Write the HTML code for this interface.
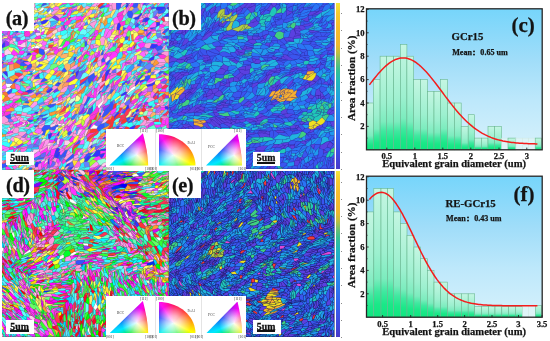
<!DOCTYPE html><html><head><meta charset="utf-8"><style>
html,body{margin:0;padding:0;background:#fff}
body{width:550px;height:341px;position:relative;overflow:hidden}
.lab{position:absolute;background:#fff;font-family:"Liberation Serif",serif;font-weight:bold;color:#111;line-height:1;-webkit-text-stroke:0.3px #111}
</style></head><body>
<svg style="position:absolute;left:2px;top:3px;filter:blur(0.35px)" width="167" height="167" viewBox="0 0 334 334" preserveAspectRatio="none">
<rect width="334" height="334" fill="#707070"/>
<g stroke-width="0.6" stroke-linejoin="round">
<path fill="#6680ff" stroke="#6680ff" d="M189 282l-1-1-6 2-2 6 6-2 3-3zM97 295l-1 0-6 11 6-3zM272 33l-5 1-2 7 5-3zM123 308l-6 7 0 2 2 1 5-8zM155 128l-4 0-5 4-1 2 1 1 8-4zM333 0l-8 5 0 2 2 3 2 0 3-3zM10 124l-2-1-5 0-3 7 7-2zM161 311l-6-1-3 6 4-1zM85 199l-3-1-11 5 4 2 8-3zM124 182l-4 2 0 4 4-4zM294 17l-1 0-1 4 3-2zM85 329l-2 0-4 4 6 0zM157 301l0 2 4 0 1-1 0-2-4 0zM196 146l-5 10 6-6zM322 67l-4-1-4 3 2 1 5 0zM64 283l-1-1-7 1-4 2-2 3 0 2 10 0 2-2zM153 132l-6 3-2 4 2 0 6-5zM67 60l-3-2-3 1-7 8 1 1 4-3 7-3zM317 60l-8 1-1 3 4 6 7-6zM96 9l-2 1-5 6 3 3 7-8zM275 223l-3-2-2 3zM325 71l-2-1-4 1 1 1zM304 3l-2 0-3 2-2 3 2 1 4-2zM271 9l-6 1-5 5 0 2 3 5 11-8zM272 150l-1-1-3 4 3 0zM308 56l1 2 8-2 0-1-8 0zM156 248l-1 1-6 0-2 3 0 2 2 2 4-2zM248 247l-3 0-5 4 3 2zM151 15l-2-2-8 2-3 7 5-5 5-2zM263 222l-3 3 1 0zM108 188l-5 3-2 8 2-1 4-5 2-4zM79 177l-6 0-6 3 0 1 5-2 4 0zM284 128l-1 0-6 7 6 0 3-3zM7 155l1 5 2 1 12 0 1-1-1-2-6-5-2-4zM274 64l1 2 3 1 7-1-4-2zM262 276l9 1 2-3-2-1-5 0zM248 281l-1-1-8 0-2 3-6 5 16-1 1-1zM207 134l-5 2-3 0-3 3 1 3 4-2 5-4zM82 210l-5 3 1 5zM170 317l-1 1-5 0 0 3 3 8 1-1 7-1-1-7zM38 187l-1 3 4 5 4 0 3-4-1-1zM73 232l-5 5-3 1 0 2 5-1 3-4zM290 91l-6-3-6 3 0 3 1 2 2 0 4-2 4 0zM75 272l-5 4-1 3-3 3 6 2 1-1zM323 80l-3 1-2 4 3 2 6-3 0-1zM71 263l-1 1-3 0-6 4 7-2zM301 139l-2 0-2 5 5-1zM218 173l-1 0-3 4-4 8 0 3 6-7 0-4zM303 125l-5-3-5 0-7 4-1 3 5 4 4 0 6-5 3-1zM219 321l-3 3 4 0zM247 294l7 2 5 3 6 0 3-2-5-5-15 1zM13 232l0 5 1 1 8-1 0-2-4-3zM74 233l6-3 0-2-5 0zM311 15l-2-1-6 4-1 11 2-1 8-10zM263 2l4-2-4 0zM63 312l-3 1-2 3 2 0zM236 275l-4 2 0 3 2 4 1 0 3-4 0-2zM325 96l-6-3-7 3 0 3 6 1 5-3 2 0zM79 139l3 0 0-1zM234 295l1 6 6 2 3-1 1-2-1-6zM297 118l-5 2 1 1 4 0z"/>
<path fill="#ffe666" stroke="#ffe666" d="M258 101l-4 7-6 7 4-2zM243 68l-2-2-7 6 9-3zM145 232l-5 3 2 3 4-5zM67 73l-3-2-3 1-2 2-1 4 7 0 2-2zM159 233l-4 0-1-1-1 3-4 4-5 3 4 3 8-3 3-4zM222 97l-6 0-8 3 2 1 2-2zM255 84l-3 3-9 4-1 3 4-2 4 0 4-4 0-3zM106 62l-3 1-5 5 0 3 2 0 3-2 3-4zM266 185l-5 5-2 6 8-5-1-1zM211 82l-1 0-3 4-1 4 5-3 1-2zM134 196l-5 3-3 7 2 0zM114 42l-3-2-2 3 0 2 5-2zM115 12l6 1 10-4-9-1-7 3zM121 254l-1 0-2 6-4 5 4-1 5-5 1-2zM302 2l3 0 2-2-4 0zM125 329l-3-3-4 5 0 2 6-1zM184 28l-2 1-5 0 0 1 3 0zM146 140l-2 1-1 3 2 0 0-3zM120 65l-3 0-1-1-5 2 4 6 2-1zM104 97l-6 2 0 1 5 0zM129 220l-3-1-2 2-10 4-5 5 2 1 4-4 8-2zM102 3l-10 3 1 1 4 0zM77 117l3 0 10 4 3-1 0-3-4-3-4 0zM24 299l-1-1-4 2-3 0-2 6 2 1 3-2zM77 220l-7 2 4 3 3-2zM190 137l-5 1 0 5 1 2 2 0 2-2zM208 71l-2 4-2 10 3 0 3-4 0-4zM136 25l-2 1-2 3 5-1zM218 182l-2 0-6 7 2 4 5-2zM228 13l-7 2-4 8 0 6 2 0zM195 36l-2 2-1 5 4-3 0-3zM189 120l-5 7 2 5 6-5zM159 4l-7 2-2 4 0 3 1 1 4-3 2-5zM75 207l0 4 1 1 5-3-2-2zM114 115l-5 5 3 5 4-7z"/>
<path fill="#66ffff" stroke="#66ffff" d="M205 51l-4 3-2 4 0 2-2 3 1 1 0 3 5-1 2-10 1-1 0-3zM300 13l-3 2-1 3 1 3 3-2zM88 103l-1 0-1 5-3 4 2 1 3 0 2-2 0-6zM259 232l-2-1-5 6zM48 247l-4 0-1 1-4 0-6 2 1 1 10 0 3-2zM311 181l-2 1 0 3 1 0zM24 134l-9 2-4 2 1 11 13-6 1-6zM268 150l-4 3 2 0zM104 235l-7 1-11 6 0 2 10 0zM6 203l-3-3-3 1 0 5 4 0zM302 61l-3 0-5 10 4-3zM56 251l5 7 4-1 1-5-7-3zM102 76l-9 1-3 2 0 3 13-4zM143 52l-4 0-9 3 1 1 2-1 6 0 3-1zM2 253l5 2 3 3 3-1-1-1 0-3-2-2-3 0zM270 82l-2 10 3 0 5-2zM98 184l-2-1-2 3 4 0zM197 128l-1-1-7 3-3 4 0 3 5-1zM44 230l-1 4 5 0 1 1 2-1-4-5zM0 27l5-1-4 0zM38 226l1 3 6 0 3-2-2-1zM0 44l7-1-7 0zM260 30l-3 7 7 5 2-9zM67 190l-6 1-2 2 0 3 4 0zM23 78l6 7 2-1 0-6-1-1-5 0zM13 1l4 5 2 0 2-2zM6 155l-6 1 0 2zM116 58l-4 0-5 4 0 4 8-2 1-1zM311 133l5 0 3-2-5-1-3 2zM257 258l-6 1-7 7 6 0 7-3zM80 268l-3-2-5 4 1 1 3 0zM94 180l-2 0-8 6 7-2zM34 302l-3-3-2 0-1 5-8 6 3 1 9-4 2-3zM103 178l-5 5 1 2 1 0 4-5zM244 222l-5-2-3 5zM313 311l1 2 6 0 0-3-5 0zM187 296l-10 9 2 1 2-1zM105 0l-1 0-1 2zM168 54l-6-2-3 2-3 4 0 2-2 3 9 0 3 1 4-5zM282 128l-4-1-6 4-3 3 2 4 3-1zM330 73l0 4 3 2 0-6zM265 173l-7 4-7 6 1 1 4-1 9-8zM246 307l-3-3-4-1-4 5-5 2-3 0 17 0zM161 118l-3 1-1 5-2 3 1 1zM173 143l-6-4-5 2-5 10 0 3 7-3 5-4 2 0zM277 323l-4 4-3 1 0 4 5-3zM220 52l-3-3-6 2 2 0 3 2zM208 287l-3-1-3 3-8 4 1 1 3-2 6-1zM49 312l-2-2-2 0-4 2 2 4 1 0zM33 291l-5 3-3 4 4 0zM237 230l-3 0-5 2-5 5 2 2 7-2 2-5zM133 97l-2-2-5 0-2 1-3 6 4-2 7 0zM292 271l0 1 6 3zM94 221l-4 3-6 3-2 0-1 3 8-1 6-3zM257 63l-1 3 0 9 3 0-1-11zM93 34l0 1 2 1 14-1-9-5zM35 237l-1-2-2 0-3 2-5 1-2 4 12-3zM25 211l0 4 2 0 3 2 9 0 1-1 0-7-1-1-9 0zM84 13l1 2 2 1 5-5-7-1zM282 46l-3 1-4 5 2 0zM78 64l9 5 2-3-1-3zM131 61l-1-1-4 4-4 1-3 3-1 3 8 1 3-2 2-4zM297 319l17 2-1-2-5 0-1-1zM281 280l1-1 7-1-2-2-4-1zM178 92l-1-1-5 4 0 1 2 0zM33 258l3-1 12 0-7-5-6 0zM266 176l-5 3-5 5-1 2 1 3 4-7zM318 34l-2 4 0 4 3 0 3-4 0-1zM0 242l0 2 3 1 13 0 0-1-9 0zM278 246l-4 2-4 5 7-2zM286 4l-5 2 0 3-1 1 0 3 1 1 3 0 4-6 0-2zM94 330l-7 3 6 0zM0 296l0 4 6-2 0-1zM212 70l-1 1 1 5 3 1 1-4-2-3zM323 75l-1 1 0 3 3 1 2-2-2-3zM152 227l-3 4 0 5-1 2 1 0 4-5zM0 153l0 2 7-1zM66 172l-4 1-1 2 1-1 3 0zM268 309l4 3 2 0 5-3-3-1zM271 148l-2 1 0 1zM217 73l-1 5 2 1 2-1 1-3zM158 103l-8 4 0 2zM143 286l-10 8 1 0 4 5 2 0 0-9zM247 125l-2 1-5 9 6-2 0-2 2-3zM143 142l-6 1 0 2-3 6 7-5zM89 266l-7 5 5 0zM14 195l-10 3 0 1 8 0zM247 184l-8 2-5 10 5-2 6-6zM148 60l-5 11 5-1 4-6 0-1zM0 36l0 6 8 0 1-3zM264 123l6 1 1-2zM157 76l-5 2-3 0 0 1 3 2 3-2zM286 246l-1 1 0 3 3-1zM24 106l-5-3-9 1-2 3 0 5-1 1 1 1 9-1 3-2zM14 124l-2 0-3 3-1 9 2 1 4-1zM239 272l10 2 0-1-3-1zM192 38l-4 3-3 7 0 3 1 0 4-5 2-5zM115 151l-7 1-2 2 0 3 7-3zM39 133l-4-3-7 1-4 2 2 3 10-1zM43 204l-5-1-7 4 9 0zM295 45l-3-3-7 5 1 1 7 0 2-1zM329 86l-3 4 2 2 4 1-3-5zM188 15l-1 0 0 2-2 3 1 2 3-4zM0 306l0 3 1-1zM154 50l-7 0-2 1-2 3 3 3 5-3zM330 250l-3 0-3 2-2 3 0 2 3 2 3-1 3-3 0-4zM297 285l-2 2 0 3 1 1 4-2zM314 45l-5 3-2 4 1 3 5-3 2-4zM60 211l-4-3-8 1-5 2-2 2 0 3-1 1 4 2 5 0 1 1 3-3 5-2zM170 272l-5 1 0 7-1 2 3-4 2-1zM278 207l-2 0-5 5 3 0zM283 189l-7 4 0 3 3 0zM268 204l-6 2-6 5 4 2zM84 171l-6-1-5 4 1 2 7 0zM149 246l-2-1-3 3-4 8 0 2 2 0 3-3 2-5 2-2zM25 32l-3 0-5 7 3 2 6-1zM34 52l-1 1 0 6 4 0 1 1 0-7-3 0zM47 296l-5 2 2 2 2 5 5-3 0-3zM333 14l-4-3-1 3-5 6 9 0zM302 19l-5 3-3 6 0 2 3 1 4-2zM308 65l-2 0-6 5-3 1 0 1 4 2 4 0 6-3zM52 2l-6 4-2 3 5-3zM254 76l-3-2-5 1-4 5 1 3 5-2zM79 234l-6 2-3 4 5-1zM72 19l-3 1-11 9 12-2 3-4zM196 257l-2 0-1 3-4 4-4 2-2 4 8 0 2-1 4-5zM21 16l-5-3-5 7 4 0zM64 40l-2 0-8 7 3-1zM175 278l-3-2-4 2-3 4 0 2-4 7 3 1 6-1 5-11zM197 272l-6 2-2 5 1 3zM67 272l-1 1-8 1 1 7 3 0zM1 48l-1 0 0 1zM309 264l5 0-1-2-3 0zM291 277l4 0 1 1 1 0-1 0-1-1zM77 65l2 6 5 0 2-1zM46 67l-2-1-7 4 0 4 6 0 3-2zM283 15l-4-1-1 1 0 5 2 0 3-3zM64 80l0 2 3 2 1-3zM11 273l-4-2-7 5 0 2 1-1 9 0 1 1zM324 148l-15 4-1 2 9 0 5-3zM48 325l-9 1-4 3-1 2 3 0zM27 21l-6-1-3 5 0 4 2 1 4-4zM48 229l2 2 2 0 6-3-10 0zM1 158l-1 1 1 0 1-1zM67 6l10-6-9 0-2 2zM257 313l9 6 4 0-6-7-6 0zM184 171l-4 6-1 5 4-4zM331 56l2 1 0-2zM169 204l-4 2 0 4 1 1-1 3 2-3zM69 223l3 3 1-1zM245 26l-1 0-3 8-3 3 6-1 4-3-3-5zM14 21l-5 2 0 1zM317 57l-8 2 0 1 8-1z"/>
<path fill="#ffb266" stroke="#ffb266" d="M41 165l5 5 1 0 2-3-1-1zM125 139l-3 0-6 6 2 0zM125 95l-5-1-8 5-3 5 4 2 4 0 6-10zM236 79l-5 3 0 5-1 2 7-8zM198 40l-6 4-6 8 2 2 3 0 1 1 2-1zM166 173l-7 7 2-1zM67 120l-7 2 0 5 8 1zM306 114l-6 1-2 2 0 4 3 1 3-3zM77 167l-10 6 0 1 4 0 6-4zM8 128l-6 3-2 0 0 5 1 1 6-1zM119 14l-4-1-11 10 15-5zM236 202l-5-2-2 3 0 3 2-2 5-1zM307 220l-5-2-5 6 0 4 3 0 7-5zM264 10l-4-3-4 3-2 5 5 0zM125 159l-4 0-6 5-4 6 3 5 2 0 3-2 2-5 0-3zM57 132l7 1 4-4-8-1zM132 101l-10 1-6 5 2 3 8 0 5-3zM226 173l-4 3-3 5-1 10-1 1 1 0 8-12zM40 202l4 2 7 0 1-3-8-1zM126 178l-1 1-8 0-7 6-1 3 3 1 4-4 8-4zM280 289l-2-3-2 1-7 0-1 1 5 2 6 0zM159 201l-12 2-3 3 2 3 6 0zM290 277l0-4-1 1-4 0 0 1 2 0zM217 22l-8 4-2 0-1 2 4 3 6-2 0-6zM217 304l-3-2-9 8 3 1zM3 121l0 1 5 0 1 1-2-2zM52 137l-1 1-8 0-2 3 1 3 3 2 5-4zM124 205l-5 3 0 7 5-7zM333 106l-4 1-4 4 0 2 4 6 4 0zM276 1l-3 1-2 6 4 6 3 0 1-3-3-4zM312 171l-4-1-5 3-2 3 3 3 3 1 6-7zM157 87l-4 1-5 3-2 3-1 5 1-1 4 0 1-3zM277 127l-8 0-4 2-6 7 1 1 6-3 2 0 4-4zM178 32l-2 1 1 4 3-3 0-1zM284 143l-5 7 7-4zM305 127l-6 3-1 8 2 0 4-4 2-5zM33 284l-4-3-6 5 8 0 2-1zM328 259l1 1 0 5 1 2 3 1 0-8-1-1zM6 156l-6 4 0 7 7-6zM230 54l-1 1 1 2 0 7 3 0 0-9zM145 101l4 1 1-3-4 0zM312 192l1 1 0 6 2 1 3-4zM260 325l9 3 4-2 3-4-2-2-7 0-5 5zM171 246l-6 6 4-2zM51 31l0 3 1 1-1 4 7-1 4-3 0-1-9-4zM87 180l-1 1-6 0 7 0 1-1 2 0zM275 137l2 2 4-3-5 0zM149 41l-1 0-5 6 1 3 2-1 0-2zM0 176l6-3-6-1zM133 121l-3 0-4 2-1 2 0 4 5 7 3-1 3-3 0-9zM306 310l-2-1-5 3 5 2 2-1zM136 143l-6 1-6 7-3 7 6 0 6-7 3-6zM158 180l-8 4 3 1 4 4 2-7z"/>
<path fill="#66e5ff" stroke="#66e5ff" d="M333 173l-5 4 0 1 5-1zM251 266l0 2 2 3 7 3 0-4 1-1 0-4-1-1-4 0zM208 254l-8-2-4 4 2 6 5-3zM162 19l-9 1-4 4 0 2 2 1 7-2zM161 222l-7 2-1 4 1 1 7-5zM169 51l3-1 10 0-8-7-4 5zM144 40l-2 1-4 6 2-1zM29 217l-2-1-7 1-3 5 2 1 9-3zM220 16l-6 1-5 3-2 0-2 2-1 4 5-1 8-4zM11 115l-3 0-1-1-2 1-2 3 6-1zM247 173l-10 11 10-7zM263 229l-3-1-3 1 0 1 4 1 2-1zM51 100l-5-1-4 4 2 4 3 0 2-2zM236 323l-1-1-3 5-4 3 5-2 3-3zM100 233l-1 2 2 0zM278 324l-3 6 2 0 3-2zM304 113l4 0 3-2 5-1-4-4-6 0zM242 167l-3 7-5 5 3 4 5-5 1-3 0-6zM117 247l-1 1-1 0-2 2 1 0 1-1 1 0 2-2zM158 89l-1 0-5 6-1 4 3 0 2-2 0-4zM30 22l-2 0-7 8 1 1 5 0 2-1 2-3zM216 332l11-1-6-1zM67 63l-2 0-9 5 1 3 3 1 5-2 4-3zM97 72l-3 1-3 4 5-1 0-3zM65 9l-2 1-6 0-3 9 7-4zM86 17l-2-3 0 1-6 5 6-1zM333 166l-4 4-1 6 5-4zM187 74l-7 1-3 8 9-2zM6 46l10 2-4-5-3 0zM325 2l2-2-3 0zM254 42l-5 2-4 0-2 2 0 2 6 2 4-5zM292 295l-4 0-4 2-3 0 0 1 8 0 3-1zM333 323l-4 0-6 2-3 5 0 2 5-1 8-5zM196 182l-2 0-5 6 0 7 3-1 5-5 0-6zM248 116l-2-2-7 1-3 3-2 5 3 0zM118 203l-5 2-1 3 6 1zM169 86l-4 3-4 8 6-3 1-2 0-5zM89 83l-2 2 0 3 5 1 1-6zM320 23l-8 7 0 2 1-1 5 0 3-3zM178 170l-6 3-5 9zM180 4l5-4-5 0zM307 226l0 6 3 0 6-3-2-5-6 0zM270 238l-3-1-3 1-2 2 1 5 1 0zM109 66l-1 1 0 3 5 1-2-4zM48 89l-5 1-6 5 6 0zM137 61l-5 4-2 5 6-5zM195 34l-1-1-4 1 0 4 3-1zM251 315l2 2 12 2-9-6zM214 166l-8 11 1 0 7-9zM122 149l-7 4-3 4 8-4 2-2zM0 246l0 7 8-3zM222 252l-2 0-5 3 2 0zM213 9l2 2 1 0-2-2zM274 0l-1 0 0 1zM322 224l-2-1-4 1 1 5 2-3zM124 276l-2 2-2 5-5 5-3 1 1 1 3 0 7-5 1-2zM51 6l3 1 5-4-6-1-2 2zM233 14l-2-1-3 1-3 7-5 7 1 3 2 0 6-4 1-4 3-5zM244 190l-3 3-4 9 6-3 1-2zM165 73l-3-1-3 1-2 4 2 6 3-3zM19 116l-2-2-5 1-1 2 3 1zM21 287l4 3 2 0 2-2 0-1zM278 233l-2 2 1 6 1 0 4-5 0-1zM73 241l-3 0-1-1-1 1-3 0-2 4 9-1zM280 316l7-1 5-2-10-3zM94 3l-4 0-10 4 0 1 4 1 6-2 3-2zM284 48l-1-1-6 6 6 1 1-1zM289 299l6 3 3 0-4-4-4 0zM264 103l-3-2-2 0-6 12-4 3 9-5 7-6zM175 67l-9 5 6-1zM142 115l-2 2-6 3-2 0 3 2 2 0 5-4zM249 3l-1-1-9 7 3 1 3-2zM34 332l-2-3-7 4 8 0zM242 166l1 1 7-3-6-1zM161 304l-4 0-1-1-4 6 4 0zM166 160l-8 5 1 3-1 6 7-9zM270 98l-4 0-4 3 1 1 3 0zM262 265l0 2 4 3 2-2zM303 212l-2 5 5 1 2-6zM274 191l-6 12 7-6 0-5zM111 39l-15 10 8-3 4-3zM1 139l-1 4 3 5 5 5 3-3 0-2zM232 271l-6 0-4 5 5-1zM330 225l0 1 3 2 0-4zM201 40l-2 0-4 13 9-3 1-4zM248 166l-5 2 1 1 0 6-1 2 4-5zM146 197l-5 5-3 7 3-1 6-6zM7 270l8 3 6-6-9-1-1 1-3 0zM172 83l-2 1-2 10 2 0 4-6 0-3zM71 28l2 1 9-5-9 0zM276 163l-8 6-3 7 9-5 2-4zM297 303l-6-1-8 7 0 1 7 1zM309 254l4 6 3-2-3-4zM244 333l6 0 1-1 9-1 0-5-12-3-2 3zM44 62l-5-1-6 3-2 2 0 2 6 1 7-4zM20 8l-3-1-2 1-3 4 4 0zM169 0l-4 0-5 3 0 2 3 4 2 0 4-3zM333 130l-3-1-4 3-9 3 0 1 6 0 1 1 1-1 3 0 5-3zM308 12l-1-1-5 1-1 1 0 5 7-4zM285 246l-1-1-5 1 0 3-1 1 6-2zM115 133l-2-2-3 4 4 0zM168 53l2 3 0 2 2 1 9-8-9 0zM31 260l-1 1-5 0-7 4-2 0 8 2 3-2 6-1zM291 284l2 1 3 0 1-1-3-3-2 0zM319 65l2 1 6 0-1-2-6 0zM106 153l-3 0-1 1-1 6 4-3 0-3zM291 251l1 4 9 0-8-5zM294 109l-2 1-10 0-3 2 2 1 12 1zM141 95l-4 2 2 0zM5 47l2 3 6 3 3 0 1-1-1-3-7-2z"/>
<path fill="#ffee99" stroke="#ffee99" d="M228 65l-2-2-4 0-3 1-3 3 2 1 7 0zM194 88l-4 3-3 7 3 0 1 1 2-4 0-6zM264 145l-3 0-3 3-4 7 2-3zM199 93l-3 6 1 1 0 4 2-6 2-2zM191 6l-4 1-3 3-1 3 4-2zM257 300l-5 1-5 6 4-3 4-1zM95 94l-2 0-7 5 0 3zM270 197l-6 5 0 2 4-2 0-2zM184 128l-2 0-3 8-4 5 7-6 2-3z"/>
<path fill="#ff99dd" stroke="#ff99dd" d="M320 42l6 2 7-7-8 0-2 1zM179 75l-4 0-3 5 0 2 3 3zM325 54l-7 1 0 5 2 0zM0 195l0 5 2 0 1-2-1-2zM245 201l-2-1-5 2-3 6 1 1 5 0 5-4zM203 104l-6 1-4 4-2 7 8-3 4-6zM329 129l-1-1-3 0-9 6 5-1zM142 259l-2 0-7 9 6-2 3-3zM44 146l-3-2-7 4-2 4 8-1 2-1zM132 166l-7 2-8 7 0 3 8 0 4-3zM106 309l-4 4-1 3 1 0 0-2 5-4zM319 221l-3-1-1 4zM203 67l-4 1-3 4 0 3 2 3 0 6 5 0 1-2 1-7 2-4zM319 50l-6 4 2 0zM271 278l-2 0-4 3 3 1zM82 257l-2-1-4 5-3 1-3 3 3 0 7-3 2-3zM107 24l0 1 4 2 4 4 7-6 0-2-11 0-1 1zM44 245l-7-1-7 4 5 1 4-2 4 0zM73 250l-3-2-3 1 0 5 3-3zM17 243l-4-5-11 4zM169 185l-3 0-2 2-4 15 3 1 3-3 5-12zM81 152l-10 3-4 3 10 0zM5 226l-2 0-3 2 0 13 3 0 9-4 0-5zM181 290l-7 4-1 3 1 1zM166 9l1 3 4 0 6-4-7-2zM58 79l-2 1-5 9 7-3 1-2zM211 327l5 0 4-2-6 0zM80 137l-2-2-3 0-2 3 0 2 4 0zM209 71l2 8 1-2-1-1 0-3-1-2zM150 265l-3-4-1 1-3 0-2 4 5 2zM276 273l8 1 1-1 4 0 2-2-4-2-4 0zM24 261l-1-1-5 0-5 2-4 0-2 4 8-1zM222 0l-2 3 1 9 1 1 4 0 2-1 0-12zM28 63l0 2 3 0 1-1zM85 242l-7 3-3 0-2 4 6 2 6-7zM232 317l-8 7-3 1 5-1zM276 43l3 0 7-4-7 0zM39 220l0 5 7 0 1 1 3-3-1-3-5 0-4-2zM45 251l8 1 3-2-3-2-4 0zM183 179l-3 3 0 1 3 2zM91 285l-2 0-8 6-5 2-1 3 2 2 8-5 6-5zM177 288l-6 4 1 3 5-4zM63 146l-3 2-2 4 0 3 2 2 5-7 0-3zM302 0l-6 0-5 4 8-2zM231 42l-6 1 0 11 4 0 0-5zM264 222l-2 3 1 1 2-3zM146 254l-3 4 0 3 3 0 2-2 0-3zM107 87l3 2 3-1-1-2zM66 4l-1-2-5 1-7 6 10 0 3-1zM102 62l-3-3-9 6-2 4 8-1 2-1zM107 103l-14 2-2 1 0 5zM205 265l-4 3 0 2 3-2zM213 77l-2 4 3-3zM267 144l0 3 4-1 0-2zM31 249l-4 0-5 7 0 3 2 1 6 0 2-1 2-7zM122 202l-3 1 3 0zM291 253l-1-2-3 2-2 0-2 2 5 0 2 1zM229 252l-1-1-6 5 5 0zM333 327l-11 6 7 0 4-4zM270 138l-7 6 5-1 2-3zM318 161l3 6 6-5zM100 170l2 3 7-2 3-4-8-2zM217 5l-3 3 3 3 3 1-1-7zM324 193l-2 0-6 7 0 4 6-5zM328 119l-13 1-3 3-6 3 18-3 4-3zM27 227l-5 0-2 1-2 3 2 2 3 0 4-4zM151 272l-3 6 4-3zM324 124l-18 3 1 1 6 0 2 1 9-4zM249 168l-1 1 0 8 3 1 1-5zM287 81l-2 4 0 3 5 2 5 0 4-9-3-1zM61 316l3 1 3-1 0-1-4-1zM151 173l-10 4-4 3 0 1 7-2 6-4zM40 11l-2 0-5 5 2 2 4-1 2-5zM194 10l-3 6 4-2 1-2zM122 287l-2 2-5 2 1 2 2-1zM111 234l-1 5-3 5 2 0 5-3 1-4zM37 227l-6 4 1 3 2 0 4-5zM198 178l-3 3 1 0zM190 5l2 0 4-4 3-1-7 0-2 3zM132 247l-6 4-1 5 4-4zM110 232l-3-1-2 5-6 6 8-3 3-3zM108 310l-5 4 0 2 4 2 3-7zM319 100l1 2 2 0 7 4 4-1 0-8-7 0zM37 185l-10 0-5 4-5 2 5 0 1 1 12-1 2-3zM297 183l-10 5 1 1 8 0 2-1-1-1zM219 131l-1 0-4 9 4 0 3-5-2-2zM34 314l-5 1-1 2-1 8 4 4 8-11zM333 221l-1 0-2 3 3-1zM83 75l-2-1-8 5 2 2 4 0zM174 32l-1 1 2 0 1-1zM207 156l-3 0-3 2-2 0-5 4 3 6 0-1 9-8zM139 235l-1 0-5 6-1 5 2 0 7-6 0-2zM107 172l-6 2-5 4-1 2 4-1zM181 164l-7 4-1 3 6-2 3-3zM217 168l-2 0-7 9zM55 135l7 0 1-1-6-1zM262 156l-7 4 0 1 5-1zM305 193l-4-4-4 0-3 1-6 7 6 2 6-4 5-1zM289 235l-1-1-3 0-3 4-7 6 2 1 8-1 3-4zM278 228l0 4 5 3 2-2-3-6zM298 278l-2 4 1 1 3 0 1-3zM264 152l-1-1-3 1-3 3-1 4 5-3zM130 185l-4 2-4 4-1 4 7-6zM224 42l-8 4-2 3 5-1 5-4zM114 73l-5 3-5 1 0 6 5-2 3-3 0-2zM39 237l5 3 5-4-1-1-6 0zM49 273l-3 0-4 2 0 4 8-4zM23 109l3 2 5-1-2-5-3 0zM72 329l-2-1-3 1-2 4 8 0zM47 174l1 2 6-3 1-2-7-1-1 1zM297 262l-5-3-1 6-3 4 5-3zM311 21l-3 4 4 2 0-2 2-3zM119 46l-9 5 2 6 4 0 1-1zM298 229l0 2 8 2-1-2-3 0zM262 121l-2-1-1 1-8 1-4 2 2 1 4-2 8-1zM219 160l-4 4 0 3 3 0zM13 66l-3-2-5 2-4 0 1 1 8 0zM333 294l-2 1-6 0-1 2 9 0zM325 53l-2-4-2 0-5 5zM289 225l2 3 5-1 0-2zM53 1l8 1 1-2-9 0zM136 181l-5 4-2 3 1 2 6-4 0-3 1-1zM284 333l-3-4-11 4zM212 180l-6 4-2 10 5-6 0-3zM265 106l-4 3-1 4-4 6 4 0 1 1 1-1 0-4zM248 0l-8 0-2 4 0 5 5-5 4-2zM217 80l-4 3-1 6 1 1 3-5zM181 83l3 3 4-2 3 0-4-2zM198 190l-6 5-3 1-1 3 0 8 3-1 9-10zM293 295l0 2 6 4 1-2-2-4zM279 291l2 2 6 0-2-3-3-1zM248 11l-4 4 0 2-3 5 2 3 2 0 4-5 0-7zM32 260l2 4 4 2 3 0 7-6 0-2-12 0zM95 309l-3 2-2 0-3 4 3-1zM275 157l-4 6 5-2zM113 284l-4-1-5 3-4 4-1 3 12-4zM283 299l0 1 9 1-4-2zM108 317l-1 6-4 4 8-1 1-4zM85 94l3-2 5-1-6-2zM316 218l-3 2-5 1 0 2 6 0zM162 37l-3 1-2 5 3 2 4-6 0-1zM25 111l-3 3-1 3 3-3zM213 17l7-2 1-2-7-2 0 5zM318 0l-4 0-3 4 0 2zM5 315l-5 0 0 5zM204 216l-2 0-4 6 0 5 2-1 4-8zM307 278l1 3 2 0 3-2-5 0zM123 249l-3 3 4 4 1-6zM320 92l10 1-2 0-4-3-2 0zM141 300l-3 0-9 5-5 6 4 3 13-12zM321 21l-6 1-3 6zM147 215l-7 5 0 7 4-3zM18 81l9 3-5-5zM281 328l2 1 2-3 4-3-8 0-2 1zM181 14l-5 0-6 7-2 4 4 1 5-3 3-5zM310 266l-2-2-3 4 3-2zM195 86l-2-1-8 1-2 3 0 2 1-1 7-1zM170 95l-4 0-4 2-2 3-1 5 1 0 6-7 4-2zM0 137l0 3 1-2zM216 328l0 1 8 0-5-2zM266 313l5 6 5 0 1-1-4-5zM82 47l-2-4-5 2 1 2zM311 134l-1-1-5 1-4 4 5-1zM187 293l-3 0-6 6 4 0 6-4zM283 19l-2 1-1 4 1 0 3-4zM98 134l-2-2-2 0-5 3-2 0 0 3 5 3 2-1zM189 35l-14 7 8 8 1 0 1-5 4-6zM145 328l-1-1-5 6 5 0zM240 279l7 0 2 1 7-3-7-2-4 0zM70 34l-3 0 0 5 4-2zM292 97l-6 1 2 6-1 1 6-5zM87 204l-5-1-6 2 0 1 11-1zM114 12l-10 3-5 5 0 3 4 0 9-8zM0 179l0 3 1 0 0-3zM333 38l-6 6 0 2 6 0zM50 268l-3 2 1 2 2-2zM48 226l1 1 10 0 1-1-3-3-6 0zM20 73l-4 3-1 7 7-5 0-2zM94 333l9-1-1-3-4 0-2 1z"/>
<path fill="#ff9933" stroke="#ff9933" d="M153 209l-5 6 0 2-3 6 3-2zM97 68l-5 2-5 0 9 2 1-1zM68 184l-2-3-10 6 5 3 2 0 5-2zM308 164l-3-1-3 2 0 8 6-4 2-3zM227 263l-2-2-4 0-4 3-2 5 6 0zM40 112l2 2 9 2-1-3zM126 216l-11 4-1 1 1 3 9-4 2-2zM183 267l-10 8 0 1 3 2 2-1zM193 218l-3 5-1 10 5-11 0-3zM175 11l-4 2 2 4 3-4zM201 29l-5 4 1 6 3-1zM73 175l-1-1-2 1-2 4 4-2zM107 278l-2-2-3 4 3 0zM172 110l-5 3-5 1-2 3 4 0 7-5zM248 105l-2-1-1-2-2 0-4 8 9-3zM141 10l-3 0-5 2 1 1 5-3zM220 225l-6 6 1 2 2 0 3-6zM309 114l-2 0-2 5-3 3 2 4 10-6zM208 260l-3-1-3 1-4 3-2 4 5 0 3-2zM102 191l-7 6-2 7 7-5zM218 216l-1 0-6 7-9 6 1 5 12-11zM310 0l-2 0-3 3-1 3 3-2zM210 3l3-1 1-2-4 0zM0 264l0 4 2 0 1-1 3 0 1-4-5 0zM203 51l-7 2-3 3 0 4 6-3 1-3zM93 170l-7 0-4 6 6 0zM24 211l-6-2-5 3-4 1-2 4 15-1 2-1zM89 103l3 2 5-2 6 0 2-1-1-1-11-1zM209 31l-3 6 0 2-2 2 0 2 2 3 4-4 1-3-1-2 0-5zM118 211l-5 5-3 1-3 5 3 0 4-2 4-4zM58 194l-3 0-4 2 4 2 3-1zM312 180l13 0 2-2-12 0zM176 85l-5 10 6-5-1-1zM16 148l10 4 6-1 1-2-1-2-6-3-2 0-2 2zM307 37l1 1 7 0-4-3-2 0zM216 242l-1 2-4 3-9 4 1 1 7 1 5-7zM158 291l-8 0-3 3-1 5 1-3 3-3 8-1zM278 113l2 3 13-1zM325 181l4 3 4 1 0-7-6 1zM249 281l0 5 11-2-1-2-8-1-1-1zM26 180l2 4 9 0 1-2-5-2-2-2-2 0zM50 125l-1 1-4 0-2 5 5-2 2-2zM332 153l-4 8 5-1 0-6zM164 177l-4 3 0 1 2-1zM109 217l-2-1-8 3-3 0-1 1 0 4 1 1 5 0 4-2zM234 74l-4 3-2 3 6-1 1-1zM158 118l-2 0-4 3 0 6 3-1zM79 183l-5-1-5 4 0 2 9 0zM175 235l-1 5-3 5 1 2 3-2zM225 270l-3-1-5 4-3 1 2 2 5 0zM8 120l0 1 3 2 0-3z"/>
<path fill="#33ffff" stroke="#33ffff" d="M185 31l-1-1-3 2 0 2 3-1zM266 45l-2-2-5 7 3 1 4-1zM5 20l-1-1-1 1-3 0 0 4 3-1zM12 327l7 5 4 0-4-5zM132 64l5-4-6-1zM311 268l-3-1-2 1-2 3 3 1 3-2zM206 86l-3 0-3 5 1 3 2 0 2-2zM156 79l-10 7 1 5 4-3 6-2 1-3zM83 24l-10 6 5-1 5-3zM302 92l-9 5 0 2 5 2zM57 39l-6 1-4 4 3 1 4-2zM188 197l-6 7 0 11-1 3 3-3 4-7-1-1 0-8zM76 165l-2-2-4 2-2 2-1 5 6-3zM299 291l6 0 3-2-7 0zM109 145l-8 0-5 6 1 3 3 0 3-2 2 0 3-3zM249 98l4 3 3 0 3-2 0-3-9 0zM274 117l-4 4 4 0zM148 79l-3 2-1 5 6-4zM42 51l-3 2 0 7 5 1 0-6 2-3zM311 270l6 0 1-2-4-1-2 1zM80 263l-9 3 5 0zM115 115l2 2 8-6-8 0zM72 267l-3-1-6 2zM133 200l-1 2 3 2 2-2zM240 122l-3 2 1 2 0 3-1 1 1 3 2-7zM128 31l-4 7 3 0 2-2zM112 190l-2-1-2 4-4 4 8-3zM142 6l-1-2-6 2-3 2 0 1zM293 190l-5 0-8 10 5-1zM76 141l-1 1 0 6 2 3 6 0 0-5-3-4zM60 248l0 1 6 2 0-2-3-3zM14 307l-2-2-5-2-3 2-3 4zM124 125l-1 3-7 5-1 2 5 0 4-6zM145 80l-2 1-6 0-1 1 1 2 6 0zM143 180l-6 3 0 3 4-2zM288 67l-2 0-3 3-1 6 1 2 3 1 1-3 4-4zM44 156l2 3 8 3 5-4-2-3-3 0-1-1zM207 93l-3 1-1 6zM25 89l10 7 1-1-6-8zM133 136l3 0 5 2 4-5-7 0zM139 220l-2 0-5 7 0 2 7 0zM304 200l-4 6 1 2 3 0 3-4zM306 37l-11-4-3 3 0 5 4 4 6-6zM228 116l-9 13 2-2 9-4zM251 238l-2 0-12 9 11-1 3-4zM289 207l0 3 2 0 1-3zM122 226l-7 2-4 5 5 3 1-6zM169 218l-7 6 3 1 4-2zM43 23l-11 3 7-1zM324 181l-6 0-4 3 0 4zM29 314l-2-1-4 1-4 7-7 5 11 0 2-1 2-4 0-4zM82 1l-4-1-5 3 7 0zM149 23l-12 1 1 4 4 0 6-3zM267 217l-1 0-2 4 1 1 3-3zM304 238l1 5 10 0 3-1 0-2-2-2zM149 169l-8 4-5 7 5-4 5-2zM51 76l0 6-1 2 2-5zM99 226l-3 0-7 6-2 4 3-2 7-2 2-2zM42 104l-2 0-5 5 4 0 1 1 3-3zM112 205l-3-1-2 1 0 8-1 3 3-3zM128 200l-4 4 1 2zM235 209l-6 5-3 5 6-2 2-3zM141 55l-2 1-6 0-2 1 0 1 2 1 5 0zM175 328l-7 1-6 4 12 0 1-1zM261 239l-4 0-5 2-3 4 0 2 6 2 5-2 2-2zM67 7l0 2 3 2 9-3-8-3zM169 124l-2 0-2 6-5 5 5-2 3-3 2-4zM22 311l-7 0-4 2-4 7 1 1 4-1 10-8zM29 221l1 2 1-1 7 0 1-4-9 0zM123 124l-4 5-5 2 3 1 5-4zM7 267l-7 2 0 6 6-4 0-3zM0 245l9 5 5-2 1-2-12 0zM266 135l-6 3-1 5 3 0zM302 1l-3 2-9 2-1 1 0 3 2 1 9-6zM233 295l-4 0-6 4-7 2 0 1 4 3 10-1 4-2zM14 201l-3-1-3 2 5 1zM303 106l-5-2-3 4 0 3zM46 146l1 1 6 0 4-2 3 0 0-1-10-1zM194 161l-5 0-3 4-1 5 5-1 2-6zM246 319l-4 0-4 2 1-1 7 0zM212 9l-6 0-1 1-2 9 3 1 3-3zM35 314l4 3 3-1-2-3zM76 213l-2-1-5 4-2 0 0 1 6 0zM54 44l-1 0 0 3zM206 275l-2-3-6 3-5 6 7-5zM57 273l4 0 5-4-6 0zM63 236l-7 3 0 2 1 1 1-1 6 0zM29 54l-7 3 1 1 3 0zM171 174l-12 9 0 6 2 3 0 2 1-1 0-4 4-5 0-2zM297 231l-2 0 0 2zM238 147l-1-1-3 3-9 5 0 1 6-1 3-2zM321 326l-7-2-4 2-6 1 0 2 1 1 6 0 1 1 7 0zM289 157l-2-1-5 3-3 4 9-1 1-1zM297 80l12-1 0-1-8-1-4 2zM42 26l-8 3-3 0-2 2 7 0zM275 36l-3 4 4 2zM324 48l0 2 2 3 5-3 2 0 0-3-7 0zM173 167l-3 0-2 2-3 9 7-6zM285 138l-4-1-3 2 1 2zM22 17l0 2 6 2 3 0 3-2-2-3-9 0zM187 110l-2-1-8 7 0 1 4 2zM116 176l-5 1-6 3-5 6 1 1 0 3 5-1 3-4 7-6zM1 110l-1 0 0 5zM321 26l2 1 7-6-8 0-1 1zM41 26l-5 0-5 2zM112 254l-2-1-4 2 0 1-5 4 7 0 4-3zM275 236l-3 0-6 9 10-2 1-1zM268 80l3 2 8-3-7-1zM138 50l-6 2-2 2 1-1 7-1zM184 190l-7 0-8 13 3 0zM57 78l-4 0-4 11 2-1zM270 272l4 2 8-5-1-1-7 0-2 1zM42 329l-8 4 5 0zM23 293l-9 1-6 4 4 2 10-2zM291 285l-1 3 4 0 1-2zM247 156l-6 0-5 2-2 2 8 0zM305 195l-9 3-4 3 0 2 3 3 5-1 3-4zM163 118l-2 1 0 2-5 8 4-3 4-5zM156 155l-5 7 0 4 4-3zM131 228l-5 2-2 2 0 6 6-6zM222 32l-3-2-5 0-3 2 0 5 1 1-1 3 6-2zM323 139l-3 1-4 5 6-4zM19 180l7-1 6-4-5-3-6 0zM128 319l-2 0-4 4 0 2 3 3 1 0 2-4zM233 179l-4 0-3 2-7 10-2 7 19-14zM130 56l-3-2-10 3 0 7 3 0 1 1 5-2 4-4zM264 146l-7 6-1 3 5-4zM310 1l0 1-6 5 4 2 2-2zM73 136l-4 0-6 3-2 2 0 2zM17 54l-1 0 1 5-2 6 5-2 3-4zM166 329l-7 2-5 0-1 2 8 0zM232 69l-7 5 0 1 2 1 5-5zM41 3l1-1 5 0 3-2 2 0-11 0zM236 204l-5 1-2 2 0 6 5-5zM83 139l-1 1-4 0 0 1 2 0 2 2 0-3zM320 172l-1-1-5 1-1 2 1 3zM62 47l-4-1-3 2-2 0 0 1 9-1zM89 1l3 1 3-2-6 0zM231 81l-3 0 0 3-1 1 1 5 1 0 1-8zM0 279l0 5 2 0 6 3 7 1 1-5-2-3-4-2-9 0zM136 5l-1-3-2-1-9 6 7 1zM176 64l-3-4-3 0-6 8 8 0 2-1zM306 291l0 1 8 7 4 0 3-2 2 0 0-1-11-7-3 0zM261 76l-6 0-3 2-3 4 6 1z"/>
<path fill="#66ff66" stroke="#66ff66" d="M218 259l6 1 3-3-6 0zM72 30l-2-2-2 1-6 0-1 1-7 0 4 1 5 3 6-1zM213 10l-1 0-1 5-3 4 5-3zM165 79l-2 0-5 6 0 3 7 0zM125 332l-2 1 2 0zM45 26l-2 0-7 6 3 0zM254 55l-3 3-2 5 0 3 5 1 3-5 0-5zM96 210l-6-4-7 3 0 3 4 2 6-1zM14 85l-12 5 1 4 2 1 5-3 4-4zM181 157l-2 0-6 9 7-6zM248 34l-1 1 0 8 6-1 2-2-4-5zM252 30l-3 2 0 1 2 1 4 5 3-8-1-1zM61 145l-6 5-2 3 1 1 3 0 0-2zM155 0l-4 0-2 5 1 1zM150 55l-3 2 0 1 6 5 3-6-3-2z"/>
<path fill="#3355ff" stroke="#3355ff" d="M225 269l1 1 6 0 1 1 10-4-11 0zM71 245l-7 1 2 2 2 0zM204 241l-6 1-7 6-1 4 3 4 2 0 5-5 5-2-1-2zM253 68l-5-1-2 2 0 5 5-1 2-3zM234 245l-5 2-1 3 1 1 4-1 2-2zM75 91l-1 1 0 8 6 4 4-1 1-1-1-8zM330 86l0 2 3 5 0-7zM107 201l-7 2-4 0-3 2-2 0 0 1 5 3 3 0 8-5zM113 246l-2-2-6 2 3 2 2 0zM88 256l-4 1-5 8 1-1 5 0zM281 254l-3-2-6 1-5 3 0 3 6 0 8-4zM223 174l-2-1-3 1-1 7 2-1zM220 197l-4 3-2 6 4 9 3-3 2-9zM332 79l-2-1-3 1-1 2 2 2 4-3zM242 55l6-4-6-2zM275 0l-1 1 1 0 1-1 1 0zM91 222l-6 2-8 0-2 1 0 2 6 0zM108 249l-3-2-3 0-4 2-3 4 11 1zM203 110l-1 0-3 4 1 5 6-2 0-3zM290 52l-1 1-4 0-1 2 1 1 4 0 1-1zM216 114l-2 0-6 6 0 3 1 1 3 0 5-9zM175 188l-3 0-1 1-2 7-5 7 0 2 2 0 3-3 2-5 5-7zM11 2l-2 1-2 3 5 4 4-3 0-1zM32 53l-1 0-4 5 5 1zM231 278l-3 0-4 4 7-2zM132 294l-6 1-2 6 0 5-1 1 1 2 3-3 2-7zM249 214l-2-1-3 1-4 6 5 1zM169 77l-3 1 0 9 1 0 3-4 0-5zM275 43l-4-2-4 4 0 4 5-1zM61 140l-9 2 1 1 7 0zM244 304l2 2 7-6-7 0zM171 210l-9 13 7-7zM233 251l-3 1-2 5-3 3 2 2 3 0 3-3zM299 12l8-2 0-1-5-1-3 2zM42 151l-3 1-4 5 6-1 0-4zM188 146l-3 0-5 5-1 5 3-1zM251 333l18 0-5 0-1-1zM137 329l-3-1-3 4 3 0zM239 0l-10 0 0 12 4 1 4-3 0-6zM177 210l-3 1-4 11 2 0zM297 145l-6 0-4 2-1 4-2 2 1 2 5 1 3-2 4-6zM145 196l-8 7 0 4 1 0 2-5zM212 254l-3 0-4 4 1 1 3 0 4-3zM299 58l-5 1-6 7 2 1 4-3zM266 256l-5 0-3 2 0 5 2 0 6-4zM319 102l-6-2-6 5 5 0zM46 199l7 1 1-2-6-1zM313 140l1 2 2 1 4-4 4-1-1-1-7 0-2 1zM84 309l-2 1-8 0-3 3 11-2 2-1zM88 1l-5 0-4 4 0 2 5-3 5-1zM326 67l1 4 6 1 0-6-5 0zM106 164l4 2 3 0 1-1-3-5zM332 251l0 4 1 0 0-4zM277 114l-2 2 0 5 3 0 3-3zM124 298l-4 4-3 7 2 0 4-3zM91 154l-6-4-3 2-4 5 0 2 10-3zM156 274l-12 11 11-4 2-4zM0 144l0 5 2 0 0-2zM272 122l-1 4 6 0 0-4zM333 51l-6 2 4 2 2-1zM138 256l-5 2-2 2 1 4 3 0 4-5zM264 311l1 1 6 0-3-2zM328 11l-2 0-7 4-6 1-1 4 1 1 9-1 3-3zM206 6l-6-1-4 3-1 2 3 1 7-3zM79 252l1 3 3 2 11-5 3-4-1-3-11 0zM40 113l-4 0 2 4zM59 123l-1-1-7 3-1 5 9-3zM256 229l-7 1 1 7 4-3 2-3zM61 331l-3-2-3 1-2 3 3 0zM284 31l-2 2 0 2-2 3 5 0zM253 16l-2 3 0 6 3 4 5 1 2-3 1-5-3-6zM171 150l-3 4-9 6-3 3 0 2 9-5 3-3zM178 151l-5 0-1 1 0 4 3 6 3-4 0-3 1-1zM321 88l-5-3-1 1-3 0-3 2-2 3 4 5 5-3 2 0 3-3zM91 229l-10 2-1 3 6 1zM78 317l-1-1-5 2 1 3 4-1zM203 95l-1 0-2 3-2 6 4-1 1-2-1-1 0-4zM36 123l1 2 3 1 4 0 7-2-9-5-4 0zM290 302l-2-1-5 0 0 2-3 6 4-1zM283 144l-3 0-7 8 3 0zM65 152l6 0 1-1 4 0 0-1-2-2-8 0zM18 230l-1-7-1-1-5 3-5 1 6 5 5 0zM51 235l4 3 2 0 4-2 1-2-10 0zM261 236l-3-2-5 3-1 3 5-2 3 0zM66 174l-14 6 1 1 5-1 4-2zM142 301l0 1-14 13 0 3 15-9 1-5zM10 323l-3-2-7 1 0 8 9-3 1-1zM221 324l3-1 6-5-8 0-2 2zM288 0l-4 0-2 4 4-1zM19 171l-9 7 3 5 5-3 2-6zM145 135l-7 7 5-1zM181 205l-3 4-1 5-4 8 2 1 5-4 0-3 1-1zM214 207l-7 5-6 13 6-3 9-8zM298 131l-5 4 0 2-2 3 6-2 0-5zM246 288l-16 1-1 1 0 3 1 1 15-1 0-4zM104 307l-2 5 3-3zM213 162l-4 4 0 4-3 6 8-11zM96 309l-4 4 0 3 2-2zM129 136l-4-6-1 0-5 7 8 1 2-1zM181 300l-4 0-2 5zM330 55l-4-1-5 6 5 0 4-3zM118 304l-3 0-3 5 0 2 3 0 1-1zM323 67l0 2 3 1-1-3zM250 157l-2-1-7 5-1 3 1 1zM283 256l-1-1-8 4-2 2-1 4 4 2 4 0 2-2zM176 300l-3 0-3 2-6 8 2 2 8-7zM138 29l-6 1 1 3zM259 277l1 2 5 1 3-2-7-2zM75 267l-7 2 3 1zM272 0l-6 1-3 2-2 4 3 2 6-1 2-5zM217 215l-4 2-6 6-5 2-2 2 3 1 8-6zM184 140l-12 8 0 3 1-1 5 0 1 1 6-6z"/>
<path fill="#ffd4cc" stroke="#ffd4cc" d="M109 52l-8 5-1 2 3 3 4-1 4-3z"/>
<path fill="#ff33ff" stroke="#ff33ff" d="M170 127l-2 6 2-3zM277 67l-2 0-3-2-4 4-3 5 1-1 5 0zM254 45l-4 5 1 2 3 2 4-4 0-2zM32 290l-6 1-2 2 0 3-1 1 1 1 3-4zM109 291l-11 3 0 5-1 1 0 3 3 2 4-1 2-5 0-3zM155 50l-3 4 3 2 2 0 1-3-2-3zM33 102l1 1 7 0 4-5-2-2-7 0zM314 77l0-2-3-3-6 3-2 0 0 1 7 2 3 0zM58 96l5-1-3-1zM288 207l-3 1 0 2 2 2 1-1zM298 303l5 5 5 0 0-4zM23 243l0 2 2 2 4 1 0-6zM298 12l-4 2 1 3 1 0 0-2zM34 192l-10 1-3 4 1 1 3 0zM143 242l-3 0-3 3-4 12 4-2 2-8zM111 311l-2 3 0 3 3 4 4-5-2-2 0-2zM164 248l-2-1-5 1-2 4 6 0zM291 37l-4 2 0 5 4-2zM250 95l9 0-1-6-4 0-3 3zM241 211l-6 9 2 0 2-2zM121 91l-3-1-5 2 0 6 3-3 3-1zM91 289l-13 9 0 4 5-3 5-1 3-3zM7 329l1 4 10-1-7-5zM298 10l-3-2-2 1-2 3 1-1 6 0zM3 55l-3 0 0 6 2-2zM211 125l-4-1-1 3-5 5-1 3 7-2 2-2zM333 229l-1 1-3 0-2 4 0 8-1 1 3 2 4-4zM262 85l-3 4 1 5 3-2 0-4 1-1zM298 284l3 4 9 0-4-1-5-3zM289 318l7 1-3-4zM233 317l-7 8 3 0 5-3zM40 19l-5 5 5-1 1-1zM86 315l-3 1-5 4 2 5-2 8 5-6zM0 8l0 4 1-2zM306 277l-2 1-2 3 5 0zM4 220l-4 1 0 4 3 0zM249 96l-8 1 1 5 5-3zM131 232l7-2-6 0zM42 75l-6 0-4 2 0 7 9-3 3-3zM285 179l-5 0-3 4-1 4zM172 97l-3 5 6 3 1-2-2-6zM214 301l-2-1-6 1-6 10 4-1zM272 204l-2-1-8 9 8-2zM21 257l-5-1-5 3-1 2 11-2zM315 45l1 2 3 1 4 0 3-2 0-1-2 0-3-2-5 0zM72 271l-5 2-2 3 0 2-2 2 1 2 4-3 1-3 4-4zM207 119l-1-1-5 1-1 1 0 3-3 4 2 0 8-6zM299 302l11 1 5-3-9-2-1 1-4 0zM321 233l-2 8 6 2 1-1 0-6zM196 325l-2-1-11 9 4-1zM281 310l-3 0-4 3 3 4 2-1zM174 236l-4 7-5 4-3 6 8-7zM314 78l4 2 3 0 0-4-6 0zM148 232l-7 9 3 0 3-2zM2 28l-2 0 0 6 2-3zM279 281l-7-2-6 6 2 2 1-1 7 0 2-1zM31 43l-5-2-4 1-4 5-1 3 1 1 7-1zM0 207l0 10 5 0 2-1 1-4-4-5zM21 17l-10 7 6 1 3-4zM134 77l-6-1-2 3 0 2-4 5-1 4 2 0 6-3 6-6zM291 202l-1 4 4 0zM172 296l-4 2 4-1zM190 170l-5 1-1 6zM34 240l-4 1 0 6 6-3zM74 141l-3 0-7 4-2 0 5 2zM114 34l6 3 4 0 3-6-2-1-5 0-5 2zM176 187l1 2 6 0 0-3-4-3zM238 303l-3-1-5 3-7 1 2 4 10-3zM286 156l-8 3-2 3 1 2 1 0 1-3 3-3zM189 327l-3 2-10 2-1 2 6 0zM226 97l-3 0-7 9 0 7 1 1 13-8 1-5zM131 244l-4 2-2 3 1 1 5-3zM56 10l-4 0-3 3-2 9 6-3zM0 150l0 2 7 1-4-4zM290 278l2 2 3 1 1-1-1-2zM31 87l6 7 7-5-5 0-1-1zM216 323l-9 2-4 3 7-1zM31 177l6 4 2 0 4-3-5-2-2-2zM304 209l0 2 5 0 1-1zM236 54l-2 1 0 9 3-8zM333 321l-1 1 1 0zM299 60l-9 8 1 3 3-1zM277 91l-7 2-3 4 3 0 1 1 6-3zM99 305l-2-1-3 1-5 6 6-3 2 0zM161 71l4 1 4-3-6 0zM121 46l-1 0-1 2 0 3 3-2zM318 300l-2 0-2 2-5 2 0 5 4 0zM318 210l0 3 1 1 6 0 2-1-2-4-6 0zM138 231l-8 2-3 3 1-1 4 0zM322 253l-3-1-5 2 3 4 3-1zM228 209l-9 6-3 8 1-1 4 0 4-3 3-4zM192 59l-6 4-2 3 5 1 3-5zM131 0l-9 0-8 7 7-4zM310 82l2 3 3 0 2-1 2-3-7-2zM35 239l1 4 3 0 3-2 0-1-3-2-3 0zM91 318l-6 5-2 5 2 0 6-5zM117 332l-3 1 3 0zM222 283l-7-2-1 1-5 0-2 1-1 2 1 1 9 0 1-1 3 1zM108 44l-4 3-8 3 0 1 9-1 2-2zM50 237l-3 2 0 3 4 0zM6 217l-1 1-5 0 0 2 2 0zM58 101l1 2 2 1 6 0 4-2-6-4-3 0zM283 0l-4 0 2 4zM25 199l-5 0-6 4 2 3 3 2 1-3zM297 52l-1 1 0 3 3 1 1-1-1-3zM98 0l-2 0-3 2 2 0zM191 55l-3 0-1-1-2 3 1 5 6-4zM179 277l2 0 4-4 4-2-7 0zM250 142l-4 9-4 4 6 0 3-4 0-8zM28 221l-4 1 2 4 3-1 0-3zM89 331l3-1-3 0zM169 74l-1 1 0 1 0-1zM197 296l0 6 5-2 8-1-1-2-3-1zM40 0l-2 0-6 3-3 3 1 3 10-6zM136 4l3 0 7-4-8 0-2 2zM304 330l-3 0-6 3 7 0 2-1zM29 8l-1-2-6 2 0 1zM275 320l3 3 3-1 13 0 1-2-3 0-1-1-14 0zM318 243l-3 1-10 0 3 5 4 0 3-1zM141 267l-7 8 3 3 4-1 4-8zM290 158l5 0 13-7-12 0zM288 247l2 2 3 0-1-4zM123 50l-4 2-1 4 4-2 3 0zM205 177l-6 4-1 2 0 6 2-5 5-5zM328 171l-7 1-5 5 11 0zM45 3l-6 1-9 6 8-1zM158 241l-2 2-6 2 0 3 9-1 1-2zM192 100l-6 8 5-4 2-3zM190 171l-6 7 0 11 1 1 3-1 0-7 1-1 0-8zM54 50l-3 0-5 3-1 2 0 5 4-4 7-3zM36 47l1 1 3 0 2-3-5 0zM190 236l-2 0-6 4-3 4-3 7zM107 261l-6 0-2 6 3-1zM286 80l-5-1-9 3 0 2 2 3 4 3 6-3zM255 55l3 1 5-3 0-1-5-1zM0 35l9 3 3-7-6-1-3 1zM317 247l1 1 3 0 6-3-8-3zM104 305l-4 1-4 4-1 6zM292 314l-14 4 10 0zM169 26l-5 0-5 3-1 3 1 5 2-1 3-6zM43 300l-2-2-3 1-2 2-2 5 4 0 6-2zM199 311l-5-5-6 2-3 2-2 3 7 2zM4 101l-4 0 0 8 3-1 3-3zM19 99l0 3 5 3 8-2 0-2-9-8zM132 27l-3 0-3 2-2 0 6 1zM164 89l-5 0-1 1-1 7 3 0zM139 15l-5 2-3 5 0 4 2 0 4-3zM302 292l-3 0-1-1-4 3 7 1zM20 64l-4 1 2 4 3-1 0-3zM215 229l-9 3 2-1 5 0zM94 279l7 0 3-3 0-2-8 0zM333 285l-2 4 2 1zM85 55l-7 5 0 3 4 0 1-1zM222 98l-10 2-2 2 1 3 4 2 1-3zM159 27l-1-1-8 2-3 5 2 2 7-2 2-2zM99 314l-4 3 1 9 2-2 2-5zM95 296l-4 0-3 3-1 8zM112 92l-2 0-3 2-3 4 0 2 4 3 4-5zM261 280l0 1 3 0zM56 133l-9 1-1 3 8-1zM14 204l-9 3 1 2 4 3 7-3zM196 96l-3 0-1 3 1 1 2-1zM262 0l-2 0 0 1-5 4 2 3 5-4zM332 205l-1 1-3 0 3 0zM206 205l-2-1-3 4 5-2zM144 10l-9 3-1 3 6-2 0-1zM214 143l-2 0-5 12 3-1 5-5 0-5zM58 223l3 3 8-4-6-1z"/>
<path fill="#ff99ee" stroke="#ff99ee" d="M92 163l-9 2-4 2-1 2 2 1 5 0 6-5zM70 197l-6 1-8 9 4 3 3-1 8-7-1-1zM284 249l-6 2 5 3zM36 273l5 2 6-3-2-2-6-1zM134 295l-2 0-4 10 9-5zM52 48l-7 1-1 2 4 0 4-2zM21 268l-5 5 4 3 4 1 0-5-1-1 1-3zM95 273l-5 0-4 3-1 5-4 9 6-4 6-6zM308 152l-13 7-5 0-1 3 3 1 11-4 4-4zM333 204l-2-2-3 2-1 2zM265 233l-4 5 1 1 5-4zM26 249l-6 3-3 3 1 1 3 0zM283 31l-3-2-3 2-2 0-1 2 2 2 5-2zM301 283l5 3 4 1-4-5-4 0zM198 114l-8 4 3 9 4-1 2-3zM290 224l6 0 5-6-2-1-6 0zM166 258l-5 6 0 4 3-1 0-4zM43 230l-5 0-2 2-1 4 3 1 3-2 2-3zM152 303l-7 3-2 6 8-3 2-2zM328 85l-2 0-3 2-1 2 3 1zM46 306l-7 4-10 2-1 1 3 1 1-1 8-1 4-2zM311 314l13 1-2-1-8 0-1-1zM264 292l4 4 7-2-1-2zM157 166l-1 0-2 5-3 3 0 3 1 1 2-1 4-5zM8 118l1 1 3 0 0-1-2-1zM191 0l-5 0-8 7 8 0 2-1zM289 21l-3 2-2 7 1 0 5-8zM149 108l-3 8 1 0 2-3zM204 166l-8 7 0 3 2 0 2-2zM312 71l3 4 6 0-3-4-3-1zM200 209l-4 1-2 3 0 5 1 2 3-2 0-4zM202 328l-4-2-6 7 7 0 3-3zM175 226l-8 7-2 9-3 4 1 1 3-1 3-3 1-3 5-7 0-5 1-1zM64 324l-2 0-9 5 7-1 3-2zM28 229l3 1 6-4-9 0zM296 240l-8 1-3 4 3 1 4-2zM200 179l-1 0-2 3 1 0zM292 56l0 4 1-1zM308 57l-1-1-3 0-1 1-3 0-1 2 1 1 8 0zM259 0l-2 0-4 5 3-1zM27 184l-2-4-2 1-5 0-6 3-1 2 3 3 4 1zM218 168l-12 11 7-1 4-6zM218 317l3 1 1-1 14-1 5-2 2-3-17 0-3 1zM58 146l-7 2 0 5 1 0zM270 154l-7 3-2 4 5 0 2-5zM307 273l-2-1-5 3-1 2 6 0zM289 240l2-1 6 0 6-3-2-1-9 0-2 1zM288 215l4 0 0-1 3-2-6-1-1 1zM64 179l-3 0-3 2-5 1 0 1 3 2 2 0 7-4zM64 49l-1-1-1 1-4 0-3 1 0 1 3 2 3-2 2 0zM112 79l-2 6 2 0 1-2 0-3zM98 193l-6 0-2-1-5 4-1 2 4 1zM4 200l2 2 4-2zM195 174l-5 4-1 9 6-10zM130 191l-3-1-6 7 2 0zM253 6l2 5 1-4zM272 307l-2-2-1 1-5 0 0 1 2 1 5 0zM212 92l-3 1-4 4-2 6 1 0 9-10zM309 113l5 6 13-1-3-6-10-1zM192 320l-4-3-12 11 0 2 10-2 7-4zM15 194l6 1 2-2-1-1-5 0zM327 74l-1 1 1 2 2 1 0-4zM290 141l-5 2 2 3 5-2zM224 45l-1 4-2 2 0 1 3 1zM144 243l-1 0-3 4-2 7 1 3 4-9 3-3zM65 324l-2 3-4 2 6 1 1-1zM50 76l-3 2 0 3 1 1-1 6 1 0 1-2zM60 190l-4-2-5 3 1 3 2 0 1-1 3 0zM233 323l-8 6 1 1 3-1zM278 0l-1 1 0 6 2 3 2-5zM145 94l-3 1-2 3 4 1zM91 180l-5 2 0 1zM228 290l-6-1-5 5-4 2-2 3 4 2 10-4 4-3-1-1zM132 45l-4 6 1 3 4-5zM123 203l-1 1-3 0 0 3 3-2zM151 122l-13 8-2 3 11-2 4-4zM293 271l3 1 3 3 5-3-3-2zM333 196l-2 3 0 2 2 2zM214 2l2 2 3 0 2-4-6 0zM296 20l-4 3-1 6 2 0 3-6zM333 303l-7 1-2 1-2 3 7 0 4-3zM85 182l-4 1-2 3 0 2 4-2 2-2zM237 325l-4 4-5 2 1 2 5 0 2-3zM86 236l-13 8 1 1 11-4zM190 13l-2 1 1 3zM333 298l-2 0-4 5 6-1z"/>
<path fill="#ff66e5" stroke="#ff66e5" d="M26 325l-3 2-3 0 4 5 2 0 4-3zM208 136l-3 1-3 3-2 5 0 4 6-8zM51 286l-18 4 1 1 11-1 1-1 3 0zM0 227l2-1-2 0zM164 106l-2 1-3 5-1 5 1 0 3-4zM229 142l-12 5-2 3 1 4 13-9zM253 54l-4-3-5 4 0 4 5 1zM292 116l-11 1 1 1 5 0zM26 162l1 9 5 3 2 0 2-2 0-5-3-3zM50 291l-1-1-3 0-1 1-7 1-1 1 0 4 3 1 6-2zM48 14l-3 3-4 1 0 3 3 2 2-1zM123 232l-7 5-1 4 4 0 4-2zM133 0l1 1 3-1zM166 40l-2 0-4 6 3 0 2-2zM52 263l-3 2-3 5 4-3zM250 254l1 2 9 0 0-1-2-1zM95 255l3 5 2 0 5-4 0-1-4 0-1-1-4 0zM15 239l3 4 3-1 2-4zM291 272l0 2 5 1zM138 285l-11 6-2 3 6-1zM222 53l-3 0-1 1 2 6 4-4 0-2zM293 314l3 4 3 0 3-2 0-2-3-1zM216 147l4-3 9-3-1-1-3 0-1 1-5-1-3 5zM292 22l-2 1-3 6 3-1zM273 33l-2 4 0 3 4-5zM120 243l-4 2 0 2 2-1zM92 306l-3 1-2 6zM252 7l-3 3 1 9 4-6 0-3zM61 259l-4 1-3 3 2 2 5-1 1-1zM143 282l-1 0-10 11 9-6 3-3zM80 231l-5 2-1 2 5-2zM91 324l-5 4 0 5 2-2zM310 34l6 3 2-5-5 0zM173 130l-3 1-5 8 6-4zM86 275l-5 3-7 8 0 6 1 1 5-3zM95 196l-7 4-2 0-2 3 8 1 0-2zM260 110l-5 4-8 4 9 0zM21 8l-4 5 4-3zM333 269l-7 2 1 2 5 0 1-1zM153 269l-1 3 1 2 2 0 2-3zM123 189l-5 1-6 5 0 2 6-2zM154 317l-2 0-3 3-1 3-3 3 1 3 4 0 6-3 1-6zM29 62l1 1 4 0 4-2-1-1-6 0zM205 284l-3 0-3 3-6 3-4 4 2 0 4-3 7-3zM286 22l-5 5 2 3z"/>
<path fill="#ffff66" stroke="#ffff66" d="M103 0l-4 0-3 2-1 2 7-2zM132 136l-6 3-4 9 1 2 9-8zM175 34l-3 0-1 1 0 4 2 4 3-4 0-4zM261 55l4 4 5 0 1-1-5-2-2-2zM234 238l-6 1-1 1 1 3 2 0zM103 333l4 0-3-1zM123 116l-2-1-5 4-3 6 7-4zM133 115l-9 2-2 3 2 4 1 0 1-2 5-2zM216 79l-1-1-3 4zM250 93l-4 0-5 2 0 1 8-1zM93 54l-1-1-5 1-3 8 4 0zM319 302l-1 0-4 8 7-2 1-2zM117 265l-3 1-3 3 1 3zM229 57l-3 5 2 2 1 0zM248 136l-2-1-6 1 0 3-2 5 1 3 1 0 2-4zM214 151l-7 6-1 3 0 4 1 1 2 0 4-4 2-5 0-4zM89 264l-12 7 6-1 4-3zM59 93l-5 1 4 1zM200 132l-6 2-3 3 0 5 8-7zM172 44l-8 2-1 1 0 4 5 1 0-2zM24 312l-3 1-5 5-6 4 1 1 0 3 7-5 1-3zM291 168l-2-2-2 0-3 2-6 7 1 1 4-1 4-4 4-2zM12 273l0 5 1 1 3-1 1-3-3-2zM59 104l-8 9 0 2 4 3 3-2 1-7 2-4zM130 261l-2 3-5 3-4 4 12-6zM8 26l4-1-4 0zM15 88l-2 2 0 2 2 3 4 3 4-6 0-2-7-1zM123 226l-5 4-1 5 8-5 0-2zM11 67l-1 1-6 0-2 1-2 3 6-2 4 0zM232 164l5-2 3 0 0-1-6 0zM285 52l4 0 3-3-6 0-1-1zM174 72l-1 0-2 4 0 6 0-2 4-6zM274 220l2 3 5 0 2-4-5-2zM222 34l-4 5-1 6 7-4zM73 117l-3 0-2 2 1 8 1 0 4-5 0-4zM94 36l-2 0-5 5-6 2 1 3 2 1 7-4 3-5zM113 221l-5 4-1 3 1 2 6-6zM75 52l1 7 2 0 1-6zM158 104l-8 6 0 2 3-1 5-5zM104 2l-5 4-2 3 4 1 5-3zM179 119l-3-2-2 6 3-1zM112 155l-7 3-4 5 2 2 2-1 6-6zM195 140l-4 3 0 4 3 1 2-4 0-3zM286 147l-8 4-2 2 0 2 7-2 2-2zM316 155l-8 0-2 3 0 4 5 3 1-2 4-3 1-2zM271 60l-6 0-2 2 0 10 1 2 3-5 5-5zM24 269l1 8 3 2 7-6 0-1-4-2zM118 210l-6-1-4 7 5-1zM75 82l-3-3-4 5 3 0zM66 19l-4-4-7 4 0 3 2 1zM63 14l4 5 5-1-1-3zM261 56l-3 1 0 6 4-1 2-2zM125 245l-7 3 1 1 3 0 3-2zM237 185l-12 8 1 5 2-3 9-7zM100 157l-7 6 7-1 1-1-1-1zM278 95l-8 4-5 4 1 2 9-3 4-5zM230 155l-5 1-1 8 2-5zM248 307l2-1 10 1 4-2-10-1zM166 267l-7 3-2 3 0 2 2 0 3-2zM229 108l-5 2-6 5 0 2 2 3 8-5zM64 45l-4 1 3 1zM251 269l-3 3 3 0 1-1zM143 85l-6 0-2 7 4-2zM83 20l-9 2 0 1 9 0zM78 152l-14 1-3 4 1 1 4 0 5-4zM164 311l-2 0-7 5 3 5 6-4 1-2 0-3zM101 154l-3 1-8 6 3 1 3-2zM124 73l-8-1-3 4 0 3 1 1-1 6 1 1 4-4 2-5zM139 108l-8 0-8 5-1 2 3 1 1-1 7-1 2-1zM136 188l-3 1-3 3-1 6 4-2 4-4zM239 163l-7 2 2 2 2 0 3-2zM192 8l-7 5 5-1 2-2z"/>
<path fill="#33ddff" stroke="#33ddff" d="M298 102l-5-1-10 8 9 0 5-4zM1 253l-1 1 0 4 2 4 6 0 2-3-3-3zM133 13l-1 0-1 4-3 5 2 0 3-4zM221 256l-1-1-6 1-4 3 3 1zM279 44l-3 0-3 3 0 2 2 1 5-4zM27 2l1 1 3 0 6-3-9 0zM55 252l-6 5 0 3 2 2 3 0 3-3 3-1zM152 5l7-2 5-3-8 0zM174 106l-1-1-5 5-5 2 0 1 10-4zM2 61l-2 1 0 3 3-2zM92 264l-1 0-3 6 1 3 1-1 3 0-1-2zM164 283l-10 1-3 3 0 3 7 0 2 1zM107 266l-3 0-5 2-3 3 0 2 8 0 3-4zM333 291l-3-2-4 5 5 0 2-1zM130 23l-3 0-7 4-2 3 12-4zM140 266l-8 3-6 5 7 0zM190 90l-6 1-4 2 0 1 6 4zM0 0l0 2 8 1 0-1-4-2zM179 1l-3 2-6 1 0 1 7 2 2-2zM118 146l-3 0-6 3-3 3 9-2zM269 154l-2-1-3 1-2 3 5-3zM268 135l-1 0-4 8 6-6zM51 291l-3 5 3 2 5 0 2-2 1-4-1-1zM312 193l-2-1-4 2-1 5 7 0zM142 184l-6 3 1 2 1 0zM119 319l-3 7-2 2 0 3 1 1 2-1 4-5 0-5zM8 27l-1-1-3 1-1 3 4-1zM257 101l-1 1-3 0-4 4-3 7 1 1 6-6zM299 278l2 1 2-1zM63 79l-4 0 1 5 3-2zM132 183l-7 1-4 4 3 0zM171 293l-8 7 6-3 2-2zM240 98l-4 0-4 4 0 2-2 3-1 7 6-3 2 0 2-2 2-4zM317 277l-6 4 4 2 2-3zM102 165l-2-2-2 0-1 1-4 0-1 2 4 3 3 0zM262 268l-1 2 0 5 5-3 0-1zM224 238l-2 6 0 4 5-1 1-2-2-5zM36 294l-5 4 4 4 2-3zM285 187l-1-2-6 1-4 4 2 2zM331 198l-8 6 3 1 3-2zM156 152l-6 5-3 4 0 2 3 0 6-9zM286 44l-3 2 1 1zM19 250l-2 0 0 4 2-2zM150 70l2 2 7 0 7-7-3-1-10 0zM295 323l7 3 7-1-11-5-2 0zM154 111l-6 4-2 9 6-4 0-5zM327 121l-2 2 1 4 7 2 0-6-2-3zM172 204l-2 0-2 6 3-1zM305 133l7-2 1-2-6 0zM135 82l-4 4-1 8 4-2 2-6 0-3zM95 256l-4 5-1 3 7-4zM9 302l0 1 4 2 2-4zM312 140l-4 3 1 7 6-5zM308 273l6 2 3 0 1-2-1-2-8 0zM131 45l-5 0 1 6zM171 113l-7 5 1 3 2 0 4-4zM18 275l-1 3-2 1 0 2 2 2 3-3 0-3zM240 259l-12 4-5 5 3 0 13-7zM99 231l-2 2-9 3-2 3 0 2 12-6zM277 113l-6 1-9 8 7-1zM148 103l-4-2-3 6 4 1zM67 218l-3-2-4 0-1-1-6 3-2 2 0 2 7 0 1-1 3 0zM52 284l-3-2-3 0-10 6 13-2zM148 35l-2-2-6 2-6 8 13-5zM108 265l0 2 3-1 0-1zM257 285l2 6 5 0 3-4-3-2zM269 181l-3 0-1-1-2 4 2 1zM260 123l-10 2-4 9 3 1zM274 73l1 2 4 0-2-3zM138 48l-2 0-4 3 2 0 4-2zM160 98l-4 0-3 2-2 6 8-4zM201 277l-11 6-2 3 5-1 4-3zM80 189l-2 0-7 8 0 4 1 1 11-5 0-5zM74 226l-10 3-1 1 0 3 7-2 4-3zM198 58l-4 2-1 2 4 0zM27 137l0 2 7 0 5 2 2-1 0-2-3-2-9 0zM146 78l-2-1-8 3 0 1 1-1 6 0 3-1zM236 146l-6-1-7 6-2 6 4-4zM333 58l-2-1-4 3 0 4 1 1 5 0zM217 193l-4 0-3 5-5 5 2 2 2 0 6-3zM223 46l-5 3 2 2zM220 96l-6-3-5 6 3-2zM79 43l-1-3-6 2 2 2zM106 205l-3 3-6 2-3 3 1 6 10-3 1-3zM155 164l-5 4 0 2-2 3 2 0 3-2 2-4zM120 263l-7 8 5 0 3-3zM251 164l-2 3 3 5 1 0 2-6zM42 252l3 1 3 3 4-3-2-1zM108 106l-12 10-3 5 2 1 6 0 3-6 1-5zM215 157l-1 6 3-2zM83 311l-1 1-7 1 4 0 1 1 2-1zM236 190l-8 6-3 5 5-1 3-3zM93 214l-5 1-9 5-1 3 7 0 1-1 7-1 1-1zM318 249l-2-1-4 2-3 0 1 2 6-3zM293 15l-3 1-1 3 1 2 1 0zM166 123l-5 7-7 4 0 3 5-2 5-5 2-4zM8 43l-1 1-7 1 0 2 3 0zM258 147l-3 1-6 7 3 1zM324 2l-1-2-4 0-8 7 13 0zM328 162l5 3 0-4zM284 256l-2 9-2 2 2 1 6 0 3-6 0-4-3-2zM209 0l-3 0-5 4 6 1 2-2zM169 13l-2 0-4 6 4-1zM235 168l-2 0-3 7-3 4 4-1 2-2zM87 26l-3 0-4 2-1 2 8-2zM38 10l-9 1-5 4 9 0zM217 40l-6 2-6 6 0 2 1 1 6-1 4-5zM38 165l-1 1 0 6-1 1 4 3 6 1 1-1-1-5-6-6zM264 300l0 4 1 1 4 0 1-1-4-5zM196 15l-2 4 3-3zM52 9l-7 0-2 1-3 7 5-1zM22 223l0 3 3 0-1-2zM36 45l-4-2-6 7 3 1zM50 148l-5-1-2 2-1 7 8-2zM163 319l-5 3 0 2-3 6 4 0 6-2zM8 28l0 1 5 2 4-2 0-3-6 0zM333 80l-5 4 1 1 4 0zM6 329l-4 2-2 0 0 2 7 0zM303 327l-6-2-5 3-4 5 6 0 4-3 5-1zM251 280l4 0 5 2-1-4-3 0zM212 179l-6 1 0 3zM15 309l-1-1-11 1-3 1 0 4 8 0 6-3zM115 107l-1 0-10 14 4-1 8-8 1-3zM284 21l-2 4 3-3zM90 205l-9 1-1 1 2 2zM297 229l-2-1-3 1 0 1 5 0zM286 119l5 1 0-1-2-1zM290 12l-5 7 0 2 3-1 2-5zM144 207l-6 3-3 4 0 2 2 2 1 0 7-8z"/>
<path fill="#3333ff" stroke="#3333ff" d="M315 39l-6 0 0 8 6-3zM284 154l-3 0-5 2 0 3 6-3 2 0zM4 77l-2 5-2 2 0 5 5-1 1-6zM274 25l-4 3-7 2 4 3 6-1 1-1zM205 301l-8 2-2 3 4 4 3-3zM75 141l-7 6 6 0 0-5zM208 269l-3-1-3 3 3 0zM269 82l-3 2-2 4 0 4 1-4zM181 240l-5 4-4 8 3-1 3-7zM250 267l-6 0-4 2-1 2 7 0 1 1 3-3zM197 220l-2 1 0 3 2 0 1-3zM295 31l-5-2-1 1-3 0-1 1 1 7 5-2zM31 152l-5 1-2 2-1 4 1 1 2-1 4-4zM47 177l5 2 7-3 1-2-7 0zM48 46l-3-1-2 1-1 2 2 1 3-1zM264 231l-2 0-3 2 3 2 2-2zM68 40l-3 0-6 5 7-2zM114 291l-4-1-5 13 3-1 7-8zM65 220l6 1 1-3-4 0zM116 298l-3 0-5 5-3 1 0 3 2 2 4 1 4-7zM218 130l-5 4-3 1-3 5 0 11-1 1 0 3 2-3 1-5 4-6 1-4zM92 35l-1-1-5 0-7 3-1 2 2 3 2 0 5-2zM251 2l-4 5 1 3 4-4 0-3zM138 319l-7 3-3 3-2 5 3-3 5-2zM198 177l-2 0-4 6zM71 318l-3 0-2 4 1 6 4-1 2-5zM265 218l-4 3-1 3zM327 207l-1 1 1 3 3 2 2 0 1-1-1-4-1-1zM306 157l-7 5-6 1-4 2 2 2 8-1 6-4 0-4zM2 138l9 9-1-9-1-1zM115 257l-6 7 4 1zM41 118l3 1 1-1 6 0 1-1-8-1zM94 315l-2 2 0 5 2-1zM333 8l-3 2 0 1 3 2zM148 108l-3 1-2 5 2 1 1-1zM305 49l-9 1 2 2 2 0zM234 219l-3 0-6 7 0 6 3-6 6-5zM270 222l-4 1-3 4 1 3zM304 107l-2 0-7 5-1 3 8-1 2-4zM308 11l2 3 5 1 1-1 3 0 7-4-1-2-15 0zM249 2l3-2-3 0zM196 295l-2-1-5 1-5 8-4 3 0 1 10 0 3-1 3-3zM153 135l-5 4 0 10 5-10zM50 105l1-1 7-1-1-3-5 0zM250 179l-4-1-7 5-1 3 9-3zM100 261l-3 0-4 2 0 7 1 2 1 0 3-4 0-3zM234 317l1 4 2 0 2-2 4-1-5-2zM253 204l-3 1-2 4 0 4 2 0 4-3zM275 153l-3 0-3 3-3 8 1 2 8-10zM280 21l-3 0-2 3 0 5 4-5zM74 229l-4 3 0 2zM296 90l8 1 6-4 1-2-1-2-10-1zM333 21l-2 0-7 6 9 0zM112 159l0 2 2 2 4-3-1-1zM179 307l-1-1-6 1-6 6-1 4 6-1zM260 308l2 3 5-2-4-2zM180 284l-3 3 1 3 1 0zM267 246l-2-1-8 4-4 4 5 0 2 1 4-3zM196 294l1 1 8 0 6-3-9 0zM143 327l-5 2-3 3 3 1zM235 40l-3 1-1 3 0 4-1 1 0 4 1 1 3 0 3-6 0-4zM101 172l-1-1-3 1-7 5 0 2 4 0 3-2zM3 119l-2-1-1 3zM273 213l-3 0-3 3 2 2 4-2z"/>
<path fill="#ffff33" stroke="#ffff33" d="M94 253l-5 2-3 9 2 0 5-6 2-4zM174 223l-4 0-6 3-3 3 0 3 4 4 1-3 9-8zM123 151l-3 3-6 3 7-1zM2 183l-2 0 0 11 3-2 3-6zM62 259l1 4 7 0 2-1-1-1-3 0-4-3zM67 85l-4-2-4 2-1 2 2 1zM241 87l-5 3-1 8 1-1 4 0 2-6zM270 211l-9 2-1 1 0 5 5-2zM121 0l-7 0-6 6 5 1zM186 288l-3 1-9 10 3 0 8-7zM55 54l-1 2 2 2 1 4 5-4 0-1-5-3zM75 118l0 4 8 1 6-2-13-4zM275 163l-5 1-2 2 0 2zM121 250l-4-1-5 3 1 4 1 1zM167 19l-4 1-3 3 5-2zM110 81l-6 3-3 4 7-2 2-2zM92 122l-8 1-5 4-6 2 0 1 6 3 4-2zM48 314l-2 2-6 2-7 11 3-1 6-6 6-3zM153 265l-4 1-4 4-3 6 1 5 4-3 6-10zM182 159l-1 0-7 8 6-3zM113 44l8 1-5-2zM68 76l3 2 2 0 9-5 0-1-14 1zM236 124l-3 0-4 7 7 0 1-2zM114 35l-2 4 4 3 3-5-2 0zM74 45l-2-1-8 4 3 2 3 0 4-3zM61 158l1 10 4-1-1-7zM152 153l-4-2-12 7-2 2-1 4 5 0 1-1 7-1zM41 276l-4-2-3 0-5 6 5 4 7-4zM145 86l-4 3 0 5 5-1zM147 39l-3 2-4 6 7-6zM112 106l-3-1-3 6-1 5-3 5 3-2 4-7 4-4zM181 123l-4 7 0 7 4-8zM228 55l-3 0-6 8 6-1 3-5zM64 197l7-1 6-7-9 0-1 3-3 3zM210 333l-1-1-4 1zM136 204l-2 3 1 6 2-2zM221 277l-10 4 6-1zM70 114l-4-1-7 3-2 3 2 3 6-2 5-4zM57 139l-4-2-2 5 6-2zM185 21l-7 2-5 3 0 1 2 1 7 0 2-1 1-2zM224 75l-3 1 0 3 1 1 4-2zM278 176l-3 1-5 4 2 1zM129 193l-7 5-3 4 3-1zM170 13l-2 4 0 2 2 1 2-2zM247 8l-4 2 0 3 1 1 3-3zM232 124l-5 1-6 3-2 2 1 3 2 1 2-2 5-2zM87 29l-7 2-3 4 3 1 3-2 2 0 2-2zM298 145l-1 5 11 0-1-6zM102 133l-3 1-4 5 0 1 5 4 3-2 3-5zM28 280l-7-3 0 3-4 4-1 4 8-3zM262 76l-6 7-1 5 4 0 5-6 1-3zM95 141l-2 0-4 3-3 5 1 2 5 2 4-3 4-5zM188 74l-1 7 7 4 2 0 1-1 0-6-2-4zM115 246l-2 1 1 1zM149 77l8-2 1-2-6 0zM172 27l-2-1-5 4-3 6 2 1zM151 210l-5 0-8 9 2 0 5-4 3-1zM245 69l-10 4 1 5 2 2 3 0 4-5zM150 164l-3 0-2 6 5-3zM124 18l-10 2-8 4 5-2 11 0 2-2zM176 131l-8 7 0 1 4 3 2 0 2-3zM133 208l-5 4-1 6 2 1 5-4zM308 61l-5 0-4 7-3 3 4-2 4-4 3-1zM333 275l-1-1-4 0-5 3 6 1 3-1z"/>
<path fill="#ff66ff" stroke="#ff66ff" d="M6 174l-3 2-2 0-1 2 6-1zM301 177l-2 1-1 3 0 6 1 1 2 0 5-7zM76 251l-6 1-5 6 7 3 4-1 3-4 0-3zM111 128l-7 3-1 2 3 3 3-1 3-3 0-3zM30 231l-3-1-5 4 1 3 3 0 5-2zM220 79l-2 1-1 5-4 7 4-1 4-4 1-6zM246 119l-5 2 0 5-3 8 1 0 4-5 3-7zM291 177l-7 3-4 5 1-1 4 0 5-4zM40 18l-7 2-2 2 1 3zM291 256l1 2 5 3 6 0 0-5zM30 203l-3 1-4 5 3 1 4-3zM8 75l7 4 0-3 1-1-3-3zM313 0l-2 1 0 2zM111 327l-9 1 1 3 2 0zM134 235l-5 4-3 5zM207 276l-5 1-3 4-5 4 8-2zM149 182l-5 1-4 4-2 4 2 0 7-4zM327 274l-2-2-1 1-5 0-1 3 3 0 1 1zM45 305l-4 1-2 3 6-3zM164 274l-3 0-3 2-3 7 8-1 1-2zM333 5l0 2-1 1 1-1zM190 99l-4 0-1 2 1 5 4-4 1-2zM227 78l-4 2 0 1 3 0zM202 272l-3-1-8 11 7-8zM273 73l-2 1-5 0-3 2 3 3 3 0 4-3zM0 285l0 7 4 0 8-3 0-1-4 0-6-3zM230 27l-7 5 0 4 2 6 6-1 4-3zM217 54l-1 0-4 5-3 7-2 2 0 2 7-1 4-5 1-5zM160 264l-6 2 0 2 3 2 3-1zM273 77l7 2 2-1-1-2-6 0-1-1zM101 11l3 3 8-2 2-1-1-3-6-1zM8 119l-1-1-4 2 4 0zM57 122l0-2-3-2-9 1 0 1 7 4 3-2zM173 71l-4 4 1 2zM320 49l-4-1-4 6zM210 51l-3 1 0 3-3 9 0 3 2 2 5-10 4-5 0-1zM101 284l-5 4-3 7 2 0 3-2 1-3 4-4zM14 0l6 3 6-1 1-2zM210 260l-2 1-3 6 2 1 2-1 2-6zM184 102l-3 2 0 2-5 10 9-8zM96 182l-1-1-5 4 3 0zM151 6l-8 5-3 4 3-2 6-1zM78 321l-2 0-3 2-1 5 2 5 3 0 1-2 0-4 1-1zM31 206l8-4-8 0zM325 260l-3-1-5 4-2 3 1 1 4 0zM282 96l1 1 5 0 2-1-1-1zM131 11l-4 5-2 1 1 3 2 0 2-3 0-2 2-3zM168 254l-1-1-4 0-4 4-5 8 7-2zM311 79l-11 2 9 1zM21 31l-3-1-4 1-3 3-2 8 2 0 5-3zM306 309l1 1 0 3 4 0 2-3zM326 206l-5-1-3 1-1 3 2-1 6 0zM15 40l-3 2 5 6 4-6zM163 292l-4 0-4 3 2 5 3-1zM0 116l3 1 0-1-2-1zM49 272l2 2 4 0 2-4-6 0zM323 142l-2 0-4 3 6-1zM291 250l-2-1-4 2-1 2zM186 164l-5 4-2 6 1 2 1-3 3-3zM102 75l1 1 3 0 8-4-7-1zM310 265l1 2 3-1 0-1zM125 295l-1-1-6 3-2 3 0 3 3 0zM280 97l-3 4-3 2 9 5 3-2 1-2-1-1 0-3-1-2zM248 99l-3 2 1 2 3 2 3-4zM4 47l-4 3 0 4 3 0 4-3zM113 266l-5 2 0 1 2 0zM295 48l-4 3 0 4 4-1 1-2zM193 163l0 2-2 3-1 9 4-3 2-3 0-4zM243 247l-1 1-6 0-2 2 6 0 3-2zM159 45l-3-2-8 6 8 0zM311 288l11 7 2 0 4-4-1-2-9-3-4 2zM188 195l-9 6-7 8 9-6zM15 289l-10 3-4 3 7 2 6-4zM228 333l-1-1-7 1zM333 142l-5 3 5 0zM125 292l-1-1-4 0-3 2-3 4 3 0zM328 230l-7 1 0 1 5 3zM180 104l-5 2-3 5 0 6 3-1 5-10zM232 166l-2 1-3 5 0 6 6-11zM36 154l-5 1-3 3 6-1zM58 54l8 4 0-4zM202 18l-4 2-3 7zM279 197l-3 0-5 5 2 2 7-5zM241 65l-1-1-6 1-1 1 0 4 1 1zM289 57l-4 0 0 3 2 4zM77 299l-4-3-5 5-9 5-1 8 2-2 15-7 2-2zM244 60l-3 4 3 4 2 0 2-2 1-5zM2 293l-2 0 0 2zM284 200l-3 1 0 4 3-2zM57 274l-8 7 4 3 3-2 2 0zM114 332l-1 1-4 0 4 0zM86 86l-5 1-5 3 9 3zM290 285l-1 0-3 4 3 0zM5 0l4 2 4-2zM90 78l-7-2-4 6 3 4 4-1 3-3 0-3zM319 301l3 4 3-1 5-6-9 0-2 1zM259 137l-2 0-6 3 1 8 6-5zM264 52l2 3 4 2 2 0 3-4-3-4-3 0zM57 87l-6 3 2 4 5-2 1-3zM118 318l-2-1-3 4-1 6 3-1 3-6zM43 49l-2-1-6 3 0 1 4 0 4-2zM308 39l-3-1-3 2-6 6 0 3 10-1 2-2zM44 24l-4 1 4 0zM149 27l-2-1-5 3-3 0-4 4 2 1 8-1 2-1 2-3zM58 170l-3-4-6 2 0 1 2 1 4 0 1 1zM168 303l-7 2-4 5 6 0zM79 314l-4 0-1-1-1 1-3 0-2 3 5 0zM7 162l-7 6 0 3 7 1 2-2zM269 105l-2 0-2 2-2 12-1 1 7-5zM23 110l-5 3 2 3 4-5zM113 257l-10 9 1-1 3 0 5-5zM44 244l1 2 2 0 3-3zM131 236l-3 0-5 4 3 2zM64 242l-6 0-5 5 2 2 2 0 5-3zM171 72l-5 1 1 2z"/>
<path fill="#b266ff" stroke="#b266ff" d="M263 265l6 3 4 0 1-1-4-2zM227 249l-7 5 2 1 5-4zM301 166l-9 2 0 9 7 0 2-3zM0 75l0 8 3-5 0-2zM231 163l-6 2 0 4-2 4 4-2 4-6zM288 279l1 5 1 0 1-4zM271 147l-6 2-1 2zM239 236l-7 6 2 1 3-1zM240 165l-4 3-1 6-3 4 2 0 4-4 3-6zM12 71l-6 0-1 1-3 0-2 1 0 1 5 2 7-4zM308 204l-3 4 3-2zM0 70l3-2-3-1zM69 59l6 0 0-3-3 0-1-1zM276 218l-3-1-3 1-4 4 5-1zM276 139l-1-1-4 1-2 4 2 0zM96 96l-1-1-2 1-5 6 6-3zM311 97l-4-5-2-1-2 1-3 8 9 0 2-1zM15 54l-8-2-3 2-2 6 2 2 2 0 5-3zM296 324l-6-1-3 2-4 5 1 2 3 1 3-4 6-4zM58 104l-9 2-1 1 1 5 2 0zM286 188l-3 2-3 6 0 2 7-8zM204 203l-4 1-4 5 4-1zM281 206l-3 2 2 4 2-3zM333 213l-1 2 1 0zM244 241l-8 2-1 3 1 1zM275 292l1 2 1-1 3 0-2-2zM185 59l-1-1-8 9 3 0 5-2zM162 203l-3 0-3 4 0 6-3 7 5-4 6-10zM201 229l-3-1-7 8 2 1 8 0 1-2zM316 207l-2 0-5 5-2 7 6-5 3-4z"/>
<path fill="#ff33dd" stroke="#ff33dd" d="M63 229l-2-2-4 3-6 2 1 1 10 0 0-3zM100 89l0 2 3 3 3 0 5-3 0-1-4-2zM190 221l-12 5-2 2 0 5 6 0 3-3zM333 242l-3 3-1 4 4 1zM224 155l-4 5-1 9 4-4zM246 36l-11 3 3 5 0 2 5-1 3-2zM188 68l-5-1-3 4 0 3 6-1zM317 160l-3 2-5 6 1 2 6 1 4-3zM119 185l-3 1-3 3 0 4 6-4zM303 309l-6-5-6 8 3 1 1-1 3 0zM235 90l-5 0-4 5 0 1 6 5 2-2zM332 278l-3 1 1 9 3-4 0-5zM329 73l-3-2-1 1-3 0-1 2 1 1zM86 103l-3 1-2 4-5 4 6 0 3-4zM305 200l3 3 3-2 2 0 0-1zM241 24l-2 0-7 4 0 2 4 8 4-4 3-7zM161 106l-2 0-4 4-2 5 0 4 4-2 0-3 3-4zM209 331l1 1 5-4-5 0zM233 65l-4 0-4 4-2 5 3-1 5-4zM191 26l-6 3 1 2 5-3zM170 211l-2 0-2 2-1 3-4 5 4-3zM288 9l-4 6-1 3 1 1 6-8zM171 96l-5 3-5 6 1 1 6-4zM2 24l-1 0-1 2 2-1zM281 34l-5 2 1 4 3-3zM5 206l7-2-5-1zM15 13l-4 0-1 2-5 4 1 1 3 0zM153 275l-6 4-3 4 2 0zM61 94l4 0 7-3-9 0-3 1zM179 175l-10 9 3 3 3 0 2-2 2-5zM277 140l-3 1-2 2 0 2 6-3zM323 279l0 2 6 2-1-4-3 0-1-1zM21 69l-7 2 0 1 3 2 4-3zM112 136l-4 0-6 8zM23 119l-3-2-5 1-3 2 0 3-1 1 1-1 9-1 2-1zM221 288l-3-2-2 1-7 0-4 4 8 0zM104 306l-5 6 1 3 1-4zM312 100l-7 1-1 5zM331 0l-3 0-3 4zM156 293l-6 1-2 2-2 5-2 2 1 2 6-3 1-4zM273 191l-6 1-6 3-3 4 2 2 4 0 7-6zM319 146l-4 0-6 5 9-3zM28 299l-3 0-6 7-4 2 1 2 3 0 8-6zM325 226l4 0 0-1-3 0zM0 7l3 1 5-4-8-1zM191 207l-3 2-3 6-9 9 0 2 14-6 3-3 1-6zM162 47l-3 0-2 2 0 2 2 2 3-2zM51 74l-5-1-2 1-1 2 3 2zM67 105l-5 0-1 1-2 9 4-1 5-3zM51 29l-6-2-6 6 2 3 9-5zM290 203l-4 1 0 2 3 0zM2 121l-2 1 0 7 2-5zM332 120l1 2 0-2zM291 56l-1 0-1 6-2 4 4-5zM15 293l4 0 6-2-4-3-3 0-2 1zM30 201l-3-1-3 1-4 7 2 1 1-2 4-4 3-1zM19 217l-13 1-2 7 4 0 7-3zM15 55l-4 5 0 4 3 1 2-6zM15 66l-3 1-1 3 2 1 4-2zM186 259l-12 2-5 5 2 4 6-6zM124 312l-4 6 2 4 5-4 0-3zM76 66l-3 0-5 2-3 3 2 1 5 0 1-1 5 0zM57 305l-3-2-3 0-4 3-1 3 4 2 6-4zM300 53l1 3 6-1-1-2zM74 162l2 2 2 0 3-2 6-1-2-1-8 0zM139 35l-3-1-5 1-5 4-3 5 9 0 4-4zM313 105l4 5 3 0 1 1 3 0 4-4 0-1-6-3zM290 118l3 1 5-3-5 0zM240 148l-7 5-6 6-2 5 5-1 3-2 3-4zM333 205l-1 2 1 0zM53 55l-4 2-4 4 0 4 2 2 6 0 3-3 0-4zM227 276l-5 1-4 3 0 1 5 1 4-4zM243 15l-5 3-4 1-2 2-2 5 2 1 8-4 3-6zM305 331l1 2 13-1zM181 120l-3 2-1 7-1 1z"/>
<path fill="#33ff55" stroke="#33ff55" d="M192 29l-2 0-4 3 1 1 4 0 1-1zM277 15l-3 0-10 7 11 0 2-2zM53 7l-3-1-3 2 6 0zM126 74l-3 1-4 8-5 5 7-2 4-5 0-2 2-2zM12 21l-2-1-1 1-3 0-2 2 4 0zM56 242l-3 0-5 4 1 1 3 0zM172 105l-2-2-3 0-3 4 0 4 4-2zM0 259l0 4 1 0zM221 248l-4 4-4 2 1 1 5-3zM278 143l-6 3 1 5 5-6zM58 306l-9 7 0 6 4 2 4-5zM138 63l-6 7-7 3 3 2 6 1 4-10z"/>
<path fill="#ff3333" stroke="#ff3333" d="M283 209l-2 2-2 5 5 2 3-3 0-2-3-4zM175 260l13-2 3-3-2-3-8 0-4 2zM285 204l-3 2 0 2 3-1zM174 28l0 3 2 0 0-2zM325 271l-4-4-2 1-1 4 6 0zM277 228l-4 1-1 6 3 0 2-2zM312 175l-4 5 3 0 3-2zM248 230l-8 6-2 5 7-1 4-3zM240 210l-4 0-1 1 0 3-3 4 3 0 4-5zM229 201l-2 0-3 2-2 9 6-4 0-5zM244 253l1 1 4 0 3-1 3-3-4-2-3 0zM223 238l-3 1-3 3-1 4-5 7 6-2 4-4zM224 227l-3 0-4 7 1 6 6-4zM238 220l-3 1-6 5-4 7 0 2 4-5 7-6zM250 273l0 2 3 0 4 2 3-1 0-1-6-3zM73 92l-9 3 0 2 5 2 2 2 2 0zM213 233l-5 6 7 3 2-1 0-4-1-3zM283 226l3 7 2 0 3-3-3-4zM192 109l-4 1-6 9 8-2 0-3zM205 0l-5 0-4 2-4 4 1 3 4-2zM189 224l-1 3-5 6 5 1z"/>
<path fill="#9966ff" stroke="#9966ff" d="M242 212l-1 0 0 4-2 3 4-4zM146 163l-7 1-1 1-5 0-1 5 2 2 2 6 3-4 5-4zM230 219l-5 1-3 2-1 4 3 0zM42 42l-2-3-6 4 2 1 5 0zM71 116l4 1 9-3 0-1-10 0-2 1zM50 262l-2-1-5 5-3 1 0 1 5 1zM10 60l-8 5 7-1 1-1zM224 165l-6 7 3 0 1 1 1-1zM48 98l2 1 5 0 2-2-6-1zM255 184l-4 2 1 3zM21 63l1-1 6 0 2-2-6-1zM84 236l-4-1-6 5 0 2 5-2z"/>
<path fill="#ffdd33" stroke="#ffdd33" d="M249 139l-2 0-4 4-6 14 3-1 5-5 2-6 3-4zM193 10l-2 2-1 5zM298 139l-7 2 2 3 3 0zM173 28l-3 2 0 3 1 1 2-2zM156 206l-2 2-1 5-5 9 1-1 3 0 0-2 3-6 0-6zM245 294l0 4 1 1 12 0zM237 112l-2 0-6 3 2 8 2 0 2-5 3-3zM176 11l1 2 5 0 3-5-7 0zM150 176l-4 2-3 5 4-2 3 0 1-2zM133 98l0 7-1 2 8 0 4-7-5-2zM227 117l-3 1-6 5-6 10 6-4zM151 316l-3 0-1-1-5 0-1 1 3 10 3-3zM98 21l-9 4-1 2 7-2 3-2zM63 197l-7 1-4 4 0 2 4 2zM103 79l-10 3 1 1 9 0zM131 30l-2 1 1 4 2-1zM249 205l-2 0-6 5 3 2zM292 134l-2 0-3-2-5 4 1 1 4 0zM83 51l4 2 3 0 1-1 3 0 1-3-2 1-2-1-6 0zM173 123l-2 2 0 4 2 0zM242 46l-4 1-2 4 1 3 4 1zM140 90l-8 4 0 1 2 2 4-1 2-2zM66 132l2 4 1-1 9-1-8-5zM246 162l5 1-3-3zM102 24l-5 0-2 2-7 2 0 1 11-3zM73 137l-12 7 3 0 8-4z"/>
<path fill="#ffccee" stroke="#ffccee" d="M155 327l-5 3-4 0-1 3 7 0zM261 29l1 1 6-3 2 0 5-4-12 0zM286 290l3 4 4 0 2-2-1-3zM30 4l-6-1-5 4 5 0zM307 274l0 3 1 1 7 0 2-2zM38 201l0-2-10 1zM46 79l-2 0-7 5-4 0-2 1 0 1 3 0 5 2 7 0 1-3zM214 308l-7 4 4 3 4-6zM124 284l5 0 1 1 7-6-4-4-8 0 0 8zM185 132l-2 3-9 8-1 3 11-7 2-6zM329 258l3 0 1 1 0-3-2 0zM72 43l-1-1-3 0-3 2-1 3zM270 297l10 0 8-3-11 0zM215 108l-4-1-4 6 0 5 1 1 7-6zM13 249l-2 1 0 1 2 2 0 3 2 0 1-1 0-5zM333 314l-3 3 1 1 2 0zM105 95l-8 2-2 2 5-1zM286 40l-2 4 2-1zM90 284l3 1 5-2 4 0 2-2-10-1zM205 185l-4 0-2 3 1 7 1 1 2-2 1-8zM181 278l-4 0-6 13 8-7zM58 297l-2 6 2 2 2 0 3-2 0-2-3-4zM213 232l-8 1-6 8 7-2zM323 278l-5-1 0 3-2 3 1 2 2 0 2-2zM88 273l-1-1-5 0-3 5 0 2zM211 88l-4 2-1 2 2 1 4-2zM66 35l-3 0-5 4 8 0zM239 316l2 0 6 3 1-1 4 0-2-3-10 0zM100 284l-8 2 0 9 3-7zM21 72l2 5 4-1 0-5-5 0zM109 238l-6 4-5 1-1 1 0 3 2 1 7-3zM78 266l3 2 4-3-5 0zM296 32l9 4 2 0 3-3-6-3-4 0zM67 166l10-7-12 0zM66 9l-2 4 6 1 0-2zM12 91l-7 5 0 6 1 2 3 0 4-2 5 0 0-4-4-3zM108 104l-4 1-15 8 5 4 13-11zM86 313l-3 0-5 3 1 2 7-4zM175 117l-4 1-4 5 4 1 2-2zM188 190l-2 0-11 10-2 3 0 3 6-6 9-6zM220 318l-9-1-9 4-3 4 2 2 2 0 4-3 10-2zM283 69l-3 2-2 0 2 4 1 0z"/>
<path fill="#dd33ff" stroke="#dd33ff" d="M303 238l-5 1-5 5 1 4 10-5zM216 5l-2-2-3 0-2 1-3 4 7 0zM291 275l0 1 3 0zM330 153l-6-3-7 5 1 3zM196 100l-2 0-2 4-5 5 6-1 3-3zM79 31l-3-1-1 1-3 0-2 2 1 1 6 0zM38 152l-3 0-4 2 3 0zM320 227l5-2-3 0-2 1zM246 124l5-3 8-1-12-1zM120 272l-3 0-4 16 6-5 2-5 3-3zM134 216l-10 9 2 4 4-1 7-9zM307 282l4 5 6-1-1-2-2-1zM17 53l5 3 9-4-8-1zM272 277l0 1 8 2 2-5-2-1-5 0zM208 101l-4 3 0 3-1 1 3 5 5-7zM285 67l-8 1-4 4 7-2zM69 52l-2 2 0 5 2-1 1-3zM136 245l-4 3-3 5 3 5zM293 134l-2 2-5 2 0 1 4 1zM190 144l-7 10-1 4 5-4 3-6z"/>
<path fill="#ffccf6" stroke="#ffccf6" d="M262 144l-6 1-4 5 3-3zM91 314l-4 2-2 6 6-5zM265 124l0 4 5-2 0-1zM155 297l-2 1-1 3 2 4 2-3zM173 253l-4 1-2 3-2 9 2 0zM93 22l-2-1-7 3 0 1 4 0zM59 73l-2-1-6 3 2 2 4 0zM116 272l-3 0-2 1-1 2 0 7 2 1 2-1 0-4zM173 211l-1 0-3 6 1 2zM74 293l-1-1-1 1-9 0-1 5 2 4 10-7zM261 327l0 4 8 1 0-3-1-1zM111 195l-11 5-2 2 10-2 3-2zM161 253l-6 0-2 2-3 9 3 0zM261 282l0 2 3 0 1 1 2-2-1-1zM300 296l0 2 5 0 0-1-2-1zM315 201l-4 1-2 3 6-1zM142 311l-13 8 0 4 2-2 7-3 3-3zM120 194l-2 2-8 3-2 2 0 2 11-5 2-2zM319 61l0 2 5 0z"/>
<path fill="#6666ff" stroke="#6666ff" d="M87 299l-8 3-2 5-2 2 10-1 2-4zM227 81l-1 1-3 0-1 5 4-1zM290 95l1 1 3 0 7-4-10-1zM256 0l-3 0-1 2 1 1zM35 69l-5 0-2 1 0 6 3 1 5-3 0-4zM228 131l-7 5-1 2 1 2 7-1zM159 136l-5 2-2 6-4 6 5 3 4-3 3-7zM224 194l-3 2 2 6 1 0 1-3 0-4zM81 124l-2-1-5 0-2 3-3 2 3 1 7-3zM308 47l-7 5 5 0 2-3zM287 4l2 1 6-5-6 0zM201 284l-5 2-9 1-1 5 3 1 4-4 3-1zM140 317l-5 7-1 3 2 1 3 0 4-2zM265 178l-8 10 5-4zM63 288l10-1 0-2-8-2zM167 132l-2 2-5 2 1 5 3-2 3-5zM185 243l5 3 2 0 4-3 4-5-10-1zM306 138l-3 0-1 1 1 3zM285 40l-5 3 0 1 3 1zM94 322l-2 1-2 6 5 0 0-5zM198 325l-12 8 5 0zM270 39l-3 1-2 3 2 1 3-3zM331 154l-14 5 1 1 9 1zM256 191l-10 9 1 4 5 0 2-1 3-4-1-2zM201 141l-3 1-2 3 2 4zM237 275l2 4 6-5-7-1zM70 271l-3-2-3 3zM261 255l6 0 2-1 0-2-5 0-2 1zM44 115l-3-1-2 2 0 2zM131 10l-11 4 0 4 6-2zM105 318l-4-1-1 5-4 5-1 3 3-2 3 0 5-5 0-4zM214 141l-1 1 3 2 1-3z"/>
<path fill="#ffffff" stroke="#ffffff" d="M325 28l1 7 1 1 6 0 0-8zM52 322l-2-2-3 0-7 5 2-1 7 0zM113 248l-4 1-2 5 4-2zM256 303l7 1 0-4-5 0zM65 90l7 0 2 1 2-3-6-3-2 0zM66 86l-3 2-2 0-2 2 0 2 5-2zM70 51l0 3 5 1-2-6zM52 95l1 1 4 0zM8 164l2 5 2-1 3 0 6-6-11 0-2-1zM205 194l-5 3-8 8 0 3 2 2 1 0 1-3 3-3zM86 53l-5-1-2 6 7-4zM65 133l-5 6 6-2 1-1zM98 13l-6 7 2 2 5-3zM191 247l-5-2-2-2-7 8 1 1 3-1 8 0zM125 243l-3-2-3 5 6-2zM267 167l-1-1-7 4-9 11 1 1 7-6 7-4 2-2zM250 187l-6 11 1 2 3-3 1-4 2-2zM106 66l-4 5 1 2 4-3 0-3zM121 87l-8 2-1 2 8-2zM121 241l-2 1-5 0-2 1 0 1 3 1zM84 10l-4-1-4 5-3 2 0 2 9-4zM232 281l-9 2-2 4 4 2 4 0 4-4zM46 240l-6 3 3 1 3-2zM18 170l-2-1-6 1-3 3 0 4 2 1 9-7zM97 91l-3 0-8 3-1 1 1 3z"/>
<path fill="#66ccff" stroke="#66ccff" d="M107 50l2 1 9-5-2-1-5 0-3 2zM250 20l-4 5 0 3 2 4 5-3-3-4zM152 100l-2 1-4 7 4-2zM134 265l-4 1-2 2-7 3 0 1 4 2 4-3zM256 286l-8 1-2 2 0 4 12-2zM303 292l-1 3 7 3 3 0-5-5zM180 169l-9 13 7-7zM91 141l-4-2-3 0-1 1 1 10zM21 223l-3 1 0 3 1 1 2-1zM331 214l-2-1-3 1-7 8 2 1 3-1 5-4zM190 156l-3-1-4 4-1 6 3-1 4-4zM179 93l-4 3 1 5 4-6zM321 313l4 1 3-5-7 0zM100 11l-1 1 0 5 1 1 3-3zM201 209l-1 1-2 10 1 0 2-3zM128 196l-5 5 1 2 4-4zM98 123l-5-1-10 10-4 2 10 0 4-2 2-2zM75 206l-3-2-2 0-9 7-1 4 4 0 1 1 4-1 5-4 0-4zM0 95l0 5 4 0 0-5zM287 80l9-1 6-3 0-1-6-3-4 0-4 4zM25 160l8 3 3 3 1-1 0-7-7 0z"/>
<path fill="#99ffcc" stroke="#99ffcc" d="M180 67l-1 1-3 0-2 3 4 0zM209 328l-6 1-2 3 1 1 5-1zM320 93l6 3 7 0 0-2zM69 175l-3 0-3 3 3 2zM292 217l-1-1-4 0-3 3-2 5 1 1 5 0 2-2zM74 48l1 3 3 1 3-1-3-3-3-1z"/>
<path fill="#33bbff" stroke="#33bbff" d="M132 171l-1 0-1 4-4 4-1 4 8-1 2-2 0-3zM266 145l-1 0-3 5 4-2zM271 234l-4 2 1 1 3 0zM236 322l1 2 10-1-1-2zM319 249l-9 4 8-1zM166 74l-1 0-1 4 3-2zM89 161l-5 1-7 3 1 2 5-3 7-1zM73 288l-11 1-3 2 1 1 12 0 1-1zM112 36l-15 1 1 3-1 7 6-3 4-4 4-2zM184 29l-1 1-1 0-1 1-1 0-1 1 1 0 1-1 1 0zM119 38l-2 3 0 2 5 1 3-5zM211 332l4 0 3-2 2 0-4 0-1-1zM144 109l-4-1-1 2-5 4-1 5 7-3 2-2zM280 201l-2 5 2 0zM292 121l-6-1-4 7 2 0 6-5 2 0zM219 121l-6 2-1 4-4 6 0 2 3-1zM238 55l-2 6 4-5zM166 122l-2 1-1 3-5 5 4-3zM76 181l4 2 2-1z"/>
<path fill="#3399ff" stroke="#3399ff" d="M131 202l-2 3 0 5 3-5zM171 152l-5 10 0 3 3 2 3-1 2-3 0-2-3-5zM30 66l-3-1-4 2-1 3 5 0 3-2zM149 6l-1-1-8 3 0 1 7-1zM55 136l0 1 3 2 3-2 0-1zM40 208l1 1 0 3 4-3 10-2-3-2-9 0zM208 166l-3-1-4 9-2 2 0 2 3 0 4-3 2-5zM285 119l-4 0-3 3 0 4 3 1zM8 105l-6 4-1 3 1 3 4-1zM325 126l-9 3 5 1 3-2zM49 191l-4 5 1 1 5-2 0-3zM170 37l-3 3 0 2-2 3 7-2zM264 124l-3-1-11 11-2 4 3 1 7-3 6-7z"/>
<path fill="#eeccff" stroke="#eeccff" d="M79 48l3 3 2-2 0-1z"/>
<path fill="#33ffbb" stroke="#33ffbb" d="M132 0l-3 2-8 2-6 3-1 2 2 1 3-2 2 0 5-4 5-2zM158 189l-2 5-3 3-6 1 1 4 7-1 5-2 1-4zM307 224l-8 5 7 2 0-5zM176 174l-9 10 4-3zM39 201l2 0 5-3-2-2-3 0-1-1zM272 228l10-2-1-2-7 0-2 2zM122 121l-10 6 1 3 6-2 4-5zM109 223l-3 0-6 3 0 4 6-2zM13 199l2 2 6-3-1-2-5-1zM15 84l0 3 1 1 4 0 1 1 3 0 6-3-12-4zM49 129l-8 4 6 0 2-2zM143 115l0 3 2-2z"/>
<path fill="#ff7733" stroke="#ff7733" d="M260 63l-1 1 0 7 1 1 0 3 3 0-1-3 0-9zM233 71l-6 6 1 1 6-5zM144 51l-2-3-3 1 0 2zM147 140l-1 1 1 6zM143 55l-4 3-1 2 1 3 2-4 3-2zM139 8l-7 2 0 1 7-2zM266 80l-3 4 1 2 4-5zM255 67l-3 5 0 2 3 1zM168 167l-3-1-3 5-11 9-2 4 2-2 8-3 7-7zM243 56l-2 0-6 8 5-1 3-3zM35 32l-2 0 1 2 0 8 6-4 0-3zM96 8l-5-1-6 2 8 1zM121 198l-12 5 1 1 7-1zM16 191l-6-5-5 3-3 6 1 2 2 0 9-3zM192 148l-2 1-2 6 3-1 2-4zM2 179l0 3 5 4 4-1 1-2-4-5zM197 225l-3 1 0 2-4 7 1 0 6-7zM25 161l-2 0-7 7 4 3 6 0zM284 59l-4 2-8 0 1 3 1-1 6 0 2-1zM159 5l-3 6-4 4 2 2 4-2 4-5zM158 34l-1-1-4 2-3 0-2 2 0 3 3 0 6-3zM245 255l-3-2-3 0-6 7 9-2 1-2zM121 138l-2 0-5 3-4 4-1 3 5-2zM24 121l0 9 1 1 10-2 1-2 0-3-9-5zM101 56l-6 0-1-1-3 3-2 5 2 1 9-6zM199 17l-1-1-5 6 5-3z"/>
<path fill="#ff6666" stroke="#ff6666" d="M177 252l-2 0-2 2-1 4-4 7 7-6zM30 225l8 0 0-2-7 0zM272 260l-6 0-5 3 0 1 9 0zM37 135l5 3 3-1 1-3-5 0-1-1zM73 245l-3 2 3 1z"/>
<path fill="#7733ff" stroke="#7733ff" d="M227 326l-2-1-1 1-4 0 0 1 5 1zM309 181l-3 1-4 7 6-5zM311 184l-1 2 1 1 0 3zM110 171l-7 6 2 2 6-3 2 0zM3 25l4 0 1-1-5 0zM100 29l5 2 5 4 3 0 1-4-8-6zM101 71l-4 2 0 3 5-2zM164 207l-5 9-5 5 0 2 6-2 4-5 0-4 1-1-1-1zM323 141l2 3 3 0 3-2-7-3zM59 128l-9 3-2 2 8-1zM300 207l-1-1-1 1-5 0 0 2 6 0z"/>
<path fill="#66ffcc" stroke="#66ffcc" d="M267 299l4 4 11-4-2-1-10 0-1-1zM56 186l-4-3-14 3 9 0 1 1 7 0zM329 246l-1-1-8 4 0 3 5-1 3-2zM52 45l-3 1 0 1 3 0zM194 223l0 2-5 10 4-7zM294 249l0 1 8 5 4 0 3-2-5-9zM120 253l-4 3 0 3-2 5 3-4zM333 190l-1 1-5 0-2 1-2 7 3 0 5-2 2-2zM53 263l-2 3 0 3 5 0 0-3z"/>
<path fill="#99ffdd" stroke="#99ffdd" d="M210 316l-5-5-12 3-2 1-1 2 3 3 1 3 4 1 4-4 8-3zM192 270l-7 4-3 3-2 6 8-3zM59 324l-6-2-4 3 0 5 10-5zM169 32l-4 5 0 2 2 0 3-3zM242 11l-4-1-3 2-2 7 10-5z"/>
<path fill="#ff9966" stroke="#ff9966" d="M60 333l4 0 1-2-3 0-2 1zM284 60l0 1-3 2 5 3 1-1zM90 156l-8 3-3 0 10-1zM134 159l-8 0-4 6-1 6 4-4 7-2zM23 122l-8 2 0 11 3 0 6-3-1-2zM301 262l-3 0-5 5-4 2 2 1 8-1zM119 136l-6 0-9 8 6 0 4-4 4-2zM247 108l-3 2-6 1 0 3 5 0 2-1 2-3zM146 117l-9 6 0 7 8-6zM242 314l9 0 6-2-4-1-4-3-2 0zM327 145l-3-1-3 1-2 3 8-2zM219 277l-4 0-5 4 5-3zM169 20l-2 0-5 6 5-1 2-3zM189 19l-3 4-1 5 6-3 1-2zM268 85l-3 7 2 0 1-2zM87 215l-5-3-4 8zM298 178l-6 0-7 8 3 1 2-2 4-1 3-2zM37 292l-3 0-4 6zM250 307l0 1 3 2 8 1-2-3zM292 216l7 0 1 1 1-1 0-3-5-1-2 1zM133 142l4 0 3-3-4-2-3 0zM77 180l9 0 3-1-1-2-8 0zM220 261l-3-2-5 2-2 6 5-4zM324 215l-5 0-2 2 0 2 3 1z"/>
<path fill="#33ff33" stroke="#33ff33" d="M144 45l-5 3 2 0zM333 134l-5 3-3 0 0 1 5 3 3 0zM287 140l-3-1-4 2 2-1zM69 232l-6 2 1 3 4-1 1-1zM265 291l10 0-5-1-3-2zM93 158l-7 1 0 1 4 0zM39 194l-2-3-1 0-4 4-6 3 0 1 12-1zM183 66l-2 1-2 4zM204 20l-2 0-5 6 2 2 2 0 2-2 0-2 2-3zM130 87l-8 4-1 2 8 1zM150 287l-5 4-2 4 0 6 1 1 1-1 0-5 5-6zM304 256l0 5 3 1 5-1 0-2-4-4zM37 126l-1 4 3 2 3 0 1-5zM279 144l9-3-6 0-3 1zM147 71l-7 2-5 3 0 2 2 1 8-3zM67 167l-3 2-5 1-4 3 9-1 2-1z"/>
<path fill="#66ff7f" stroke="#66ff7f" d="M222 306l-4 1-4 4-3 5 6 1 7-6zM112 126l-4-5-9 2-4 8 3 2 2 0zM322 258l-1-1-8 4 2 3zM62 318l-1-1-4 0-3 5 5 0zM179 241l9-6-2-1-6 0zM261 162l-1-1-7 1-1 2 4 1zM145 57l-3 2-2 4 2 0zM187 308l-8 0-8 9 3 2zM150 0l-5 1-3 2 0 2 1 1 4-1zM39 164l4 0 6 2 4 0 1-1-1-3-3 0-1-1-6 0zM203 85l-6 0-3 4 0 6 3 0zM72 5l6 1 1-2-7 0zM80 188l4 4 0 4 8-7-4-2-6 0zM38 158l0 6 3-3z"/>
<path fill="#ddff33" stroke="#ddff33" d="M128 254l-7 8 0 4 1 1 6-4 3-4 0-2zM83 72l1 3 6 2 3-4 0-1-3 0-1-1zM153 17l-1-1-7 1-7 6 12-1 3-3zM91 19l-3-3-4 4 0 3 6-2zM177 123l-3 1 0 6-2 4 4-5z"/>
<path fill="#ff99cc" stroke="#ff99cc" d="M134 326l-5 2-3 3 0 2 3 0zM299 320l5 1 6 4 4-2 0-1zM173 298l-9 2-2 4 9-3zM209 189l-9 14 5-1 4-4 2-4 0-2zM318 229l1 1 13-1-2-2-8 0zM61 40l-4 0-2 3 0 2zM292 210l5 1 0-1zM294 55l-1 2 2 1 1-1-1-2zM107 230l-2-1-3 2-2 0 0 1 2 2 3 0zM23 246l-5 3 2 0zM154 310l-4 0-8 4 9 1zM100 187l-1-1-3 1-5 4 1 1 7 0 1-1zM25 267l0 1 3 0 6 3 2 0 3-3 0-1-4-2-4 0zM22 243l-5 1-2 4 2 1 5-4zM266 162l-4 0-6 4-4 11 7-8 6-3zM76 214l-4 6 4 0 1-1zM281 25l-2 0-4 5 4-1zM105 24l-2 0-4 3-11 3-1 3 4 0 1 1zM328 199l-6 1-3 2-3 4 6-2zM247 321l3 2 4 0 5 2 3-1 4-4-13-2-1 1-4 0z"/>
<path fill="#ff3355" stroke="#ff3355" d="M276 245l-7 0-4 6 5 0 5-4zM289 233l1 2 4-1 0-3-3 0zM247 211l-3 2 2 0zM26 141l1 3 6 3 2 0 6-4-7-3-7 0zM312 182l2 1 3-2-5 0zM325 182l-5 3 2 4 0 3 3-1 0-2 3-5zM93 90l5 0 5-6-9 0zM206 142l-6 8 1 1-1 1 0 5 5-2zM226 248l-4 1-1 2 2 0zM321 61l5 2 0-2zM262 226l-2 0-2 2 4-1zM322 28l-3 3 0 3 5 3 2-1-2-4 0-4zM127 21l-2-1-2 2 0 2 3-1zM179 234l-3 0 0 9 2-2zM245 224l-2-1-10 4-3 4 4-2 13-1zM257 212l-3-1-5 4-4 7 3 5 4-4 2-5 4-4zM332 307l-4 3-3 5 2 2 2 0 3-3zM154 282l-9 3-4 5 0 9 1 1 0-5 2-4 7-5zM242 259l-6 5-7 3 3-1 11 0-1-1zM63 0l-1 1 0 1 1-1zM317 230l0 6-1 1 3 2 1-8zM217 263l-8 5 0 1 5 0zM113 329l-5 3 0 1 1-1 4 0zM332 216l-1 0-3 4-5 3 0 1 6 0 3-4zM128 207l-3 0-4 7-5 5 10-4 2-4zM333 319l-3-1-13 1-2 1 0 3 7 2 9-3zM242 81l-4 0-7 8 6 0 4-3zM261 186l-4 3 0 8 1 0zM272 225l-3 0-3 4 5-1zM205 161l-7 6-2 5 9-8zM313 232l-2 0-1 1-3 0-4 4 11 0zM248 229l-8 0-4 3-2 5 1 1zM193 257l-2-1-6 5-8 4-6 6-1 5 4-2 6-6 9-5 3-3zM172 147l-15 8-1 7 12-9zM239 135l-6 3-3 3 0 3 7 1 2-6zM308 185l-5 5 3 3 5-2-1-1 0-3zM332 166l-5-3-8 7 1 1 8-1zM272 229l-7 1 0 2 2 2 4-1zM29 9l-7 1-4 3 4 3 4-3zM234 257l6-5-1-1-5 0zM249 255l-5 1-1 2 0 7 9-7zM264 185l-2 0-1 4z"/>
<path fill="#ffbb33" stroke="#ffbb33" d="M54 330l-4 0-4 3 6 0zM271 59l1 1 8 0 3-1 1-3-8-3zM208 31l-3 2-4 6 2 2 2-2 0-2zM125 140l-6 5-3 5 0 2 6-5zM15 149l2 4 5 4 3-4 0-1zM83 14l-4 3-5 1-1 2 1 1 6-3zM146 58l-4 6 0 7-1 1 3-5 1-4 2-2z"/>
<path fill="#cc66ff" stroke="#cc66ff" d="M317 210l-9 10 5-1 5-4zM26 32l1 9 6 1 0-8-1-2-3 0-1-1zM263 202l-3 0-3-2-3 4 1 6 8-5zM21 64l1 3 4-2 1-2-5 0z"/>
<path fill="#e666ff" stroke="#e666ff" d="M291 170l-4 2-4 4-3 1 0 1 7 0 4-2zM158 37l-8 4-4 9 11-9zM129 285l-5 0-3 5 3 0 1 1 3-3zM221 223l-6 1-7 6 8-2zM113 328l-2 0-6 4 2 0zM179 83l-2 1 0 5 2 3 2 0 2-6zM50 32l-1 0-2 6-4 4-1 2 1 1 3-1 4-4 1-3zM295 276l3 1 0-1zM7 7l-4 2 3 8 2-1 3-4 0-2zM89 306l-4 3-1 3 2 0zM41 187l2 0 5 3 3 0 4-2zM40 306l-2 1-5 0-7 4-2 0 1 1 3 0 1-1 7-1 2-1zM41 110l0 1 7 1-1-4-4 0z"/>
<path fill="#ccff66" stroke="#ccff66" d="M298 210l1 2 3 0 1-1 0-2zM254 84l-7-2-5 3 0 4 2 1zM170 292l-7 1-2 6 2 0zM270 114l1-1 7-1 3-2 1-2-5-3-6-1-1 1zM95 152l-4 3 0 2 5-1 1-1zM254 188l-4 5-1 3 7-6zM282 300l-11 4 0 1 2 2 6 1 3-5zM215 276l-1-1-6 1-5 7 5-1zM326 147l-1 3 2 0 4 3 2-2 0-5-5 0zM52 1l-2 0-7 4-4 5 2 1 5-6z"/>
<path fill="#66b2ff" stroke="#66b2ff" d="M11 300l-4-2-6 2-1 1 0 4 2 1zM153 221l-2 1-4 5-2 4 2 1 6-7zM50 90l-6 5 2 3 6-4zM168 266l-5 7 7-2zM39 104l-5 0-1-1-3 2 2 5zM197 20l-5 4 0 4 1 1zM60 158l-5 4 0 3 4 4 2 0 0-8zM48 33l-7 4 0 3 1 1 4-3 0-2zM234 244l-1-1-4 1-2 4 2-2zM312 315l3 4 11-2-1-1zM66 264l-4 0-5 2 0 3 1 1 5-5zM149 70l-3 5 1 3 1 0 3-5zM109 278l-7 6 1 1 4-1 2-2zM0 90l0 4 2 0-1-4zM187 14l-5 0-3 8 4-1 2-2zM152 255l-3 2-1 3 1 2 1 0zM257 38l-3 6 5 4 3-3 1-3zM87 186l4 2 3 0 1-1-2-1zM81 272l-5 0-1 8-2 4 1 1 3-3 1-5zM47 68l0 4 3 1 6-1 0-2-2-2zM62 293l-2 0-1 3 2 1zM269 93l-6 0-3 2 0 4-1 1 3 0 3-2zM316 230l-2 1 1 6 1-1z"/>
<path fill="#ff6680" stroke="#ff6680" d="M278 174l-1-1-5 0-4 2-3 4 1 1 4 0zM87 169l8 0-4-3zM318 186l-6 5 7 4 2-2 0-4-1-2zM99 90l-3 3 1 3 5-1zM32 113l3 0 5-2-1-1-6 0zM238 270l-4 1-5 3-1 3 3 0 4-2 3-3zM79 135l4 3 3 0 0-3zM315 205l-6 1-3 2 5 1 4-3zM327 259l-5 7 3 4 5-1-2-4 0-5zM262 219l-4 3-1 3-3 3 3 0 1-1 1-4zM192 272l8-2 0-2-5 0zM141 64l-2 0-2 8-2 3 3-1 3-3zM240 194l-8 5 4 2zM108 51l-2-1-5 2-6 0-2 1 2 2 8 0zM38 157l4 4 1-1 4 0-4-3zM9 314l-3 1-6 6 6-1zM278 210l-4 3 0 4 3 0 2-3z"/>
<path fill="#9933ff" stroke="#9933ff" d="M107 270l-2 2 0 3 2 2 2 0 0-2 2-3-1-2zM77 179l-1 1-7 1-1 1 1 3zM328 185l-2 6 1-1 5 0 1-1 0-3zM292 200l-3-2-2 0-2 2 0 3 5-1zM303 29l6 3 2 0 1-3-4-3zM164 122l-10 11 8-7zM146 146l-3-1-10 7-5 6 7 0 12-7zM122 45l1 4 3 5 1-2-2-3 0-4zM42 282l-1-1-11 6-1 2 5 0 7-5zM214 203l-12 6 0 6 2 0 2-3 8-7zM221 289l-7 2-8 4 5 2zM6 76l-1 1 2 5-1 5 7-2 1-1 0-4-3-3zM312 183l0 7 1-1 0-5zM31 114l-3 5 2 0 4 3 2 0 2-4-3-4zM250 182l-2 1-3 6 0 6 2-5 4-5zM279 201l-6 4-2 6 6-5zM99 170l-5 0-5 7zM279 177l-6 5 0 5 1 2 1-1 0-3 4-6zM133 204l-2 4 3-2zM255 155l-6 4 2 3 3-1 2-5z"/>
<path fill="#ffff99" stroke="#ffff99" d="M68 20l-3 0-5 3-4 1-5 4 1 2 1-1 4 0zM308 263l-6-1-2 7 3 1zM141 42l-8 2 1 4 3-1zM69 51l-4-1-2 2-4 1 8 0zM151 185l-3 1-1 8-1 1 1 2 6-1 3-4 0-3zM120 159l0-2-7 1zM259 214l-4 4-2 5-5 5 1 1 4-1 3-3 3-5zM163 226l-3-1-3 2-3 4 1 1 4 0 1-3zM71 85l6 3 4-2-3-4-2 0zM205 27l-3 1-1 10-1 1 7-9zM48 326l-4 2-4 5 4 0 4-3zM215 69l1 3 6 2 2-5-6 0-1-1zM195 15l-5 3 2 4z"/>
<path fill="#bbff33" stroke="#bbff33" d="M54 275l-3 0-8 4-1 2 1 1 7-2zM289 163l-7 0-5 2 0 2-3 5 3 0 1 1 6-6 4-2zM185 99l-5-3-3 5-1 4 7-3zM269 182l-2 2 0 6 1 1 3 0 2-1-1-7zM142 279l-2-1-5 3-9 10 13-7 3-3zM81 105l-5-2-2-2-6 3 0 4 1 2zM160 232l-1 10 2 4 3-4 1-5z"/>
<path fill="#ff3377" stroke="#ff3377" d="M175 72l1 2 3 0 0-2zM205 273l2 2 3 0 7-3 2-2-11 0-2 1zM51 179l-7-1-6 5 0 2 6-2 6 0 2-1z"/>
<path fill="#3377ff" stroke="#3377ff" d="M271 269l-3 0-1 3 2 0zM214 243l-5-2-2-2-2 1 0 7 2 1 7-4zM150 222l-4 1-6 5-1 6 3-1 3-3 1-3zM122 308l-3 2-2 0-2 2 0 2 1 1zM246 324l-6 0-2 1-1 5-2 3 8 0zM77 304l-2 2-11 5 0 2 4 2 8-8z"/>
<path fill="#b2ff66" stroke="#b2ff66" d="M333 330l-3 3 3 0zM79 9l-7 2-1 3 3 1zM54 20l-8 3-1 2 3 2 3 0 4-3zM24 90l0 3 9 8 1-5zM219 305l-2 0-3 2 2 1 3-2zM57 298l-1 1-4 0 0 3 3 1z"/>
<path fill="#66ffb2" stroke="#66ffb2" d="M205 9l-8 3-1 2 2 1 2 3 2-1zM31 111l-3 0-3 2-3 4 2 3 4-3 3-4zM102 178l-6 3 2 1zM217 116l-2 5 4-1zM71 226l-3-3-6 3 1 2 3 0 3-2zM173 247l-6 5 3 1zM302 317l5 0 7 2-4-5-5 0-2 1zM170 3l6-1 3-2-9 0zM184 51l-2 0-9 8 4 5 8-8 1-3zM67 317l-4 1-4 5 1 1 5-1zM291 14l6-2-5 0zM181 204l-9 6 5-1zM26 248l-3-1-3 4z"/>
<path fill="#33ff99" stroke="#33ff99" d="M228 91l-2-4-5 1-5 4 0 1 5 3 4 0zM164 22l-4 2-1 2 1 1zM205 180l-4 4 4 0zM222 151l-6 4 1 5 3-1 0-3z"/>
<path fill="#99ff33" stroke="#99ff33" d="M189 316l-5-2-3 0-6 5 1 8zM197 64l-1-1-4 0-4 6-1 4 8 0 3-5-1-1zM63 96l-5 1-2 2 2 1 5-3z"/>
<path fill="#ffccff" stroke="#ffccff" d="M67 62l3 4 7-2 0-4-9 0z"/>
<path fill="#ddccff" stroke="#ddccff" d="M96 37l-1 0-2 5-5 4-3 1 0 1 6 0 1 1 4-1 0-4 1-1z"/>
<path fill="#ff6699" stroke="#ff6699" d="M2 9l-2 4 0 6 5-1zM287 279l-7 2-1 5 4 3 3-1 2-3zM64 79l5 2 2-2-3-2z"/>
<path fill="#f7ccff" stroke="#f7ccff" d="M316 135l-1-1-5 1-3 2-4 6 6-1 6-5z"/>
<path fill="#ccffdd" stroke="#ccffdd" d="M81 106l-13 6 3 2 6-3zM147 188l-7 4-2 0-5 7 5 2 8-7 0-5z"/>
<path fill="#6699ff" stroke="#6699ff" d="M299 101l0 3 4 1 1-4zM78 37l-1-1-8 3 0 2 4 0 4-2zM189 118l-7 2-1 2 1 1 0 4 3-2z"/>
<path fill="#e6ffcc" stroke="#e6ffcc" d="M197 27l-4 3 0 2 2 1 4-4z"/>
<path fill="#ffcce6" stroke="#ffcce6" d="M199 149l-9 9 0 2 5 0 4-3 0-5 1-1zM319 286l10 3 0-5-4-2-3 0zM50 236l2 3 0 3 3-1 0-2z"/>
<path fill="#e5ff66" stroke="#e5ff66" d="M138 232l-3 2-9 12 6-4 5-6zM207 122l-9 6-4 5 7-2 4-4zM37 49l-2-2-5 4 3 1z"/>
<path fill="#ccccff" stroke="#ccccff" d="M229 140l8-5 0-3-8 0z"/>
<path fill="#ddffcc" stroke="#ddffcc" d="M64 1l3-1-3 0z"/>
<path fill="#ffcc66" stroke="#ffcc66" d="M166 10l-3 0-1 2-4 4-4 2 0 1 8-1 3-3zM113 0l-6 0-2 2 2 4zM249 206l-3 4 1 0z"/>
<path fill="#ffffcc" stroke="#ffffcc" d="M72 35l0 2 4-1 0-1z"/>
<path fill="#d4ccff" stroke="#d4ccff" d="M295 234l6 0 1 1 3-1-5-2-3 0z"/>
<path fill="#ccd4ff" stroke="#ccd4ff" d="M189 34l-4-1-5 2-3 3-1 3 2-2z"/>
</g></svg>
<svg style="position:absolute;left:169px;top:3px;filter:blur(0.35px)" width="165.5" height="166" viewBox="0 0 331 332" preserveAspectRatio="none">
<rect width="331" height="332" fill="#2c2090"/>
<g stroke-width="0.45" stroke-linejoin="round">
<path fill="#40d080" stroke="#40d080" d="M98 191l-12 8 9 0 2-2zM228 329l-10 2 8 0zM32 328l-1 3 3 0 1-3zM276 232l0 3 2 2 4 0 3-2 2 0-7-5-2 0zM121 225l-4-7-8 3-9 0 1 3 3 0 4 2 12 0zM296 216l3 0 5 2-5-3zM264 231l1 2 4 0 3-2-3-1zM122 4l6 2 6-2 4-4-12 0-2 1zM211 147l-6 0-3 3-3 5 1 6 1 0 4-6 5-5zM149 187l-8 5-2 4 1 3 2 1 2-1 7-7zM167 280l16-1-5-3-4 0-5 2zM35 226l-5 0-3 3 0 2 2 3 1-3 5-4zM6 19l-6 4 0 8 1 1 5-3zM265 236l8 2 3-2-7-2-3 0zM43 121l-5 0-5 6 0 4 4 0 6-6zM274 261l-4-3-4-1-2 2-3 7-3 3 3 0 1 1 4-1 5-3 3-3zM165 277l3 1 3-2 5-1-8-1-2 1zM250 39l-4 2-3 5 0 2 6 3 4-5 0-6zM121 250l6 6 9 2 0-2-3-4-3 0-6-3zM32 156l-4 7 2-1zM98 157l-6-4 0 4-2 5 4-1 3-2zM0 96l3 0 3-3-6 0zM12 231l-11 4-1 3 5-2zM166 98l-3 0-4 2 6 1zM307 205l-3 1-3 4 4 3 2 0 3-2-1-1 0-3zM36 152l-2 0-2 7 4-2 1-2zM120 145l-4-2-4 1-2 2-1 5 9 0zM40 194l-3 0-1-1-6 6-3 1-1 6 2 1 9-3 2-2 2-5zM208 241l2 7 3 1 4-1-2-3zM164 19l-4 2-7 7 0 3 2 2 6-2 1-5 2-3zM315 198l-5-1-5 5 0 3 10-6zM28 157l-1 0-2 5 3-1zM287 206l-9 3-1 3 1 1 5-1zM134 252l3 5 9 0 3-1 0-1-3 0-5-2-6 0zM210 151l-9 11 3 4 3-5zM110 185l-1-1-3 0-4 3-3 4-1 5 6-2 4-4zM198 238l-2-1-7 3-4 3-2 0 2 1zM138 252l3 0 9 3 7-1-2 0-8-4-4 0-3 2zM167 279l-1-1-4 0-3 2-3 0-2 2 9 0zM147 104l12 1 1 1 1-1 3 0-3 0-5-2zM200 124l-9-1-4 2-2 2-1 6 11-7 3 0 2-1zM319 223l-5 0-3 2-4 1 0 3 6 6 7-11zM231 206l-5 4 1 4 6-2zM137 67l0 4 2 2 9-1 2-2-1-2-3-1zM169 18l4 7 3 2 1-1-1-1 0-6zM92 151l2 3 5 3 5-1 4-4 0-2-1 1-6 0-1-1-7 0zM159 103l5 1 1-2-4 0-1-1zM31 161l-5 7 4 0 1 1zM223 57l-4 0-4 2-4 7 8 7 5-1 5-3 0-8 1-1zM243 44l-6 4 1 1 3 0zM223 10l-7 6-2 5 11-2 0-6zM330 289l-6 4 0 5 6 1zM26 201l-3 0-2 2-2 5 6-5zM325 201l-4 0-3 3 3 7 2-1 1-2zM150 311l-9 3-3 3-3 7 6-4 1-2 4-4 4-2zM311 212l-2 1 0 4 1 1 2-5zM36 158l-4 2 0 8 3-5zM42 152l-2 0-3 4 0 3 4 5 2-3 0-4 1-1 0-2z"/>
<path fill="#5a40e0" stroke="#5a40e0" d="M39 248l0 2 9 6 4-1-6-7zM35 109l-6-3-12 7 6 0 1-1 7 2zM40 173l-4 0-4 2-5 5 7 0 2-1 4-4zM82 230l0 1 4 1 5 3 10 9-10-16-5 2zM248 154l-3 1-10 9 3 4 1 0 8-9zM229 284l-3-2-4 0-7 6 7 0zM24 311l-3-1-5 7 2 1 2-1 4-4zM122 269l0 1 4 2 12-1-1-2-5-1-3-2-3 0zM228 105l3 4 7 5 12 0-16-10-5 0zM300 171l-6 4-1 9-1 1 10-1 2-5-2-2zM307 17l-1-2-1 1-4 0-6 4-10 4 11-1 7-3zM153 127l-8 1-7 3 3 2 9 0 2 1 1-1zM29 144l-6 1-7 8 9-3 4-4zM191 295l-7 0-2 1-6 9 2 1 5-1 5-4zM154 233l0 2 7 4 6-2 6 0-9-4-4 0-1-1-4 0zM97 228l14 11 7 0-8-6zM90 219l1 4 3 3 6-2-1-3-4-2zM138 272l8 4 4 0 2-2 0-1-11 0zM238 287l4-1 0-1-3 0zM120 112l9 3 7 1-5-4zM158 76l1 2 9 4 7-3-3-5-3 0-1-1-6 1zM190 190l-17 7 0 3 2 0 13-7zM260 46l1 4 5 4 8-2-3-4-4-3-5 0zM249 143l-3-1-2 1-5 0-5 3 9 0zM231 251l0 1 7 0-5-2zM172 2l-6-1-7 8 9-3 3-2zM174 230l4 0 7-3 8-1-2 0-6-4-3 0-7 5zM206 224l11 0 2 1 1-3-1-1-8 0zM177 260l7-3 12-1-15 0zM151 290l-6 0-6 2-5 0-2 2 5 3 1 4 4 0zM152 143l-3 0-1-1-3 2-6 6 1 4 1 0 2-4 5-5zM322 278l-4 6-1 4 6 2 5-7zM283 183l0 1-4 3 0 2 1 1 7 1 3-4zM204 144l-4 0-2 2-4 9-2 2 0 2 3-1 4-4 2-4 4-4zM254 245l-5-1-7 3 2 4 4 0 1-1 3 0zM105 306l-5 1-5 4 2 0zM102 166l2-1 5 0 3-2-7-4-2 0 0 5zM221 154l-3 1-4 4-1 3 2 4 7-5 0-5zM119 232l0 2 2 1 4 0 1-1zM260 129l-2-1-6 0-6 3-2 3 4-2 12-2zM166 110l3 7-1 2 2 0 4-6zM304 180l-1 8 7-2-4-6zM31 117l-1-3-5 0-1-1-1 1-7 0-2 2 8 4 3 0zM35 296l1 2 0 5 1 1-1 2 7 0 3-5zM202 327l-9 4 8 0 0-3zM22 141l-9 8 0 6 2-1 3-5 7-6zM293 158l-7-2-5 5 0 6 5-4 5-2zM83 232l6 8 8 8 5 2 2-1-2-3-11-10zM252 54l2 7 9 1 0-2-2-3zM110 241l12 7 2 0 3-4 0-1-8-3-8 0zM42 173l-1 0-1 3 2-1zM280 162l-7 4-1 3 2 3 6-4zM77 115l9 1 0-1-3-1zM167 69l2 4 10 0 1-1-5-4-7-1zM83 237l-1 4 8 6 5 0-10-11zM129 149l1 7 8 1 2-2-2-4-7-3zM40 205l-7 8 5 0 1 1 3-1-3-6zM119 152l-2 0-2 5 0 3 5-1zM56 288l-2 0-2 2zM45 179l-1 0-9 10-1 2 1 2 9-11zM272 166l-7 0-7 5-2 3 9-2 4-2zM282 272l-7 1-4 2 0 1 4 0zM105 87l-8 0-2 1-3 4 6 3 3 3 5-6 0-4zM58 162l-5 0-2 1-3 7 6-1zM256 251l2 3 9 2-7-8zM54 287l-2-1-4 5 2 0zM154 87l-2-1-5 7 5 0 2-2zM2 106l-2 0 0 7 5-5zM327 215l-7-2-4 6 1 3 2 0zM93 230l6 10 3 3 3-2zM155 87l0 3 14 1zM28 310l-3 1 0 1zM308 191l5 1-2-4-1 0zM88 215l1 3 7 0 3-2 2 0-3 0-4-2zM8 77l-2 0-6 8 7-2zM93 5l-10 8-1 2 1 6 1 0 9-13zM238 283l-4 1-5 7 3 0 6-5zM36 110l2 3 8-3zM25 251l6 9 2-1 7 0-1-2-12-6zM83 57l-4-1-10 11 7-6zM266 307l-3 2 3 5 4-3zM205 167l-2 0-3 3 2 5 3-1 3-4zM28 243l0 2 2 3 2 1 5 0 1 1 0-3-8-4zM330 215l-2 0-4 3-4 5 5 0 5-3zM265 55l0-1-4-3-10 1 0 1 9 3zM259 46l-5-1-4 7 1-1 7 0 2-1zM43 51l-7 0-2 4 0 5-1 2zM279 23l1 1 4 0 14-7-11 0-1 1-3 0zM87 181l-10 1-2 1 0 3 6-1zM101 36l-1-1-6 3-6 9 11-7zM205 1l3 6 3 0 4-4 0-3-9 0zM229 223l1 2 5 4 3 0 5-4 5-2-3-1-12 0-1 1zM195 151l-16 10 11-2zM236 25l10-6 0-2-5 0-5-3zM30 312l-3 0 1 1 0 3 3-3zM165 0l-6 0-8 9 6 1 7-7zM152 94l12 0 3-2-3-1-9 0zM56 172l-3 0-7 7-1 3 6-3 4-4zM127 234l2 2 4 1 0-2 2-2zM43 179l-10 8 1 3zM291 282l-7 2 4 8 4-9zM213 256l5 3 11 0 2-1-3-2-4 0-1-1-8 0zM23 139l-6 0-8 5-1 3 5 1zM140 133l3 6 6 3 3 0 1 1 1-1 4 0 3-2 0-6-10 1-1-1-9 0zM99 44l-12 7 0 2 11-7zM74 182l-5 2 1 4 1-1 3 0zM98 171l-6 0-1 1-7 1 2 2 2 5 3 1 8-6zM7 245l-7-1 0 7 3-1zM90 269l5 7 7-1 5-2 6 0-2-2-3 0-4-2zM240 278l-1 1-13 2 4 3 3 0 5-2zM81 108l-4 2 1 3 4 0zM109 303l-8 3 8-1zM105 38l-4 2-1 5 5-3zM32 181l-6 0-4 4-1 2 0 6 5 0 6-6zM322 277l-7 1-4 3-6 3-2 0-1 6 5 3 5-1 4-4 1-4zM134 95l-2 2 1 3 5 4 2 0-1-6zM266 133l-4-3-7 2 0 2 11 0zM103 176l-4 0-7 5 0 3 8 3 3-1 3-3 0-3zM170 120l10 1 4-5-4-3-5 0zM280 57l5 2 3 0 10-3-17-1zM250 53l-3 0-3 2-4 13 7 2 3-3 3-5zM198 63l-3 0-7 4 3 5 2-1 2-5zM36 111l-4 3 0 3 2 0 3-3zM197 286l-13 0-1 1-3 0-4 2-3 4 6 2 11-1zM39 288l1 3 7 0 2-2 0-2-2-1-3 1-2-1zM59 26l-1 0-3 4 0 5 5-7zM106 211l-10 1-1 2 10 1 0-3zM324 153l-3 9 1 1 5-6zM111 233l9 7 3 0 1 1-1-5-2 0-3-2-6 0zM27 313l-2 0-4 4 6-1zM121 160l-6 1-4 4 3 2 7 0zM217 166l-8 4-3 3 0 2 1 1 4-1zM92 228l13 12 3 0 1 1 1-2-5-3-9-8zM102 260l10 11 1-1 7 0 1-1-4-4-7-2-7-4zM307 243l-10 4-5 4 0 2 5-2 4 0 5-4zM212 137l-7 0-4 3-2 4 1-1 4 0zM262 310l-1 1 0 8 2-1 2-3zM66 106l0 1 6 3 6-1 3-2-3-2-8 0-1-1zM134 240l-5-3-2 1-2 3 3 2zM67 242l3 4 13 7 0-3-4-4-3-7-3 0zM225 111l-7 3 4 0 2-1zM50 33l-3 2 0 4-1 1 0 6 1 2 5-9zM330 38l-5 3 0 2 2 2 3-1zM139 269l0 2 2 1 9 0-8-3zM8 164l-3 3-5 2 0 4 4-3zM16 80l-7 1-1 3 2 1 5-3zM108 197l5 1 2-1 2-3-7 0zM251 283l-2 1-10 0 7 1zM257 309l-1 1 4 5 0-4 1-1-1-1zM54 170l-6 1-5 7 3 0zM94 9l-1 0-8 11-1 4 7-7 0-2zM78 114l-2-4-6 1-3 2 2 1zM330 236l-2 1-6 0 4 9 4 0zM65 214l-2 0-7-4-6 8 1 1 5-3zM280 35l-2-3 0-5-8 5-3 0 0 1 8 4zM140 98l1 6 5 0 5-2-3-2-4 0zM154 231l10 1 9 4 3 0 1-1-3-4-4 0-1-1-13 0zM178 261l3 4 0 3 9 0 1-1 10 1 0-4-9-3-4 0-1-1zM173 30l-4 1-5 5-2 4 12-4 1-1-2-3zM109 206l-3-2-9 5-1 2 10-1 3-2zM243 254l4 2 7-1zM147 11l-2 0-3 3-7 4 1 4 4-1 4-4zM128 264l0 1 10 4 2-1-8-6-2 0zM135 11l-5 2-4 4 0 6 4-4 4-2zM220 226l1 3 3 1 8 0-7-4zM276 124l1 8 9-3 0-2-7-3zM258 245l-3 0-2 5 1 1 5-4zM94 138l1 3 3 1 11 0 5-7-6-3-6-1zM223 132l-2-1-5 1 0 2-2 2 7-1zM110 208l6 0 3-2-9 0zM88 59l-5-1-7 4-9 8-1 4 4 0 6-3 5-4zM48 247l0 2 5 5 4 0 5-3 2 0-1-3-5-2-8-1zM330 315l-4 5 4-2zM145 10l-3-3-4 2-2 2-1 6 7-4zM104 200l1 3 3 0 4-2 0-2zM156 68l3 6 8-2-1-2 1-3-1-1-6 0-2-1zM330 310l-2 2 0 4 2-2zM214 165l-2-3-7 4 3 3 4-1zM10 33l-5-2-5 3 0 13 2-1 9-10zM108 204l1 1 6 0 6-3-9 0zM310 187l-7 2 1 5zM85 175l-3-2-7 9 12-2zM287 41l-4-2-4 3-9 1-2 2 3 2 1-1 6 0 6-2zM205 109l5 4 2 0 4-4-5-2zM24 318l-5 0-7 8 2 1zM26 52l-13 8 11 1 2-4zM73 10l-6 2-4 5-1 3 2 4 3 0 1-5zM91 182l-3-1-7 5-7 2 4 4 7 0 4-4zM264 70l-2-3 0-2-11 2-3 3 1 1zM192 15l-6 3-3 4 3 1zM226 162l-3-1-3 2-8 13 1 0 5-5 3-5zM285 156l-5 0-2-1-6 6 7-3 4 0zM117 37l-5 0-4 4-2 5 3 0zM219 283l-8 0-6 7 2-1 6 0 5-4zM101 331l4 0-1-1zM131 65l-12 0-1-1-7 1-5 5-2 4 12-6 9 0zM220 198l-1-1-5 0-10 5 8 2 7-4zM192 84l8 2 2-6-7 0zM61 31l-2 0-3 5 5 0 1-1zM154 232l-2-1-6 3-6 0 3 4 6 0 4-2 0-3zM330 319l-3 1-3 3-1 4 2-2 5-2zM33 56l-2 2-5 2 4 4 2-1zM35 44l-8 7 0 6-1 2 5-2 4-5zM118 233l0-1-3-2-2 1-5 0 4 2zM94 209l2 0 7-4-7 0-2 2zM58 210l8 4 3 0 3-4-6-2-4 0zM125 228l-4-2-1 1-9 0 10 5 3 0 0-3zM63 203l-8 1-3 2 0 2 2 2 7-2zM54 211l-3-4-4 2-6 6-7 4-1 2 7-2 7 0 3-2zM71 268l-11 3 8 10 2-1 5-6-1-4zM0 279l0 6 4-1 1-3-2 0zM164 127l-3-2-7 1 0 7-1 1 8-1 3-4zM42 177l-1-1-4 3zM23 141l3 2 3 0 5-4-10 0zM15 203l-2 0-4 4-6 3 0 3 3 3 7-6 3-6zM156 326l-4 0-4 5 7 0zM113 259l3 1 8 0 1-1 1 1 3 0-1-1zM69 117l5 0 2-1 0-1-6 0zM317 101l0 1 2 1 11 0 0-1-6 0-5-2zM277 123l2 0 6 3 3 0 3-2 0-1-3 1zM147 142l-3-2-2 0-10 8 6 2zM309 294l0 6 9-2zM70 216l-1-1-6 0-11 4 13-1zM251 66l11-2 0-1-8-1zM302 185l-3 1 0 5 3-1zM31 312l11-3 1-2-8 0-3 1 0 3zM251 284l-1 1-10 2 0 1 7 4 4-3zM253 314l5 0-2-3-1 0zM47 171l-4 3-1 2 1 1zM173 4l-9 5-6 1 0 2 5 6 2 1 5-2 0-2 3-6zM75 271l1 3 7 4 2 0 6 3 7 1-11-5-5-4zM133 226l1 3 5-1 0-1zM39 281l4 5 4-1 0-2-2 0-3-2zM302 104l2 6 7-5-2-1zM135 93l0 1 4 3 11 3 2-4-1-2zM138 265l3 3 5 2 5-4-2 1-6 0zM226 107l0 4 1 1 5 0 5 2-9-7zM293 186l3 6 2-1 0-5zM163 198l-1-1-4 0-10 8 8 0 6-5zM291 252l-7 2-4 5 3 0 5-2zM232 285l-3 0-7 4 6 2zM25 250l2 0 11 6-9-8zM294 129l-7 0-10 4-1 3 12-1 3-2zM178 159l-11 3-1 6 2 2 10-8zM74 235l1 3 6 2 3-5-2-3-2 0zM31 309l-3 2 3 0zM180 38l-5-2-6 3-6 1-5 3 1 2 6 3 5 0 5-3 4-4zM127 235l-3 1 0 3 4-2zM48 286l2 1 3-3-5 0zM204 2l-4 7-5 5 3 0 4 2 3-3 3-5zM39 139l-4 0-5 4 0 3 1-1 7-1 1-1zM42 178l-9 3 0 5zM38 72l-6 0-4 7-2 7 9-5 4-4zM201 263l0-6-3 0-1-1-4 3-4 1 3 0zM161 289l-2-1-6 1-10 12 3 1 9-9zM262 238l1 4 2 1 6-4-5-2zM121 113l2 2 12 6 3-3 0-1-9-1zM158 0l-7 1-8 5 0 1 3 3 4-1zM155 263l-12 2 0 1 6 0zM186 235l-9 1-4 2 3 2 5 0zM296 145l-2 0-3 6-4 4 5 1 2 2 8-8zM128 149l-1 1-7 1 0 4 2 5 7-4zM159 265l-1-1-4 0-6 6 3 2 2 0zM198 145l-2 0-14 13 12-7zM17 112l-11-4-6 6 0 5 9-3 4 0zM231 70l1 3 3 3 3 0 1-1 10 1 0-4-3-2-3 0-1-1-9 0zM199 228l-1-1-9 0-11 4-3 0 3 4 5 0 12-4zM215 324l-6-3-2 1-4 4-1 5 7 0zM55 28l-4 3 2 7zM264 277l0 2 8 4 2-2-1-3-3-2zM16 223l1 1 9 1 5-3 1-2-9-2-6 3zM252 315l-1 2 0 8 4 0 1 1 4-5 0-5-1-1zM156 263l4 1 5-2 8-1-4-2-1 1-8 0-1-1-3 1zM18 254l1 2 11 4-6-9-4 0zM215 132l-3-2-9 3-1 2 11 1 2-2zM329 84l-4 1-4 4-4 2-3 0 2 3 2 1 6 0 5-9zM194 257l-10 1-5 2 4 0 1-1 3 0 1 1zM205 136l-5 0-4 4-1 3 3 1 2-4zM25 218l8 1 6-4-1-1-5 0-2-1-3 1zM50 163l-5 1 0 5 1 1 2-1zM304 121l-2-1-7 7 0 2 5 0zM236 213l-2-1-8 4-2 3 0 2 3 1 10-1-2-3zM5 76l-5 0 0 7zM307 162l5 0 5 2 2-1-3-5-4 0zM223 136l-6 0-1 1-3 0-2 2 9 0 2-1zM103 130l5 1 7 4 2-1 1-7-9-4zM254 132l-9 2-4 4 7-1 5-3zM133 238l2 2 7-2-3-4-4 0zM100 306l-1-1-4 0-3 2-6 1 10 1zM46 102l-3 0-3 2-8 1-1 1 5 3 2 0 7-4zM31 243l8 4 6 0-6-4-3 0-1-1zM181 296l-8-1-5 4-1 2 2 0 6 3 4-4zM107 41l-4 3-2 3 3 0 2-2zM22 18l-1-1-4 0-10 10-1 4 6 2 10-12zM17 77l-3-2-2 0-3 2 0 3 7-1zM168 203l-5-3-6 5 0 3 5 0zM176 68l5 4 1-1 0-3-2-1zM46 35l-5 3 0 1-4 3-1 2 0 6 8 0 2-2-1-2z"/>
<path fill="#2a75f5" stroke="#2a75f5" d="M250 233l5 3 2-4-5 0zM5 99l-2 4 0 3 5 1 2-8zM220 123l2 3 0 3 10-1 0-1-4-2zM79 166l-1-1-3 1-4 5 2-1 6 0zM18 210l-5 4-3 0 5 0 3-2zM265 270l-2 1-6-1-9 4 5 2 3 0 8-4zM263 188l-8 6-3 4 6 1 3-2 2 0 1-1-2-3zM168 213l-10 1-3 2 7 2 4-2zM59 15l-3 5 0 7 2-2 2-5zM315 93l-2-2-2 0-12 6 8 2 4-3 4-1zM323 56l-2-1-1 1-6 0 0 1 2 2 5 0zM62 196l-7 1-1 7 2-1zM34 297l-7 5 4 6 3-1 2-3zM81 260l0 2 8 6 13 0-4-4-6-1-7-3zM206 249l2 6 9-1 0-1-5-4zM314 35l-5 4-3 6 2 0 6-4 1-2 0-3zM121 193l8 2 2-3 0-3-6-1-2 1zM288 307l0 1 3 0-1-2zM126 178l-5-5-4 2-8 8 10-5zM270 154l-3-1-5 5-4 2 6 3 3-3zM240 308l-2 2 2 3zM328 186l-4 0-2 2-3 11 2 0 2-2zM221 98l6 1 2-1 5-6-11-3-3 3zM255 164l-3-3-2 2 0 3 2 0zM65 249l1 2 4 1 10 7-12-11zM81 18l-3 9 3 0 2-2 0-3zM320 26l-9 1-3 3-2 9 2 0 5-5 1-3zM74 82l-1 0-6-7-3 0-5 3-4 4-4 7 4 0 1 1 7-1 4-4zM251 114l6 7 9-2 5-3 0-1-3 0-9-3-5 2zM75 44l-5 4-3 4 3-2zM216 327l-1-1-5 5 7 0zM245 295l1 5 6 0 2 1 5-4 0-1-4 0-1-1zM203 195l-3 1-5 7 8-6zM37 293l11 5 1-2-2-4-7 0-1-1zM198 197l-5 4-3 4 0 2 3-1 1-4zM281 202l1-1 10 0 1-1 0-3-10 0-2 2zM49 93l6-2 0-1-4 0zM82 127l-6 0-3 1-3 3 10-1zM186 76l-6-3-1 1-6 0 3 5 6 0zM188 142l-7 0-7 3 3 0 1 1zM141 309l-4 2-7 7 9-6zM204 42l-5 6-6 3 0 3 4 0 5-5 2-4zM305 162l-6 1-8 7 4 3 4-2 4-4zM320 190l-7 3-2 3 7 2 1-1zM28 304l-2-1-1 3-3 3 7-2zM250 209l-4-4-1 1-4 0-2 2-1 4 9 0zM136 320l-10 2-6 5-1 4 10 0 5-6zM47 95l-9 1-5 8 4 0 7-3zM74 119l2 3 2-1 6 0 1-2zM320 259l-4 1-4 7 6 2 4-4zM9 276l2 0 9-5 1-2-4-2-8-1-1 1zM60 41l-9 12 5-5zM258 19l-2 1 0 1 2 0zM5 249l10 0 1-2-1-2-7 0zM298 84l0 1 2 0 8 5 5 0 0-4-2 0-6-3zM299 4l-3-2-3 0-3 3-7 12 7-1 10-6 1-3zM212 29l2 4 10-2-5 0zM165 301l-6 3-7 5-1 2 3-1 5-5zM330 141l-4 4-2 5 0 2 5 5 1-2zM300 113l-4 2-2 6 1 4 7-6 0-3zM140 222l5-1 8-5-8 0-3 1zM228 104l-10 1-1 1-6 0 4 2 7 0 5-2zM7 147l-7 4 0 5zM286 215l-2-2-7 1-1 4 2 2 1-1 4 0zM75 53l-4 1-5 4-2 4 0 3 3 2 2-1zM69 323l-3-2-7-2-2 2 0 3-4 7 6 0 5-5 5-2zM236 56l-3-1-3 4 2 0zM5 62l-5 5 0 8 2 0 2-3zM65 73l-8 0-5 5-6 3 2 1 6 0 5-5 6-3zM210 283l-2-1-9 3-8 9 7-1 6-3zM72 209l4 0 12-4-2-1-12 0-2 3zM208 186l-5 2-7 7-4 2 9-2 4-4zM241 296l-4 2-3 0-2 6 3-1zM68 23l-1 2 0 5 2 4 0 4 1 0 2-2 0-4-4-7zM54 275l9 5 4 1-5-6zM265 33l1 4 8 0-2 0zM150 221l-2-1-2 1-1 2 2 1 3-2zM45 101l2 0 3-3 6-2-8 0zM93 106l3 5 10 7 1-1 0-10-5-3-5 0zM257 3l6-3 4 0-8 0zM234 164l-4 0-3 2-4 5 0 3 11-9zM264 62l0 1 3 2 3-2zM6 218l3 0 5-3-5 0-2 1zM149 211l-2-6-1 0-9 7-4 2-3 0 4 2 8 0zM134 108l5 1 2-2 5-2-8 0zM300 252l-9 2-1 2 1 6zM49 310l0 1 5 4 2 4 2-4-1-5-1-1zM164 179l-8-1-6 8 1 4 3-1 5-4zM289 302l-3-2-8 4 0 2 4 2 5 0 2-3zM28 23l-3 6 0 4 1 0 3-4 0-5zM169 155l-1-1-10 3 5 2 3-1zM2 251l1 2 9 0-5-3zM4 44l-1 2 1 11 6-8 0-1zM260 149l-10 4-2 5 3 1 3-2 6-6zM57 320l-13 7-5 4 13 0 4-7 0-3zM87 165l-5 0-2 1 0 4 4 2zM86 193l6 1 2-2 5-2 1-2-9-3-1 3zM191 197l-3-1-10 10 0 2 1 1 3-1zM294 79l1 4 2 1 7-2 0-2-8 0zM31 135l4 0 2-1 0-2-4 0zM75 122l-2-2-2 0-5 2-2 2zM150 227l-2-2-8 2 0 1zM50 292l5 1 3-2-5-1zM235 311l-1-1-4 0-2 7-2 2 5-3zM93 35l-2 0-3 4 4-1zM134 81l8 5 9-1 1-3-2-2-5 0-1-1-5 0-3 2zM151 26l-2-5-2 0-1 1-7 1-2 4 3 0 1-1zM269 83l7 11 12 0 1-5-8-6zM223 308l-3-1-4 3-10 4 6 2 11-7zM298 31l-6 0-2 1-6 7 3 1 7-7zM116 321l-9 3-3 5 4 0 4-2 3-3zM326 223l4 4 0-6zM229 250l0-1-3-2-8 1 4 2zM317 107l9-1 4-2-11 0-2-1zM117 208l11 5-1-1 0-4-4-3zM25 6l-1-1-3 0-3 3-1 3 3-1zM326 247l4 3 0-3zM257 82l0 4 3 5 3 0 1 1 10 0-6-9-3-1zM36 145l-5 1-5 4 1 6 1 0 3-5 4-3zM308 40l-7 1-2 3 3 2 2 0zM74 203l2-1 10 0 1-1 5 0 2-1-17-1zM9 327l-3-1-2 3 0 2 3 0zM305 271l-1-1-3 0-9 10 0 2 10 0 2-4zM305 255l-4-1-2 2-3 6 0 2 2 2 4-8zM92 163l-4 2-3 7 8-2zM111 188l-1 5 5 0zM244 115l-7 0-6 4-2 6 4 1 4-2 5-5zM303 320l-2 6 0 5 6-5zM254 123l-8 2-2 3 0 2 1 1 4-3 7-1zM20 240l-3-3-2 0-7 7 8 0zM156 172l-2-2-2 0-5 5-1 3 9-3zM80 208l13 1 0-2-10 0zM283 285l-6 3-4 6 5 9 1-5 3-6zM221 311l-10 6-1 4 5 2zM67 283l14 8 7 1 1 1 5 0 0-1-6-2-12-7-7 0-1-1zM65 148l-6-2-6 8 1 2 4-4zM43 134l-7 4 4 0zM289 330l0 1 5 0-2-3zM155 157l-8 7 0 4 4 0 1-1 1-7zM185 2l1 1 7-3-7 0zM295 0l-8 0-7 6-3 1 0 1 11-1 1-2zM27 242l-6-2-5 6 1 2 6-5zM35 236l-5-1-2 2-1 4 1 1 4 0zM265 321l-1 1 0 5-2 4 3 0 3-5zM249 164l-9 8 6 0 3-4zM188 302l5 1 7-5 0-1-9-1zM15 196l-8 8-4 2-3 0 0 2 3 1 6-3 3-3zM213 306l-10 5 1 2 2 0 3-2zM76 43l-3 6 3-3zM0 312l0 10 2-4zM167 170l-2-2-3 0-5 5-1 4 9 1 1-1zM57 304l-12 2-2 3 4 0zM186 82l1 1 5 0 1-2-1-1-3 0zM84 65l8 0 11-4-9 0-2-3-3 1zM323 136l-1-2-5 1-4 4 1-1 8 0zM299 56l3 2 13 1-2-3-4 0-1-1-7 0zM243 56l-7 1-6 4 0 8 9-1zM162 304l-8 7-3 1 1 1 8-6zM257 10l-1-1-7 7 7-3zM130 261l-4 0-1-1-1 1-5 0-2 3 5 4 5-3zM230 250l11-3 0-1-7 0-4 2zM0 258l0 6 8 0 0-3-4-4zM48 93l-5-1-3 2-2 0 0 1 10-1zM27 80l-5 3-3 5 5-1zM140 312l-11 8 5 0 2-1zM65 7l-5 6 0 5 1 1 5-7 0-4zM287 171l-2 4-1 7 2 2 5 2 3-13-3-2zM60 0l-9 0-2 3-2 7zM269 313l-2 1-3 4 4 7 4-5zM330 70l-1 1-3 0-2 2-1 4 6-1 1-1zM35 23l-8 9-1 3 9-5 1-6zM172 136l-4 1-5 4 2 1 5-3zM279 24l-12 4-5 0-2 2 0 3 1-1 9-1 6-3zM203 38l-1 0-1 3-7 6 0 2 5-2 5-6zM104 197l-7 1-1 1 0 3 5-2zM238 327l-3-2-8 6 9 0 2-2zM77 209l0 2 8 3 3-4zM300 130l-5 0-6 5 3 4 3 1 6-5zM92 106l-5 8-1 3 1 1 6-2 1-6zM44 120l0 4 4 4 8 0 5-2 0-4-7-5-7 3zM52 83l-8 1-3 2 2-1 6 0zM184 128l-6 3-8 0 1 4 12-3zM0 278l3 2 2 0 4-3-1-1-6 0-1-1zM115 295l6 2 12-5-11-1-7 3zM253 93l9 10 4-3-7-8zM272 0l-9 1-6 3 0 5 7-6zM36 233l8-2-6-2zM192 135l-2 0-7 6 6 0zM202 214l-3 8-4 4 5 1 7-5 0-2zM158 13l-2 0-6 7 1 5 2 2 7-7 3-1zM308 28l-2 0-13 12 8-4zM123 38l-1-1-4 0-10 12 4 0 4-2zM239 308l-1-1-3 2 0 1 2 0zM201 214l-7 6-8 2 8 4 4-4zM231 134l6-2-5-1zM103 5l2 7 2 0 1-1 3 0 4-3 2-3 0-3-1-2-10 0zM260 214l-2 1-9 0 3 5 4-2zM263 213l-7 6-5 2 1 2 5-1 7-7zM244 295l-5 8 0 4 2 0 4-6zM243 135l-3 1-14 0-2 1-5 6 12-4 6 0 3-1zM241 87l0 1 7 4 3 0 1 1 3-2 2 0-2 0-6-3zM67 31l-1 0-5 6 0 5 3 0 4-3zM248 149l-5 2-13 12 6 0 12-11zM172 206l-3-2-2 0-6 6-1 3 7-1zM330 115l-4 2-1 9-1 1 5-1 1-3zM281 58l-3 0-4 3 5 3 3-5zM181 0l3 1 1-1zM74 40l-2-1 0 2-4 8 7-6zM322 5l-3-3-6 2-3 4-3 6 0 2 3 0 9-4 3-3zM267 152l-6-1-8 7-1 2 6-1 4-2zM259 23l-4-2-5 1-3 6 2 1zM172 196l-7 1-2 2 6 3 3-2zM315 175l-3 1-5 4 4 6 7-5 0-2zM51 129l-5 1-3 5 5-2zM20 310l-5-3-4 8 1 1 3 0zM330 266l-8 0-3 3 1 6 1 1 5-1 3-4zM44 306l4-2 6 0 2-1-1-1-8-1zM197 277l-15 3 1 2 0 3-1 1 6-1zM31 133l-9 1-2 1-2 3 6 0 3-2 2 0zM43 162l-5 10 3 0 3-5zM267 286l-3 0-10 4-3 0-5 3 0 1 8 0 6 2 4-7zM258 232l3 5 2 0 2-3-1-2zM272 284l-8-4-12 9 12-4zM130 87l4 5 5 0 1 1-2-4-7-3zM171 255l-5 0-6 4 8 0zM77 240l3 6 5 5 3 0 0-3 1-1-6-5zM199 0l3 0 1 1 2-1zM197 233l13 0 1 1 3-4-16 0-2 1zM268 72l1 2 2 1 12 2-5-6-9 0zM100 298l-1-1-9 3-5 0-1-1-3 0 1 3 5 2 7 0 3-1zM198 0l-4 0-5 3-2 0-1 1 0 3 5 0 1 1 4-4zM100 76l4 5 9 1 3-1 1-3-7-1-4-2zM160 164l-2 0-4 5 3 3 4-4 0-3zM49 267l3 6 0 2 2-1 7 0-2-3-8-4zM277 95l1 9 4 3 4-2 3 0 2-2-4-8zM242 296l-3 4-5 4 2 1 3-3zM157 317l-7 0-4 3-3 4-3 7 1-1 7-1 4-4zM36 295l5 3 7 2 0-1-3-2-2 0-6-3zM25 279l-4-3-2 0-2 2-8 4-2 0-1 2 6 0 8-4zM275 124l-2 0-6 5 8 0zM140 156l3 5 2-2-1-3zM23 287l0 2 2 1 11 0 2 1 0-1-12-5zM232 300l-2 1-10 0 1 5 3 2 4-1 3-2zM77 276l3 5 3-1zM298 162l-1-1-8 7-1 2 2 0 3-2zM276 287l-3-2-5 1-8 11 1 1 10-8 4-1zM75 250l3 6 3 3 2 0-1-6zM300 254l-3 2-5 6 3 1 3-7zM205 314l-4 1-8 8-6 8 5 0 2-1 4-5 0-2 3-5zM58 99l-9 11 5 6 3-4 0-10zM304 167l5 0 4 2 4 0 1-1 0-3-6-2-6 0zM245 149l-3-2-3 2-11 12 2 1zM212 290l-5 0-2 1-4 6 2 0 7-4zM255 305l-4 1-2 3 0 3 2 4 2-4 4-4zM253 166l-3 1-3 5 3 5 2-2zM242 120l4 4 6-1 4-2-5-6-6 0zM25 195l-5 6 7-2-2-2zM240 237l-5-7-1 1-8 0 6 7 6 0zM306 194l5 1 1-2-5-1zM118 135l7-1 10-5-1-2-2-1-10 0-3 1zM193 104l4 0 1-1 11 1 1-2-12-2zM66 57l-3 1-3 3-3 1 1 2 5-1zM330 85l-5 10 5 1zM78 157l-2-2-4-1-4 11 3-3 6-1 1-1zM244 131l-15 4 11 0 3-1zM282 17l-19 6-1 4 5 0 9-3 4-3zM316 309l-2 0-3 15 3-1 1-2 0-5 2-6zM183 91l8 1 1-1 4 0 5-3-10-4-4 0-2 1zM134 165l-1 2 3 4 1 5 5-5 0-2-2-3zM206 240l-9-1-9 5-2 0 0 1 5 0 4-2 8-1zM51 220l-3-1-1 1-13 1-5 3 7 2 3 0 1-1 10 0 0-4zM166 99l-1 6 2 1 17 1 0-2-3-2-12-4zM276 199l-5-4-12 4-2 2 0 2 1 1 11 0zM95 111l-1 5 4 0 7 2zM323 309l-3 4 1 2 2 0zM207 28l-2 1-2 8 2 3 6-3-3-5 0-3zM280 199l-3 0-6 5 3 6 3-1 3-6zM174 6l9-5-7-1-3 2zM54 178l-1 0-12 14 0 2 13-14zM153 32l-5 2-7 5 1 6 3-2 8-1 0-3 1-1 0-5zM258 0l-5 0-4 5 6-1zM295 1l4 2 3 5 6-6-1-2-11 0zM136 66l-1-1-3 0-2 2-5 2-9 0-4 2 5 0 5 2 12 0 2-1zM196 112l-1 1-4 0 0 1 5 1zM285 11l-1 1-14 2-2 1-6 7 3 0 13-5 3 0 3-3z"/>
<path fill="#3a55ee" stroke="#3a55ee" d="M287 313l-7 5 2 6 3-1 5-6zM262 23l-2 0-5 3 3 2 3 0zM262 241l-1-3-5 0-6 5 2 1 6 0 3-1zM280 238l-4-1-9 6 11 0zM318 237l-1 7 8 1-4-8zM9 285l-3 0-1-1-5 2 0 11 2-4 4-4 3-1 1-2zM77 116l0 1 2 1 7 0-1-1zM166 295l-10 0-3 1-7 8 4-1 10-7zM77 275l7 5 6 1-7-2zM111 309l-1-1-3 0-4 2 2 2 0 2 5-2zM180 268l0-3-3-4-3 0-4 2-5 0-5 2 0 1 6 2zM33 250l8 8 6-2-10-6zM155 176l-9 3-3 10 5-2 7-9zM78 118l-2-1-5 1 2 1 1-1zM105 0l-1 0 0 2zM106 259l0 1 4 2 3-1 0-1-3-2zM68 177l3 0 11-5-2-1-10 1-2 3zM242 252l-10 1-3 3 4 1 9-3zM30 308l-7 1 3 1zM303 59l0 2 3 5 4 0 3-4 4-2zM41 84l-5 1-3 5 6-3zM108 306l-2 0-6 4 2 0zM266 331l9 0 1-2-7-4zM85 321l-6 3-8 1 8 2zM87 285l2 0 1 1 3 0 1 1-1-1-3 0-1-1zM155 262l0-2-2 1-11 0 4 2zM39 0l-5 0-5 4 6 0 3-2zM19 251l-2-2-2 1-7 0 5 3 5 0zM146 303l-1-1-8 0-4 2-6 6 15-3 2-1zM163 145l-11 5 0 1 2 0 3 2 4-3zM314 308l-2 1-4 7 0 9 2-1 2-7 0-4zM282 39l-2-3-4 2-8 0 4 4 7-1zM303 291l-2 0-1 2 0 5-1 1 0 4-2 7 7-1 3-3 1-3 0-9zM289 42l-2 0-5 4-10 1 0 2 3 3 3 0 8-4 3-4zM199 104l-2 1-12 1 0 2 12 0zM76 162l-5 1-4 3-2 3 0 3 4 0 1-2 6-5zM312 250l-6-2-3 2-2 3 8 1zM251 160l-3-1-11 12 3 0 3-2zM148 116l2 3 0 3 10 0 3 1 2-4-11-4zM67 202l-2 0-2 2 0 3zM124 297l-4 1-5 7 8-2 2-2zM287 25l-7 0-1 1 0 6 3 1 1-2 3-2zM264 106l4 2 5 0 1 1 5 0 2-1 0-1-3-2zM220 225l6 0 1-2-1-1-5 0zM12 327l-2 0-2 4 2 0zM284 176l-5 6-3 1 2 3 2 0 2-2zM79 309l5 3 8 0 3-2-6 0-4-2zM244 304l-3 4 0 6 3-5 0-3 1-1zM7 228l3 3 1-1 5 0 8-4-9-2zM251 254l6 0-1-1zM279 319l-4 1 1 8 5-3zM176 165l-4 2-4 4-1 3 0 4 5 6 1 0 1-2 0-5 3-7zM20 272l1 3 5 4 6-2-4-8-6 0zM88 0l-6 0-6 8zM276 95l-5 4 1 5 5 0zM45 0l-4 0-5 4 3 0zM223 114l13 0-9-1-1-1zM130 317l-3-2-6 4 1 2 5 0zM114 260l-1 3 3 1 2-3zM163 142l-9 1-2 6 12-5zM72 143l-5-1-7 3 4 2 5 0zM113 167l-3-2-1 1-5 0-5 4 1 5 3 0 6-6zM310 7l-1 1-6 0-1 2 6-1zM195 144l-5 1-6 3-6 7 1 5 9-8zM0 252l0 5 3-1 0-2zM31 318l-5-1-3 3-2 7 2 0zM43 281l5 2 10-1-4-2zM14 139l-6-2-6 7 8-1 3-2zM29 279l0 1 8 7 3 0 1-1-3-6-5-2zM312 5l-2-2-2 0-4 4 5 0zM319 0l-3 0-2 3zM63 162l-4 0-5 9 3 1 6-3 1-3zM193 116l-3-2-5 3zM286 60l-3-1-2 2 0 2 4-1zM128 273l9 4 8-1-8-4zM303 54l17 1-5-4-8 0zM205 249l-3-1-1 1-3 0-3 3-3 1 0 1 6 2 4 0 1-1 3 0zM247 142l6-1 0-2-2-1-3 0zM129 243l0 1 8 3 6 0 1 1 8-1-14-6-5 0zM330 324l-8 4-2 3 10-1zM330 34l-1 1-6 0-2 1-2 3 1 1 5 0 5-3zM53 116l-5-6-3 2-7 2-3 4 4 2 4 0 7-2zM267 217l-3-1-5 5 3-2 5-1zM57 64l-4 7 1 0 3-5zM211 237l1 2 9 0 6 2 3-1-7-4-7-2-4 0zM202 1l-3 0-7 9 1 3 2 0 4-4 4-6zM78 308l-10-3 0 1-9 8-2 5 5-1 2-2 14-7zM261 13l-6 7 4-2zM82 14l-7 4 0 4-1 1 1 1 0 4 2-1 1-5zM77 283l16 8 2-1-2-3-3 0-4-2zM12 329l0 2 4 0 0-2-2-1zM157 11l-2-1-6 0-4 7-7 6 1-1 10-2zM48 134l-5 2-3 3 0 4 6-5zM41 14l-3 2-2 4 0 3 1 1-1 5 4-2 4-6 0-3zM26 209l-6 5-3 6 7-3 3-3zM142 189l-1 1-6 0-2 3 7 0zM198 108l7 0 5-2-5-2-5 0zM28 260l-9-3-4 2-6 1 0 3 2-1 5 0 1-1 8 0zM164 160l-1 0-1 4 2-2zM151 228l-13 1-1 1-3 0 0 1 2 2 10 0 5-2zM79 282l14 3 1 1 2 0 3-2-12-2-1-1zM274 264l0 9 1-1 7-1 0-2-6-5zM324 276l-1 1 6 5 1-1 0-6zM12 64l-3 6 4 3 3-5zM97 20l-5 0-2-1-7 7 2 4 3 0zM187 109l4 3 4 0 7-3zM183 69l0 1 2 1 4 0-2-4zM236 230l5 7 10-5 0-1-2-1-6 0-1-1zM228 202l3 1 5-1 7-5-6 0-4-2zM209 113l-6-4-3 2-2 0-1 1 0 3 6 0 3-2zM184 331l-1-1-3 1zM154 259l-3-3-5 2-9 0 4 2 12 0zM53 285l2 2 2 0 4-2 3 0-1-2-7 0zM132 189l-1 5 3-4zM324 309l0 13 3-4 0-7zM307 31l-6 6-6 3 5 0zM8 144l-1 1-5 0-2 2 0 3 6-3zM277 155l-1-1-5 0-6 10 2 1 3-2zM83 312l-6-2-15 9 5 2 3 0 8-4zM205 77l6 4 1-1 4 0 0-4-9 0zM73 177l-3 2-2 4 2 0 2-2zM190 186l-7 0-1-1-4 1-5 10 14-6 2 0 1-1zM159 158l0 5 2 1 1-5zM51 276l2 3 6 3 4 0 1 1 3-1-4-1-9-5zM35 83l-1-1-5 4-2 0-6 3 4 3 6 0 4-7zM225 25l-10 3 0 1 9 1zM100 40l-11 7-2 3 11-6zM300 22l-4 2-8 1-1 3 6-1zM307 32l-6 8 4-1zM108 59l0 2 3 3 4 0 1-1 5 1-6-2-3-4zM123 204l-2-1-3 2-2 0 5 0zM37 319l-6 0-7 8 1 1 6-2zM96 260l7 8 7 2-9-10zM222 6l-1 0-5 6 0 3 6-5zM314 117l-3 2-5 1-1 2 3 0 4 2zM322 150l-6 7 3 5 2-1 1-3 0-4 1-1zM152 29l-10 3-5 3 0 1 4 2 10-6zM228 223l-2 3 8 4zM289 322l-1-1-3 3-3 1-4 3-2 3 11 0 2-2zM60 128l-8 1-5 9-4 4 15-5 2-2zM56 17l-1 0-2 3 0 8 2-1zM273 1l-5 1-7 4-3 4 0 2 4 0 3-3 3-1zM330 1l-4 3-4 6 2 1 5-1 1-2zM258 91l9 8 3 0 5-4-1-2-10 0zM291 104l0 1 8 6 3 0 1-1-2-6-6 0-1-1zM326 83l-4-3-5 5-3 1 0 4 3 0 4-2 5-4zM229 34l-4-2-6 4-5 1-1 3 2 3 2 1 8-1 2-1 2-4zM283 253l-6-3-1 1-4 0-4 5 6 4 3 0 4-3zM13 64l4 3 5-5-9-1zM275 262l0 1 4 2 4 5 1-1 0-5-8-1zM272 321l-2 3 5 3 0-4-1-2zM0 48l0 10 3 0 0-8-1-3zM102 6l-6 2-2 2 0 2-3 6 1 1 6 0 6-7zM169 238l2 2 4 1 0-1-3-2zM61 94l-2 2 0 4 1 2 5 4 3-2-5-6-1-4zM286 192l-7-2-6 4 0 1 3 3 5 0zM103 81l-4-4-3 0-9 3-1 2 4 4 6 1 1-1 4 0zM160 194l-1-1-7-1-9 8 3 4 2 0zM235 77l1 2 5-2 8 0-7 0-1-1zM260 111l0 1 4 0 8 3 7 0-4-1-8-6-4-1zM208 27l1 5 2 4 1 0 1-3-3-6zM107 196l-1 1-1 0 1 0zM73 132l4 4 3 1 0-6-5 0zM77 47l-4 3-1 3 4-1 0-4zM118 330l-1 1 1 0zM116 8l-1 1 2 3 1 5 1 0 2-5zM27 280l-1 3 1 2 11 4 0-1zM30 270l1 4 3 4 4-1 4-5 0-1-2-1zM4 256l12-1 1-1-13 0zM22 1l-3 0-10 8 6 0 2-1 4-4zM61 20l-2 4 1 3 3-2zM128 257l3 4 8 4 6-1 0-1-8-4zM282 159l-6 1-8 5 5 0zM249 30l-1-1-3 0-12 4-3 2 0 3 6 1 3-2 8-2zM166 109l8 3 5 0 3-4-3 0-1-1-11 0zM148 63l0 1 9 0 0-1-2-1-5 0zM17 255l-1 1-11 1 3 3 4-2 6-1zM290 90l1 1 8 0 7-2-10-4-5 3zM114 274l-7 0-1 1-11 2-1 2 6 3 11-4 5 0zM330 302l-5 6 0 1 3 2 2-2zM223 254l1 1 5 0 2-2-1-2-6 0zM65 221l-3-2-10 1-1 1 0 4 9 0 5-2zM32 188l-6 6 0 3 2 2 6-5zM268 218l-12 5 1 1 7 0zM26 280l-3 0-8 4-5 1 1 1 12 0 2-2zM119 298l-1-1-3 0-4 2-6 0 7 2zM192 117l5 1 4-2-7 0zM213 233l7 1 11 5-2-4-6-5-8 0zM71 263l0 4 2 2 9 3-1-3zM181 73l4 2 4 0 3-2-2-1-5 0-1-1zM235 14l-2 3-5 4-2 4-1 6 5 3 5-8zM170 259l6 1 4-4-1-1-5 0-2-1zM161 240l5 3 6 0 1-1-5-4zM297 304l-6 2 3 6 3-4zM22 321l-5 4-2 3 2 1 3-1zM12 60l-6 2-1 9 4-2 3-6zM10 288l-4 2-6 8 0 9 12-8 1-8zM229 163l-1-1-3 1-11 14 4-2zM286 77l4 0 5-3 7 0-6-4-4 0-5 4zM145 178l-2-1-7 0-3 2-3 0-4 8 3 0 4 2 8 0 2-3zM144 222l-8 1-3 2 6 1 4-2zM315 114l-1-4-13 2 13 4zM295 68l-6-2-4 2 0 2 2 3 3-3 5-1zM16 236l-10 4-6 0 0 3 7 1zM233 2l3 1 3-3-6 0zM206 176l-3-1-4 5-1 3-7 6 0 1 5-1 3-2zM139 133l-3 1-5 6-4 2 4 5 3-1 8-7zM222 73l1 3 8 6 4-1 0-3-4-5-1-3-6 3zM255 252l-6-1-1 1-5 0 0 1 9 0zM18 1l-1-1-5 1-4 3-4 5 1-1 4 0zM10 287l4 4 3 0 5-2 0-2zM123 203l3 4 2 0 7-5zM156 156l-2 4-2 9 1 0 5-6 0-5zM228 309l-6 1-6 14 5-2 6-5 0-2 2-3zM219 123l-5 3-1 3 2 2 6-1 0-4zM217 76l0 4 6 4 8-1-8-6-2-3-2 0zM258 233l-2 2 0 2 4 0zM60 37l-4 0-1 9 5-6zM220 111l-4-1-3 4 4 0 3-2zM270 100l-3 0-4 4 0 2 1-1 5 0 2-1zM70 214l1 2 14-1-8-3-1-2-3 0zM102 86l3 0 1 1 5-1 0-2-2-2-6 0zM212 38l-6 2-1 2 2 2 7-1-2-3zM20 273l-1-1-13 8 0 2 14-7zM65 195l14-2-6-5-2 0-6 5zM40 238l0 4 7 6 3-4-1-1 0-4-2-1zM93 149l14 1 2-2 1-4-1-1-11 0-3-1zM12 150l-7 5-1 8-4 5 5-2 5-5 2-4zM173 281l-7 0-2 1-4 6 2 1 5-1zM296 68l0 1 4 3 6 2 6-1 6-4-2-2-16 0-1 1zM247 20l-2 0-3 3-6 3-5 7 15-5 2-4zM290 259l-1-2-6 3-8 1 6 2 8 0 1-1zM263 277l-8 0-3 5 0 6 7-6 4-2zM247 138l-4 1-2 3 5-1zM187 57l-2 2-6 2 0 4 4 3 3-2zM195 140l-5 1-2 2 1 2 5-2zM153 61l5 1-1-3-3 0zM277 213l-1-2-2 1-10 0 0 2 4 3 7 0zM264 139l3 2 7 1 2-5-1-1-5 0zM5 217l-4 2-1 3zM193 313l-1 0-4 5-4 11 1 2 1 0 8-10-1-1zM192 9l-1-1-6 0-2 2-2 5 2 0 2-2 6-2zM177 27l-3 2 0 3 3 4 3 1 2-3-1-1 0-3zM114 9l-2 3 0 9-1 1 1 1 6 0 1-2zM311 124l-7-1-3 5 1 6 9-6zM137 240l15 6-1-2-9-5zM210 81l-5-3-3 4-1 5 5-1zM193 14l-2-2-6 2-2 2 0 4 6-5zM118 5l7-5-8 0zM243 97l7 5 7 1 5 2-1-3-10-9-4 1zM237 213l-1 5 2 3 12 1 1-2-4-7zM68 304l9 3 4-4 0-2-9 0zM131 294l-6 2 1 3-1 3 4 5 4-4 4-2-1-4zM145 224l-5 2 5-1zM264 319l-2 0-5 7 0 5 4 0 1-1zM32 71l-4 0-7 11 4-1 3-3zM205 43l-2 6-6 6 5-2 5-5 0-3zM36 135l-1 1-5 0-5 2 10 0zM151 169l-5 0-2 1-6 6 5 0 2 1zM262 107l-1-2-8-1-1-1-15 2 12 8 8-1 2-1zM107 59l-2 1-5 6-1 7 2 2 3-2 1-3 5-5-3-4zM143 201l-2-1-4 1-9 7 1 6 8-3 7-5 1-2zM140 314l3-2 6-1 3-3-9-1zM83 147l2 1 3-3 5-2 1-3-1-1-9 0zM9 85l-3-1-6 2 0 4 9-4zM161 324l-4 2-1 5 3-2zM219 260l1 2 2 1 3 0 9 3 5 0-1-2-6-5-3 1zM26 72l-7 4-2 2 0 3 3 0 3-3zM96 48l-8 5-4 4 3 1zM71 110l-8-4-5 5-1 3 5-2 5 0zM75 94l1 7 2 3 3 2 13-1 3-2 2 0-11-3zM151 80l2 2 4 0 1 1 11 2-2-3-2 0-8-5zM95 227l8 2 3 2 2-1 5 0 0-1-3-2-6-2-6 0zM200 99l10 2 1 1 3-2-2-1zM59 101l-1 1 0 8 4-4zM291 270l-4-2-2 1-2 3 1 1zM80 221l0 2 4 1 5 3 5 0-4-4-1-4zM133 64l14-1 2-1 0-2-1-1-10-1zM207 255l-5 2 0 11 2 1 3 0 2-5 0-8zM82 264l1 2 0 7 4 3 6 2 1-2-3-5-4-4zM64 207l7 1 3-6-6 0zM248 311l-4 1-4 4 0 2 10-1zM257 175l-3 9 3 4 3 0 6-11-4-2zM27 243l-4 1-3 2-2 3 1 1 5 0 4-3zM224 32l-7 2-4 0-1 3 7-2zM299 57l-12 3-1 2 2 2 2 0 4-4 5-2zM265 257l-5-2-5 0-4 2-3 0-2 5 11-1zM173 304l-7-3-3 3-1 4 5-3zM269 9l-4 1-3 3-2 5 3 1 5-5zM58 96l-8 3-4 4 3 5 9-10zM330 282l-5 6-2 5 7-5zM303 150l2 6 0 5 1 1 5-4 1-2-3-4zM66 28l-4 3 1 3 3-4zM167 158l-3 1 1 2 2 0zM216 44l-8 1 0 2 2 3 1 0zM166 162l-4 3 0 2 3 0zM87 49l-4 2-3 4 1 1 3 0 2-2 0-4zM168 161l9-3 0-2-8 0-1 1zM318 38l-2 0-1 3-3 3-8 3 5 3 3 0 4-4 2-5zM12 117l-3 0-9 3 0 8 5-1zM248 326l-1 1-6 0-2 1-2 3 7 0zM93 144l-5 2-3 4 5 2 2-2zM102 158l-3 0-6 4 1 8 4 0 3-3zM5 1l-3 0-2 2 0 8 3-2zM84 149l-1-1-5 4-3 1 0 1 4 3 5-6zM81 52l-3-1-3 3-4 9zM39 34l-8 6-3 9 12-10 1-2zM21 83l-1-1-4 0-4 2-1 2 7 2zM56 72l-3 0-4 3-4 1-1 1 2 3 6-3zM220 4l-5 0-3 3 3 5 6-7zM177 185l-4 0-6 6-5 2-3 3 5 1 1-1 7-1 2-2zM328 157l-5 6 1 2 3-2zM318 299l-9 2-1 6 5 0zM217 194l-4 0-8 4 1 1 3 0zM330 268l0 3-2 3 2 0zM242 139l-4 0-8 5-6 7 11-7 5-2zM166 269l-7-2-7 8 1 1 5 0zM166 0l3 0 1 1 4 0 1-1zM80 174l-6 2 0 3-2 3 3-1zM232 258l3 2 6 7 4-4 2-6-4-2-3 0zM301 113l3 7 9-3zM168 66l3 1 6 0 2-1zM302 151l-4 8 1 3 5-1 0-5zM24 328l-3 0-4 2 0 1 6 0zM50 180l-4 3-2 0-6 7-1 3 3 0zM219 115l5 1 3 2 5 0 4-3zM148 206l1 4 3 0 4-2 0-2zM215 250l3 4 4 0 1-1 0-2-5-2zM89 320l-3 1-7 7 1 3 5-2 4-4zM152 256l3 3 3 0 0-2-4-2zM283 273l-8 4-2 0 1 2 2 1zM203 312l-9 1 0 7 8-6zM86 214l8-1 1-3-6 0zM48 310l-6 0-7 8 6-1 7-5zM201 134l-8 1-2 5 5-1 5-4zM44 2l-5 3-3 0-3 4 8-1zM100 46l-3 1-9 11 2 0 3-2 7-8zM117 300l-6 2-1 3 4-1zM293 122l-1 2-5 3 0 1 7 0 1-2zM121 194l1 2 0 6 1 0 5-5zM91 106l-9 1 1 6 3 1zM102 244l3 5 16 0 0-1-13-7-2 0zM245 331l11 0 0-4-1-1-6 0zM269 109l9 5 2 0 1-2-1-2zM330 45l-3 1 0 6 3-1zM282 82l0 1 7 5 7-4-2-1zM327 53l-1-1 0-5-6 4-3 0 3 3 3 1zM50 0l-4 0-2 3 3 6 0-3zM312 308l-4 0-1-1-2 2-3 8 1 1 4-2zM108 47l-7 1-7 8 13-7zM43 77l-3 0-5 5 1 2 6-1 3-2zM47 202l-5 2-2 3 3 5 4-4-1-1zM263 44l5 0 3-2-4-4-2 0zM209 300l18-8-6-3-7 0-4 5 0 5zM289 264l-4 0 0 4 1 0zM254 141l15-5-1-1-10 0-4 4zM25 151l-11 4-3 5 1 4 9-8zM49 19l-1 1-3 0 0 2 3 5 2-3zM310 130l1 0 4 5 6-2-8-5zM206 200l-3-2-6 4-3 3-1 3 5-4zM311 293l0 1 6 3 2 0 3-3 1-3-7-2zM97 304l4 1 9-3-9-3zM198 235l1 3 4 0 4 2 2-1 2-3-1-2-11 0zM126 315l-4-2-5 0-4 2-5 5-1 3 13-4zM125 229l0 3 1 1 8-1-1-2-7-2zM210 316l-5-1-5 6-1 4-3 4 6-3 6-5 2-3zM165 254l-2 0-3 2-1 2 6-3zM143 239l9 5 1-1-6-4zM10 162l-5 8-4 3-1 2 7-4 4-5 0-3zM146 127l4 0 9-3 4 1 0-1-3-1-10 0zM252 0l-12 0-4 4-1 9 4-4 6-3 2 0zM272 295l-5 9 0 3 3 3 7-5 0-2zM177 306l-6-1-6 2-3 2-4 7 3-1 9-7zM56 63l-10 12 6-3 1-4zM64 150l-6 3-4 4-1 4 6 0zM325 60l-7 0-5 3-2 3 6 0 2-2 5-2zM273 171l-2-2-6 4-5 1 2 0 3 2 3 0 4-2zM213 193l-8 2-1 2 2 0zM200 57l-1 3 1 3 5 3 5 0 3-5-1-2-2 0-3-2zM283 81l3 1 8 0-1-3-2-1-6 0zM72 219l-2-2-7 2 3 2zM103 157l0 1 2 0 7 4 2-1 0-1-9-4zM243 251l-2-3-7 2zM221 139l-1 1-11 0-3 2-1 2 1 2 6 0 5-2zM199 57l-3-2-5 0-2 1-2 4 0 6 8-4 3 0zM55 36l-7 11 0 3 2 3 4-5zM68 68l-3-1-2-3-5 1-3 6 2 1 8 0zM44 168l-2 4 1 1 2-2zM49 109l-3-4-7 4 7 0 1 1zM68 184l-3 1-9 9 0 2 8-2 5-6zM92 39l-4 1-9 10 3 1 4-2zM78 94l10 5 11 3 2-3-3-3-7-4zM118 168l-6 0-8 7 2 4zM318 96l-1-1-4 1-5 3-4 4 8 1 4-2zM198 214l-1 0-3-5-1 0-5 6-7 2-1 2 2 2 10-1 2-1zM259 244l1 3 7 8 1 0 3-5-7-7zM106 212l0 3 8 1 1 1 7 0 6-3-10-5-9 0-2 1zM152 83l1 3 15 3 0-3-10-2-1-1zM300 153l-9 9-5 2-5 4 6 1 3-2 7-7zM165 321l-3 3-2 5-2 2 3-1 4-4zM72 14l-4 8 5 11 0-3 1-1 0-5-1-1 1-1 0-4zM3 75l6 1 3-2-3-3-4 1zM123 102l7 6 3 0 4-3-5-6-8 0zM25 194l-4 0-1 4-3 5zM148 330l-7 1 6 0zM33 19l-3 0-1 1 1 8 5-6 0-2zM0 209l0 10 5-3-3-3 0-3zM318 99l6 2 6 0 0-4-3-1-8 0zM248 6l-9 4-3 3 5 3 5 0zM253 224l-4-1-9 5 11 2zM81 0l-9 0 2 3 0 6zM223 0l-1 0-1 4zM265 81l1 1 15 0 3-4-5 0-10-3zM12 149l-4-1-6 7 2 0 4-4zM202 188l-4 0-2 2-5 1-2 2 0 3 4 0zM95 287l1 2 8 0 1-2-4-2zM100 297l4 2 1-1 6 0 4-2-1-1-8 0zM292 186l-8 10 9 0 3-3zM16 220l-8 1-7 7 4 0 9-4 2-2zM163 329l-3 2 2 0zM110 198l-3-1-5 3 5-2zM263 130l6 5 6 0 1-1 0-4zM288 267l4 3 3 0 3-2-4-5-4 0zM223 85l0 3 9 3 3 0 1-1-5-6zM162 254l-2 1-5 0 4 1zM302 283l-9 0-1 1-2 7 3 5 1-2 7-6zM320 315l-2 1-3 6 2 6zM166 313l-8 4-5 8 4 0 3-2 2 0 5-6zM153 59l-3 1 0 1 2 0zM131 109l0 2 8 6 2-5-6-3zM28 20l-5 1-10 12 8-3 3 0 4-8zM65 135l0 1 2 1 9-1-4-4-3 0zM155 115l3 0 9 4 1-2-3-7-7 1zM202 17l-8-3-6 7 0 2 1 1 3-2 8-1zM106 155l0 1 2 0 6 3 2-7-7 0zM100 102l0 1 2 0 2 2 8 3 2-2 12 0-5-5-2 0-6-3-7 0zM239 283l10 0 3-2 2-4-5-2-5 0-4 4zM104 314l-1-3-10 1-1 1 5 3 3 0zM66 330l0 1 13 0-1-3-5-2-2 0zM301 170l0 3 4 6 2 0 6-4 2-3 0-2-6-2-6 0zM64 286l-6 1-2 2 3 1zM212 256l-2 0 0 8-3 6 2 1 10-8 0-2zM120 194l-6 4-1 3 8 0 0-5zM235 305l-3 0-5 3 6 1zM141 165l2 5 3-2 0-3zM304 310l-8 1 0 4 2 5 3-3zM216 3l4 0 1-3-5 0zM315 327l0-2-3-1-4 2-5 5 14 0zM236 321l-5-2-4 0-11 6 4 0 5 3 5 0 5-4zM199 229l21 0-7-3-12 1zM6 138l-3 2-2 0-1 3zM321 308l-3 1-1 2-1 8 6-10zM319 181l-4 4-4 2 3 5 7-3 1-2 0-3zM225 110l0-2-8 1 4 2zM301 10l-10 6 8 0zM40 9l-7 1-2 3 0 4-1 1 6 1 3-5zM323 79l4 4 3 1 0-8zM233 54l-4-2-7 4 7 3zM313 236l-5 6-1 5 5 2 3-2 2-6 0-4zM323 316l-3 1 0 4-3 8 1 2 1 0 3-4 1-3zM178 61l-7 1-4 4 1-1 10 0zM141 308l-19 4 9 4 6-6zM105 204l-2-3-6 2 0 1zM113 108l5 3 12 0 0-2-3-2-13 0zM42 84l5-1 0-1-3 0zM211 205l-9-2-4 2-3 3 1 4 3 2 6-3 5-4zM2 0l-2 0 0 2zM125 14l-3-1-3 5 1 4 6-6zM222 131l3 1 7-3-6 0-1 1-3 0zM157 56l-17 1 12 2 1-1 3 0zM237 104l12-1 0-1-8-5-1 4zM113 271l4 7 9 5 9-1 3-3 0-1-7-2-10-6-1 1zM260 225l-6-1-2 4 0 3 4 0zM227 21l-2-1-11 2-4 4 2 2 2 0 12-4zM295 312l-4 4-2 4 1 2 0 6 2-1 5-6zM257 13l-7 4-2 0-1 1 2 4zM208 302l-10 4-5 6 11-2 2-2zM309 9l-7 2-2 5 1-1 4 0zM321 163l-2 1 0 3 3-2zM114 305l-6 2 4 1zM35 237l-1 4 6 2-1-1 0-4-1-1zM39 204l-6 3-6 1 0 4 3 1 4-2 5-5zM280 70l-1 1 1 2 5 4 1-4-2-4zM173 243l8 0 0-2-5 0zM235 312l0 1 5 1-3-3zM41 310l-4 2-3 0-5 4 3 2 2 0zM287 309l0 3 4 3 2-2-2-4zM257 135l-3-1-5 3 5 1zM88 319l-5 0-8 4-5 0 1 1 4 0zM62 93l2 5 4 5 2 1 7 0-3-6 0-4-6-2-5 0zM120 137l-4-2-4 4-2 4 1 1 7-3 2-2zM211 98l2 1 7-1-1-5-6 0zM269 14l5-2 10-1 2-1 1-2-3 1-7 0-1-1-6 1zM35 5l-7 0-3 3-3 7 1 5 6-1 1-6zM17 236l5 4 4 0 3-5-11 0zM215 115l4 6 3 2 6 1 2-3 0-2-3 0-3-2zM151 86l-9 1 0 1 5 4zM66 25l-2 0-4 5 4-1 2-2zM78 307l1 1 2-1 7 0 8-3-2 1-7 0-5-2zM174 290l-1-1-9 0-10 6 2-1 13 0 3-1zM152 144l-4 2-4 4-3 5 4 0 6-4zM5 218l-5 5 0 6 7-8zM69 148l-3 0-6 13 4 0 1-3 7-5zM308 0l1 2 3 2 3-3 0-1zM137 57l-8-2-3-2-7 3-6 1 0 2 2 2 7 3 10 0zM240 97l-5-4-8 7 2 3 5 0 2 1 3-3zM181 280l-7 1-6 7 5 0 2 1 7-4zM79 281l-3-6-1 0-6 7 9 0zM330 208l-9 4 1 1 7 1 1-1zM231 131l-5 1-4 3 2 1 6-2zM205 76l2-1 10 0 1-2-7-6-2 0-3 5zM174 254l20 1-7-2-4 0-1-1-4 0zM203 226l10-1 6 2 0-1-2-1-13 0zM305 66l-4-8-7 3-4 4 4 2zM25 61l-1 1 0 6 2 3 4-1 0-5z"/>
<path fill="#20c8b8" stroke="#20c8b8" d="M315 145l-3-4-4 1-4 6 1-1 8 0zM320 201l-2-2-2 0-7 4-1 2 1 1 6-4zM25 204l-6 5 0 3 2 0 5-4zM161 32l-6 2-1 8 4 0 4-3 1-4zM219 154l-3 0-3-2-2 0-5 12 5-2 2-3zM286 226l6 2 9-5-4-2-5 0-4 2zM152 102l6 1 1-2-5 0zM28 234l-2-3-4 3zM187 23l-5 6 0 4 1 1 4-3 1-3 0-4zM233 293l-1-1-4 0-5 3-4 1-2 2 1 2 12 0 3-2zM234 9l-5 0-1-1-2 4 0 8 3 0 5-6zM193 43l-2-1-5 4 6 0zM179 218l-3-2-6 7-5 1 9 3 7-5zM211 8l-3 1-5 7 0 2-2 3 1 3 3 3 4-1 4-4 2-5 0-4zM216 326l2 4 6-1 0-1-4-2zM59 145l-14 8 0 3-1 1 8-3zM297 322l-4 5 2 4 4 0zM115 48l-3 2-2 0-1 5 6 1-1-2zM175 244l1 3 9-2-1-1zM252 235l1 3 2 0 0-1zM165 243l-3-2-3 0-3 2-2 0-1 1 0 3 4 1 8-4zM191 39l-8 3 2 4 2-1 4-4zM25 152l-3 6 0 2 4-2zM84 251l1 3 7 3 2 2 8 0-7-4zM308 213l-2 1-1 4 4 0-1-1zM61 225l0 1 13 1 5 2 10-1-5-3-9-1-1-1-7 0zM269 118l1 1 0 4 6 0 3-2 1-4-1-1-7 0zM323 294l-4 4-5 9 3 2 2-1 2-3 2-6zM14 131l1-1 9 0 5-2-3-1-9 0zM231 204l-1-1-3 1-8 7 6-1 5-4zM201 22l-5 0-6 2-2 5 5-3 9-1zM272 144l-8 2-3 2 0 2 6 1zM169 131l-3-1-3 1-1 2 0 7-1 1 9-6zM36 94l-3 0-1-1-4 4-4 2 0 2 4 4 3 0 6-9zM207 210l3 1 8 0 5-4-10 0-1 1-3 0zM330 190l0 2-5 8 1 1 4-2zM203 213l1 3 3 3 7-4 3 0-1-3-10-1zM304 219l-1 4 2 2 2 0 2-6zM306 226l-4-3-4 3-7 3-2 6 8 2 9-9zM330 300l-6-1-3 8 3 1 4-4zM296 211l-8 3-3 5 4 3 4-2 3-5zM138 1l5-1-4 0zM22 299l3 2 2 0 7-5 3-4-1-1-10 0zM304 201l-9 3 1 6 3 0 3-2 2-3zM165 22l-3 7 0 3 2 3 7-6zM162 273l3 0 1 1 4-1-3-2-3 0zM166 270l5 3 6 1 3-2 2-3-15 0zM117 142l0 1 4 2 7 0-3-3zM169 83l2 2 15-1-3-4-8 0zM157 100l5-2-3 0zM34 118l-3 0-6 3-3 0-4 3-1 2 7 0 4-2 5-4zM198 156l-4 3-3 6 0 2 3-1 5-4zM47 128l-3-3-6 6 0 2 9-4zM123 217l10 5 6 0 2-5-7 0-4-2zM187 278l23-5-2-2-5-2-12-1-3 1 1 4zM319 202l-8 3-1 1 0 4zM24 31l-3 0-9 3 1 3 3 2 9-5zM16 231l-3 0-8 6-5 2 6 0 6-3 4-1-1-3zM201 26l-8 1-4 2-2 3 4 0 1 1 5-5zM293 202l-7 6-2 4 2 2 9-4-1-2 0-5zM270 233l0 1 5 0-1-2zM313 250l6 2 5-4-9 0zM17 46l-4 1-4 4-5 7 0 2 6-4 7-8zM188 240l-6 1 0 2zM192 34l-1-1-5 0-5 3 0 3-1 1 4 1 6-2 2-2zM64 89l0 2 4 0 8 3 10-2-5-3-5-6-5 1zM291 48l-6 1-6 3 0 1 11-3zM4 61l-4 1 0 4zM119 151l4-2 7-1-1-2-9 0zM212 147l-1 4 2 0 3 2 5 0 1-1-1-4-5-3zM318 205l-3 1-4 5 2 2 6 0 1-1zM183 269l-1 2-5 4 6 3 3 0 2-7-1-2zM198 234l-3-2-5 1-8 7 8-1 7-3zM330 105l-3 2-2 7 2 1 3-1zM217 212l1 3 4 0 1 1 4-1-2-4zM12 88l-2-2-10 5 0 1 7 0zM58 292l-3 2 0 4 5-3zM245 41l-7 2-2 3 0 2zM205 28l-2-2-3 1-7 6 0 3 3 1 6-1zM230 241l2 2 10 3 6-2-5-6-11 1zM57 184l-4 4 1 2 1 0zM44 22l-2 8-2 3 2 4 3-3 3-6zM5 128l-5 1 0 4 2-1zM209 294l-4 3-6 2-5 4 3 2 2 0 9-4 1-2z"/>
<path fill="#2098ee" stroke="#2098ee" d="M12 167l-1 0-4 5-7 4 2 0 5-3zM61 231l11 0 3-2 2 0-3-1-8 0zM161 209l-5 0-6 2 5 4 4-2zM229 0l3 1 0-1zM254 142l-2 0-9 5 4 2 2-1zM263 211l-4-6-3-1-8 8 0 2 10 0 1-1 3 0zM330 21l-2 2-7 3-6 5-1 3 2 3 3 0 11-8zM150 0l-6 0-2 1-2 6 10-6zM305 133l-10 8 0 3 3 1 4 4 6-8zM151 227l1 3 3 0 1-1 13 0 1 1 3 0 0-3-9-3-7 0zM182 16l-2 0-3 3 0 6 1 1 4-4zM210 51l-2-3-6 6-4 1 1 1 7 0zM330 156l-1 2 1 4zM257 200l-2-1-5 0-2 1-1 5 4 3 5-5zM301 289l-6 5-5 8 0 3 3 0 5-2 1-10zM70 324l-6 3-4 4 5 0 0-1 5-4zM12 300l-12 8 0 3 3 6 6-2 3-3 2-5zM284 274l-9 7-2 3 4 3 5-2 3-5zM319 1l4 4 0 2 6-7-9 0zM140 74l0 4 12 1 3-2-5-4-8 0zM118 218l2 4 3 2 10 0 2-1-2 0-9-5zM188 317l-9 1-4 4-2 4 6 3 4 0zM44 51l-13 14 0 5 2 1 2-1 6-10zM61 179l-3 0-5 8 5-4zM59 292l2 3 6-2-2-1zM122 168l-3 0-11 10-1 5 10-9 3-1zM250 318l-11 1-2 2-1 4 3 2 11-2zM330 185l-1 0-3 9-2 3-4 3 4 0 2-2 4-9zM192 74l-1 5 3 1 2-4zM235 140l-8 1-10 4 3 2 2 0 5-4zM261 299l-2-1-5 4 0 2 2 1 5-4zM96 203l-10 3 8 0zM111 294l3 0 5-3 2 0 0-1-6 0zM88 218l-1-3-2 1-5 0-1 1-8 0 5 3 6 0zM21 133l-11 3 6 3zM330 11l-6 1-5 6-7 4-5 5 3 0 4-2 7 0 7-3 2-2zM38 227l0 1 4 1 3 2 3 0-8-5zM0 59l0 2 3-1 0-1zM326 115l-3 0-8 3-3 9 2 0 5-3zM204 76l-3-1-4 1-1 3 7 0zM202 247l-1-1-4 0-1 1-7 1 0 1 8 0zM132 166l-10 3 0 4 5 5 6 0 3-2-1-5zM188 144l-3 0-6 2 0 1 3 2 5-3zM250 234l-7 3 5 6 5-4zM286 309l-6-1-2 10 8-6zM257 28l-3-1-4 2-1 4 8-4zM157 222l-3-1-6 3 2 2 2 0 4-2zM273 62l-1 1 0 3 5 1 1-2zM111 186l5 7 2 1 2-1 1-3-4-3zM280 247l-1-1 0-3-1 1-12 0 6 6 4 0zM273 265l-7 5 1 5 3 0 3-2zM265 165l-1-1-9 1-2 5 0 5zM52 267l6 3 4 0 7-2 1-1 0-3-7-2-7 0zM208 219l0 2 3-1 12 1 1-4-2-1-8 0zM282 0l-7 0-6 8 7-3zM91 152l-5 7 2 2 2 0zM192 134l10-1 9-3 2-3-13 0zM202 243l0 3 2 2 5 0-2-7zM69 247l0 1 8 7-3-6-3-2zM183 79l2 2 4-2-3-1zM291 77l5 2 8 0 1 1 1-1 3 0-6-4-8 0zM48 292l2 4 4 1 0-3zM305 28l-11 6-6 7 2 1 2-1 0-1zM315 260l-5-1-9 10 3 0 1 1 4-3 2 0zM86 331l-1-1-3 1zM68 290l1 3 10 5 2 0-3-4-8-4zM52 22l-6 12 4-2 2-3zM259 34l0 1 3 2 0-1zM13 168l-6 6-4 2 0 1 2 1 7-6zM289 292l-2 8 3 1 2-3 0-3-1-2zM71 154l-5 4-2 4 1 3-1 3 1 0 3-4zM213 274l-5 0-1 1-7 1-11 9 9 0 3-2 6-1 5-4zM169 214l-3 3-3 1 4-1zM30 34l-5 3 0 3-1 1 0 8 1 2 2-1 2-8 2-3 0-4zM81 37l-4 4 0 5zM134 18l-4 2-3 3 0 2 3 0 5-3zM67 305l-7 0-3 3 2 5 5-4zM125 322l-4 0-6 3-2 6 3 0 3-4zM4 156l-3 0-1 1 0 10 3-4zM26 130l-5 1 1 2zM24 39l-6 7 0 2-4 5 8-7zM222 185l-1 4 4-1 0-3zM229 39l-1 2 0 9 1 1 5-2 3-6-2-3zM89 152l-4-1-6 8 6 0zM208 67l-3 0-2 2-1 6 3-1 0-2zM16 193l-6 2-9 8-1 2 3 0 4-2zM201 243l-11 3 0 1 7-2 4 0zM330 61l-4 0-9 6 2 1 7-2 4-3zM83 139l-1-1-3 0-4 3-5 6 5-1 7-4zM207 56l6 3 7-3-4-3-6 0zM52 279l-2-3-13 3 2 1zM76 199l-2-2-2 0-6 4 8 0zM129 179l-5 0-2 1-5 6 5 4 0-1 3-2zM171 146l-6-2-3 6 2 0zM302 318l-4 3 2 9zM225 202l-5-2-7 4-2 3 5-1 7-4zM70 178l-3 0-5 5-5 9 11-10zM20 213l-2 0-5 4-6 2 1 1 8-1zM197 197l-5 1-2 5zM242 200l-1 1 0 4 4 0 2-5zM47 266l-4 4 4 4 4 1-2-7zM188 194l-12 6 1 6zM133 136l-4 2-8 1-2 2 6 0 1 1 5-3zM12 36l-7 7 0 1 6 4 2-2 0-4 1-1 0-2zM241 200l-5 3-3 0-1 1 0 4 2 3 3 1 0-2 3-4 0-5zM109 194l-1 1-5 0-5 2 8-1zM0 323l0 8 3 0 1-7zM330 64l-4 3-7 2 6 1 5-3zM62 43l-3 1-4 7-1 4zM194 92l-5 1-3 7-2 2 1 3 7-1 4-4 3-1zM56 60l-5 1-12 11 0 3 1 1 4 0 12-14zM284 285l-1 7-3 6-1 5 4-3zM108 255l0 1 3 2 16 0 0-1-2-1-14 0zM21 202l-2 0-3 3-2 5-3 3 2 0 5-4 0-2zM46 49l-2 4 0 4 2 3 1 0 2-7-2-4zM181 307l-4 0-7 2-4 3 2 4 2-2 5-1zM20 157l-8 8 1 2zM260 13l-2 0-7 8 3-1zM228 51l-3-1-1 1-8 1 5 4 7-4zM69 115l-3-2-4 0-6 2-1 2 6 4 7-4zM330 256l-9 2 2 7 7 0zM216 51l-3-2-3 3 5 0zM192 208l-13 2-2 6 3 1 8-3 4-4zM256 4l-3 2-4 0-1 6 2-1zM297 98l6 4 3-2-5-2zM141 2l-4 0-4 3-4 8 10-5zM324 249l6 2-4-3zM310 254l9 0 0-1-6-2zM330 52l-5 3-3 4 5 0 3-3zM295 115l-6 2-8 0-2 5 5 0 1 1 7-1 2-2zM122 224l0 2 11 3-1-4-9 0zM32 128l-4 1-3 3 7-2zM236 81l-4 2 0 1 3 4 2 1 4-3 0-2zM108 55l-2-1-2-3-8 5 2-1zM278 187l-3-3-3 0-5 3-2 0-2 3 0 3 2 3 5-1 8-5zM72 260l0 2 2 2 3 1 5 4-1-6zM327 164l-3 2-1 4 3-2 0-3zM242 84l0 2 3 0 7 2 3 2 3 0-2-4 0-4-5 0-1 1-6 0zM48 86l-8 1-8 5 5 2 4-4zM235 92l5 4 3 0 4-3 2 0-9-5zM7 268l-6 4 1 3 6 0zM180 112l5 4 5-3-1-2-6-3zM190 200l-7 8 6 0 0-3 1-1-1-2zM277 306l-7 6 3 8 3-1 2-3 0-6 1-2zM81 230l-3-1-7 3 2 3 8-4zM238 304l-4 5 4-3zM152 27l-11 0-1 1-3 0-5 7 4 0 4-3 12-4zM151 101l5-1 2-2-6 0zM41 226l6 4 2-4zM316 103l-3 1-7 6 6 0 4-3zM152 97l13 0-1-2-11 0zM153 215l-3-3-2 0-5 4 2-1zM147 107l-1-1-3 1-4 3 4 1 4-2zM11 316l-1-1-6 2-3 5 3 1 6-5zM265 272l-8 4 9 0zM128 196l1 1 8 0 1 1 1-4-7 0zM128 306l-3-3-4 2-6 1-3 3-1 3 10 0 3-1 4-3zM314 235l2 1 12 0 2-1 0-7-4-4-5 0zM188 55l-6-3-6 5 0 2 1 1 4 0 7-4zM208 240l6 4 6 0 4-2 3 0-6-2-9 0-1-1zM309 130l-3 3 3 8 6-5-1-2zM289 65l-3-2-6 1-2 2-1 4 5-1zM195 37l-3 1 0 3 2 1 3-4zM93 59l1 1 10 0 3-2 5-1-3-1-11 0-2 1-1-1-2 1zM25 291l-1-1-3 0-4 2-3 0-1 6 7 0 1 1zM180 317l-3-3-7 1-4 5 0 6 8-4zM19 96l4 3 8-6-6 0-2-1-4 2zM227 247l2 1 5-3 2 0-4-1-2-2zM35 330l0 1 1 0 0-1zM37 160l-3 7-2 2 0 5 5-2 3-6 0-2zM148 107l0 2 7 0 2 1-2-2zM162 306l-9 7-1 3 5 0 4-6 0-3zM23 155l-8 10 6-6zM217 299l-2-1-5 2-2 3-1 5 7-3 0-1 4-3zM185 4l-9 8-4 5 1 1 4 0 3-3 2-5 3-3zM269 119l-8 2 7 2 1-1zM326 202l-2 7 4-1zM55 196l-7 5 0 3-1 1 1 3 5-4 0-4zM4 185l-4 7 0 11 6-5-1-1zM330 127l-3 0-3 2-2 4 2 3 6-2zM324 41l-4 0-1-1-2 6-4 4 3 1 1-1 3 0 6-4-2-3zM132 5l-5 2 0 5-1 1 1 2zM29 225l-2 0-10 5-1 2 1 3 1-1 3 0 5-4zM193 160l-2-1-1 1-11 2-2 2 0 4 2 2 8 0 3-3 0-2zM175 141l-10 2 7 3zM11 1l-5 0-1 5zM53 315l-4-3-8 6-3 1 17 0zM233 291l1 6 3 0 8-3 0-2-6-4-2 0zM238 50l-3-1-5 3 6 2zM312 140l3 4 6-2 0-3-7 0zM79 294l3 4 3 1 5 0 1-1 7-1 0-1-3-2-6 0-9-3zM21 120l-8-3-6 8-1 4 7-4 3 0 3-2zM274 290l-3 1-9 7 0 3 9-6zM24 69l-8 1-3 4 5 2 7-4zM330 68l-5 3 1-1 3 0zM272 124l-3-1-10 5 2 1 5 0zM170 91l13 11 5-9-3-1-14 0zM166 106l-5 0-5 2 2 2 4 0 3-1zM227 0l-3 0-2 4 1 2zM54 83l-15 10 11-4zM64 169l-8 5-2 3 1 2 3-1 6-5zM50 90l-4 1 3 1zM121 320l-3 0-2 4 2-2 2 0zM316 247l9 0 0-1-3 0-1-1-4 0zM52 140l-15 5-2 6 3 2zM158 64l2 1 7 0 3-4-8-1-3 1zM164 123l1 6 2 1 11 0 6-3 0-2-3-4-1 1-7 0-4-2-4 0zM172 185l-6-7-7 8-7 5 9 2 6-3zM141 118l5 4 3 1-1-6zM57 179l-2 1-14 15 9-6zM43 56l-3 8-5 7 4 0 6-5 1-5zM136 158l-3 0-1-1-6 1-4 3 0 6 5 0 6-2 3-5zM189 303l-3 5-7 7 1 1 7-7 3-5zM136 65l1 1 9 0 4 2 4 0 2-1 1-2-9 0-1-1zM259 19l0 3 2 0 1-2zM202 37l-4 1-4 5-1 3 2 0 5-5zM68 75l0 1 7 6 9-1 5-3 10-2 0-1-3 0-8-3-3-3-1-3-4 2-4 4-6 3zM146 249l12 5 6-1 0-2-9-3-7 0zM255 38l8 0-5-3zM23 62l-6 7 6-1zM267 144l7-1-6-1zM113 327l-5 3-3 0 1 1 6 0zM17 40l-2 0-1 6 5-2zM168 244l-2 0-8 4 5 2 5-1zM107 321l-7 3-6 1-3 6 9 0 3-2zM329 161l-3 8 3 0 0-3 1-1zM89 30l-2 1 0 3-4 10 8-10zM115 287l0 2 18 2-3-4-4-2-7 0zM289 96l3 6 3 1 8 0-7-5zM263 63l1 6 4 2 0-4zM70 294l-2-1-6 3 0 8 3 0 6-8zM184 2l-10 5-3 10 4-5 10-9zM204 66l-5-3-3 3-3 6 9-3zM72 195l-6 1-2 4 5-4zM80 299l-8-4-6 9 6-4 8 0zM320 143l-6 4-2 7 1 3 2 0 5-5 1-2 0-5zM207 86l12 0 3 1 0-3-5-3-5 0-2 1zM54 6l-7 5-2 8 3 0 1-1 3-10zM178 138l-1 1-6 0-5 3 7-1zM4 138l-4 1 0 1zM303 192l-2-1-2 4-5 4-1 2 4-1 6-6zM202 70l-9 3 2 2 4 0 2-1 0-3zM280 55l-2-2-5 0-10 3-1 2 2 3 7 1 8-5zM34 150l-2 1-2 3-1 5zM138 132l-2-2-2 0-9 5-5 1 1 2 4 0 7-2zM82 147l-12 1 3 5 8-4zM285 288l-1 12 2-1 2-6zM171 147l-7 4-5 1-2 2 0 2 10-2 2-2zM157 58l2 2 2 0 5-4-8 0zM175 216l-6-1-2 3-4 1 0 1 1-1 6 0zM80 316l3 0 8-3-8 0zM139 78l0-4-2-2-3 2-10 0 8 6 4 0zM197 165l-5 3 2 8 4-5zM256 6l-8 7-1 4 9-9zM303 319l4 6 0-8zM300 269l-4 1-10 10-1 3 6-2 9-10zM164 296l-6 2-8 6-5 2 7 1zM96 219l2 1 11 0 7-2-7-2-7 0zM126 284l4 2 4 5 5 0 14-9-17 0-1 1zM74 195l-5 2-4 3-1 2 6-5 4-1zM185 171l-6 0-1-1-1 1-3 13 3 0 2-5zM330 200l-3 1 2 7 1-1zM296 109l-6-4-7 2-3 2 1 2 6 0 5-2zM169 331l10 0 2-1-9-3zM261 33l3 5 1-1-1-4zM44 131l-6 3-1 2 6-3zM292 30l-11 4 0 3 2 1zM200 171l-1 0-5 6 0 3-3 4 0 4 6-5 4-7zM294 271l-9 2 1 6zM183 252l8 1 5-3-7 0zM210 105l7 0 1-1 10-1-1-2-3-2-6 0-3 1-4 3zM42 26l-8 6-3 1 1 5 8-6zM237 168l-2-3-9 8 3-2 8-1zM249 307l-4-1-1 5 4-1zM73 48l-6 5-1 3 5-3zM89 248l0 4 10 4-1-2zM116 313l-7 0-9 4-10 2 0 6 13-3 4-2 6-6zM330 57l-2 2 2-1zM124 202l12-1 3-1 0-1-2-1-9 0zM292 28l-7 2-1 2 4-2 3 0zM83 142l-6 4-4 1 9-1zM169 244l0 4 6-1-1-3zM185 24l-3-1-4 4 3 2zM85 316l-6 1-4 3-6 2 9-1 5-3 2 0zM23 45l-6 7-4 2-8 7 6-1 11-6 2-2zM59 305l-5 1-6 3 8-1zM229 318l8 2 3-5-6-1zM183 43l-3-2-5 5-6 3 0 1 2 2 8-1 5-4zM249 52l-7-3-3 1-3 5 1 1 3 0 5-2 2-2zM106 74l12 4 12 1-7-5-6-2-7 0zM181 149l-1-1-4 1-6 6 7 0zM169 90l2 1 11 0 2-6-5 0-1 1-7 0-1-1-1 1zM89 0l-15 10-1 2 1 5 2 0 9-7 4-8zM330 135l-5 1-3 3-1 5 2 6 2-5 5-5zM148 161l-3-1-2 4 3 0zM318 169l-2 1-1 4 4 6 4-6 0-3zM103 0l-5 0-1 2-3 2 0 4 7-2 2-2zM173 294l-3 0-7 3-10 11 9-7 7-3zM53 155l-8 2-1 1 0 5 8-1zM97 0l-1 0-1 2 1 0zM227 43l-6 2-4 0-3 3 1 1 12 0zM253 161l3 3 6-1-5-3-3 0zM204 291l-6 3-6 1 2 1 7 0zM86 31l-1 0-4 7-1 5-3 5 0 3 4-4 5-13zM22 4l5 1 6-5-10 0zM325 118l-4 5-4 3 6 1 1-1 0-6zM320 78l-6-5-6 2-5-1 7 5zM95 200l-3 2-5 0-1 1-10 0 10 0 1 1 3 0 5-2zM0 177l0 4 4-2-2-2zM300 192l-2 0-4 4 0 2 1 0zM308 50l-6-3-13 7 3 1 8 0zM135 164l5 1 2-1 1-2-6-2zM195 92l5 6 10 0-12-6zM148 239l5 3 3 0 4-2 0-1-5-3zM20 189l-2 2-5 11 3 1 4-8zM16 13l-9 4 0 9 9-9z"/>
<path fill="#20b4e0" stroke="#20b4e0" d="M330 252l-9 1-1 3 2 1 1-1 7-1zM136 36l-5 0-2 2-3 10 1 3 10-3 4-3-1-6zM317 70l-2 3 5 4 2 0 2-6-2-1zM258 141l-3 1-6 7 0 3-1 1 11-5 1-4zM168 56l8 4-2-4zM219 301l-2 1-5 7-5 4 13-7zM148 124l-9-6-3 3-2 5 3 4 2 0 3-2 2 0zM107 88l0 3 5 0 6 2-1-5-3 0-1-1zM309 255l-3 0-3 3-4 8 0 2 2 0 2-3 8-7zM140 90l1 3 5 0-5-4zM219 122l-4-5-2 0-11 6-1 3 12 0zM85 124l3 1 9 0 7 2 5-5-3-3-3-1-11-1-6 2zM21 99l-3-2-2 4zM65 284l0 2 3 3 11 4-1-3-11-6zM72 119l-2-1-5 1-3 2 0 4 4-4zM142 320l-6 4-6 7 9 0 3-6zM280 169l-8 6-5 2-2 5-4 5 3 0 9-4 2-2zM52 54l-2 0-4 11 6-5 2-4zM156 217l0 3 1 1 5-1-1-2-4 0zM0 233l0 2 2-1zM162 283l-9 0-11 7 10-1 7-2zM43 5l-3 8 5 4 1-8-1-3zM227 273l-13 1 0 2-4 6 11 0 3-1 3-4zM169 203l4 3 3 0-1-5-3 0zM60 181l-3 5-1 4 1 0 4-6zM18 95l-4 1-3 3-2 7 7-6 0-2zM86 316l0 2 3 1 4-2 3 0 0-1-4-2zM179 249l0 2 9-1 0-1zM140 117l15-3 2-3-2-1-9 0-5 3zM71 0l-10 0-5 4-1 12 2 0 3-5zM16 126l-3 0-8 4-5 4 0 4 2-1 5 0 7-7zM303 149l2 0 7 4 1-5-8 0zM55 301l-1-3-3 2-2 0zM67 49l-10 10 0 2 3-1 5-4zM197 306l-3-2-3 0-10 13 7-1zM21 160l-7 7 0 3 5-4zM67 177l-5 2-1 2 1 1zM105 289l-1 1-8 0-1 3 4 3 4-1 2-3zM72 124l-9 1-2 2 0 8-1 1 7-3 5-5zM245 302l0 2 3 2 2 0 3-2-1-3-6 0zM101 31l-1-1-3 1-4 7 6-3zM178 147l-1-1-4 0-4 8zM78 28l-2 0-2 2 0 3-2 5 3 2 2-5zM61 296l-5 2 0 4 2 2 3 0zM266 71l-3 0-3 10 4 0 4-6 0-2zM250 72l0 5 6 4 3 0 3-10zM165 94l2 4 16 5-13-11-2 0zM6 94l7 2 9-4 0-1-2-2-7-1zM126 24l-6 5 1 2 1 0zM286 0l-3 0-7 6-6 2 6-1zM21 132l-1-1-5 0-6 5 3-2zM75 197l1 1 10 0 4-3-5-2-5 0-5 2zM55 5l-5 12 1 5 3-5zM269 67l0 3 7 0 0-2-2 0-3-2zM228 0l-5 7 1 3zM48 230l4 2 5 0 7-3 1-2-15-1zM330 30l-3 3-3 1 5 0 1-1zM33 327l6-2 8 0 8-5-17 0-5 5zM17 318l-2-1-7 8 3 1zM181 51l-6 2-5 0-2 2 6 0 2 1 3-2zM104 250l3 4 3 0 1 1 14 0 1 1-6-6zM191 168l-5 3-4 5-4 7 0 2 8-7 5-8zM165 274l-4 0-4 3 0 2 7-2zM178 249l-1-1-11 2-1 3 1 1 5 0 6-2zM174 218l-4 2-11 1-2 2 11 0zM117 6l0 2 6 5 3-1 0-6-2 0-3-2zM300 112l-3-2-5 0-5 2-5 0-2 4 9 0zM132 86l10 3-1-3-5-2-2-2zM264 258l-7 4-11 1-4 4-1 3 3 4 3 0 7-4 2 0 4-4zM295 50l-15 4 8 0zM8 9l-6 1-2 2 0 10 6-4zM95 0l-5 0 0 2-4 7 5-3 3-3zM263 139l-4 2 2 3-1 4 5-3 2-3zM29 269l11 0 2 1 4-5-7-5-6 0-3 2zM151 313l-2 0-6 5 0 5 3-4 5-3zM119 30l-4 1-2 2 0 2zM13 299l2 7 5 3 4-3 2-4-6-3zM38 120l-3-1-7 6-3 1 2 1 5 0zM178 248l10 0 1-2-6 0zM99 255l1 2 4 2 4-2-3-2zM310 196l-5-2 0 7zM329 170l-2 0 0 3 1 1zM27 163l-3 0-5 5 0 3 5-3 3-3zM245 124l-4-3-4 4-4 2 1 1 7 0 3-1zM271 296l-5 4-3 1 0 3 4-1 2-5zM229 242l-9 3-4 0 2 2 5 0 3-1zM58 139l-1-1-3 1-10 9-2 3 2 2 14-9zM287 170l-6-1-2 3-1 5-4 6 5-2 6-7zM137 158l1 2 4 1-3-4zM262 302l-5 3 1 3 4-4zM114 287l-2 1-6 0 0 4-2 3 6-1 4-4zM106 50l-1 1 1 2 2 1 1-4zM125 247l0 2 10 3 10-3-2-1-6 0-9-4zM166 19l-1 2 2 3 6 5 1-2-4-5-1-3zM77 83l4 5 5 3 5 0 3-3-4-1-5-6-1 1zM156 153l-6-1-5 4 0 2 4 3 7-6zM229 1l-1 1 0 5 1 1 5 0 1-4zM230 197l-9 2 3 2 4 0zM52 256l4 5 7 0 6 2 2-1-1-3-6-3-3 0-1-1-7 0zM227 5l-2 4 0 3 2-3zM241 147l-8 0-11 6 1 7 1 1 3 0 7-8zM0 272l5-3 3-4-8 0zM68 173l-3 0-6 5 4 0 4-2zM32 131l-5 1 5 0zM192 171l-2 1-3 6-6 6 2 1 7 0 3-5zM30 261l-19 2-2 1 0 1 8 1 3 2 8 0zM243 273l-2-2-7 2-6 0 0 4-3 4 4-2 10-1 4-3zM55 263l0-2-4-5-1 1-8 1-2 2 8 6 4 0zM196 119l-5-2-1 1-6 0-2 3 3 5zM260 29l-2 0-10 6 1 3 4 1 6-6 0-3zM159 52l-7 1-6 3 11-1zM14 317l-2 0-7 6 0 3 2-1zM191 75l-5 2 4 2zM318 270l-4-2-5 0-3 2 0 4-3 9 2 0 10-6 5-1zM300 41l-7 0-2 1-4 6 1-1 4 0 6-3zM83 254l1 5 13 4-1-2-4-3zM272 225l-4 0-1-1-6 1-4 6 6 0zM25 35l-8 4 3 4 4-5zM201 89l1 1 4 0 6 2 7 0 3-4-3-1-15 0zM122 115l-1 2 3 4 1 4 7 0 1 1 2-4zM93 325l-1 1-3 0-3 4 1 1 3 0zM330 172l-1 1 1 3zM188 136l-4 0-3 2-2 0-3 2-1 3 9-3zM310 91l-3-1-2 1-5 0-1 1-8 0-1-1-2 4 6 2 4 0 4-3 6-3zM301 46l-4-1-4 2-2 3 6-1 4-2zM248 36l-3 0-9 4 1 2 10-2 1-1zM72 1l-6 5 1 5 6-2 0-6zM320 253l1-1 7-1-5-1-3 2zM58 254l6 1 7 4 9 3-1-3-11-7-3-1zM324 107l-8 1-1 3 2 1zM174 323l-9 4-2 4 5 0zM63 90l-4 0-11 5 11 0zM37 227l-3 1-3 3-1 3 3 1 3-3zM111 28l-4 2-5 5-1 4 5-3 4-5zM182 50l1 2 7 3 2-1 1-7-8 0zM184 134l-2-1-4 2-4 0-2 3 9-1 2-1zM77 162l0 2 2 1 11-2-4-3-7 0zM80 28l-1 0-1 3 0 4-2 4 0 3zM97 21l-7 8 2 5 2 0 2-3zM91 248l8 6 6 0 2 1-6-5-2 0-3-2zM330 59l-4 1 4 0zM170 52l-2-3-2 0-6 3-2 3 9 0zM110 187l-1 3-4 4 3 0 1-1zM28 106l-5-6-3 0-5 2-7 6 8 3 3 0zM232 142l-9 5-1 3 1 1 1-2zM326 170l-2 1 0 2 2 0zM200 162l-2 2 1 6 4-4zM305 19l-12 9 0 2 7 0 4-2 0-8zM17 9l-2 1-6 0-2 6 9-4zM69 141l4 1 3-2 2-3-8 0-2 1zM56 191l-2 0-2-3-7 5-3 4 3-2 11-3zM123 179l-7 1-6 4 6 2 0-1zM26 6l-3 3-6 3 0 4 4 0 2-6zM327 174l-3 0-2 2-2 4 2 3 5-7zM188 303l-6 3-6 7 3 1 6-6zM323 78l-7 2-10 0-1 2 6 3 4 0zM0 97l0 8 2 0 2-6-1-2zM210 272l1 1 23-1 1-1 4 0 2-3-1-1-6 0-14-4-9 7zM156 277l-3 0-1-1-2 1-7 0-1 1-3 0-2 3 17 0 2-2zM34 235l5 2 8 0 2 1-1-6-6 0zM112 33l-2-1-2 4 4-1zM37 331l1 0 7-5-6 0-3 1zM200 126l-9 3-4 3-2 3 6-1zM48 275l-5-4-2 4-4 3 7-1zM255 123l2 4 3 0 5-3 0-1-3-1-6 0zM274 211l-2-2-2-5-1 1-9 0 4 6zM66 223l1-1 12 1 0-2-3 0-1-1-8 1zM197 91l13 6 2-3-1-2-4 0-6-2zM82 27l-2 2 0 4-2 6 6-7 0-2zM323 11l-2 0-8 5-7 2-1 2 0 7 7-6 7-4 3-3zM107 118l4 5 7 3 6-1 0-2-3-5-6 0-1-1-6 0zM49 297l0 2 4-1zM147 105l0 1 5 0 1 1 6-1zM272 62l-4 4 2 0zM278 208l10-3 4-3-10 0zM99 283l7 4 6 0 7-3 6 0 0-1-5-2-2-2-7 0zM4 96l0 2 7 0 1-2-5 0-1-1zM9 231l-3-3-6 2 0 2 3 2zM56 193l-15 5 0 2-2 3 2 1 12-7zM173 207l-5 5 2 2 6 1 2-6-1-2zM254 39l0 5 3 1 4 0 1-1 1-5zM25 160l-2 0-2 2 0 2-2 3zM236 80l5 3 14-2-4-3-10 0zM58 232l4 2 9 0-1-2zM310 255l1 2 3 2 6-1-1-3zM327 106l-11 7-1 4 9-3zM100 75l-2-2 0-4 4-7-3 2-7 2-7 0 3 5zM323 165l-3 2-1 2 3 0zM55 50l-3 3 1 1zM216 50l1 1 2-1 5 0zM71 38l-6 4-6 14 9-9 3-6zM164 59l10 2-1-2-6-3zM214 115l-2-1-6 0-8 4-5 4 1 1 7 0 13-7zM32 326l-8 3 0 2 6 0zM68 292l-3-5-3 1-3 3zM232 130l6 2 5-2 0-2-2 1-7 0-1-1zM65 196l-2-1-2 4-4 4 6-1zM328 175l-5 8 0 3 7-2 0-7zM151 69l-2 3 6 4 2 0 1-3-3-5-1 1zM1 144l-1 0 0 2zM314 128l8 4 2-4-3-1-6 0zM64 43l-1 0-3 4-7 13 5-3 2-7zM262 188l-13 5-7 6 7 0 2-1 4-5zM228 203l-2-1-9 4 7 0zM111 83l1 3 2 1 15 0-7-4-3 0-1-1zM266 304l-1 1-3 0-3 3 2 1 3-1 2-2zM154 216l-4 3 1 2 4-1 0-3z"/>
<path fill="#f8b030" stroke="#f8b030" d="M245 181l-4-1-6 3-5 4 0 4 5 0zM234 192l-7 1-7 4 3 1 1-1 7-1zM223 181l-2-1-5 3 1 3 4-1zM213 177l-2-1-5 1-6 10 4 0 4-2zM231 176l-4 6 3 0zM277 144l-1 6 5-3zM236 171l-7 1-4 2-3 5 1 1 4-4zM234 195l10 1 5-4 5-2-12-1-6 2zM50 239l0 4 1 1 7 1 6 3 5-2-3-4zM238 177l1 2 4 0 1 1 2 0 3-2 0-2-2-3-6 0zM256 175l-2 0-6 4-11 11 1-1 7-1 5-3 4-4zM230 183l-3 0-1 1 0 3 2-1zM216 190l-2-1-10 6zM61 236l2 0 6 4 5-2-2-3-10 0zM226 193l-5-2-5 5 4 0zM221 186l-4 1-1 2 4 0zM50 237l0 1 18 3 0-1-8-4-2 1zM12 181l-7 4 1 12 1 0 2-3 2-8 2-3zM215 183l-5 1-4 7-3 3 13-7zM240 173l-1-1-5 1-2 2 0 5-1 1 6-3zM222 172l-4 4-3 1-3 3-1 3 8-2 4-5zM289 136l-12 1-2 6 7-1 8-4zM257 189l-3-3-1-3-7 5zM31 171l-8 3-9 8 3 0 5 2 9-9zM240 180l-2-1-4 1-3 2-2 4 2 0 4-4zM232 174l-8 6-1 4 3-1 1-3zM229 187l-2 0-5 3 4 2 3 0zM221 190l-4 0-2 1-1 2 4 0zM49 232l0 4 9 0 3-1 0-1z"/>
<path fill="#f0e020" stroke="#f0e020" d="M312 235l-6-6-10 9-1 2 8 4 4-2 4-4zM18 168l-5 3 0 1-9 8 0 4 7-3 3-3 1-3 3-3zM288 246l-8 2-1 2 4 2 5-4zM295 238l-7-3-8 4 0 7 2 1 6-2 5-4zM289 245l9 1 3-2-7-3zM31 170l-6-2-4 2-5 5-3 6 10-8zM276 144l-3 0-5 8 5 1 2-2zM294 141l-1-1-4 2-15 11 6 2 6 0 4-4 3-5zM292 140l-3-1-7 4-4 1 3 2 2 0 6-5zM290 251l-2-2-3 2-1 2zM3 180l-3 2 0 9 3-5zM21 185l-4-2-3 0-5 12 5-3 3 0zM289 249l2 2 5-4-2-1-5 0z"/>
<path fill="#20b0e8" stroke="#20b0e8" d="M108 108l0 8 6 0 1 1 5 0 1-1 0-2-2-2-8-4zM67 138l-3-2-5 1-1 1 1 1 0 5 9-3zM101 100l5-3 7 0 9 4 1-2-4-5-7-2-5 0-4 4zM117 81l5 1 8 4 3-4 0-1-2-1-4 0-1-1-8 0zM84 126l4 6 5 5 4-2 6-6-1-2-4 0-1-1-9 0-1-1zM83 127l-2 3 0 7 2 1 10 0zM118 88l1 5 4 5 8 0 3-4-5-6zM84 122l-11 1 0 4 10-1 1-1z"/>
<path fill="#20c0b0" stroke="#20c0b0" d="M297 211l0 3 2 0 5 3 1-3-5-4zM308 225l6-3 2 0-1-3-5 0zM294 220l3 0 5 2 1-3-4-2-3 0zM304 195l-7 6-3 1 3 1 7-3zM280 226l-1 3 9 5 2-5-5-3zM268 229l7 3 3-3 1-3-6-1zM288 222l-4-3-1 1-4 0-5 4 3 1 8 0zM311 218l5 0 2-4-6 0zM265 223l8 1 4-4-2-2-6 0z"/>
<path fill="#b0d040" stroke="#b0d040" d="M112 11l-1 1-7 1-5 5-2 7 0 5 4-2 2-5 7-8zM128 38l-4 0-9 12 0 4 1 1 3 0 7-3-1-4zM110 28l-4 0-1-1-2 2-2 6 6-6zM115 26l-4 3 0 3 6-2zM125 18l-5 5-4 2 0 2 2 2 4-2 3-4zM157 43l-4 0-3 10 8-7zM128 26l-3 1-3 5 0 2 5-5zM111 14l-7 9-3 7 1 0 5-6 3-1 1-2zM152 43l-2 1-3 7-5 5 3 0 4-2zM150 43l-5 1-6 4-12 4 0 1 12 4 7-6zM121 32l-2-1-6 5 7 0 1-1zM165 49l-6-3-6 6 8-1zM137 23l-2 0-6 3-1 3-7 7 2 1 6 0 7-9zM108 34l-2 3 0 3zM112 36l-4 1-2 4zM117 24l-5 0-1-1-4 2-1 2 6 0z"/>
</g></svg>
<svg style="position:absolute;left:2px;top:170px;filter:blur(0.35px)" width="167" height="167" viewBox="0 0 334 334" preserveAspectRatio="none">
<rect width="334" height="334" fill="#4a4a4a"/>
<g stroke-width="0.5" stroke-linejoin="round">
<path fill="#66ffff" stroke="#66ffff" d="M82 10l-4 0-9 5-5 1 11 0 3-1zM0 298l0 3 8 13 5 4-4-11zM281 244l1 5 4 4 0-2zM54 171l-7 3-8 2-1 2 2 1 10-4zM250 197l-1 0 0 1zM242 196l-4 5 1 3 5 4 0-9-1-3zM138 300l1 14 0-10 1-3zM243 226l1 6 5 6 2 1-1-1 0-3-3-5zM250 168l-8 1-1 1-6 0-3 1 0 2 11-1zM213 278l-2 3 3 6 0 2 2 2-2-13zM26 33l-14 1-6 5 1-1 8 0 9-3zM301 266l-1 2 2 2 1 4 6 8-2-7zM200 161l-1-1-9 0-1 1-12 2 1 1 9 0 1-1 10 0zM154 4l-3 0-1-1-4 3 1 1 3 0zM57 216l7-1-5-1zM56 54l-1 1-2 0-1 1-2 0 2 0 1-1 2 0zM161 254l-3 2-1 9 3-4 3-2 0-2zM118 316l3 2 0-1zM0 293l0 4 9 9 1-3-4-6-3-3zM150 174l-4 1-6 4-1 2 2 1 6-2zM26 117l4 12 0 3 2 3 2-3 0-3-2-5zM48 226l0 4 2-3zM58 224l-4 1 0 2 2 0zM30 320l6 10 3 3 0-2-4-5-1-3zM304 1l1 1 4 0 1-2-5 0zM286 128l-2 2 0 5 1 3 6 5 1-1 0-3-3-9zM163 209l-4 3 2 4 1 0 1-3zM198 266l-1 1 0 5 2 5 2-3 0-6zM79 114l1 2 7 2-2-6-2-1zM32 204l1 3 5 5-2-6zM30 226l1 2 3 2 0-1zM15 54l-6 2-5 0 11 0zM38 281l3 8 4 3 5 1-4-8-2-2zM318 230l-1 1 0 9 2-2zM125 184l-6 0-6 4 3 2zM217 308l-2 0-2 5-3 4 1 2 3-1 4-4zM80 167l-7 0-2 1-3 6 6-2zM199 198l-1 4 5 10 1-1-1-6zM153 169l5 0 0-1-3-1zM130 332l0 1 3 0zM95 0l-4 0-5 4 4-1zM139 294l0 5 1 1 1-4zM135 198l-1 1-8 1-1 2 7-2zM166 265l1 2 0 19 5-3 1-2 0-12zM141 58l0 1 8 6 1-1-2-5-6 0zM26 171l-1 6 3 1 1-1zM80 0l-3 1-5 5-4 2 8-2zM26 242l1 5 4 4 5 3zM244 191l-2 1-7 0-9 4 5 3 3 0 2-2 2 3zM19 15l-10 4-4 0-2 2 9-1zM136 252l0 1 2 0 0-1zM149 246l-4 1 0 16 1 0 3-4 0-4-1-1 1-2zM301 76l-6-1-7 3 2 1 6 0zM0 46l2 1 3-2-4-1zM12 81l0 1 4 0 1 1 6 0-3-2zM267 190l4 1 7-2zM193 307l-4 1 0 7 2 5 1 0z"/>
<path fill="#ff7733" stroke="#ff7733" d="M332 203l1 5 0-5zM287 207l-2 2 3 7 1-4zM288 183l4 0 6-4-4 0-1 1-4-1zM175 32l3 4 9 4-2-6zM283 203l0 5 2 2-2-4zM299 208l6 0 1-1-5 0zM141 234l-2 1 0 4-2 6 1 4 2-8 2-3zM176 21l1 4 6 6 3 2 3 0-9-12zM265 296l1 1-1 14 3-3 1-5zM129 104l6 5 10 1-8-4-5-4zM301 214l4 0 1 2 2 0 1-2 3 0-7-2-3 0zM278 0l-6 0-3 2-5 1 4 0 1 1zM304 15l-6 1-7 4 1 2 4 0zM274 178l1 0 1 1 1 0-1-1zM284 171l-1 1 0 4 2 3 3 0-2-7zM179 236l0 2 4 3-3-5zM63 16l-1 1-4 0-9 5 6 0zM300 199l0 1 3 1-1-3zM306 190l-3 2 0 2 3 7 5 4-2-4 0-5zM215 1l-13 6 1 2 3 0zM242 6l5 0 6-2-11 0zM153 3l-2-3-4 0-3 6 6-4zM290 161l1 1 0 3 3 4-1-6zM333 128l-8 6 7 0 1-1zM242 185l-8 1-2 3 0 2 2 1 9-5zM185 1l1 1 4 0 5-2-9 0z"/>
<path fill="#ff33ff" stroke="#ff33ff" d="M87 206l-16 5 10-1 3-2 2 0zM27 171l3 7 2 2 2-1 1-2-2-4zM46 150l0 3 4 6 6-1-1-1-3 1-3-5-1-4zM154 20l7 4 4 4-3-8-2-1-1 1zM292 286l-2 3 7 13 3 2zM13 260l1 3 8 1-4-3zM62 204l14-4-6 0-2-1zM87 49l3 10 2 3 0-8-1-3-2-2zM103 170l4 2 3 0 1-1-2-3zM321 175l2 2 5 0zM85 321l2 7 3 3 4-1-1-7-2-2zM165 180l13 0-1-1-11 0zM33 142l1 8 7 10-1-1 0-4-5-12zM29 320l-1 2 1 1 1 7 3 3 5 0-3-3zM58 52l-1-2-4 0-11 4 8 0 1-1 6 0zM222 99l10 9-3-7-4-3zM20 97l-9 2 0 3zM90 112l-3 0-1 1 2 5 2-2zM245 242l0 3 3 8 1-1 0-4zM230 250l-2 3 4 7 0 2 0-9zM41 202l1 4 3 4 3 2-2-4 1-3-3 1zM247 53l6 0 1-1zM83 238l7-3-7 0zM30 284l3 5 6 3 3-1zM32 193l-2 0-6 4 2 0 4 4 0-3-1-1zM70 103l-3 1 1 4 2-1zM257 86l1 5 6 2 1-2 4-1 0-2-6 2-3-3zM209 245l0 4 3 6 3-2-2-4zM156 274l1 7 0-7zM92 130l-6 1-2 3 3 0 1 1 2-1zM54 274l2 3 1 5 7 4 1-2-3-5-3-3zM257 299l0 8 2 1 0-7zM109 63l-3 1 1 1 1 8 2-5 0-4zM54 134l0 1 3 1zM93 12l-8 5 0 1 6 3 2-4zM101 51l0 4 1 1 1-2zM290 307l2 9 1 0 1-2-2-5zM184 323l-1 3 4 7 1-3-1-1 0-3zM233 107l0 3 4 4 3 1 1-1zM38 100l-2 4 0 9 4 11-2-7 0-6-1-1zM105 280l1 2 3 0 1-1zM99 278l-1 5 4 5 2 5 0-8-2-5zM291 317l0 8 1 3 1-2 0-6-1-3zM239 286l0 13 2 0 0-11-1-2zM193 214l1 4 1-3zM33 223l2 5 8 10 1-1-2-5zM139 9l3 4 7 3 0-2-5-4 0-3-3 2zM34 90l-1 1 0 6 2 6 1 0 2-4zM7 271l4 3 3 0 0-1-4-3zM228 83l1 4 5 5-1-1 0-5zM279 311l-2 3 0 6-1 1 4 7 1-1 0-15zM245 47l-4 0-6 3-2 0 5 3 3 0 3-3zM193 17l-6 2-7 0-1 1 1 0 3 4 2 0 3-4zM22 79l5 2 5-1-1-3-5 0-1-1zM163 214l-1 4 3 2zM263 267l1 5 3 6 7 10-1-1 0-6-1-1-1-7-4-5zM86 91l2 5 0 4 3 6-1-14-1-1zM90 41l-2 3 3 6 0-8zM181 201l1 2 3 0 1-2zM175 198l1 13 2-7 0-5zM286 273l5 6 1-3-3-3zM75 55l-6 1 3 4-1-3zM55 68l-13 7 3 0 5 2zM280 163l-1 1 4 5 3 2 1-1-1-2zM320 249l2 3 3 2-1-2zM213 210l3 4 2-1 0-2-3-2zM236 272l2 10 1-3-1-1 0-4zM46 89l-2 2 1 4 1 0 1-3zM310 197l1 7 3 2 1-2-1-5zM310 322l0 10 1 1 5 0-4-11zM284 289l0 2 4 6 4 11 1 0 0-5zM82 6l-3-1-6 4 6 0zM241 17l-2 1-10 0 3 3 2 0 3-2 2 0zM291 227l7 13 2 0 0-2-5-9zM235 235l0 2 2 3 2 0 5 3 0-2-3-4zM224 91l6 8 2 0 0-1zM83 234l5 0 2-1-5 0zM169 34l7 5 7 0-6-3zM225 10l-4 0-4 2 3 0 1 1zM19 161l0 7 1 2-1 1-2-2-1 2 2 1 2-2 3 4-2-7 0-4-1-2zM56 282l10 14-1-7-4-4zM38 319l-1 3 4 4 2 1 5 0-3-4zM279 92l-3-2-5 2 2 2 4 0zM296 290l4 9 0-4zM265 282l1 2 2 0 3 2 0-1zM301 251l5 7-2-7zM288 231l7 11 0-2-4-8zM273 95l4 9 2 0-1-4-3-1 1-1 0-3zM242 216l1 7 2-3zM333 232l-2 1 0 9 2-1zM64 65l3 8 0 3 3 3-1-9-1-2zM310 284l0 7 2 7 2 2 6 3 2 0-4-7-7-8zM274 284l1 5 6 4 1-4zM255 134l0 1 4 3-3-4zM150 146l4 2 5 0 4-2-2-1-10 0zM232 312l0 12 1-1zM5 188l1 4 5 6-3-7zM24 259l3 6 7 1-6-6zM297 320l-2 6 3 5 0-10zM226 122l7 5 1-1-1-3-4-2zM312 37l-1-1-1 1-3 0-7 4-2 0 11 0 2-1zM41 263l6 8 6 2-7-8-2 0zM83 75l-5 1 3 6 2 0 3-2zM212 199l2 7 2-5zM155 36l-1 1 0 3 5 6 4 1-5-5zM303 302l0 2 3 4 0-3zM11 280l11 10-2-5zM82 193l-5 1-2 2 1-1 4 0zM317 198l0 2 2 3 3 2 3 0 6-3 0-1-6 0-2 1zM52 216l1 1 0 4 3 2 4 0 4-2-1-1-9 0-1-1 1-2zM249 327l-4 6 4 0zM52 112l0 2 8 4-3-8zM0 277l0 3 4 1zM210 32l-1 1-3 0 0 1 5 0zM265 14l7 3 9 0 0-4zM247 96l1 7 5 3 4 1-1-4-6-7zM7 153l-1 5 4 5zM311 281l-1 1 1 4 6 8 0-4 1-1-3-5zM231 75l1 1 0 4 5 3 0-4zM166 48l7 3 2 2 4 1 3 3-1-2-6-5zM18 330l-1 3 3 0zM50 294l0 4 3 5 7-2-3-3zM64 287l2 2 4 1 0-1-4-3zM7 225l7 6 3 0 1-1-2-3zM6 184l4 10 1 1 5 0-3-5zM187 200l0 2 2 0 2-3 3 6 3-3 0-3-1-1-5 0zM319 223l-1 6 2 6 1-10-1-2zM171 95l-2-1-6 4 5 0zM163 91l1 2 2-1zM81 53l-3 3 0 6 2 4 0-3 2-1 2-3zM55 289l1 2 3 0zM96 165l8-4-6 0zM269 161l-9 1-9 5 0 1 1-1 10-1zM304 239l3 10 0-4zM56 67l-2 4 2 3 2 7 1-2 0-6-1-1 0-3zM234 118l4 6 6 2zM51 241l-1 2 5 7 1-1zM93 121l-2 1-2-1-3 4 0 2 5-3zM52 189l-6 2-1 3 6-3zM78 251l0 3 1 1 3-3 1 1 6 0-5 0zM263 224l1 7 4 2-1-5zM258 73l1 1 0-1zM260 66l-3-3-7 1-4 6 14-1zM254 219l2 8 2-1zM268 309l2 10 0-8-1-2zM101 171l-1-1-4 1-5 4-1 3 3 1 2-1zM27 309l-1 1 3 5 1 4 6 3 1-4-4-7-2-2zM291 246l0 3 3 7 3 4 5 4-2-5-4-4zM295 196l7-1 1 1 0 3 2 2-3-9-1 3zM99 42l2 8 3 4-1-9zM317 282l-1 3 4 6 1-5-2-3zM120 231l5 2 3 0 8-3-11-1-1 1-4 0zM10 306l4 5 4 0-6-6zM124 0l2 2 0-2zM284 314l6 17 1-1-1-12zM264 204l-1-1-4 1-2 4zM321 321l0 3 2 4 1 0 1-3-2-4zM205 212l3 7 0 3 2-3 0-2zM314 225l-1 5 3 1 2-4zM103 277l7 1 6-3-8 0zM0 182l0 4 1 0zM79 80l-2 0-2 2 0 3-1 1 1 4 2 2 5-4-1-5zM74 91l-2 3 0 10 2 1zM244 40l-4 2-3 0-1 2 4 0 4-2zM158 219l5 9 0-4-2-5zM225 116l5 5 1 0 1 1-4-4-1 0zM239 205l1 6 3 5 1-5zM288 202l0 5 1 2 2 0 4-5-2 0-1 2-1-3zM277 270l0 5 2 6 5 5 5 2 2-2-1-4zM45 79l-3 2-1 3 0 4 2 3 3-3zM234 180l11 0-4-2-4 0zM0 302l0 9 2 4 6 0-4-5zM198 232l0 3 2 1-1-1 0-3zM154 311l-2 0 0 3zM253 181l-12 3 3 2 3 0 4-2 3 0zM39 189l-6 3-2 4 2 1 3-2zM137 173l2 6 8-5 0-1-5 0-1-1-3 0zM262 132l4 6 0-5zM72 325l2 4 4 4 3 0 3-3-8-5zM274 137l6 6 1 0-6-6zM258 124l3 6 3 2 2 0zM184 184l9 4 1-2-2-3-7 0zM50 187l-7 3-2 2 3 0 5-3zM253 145l-2 2 5 8 2-1-1-6zM221 120l6 8 2 0-1-3-4-4zM252 73l2 4 3 0 2-2-3-3zM133 217l-1-1-4 0-2 2-6 2 1 2 10-2zM224 112l-1 2 6 4zM136 34l1 2 0 6 2 4 5 4 6 1-2-9-3-4-6-4zM200 316l-1 1 0 5 4 3 4-5zM320 170l-1 2 1 2 7 1zM25 141l-2 1 0 2 6 12 2 1-3-12zM120 225l-11 1-1 2 9 0zM245 116l9 8 3-1-4-5-7-1zM226 203l3 9 1-3-2-6zM0 71l4-3-4 0zM70 130l-2 6 2 3 0 2 1 0 3-3-2-2zM261 325l-1 8 3-1zM329 299l3 7 0-4zM142 70l4 6 4 0-2-3zM135 309l-2 11 4-2 1-2zM7 326l0 4 3 3 2 0zM269 244l1 4 1 0 0-2zM230 45l-6 1-4 2 0 2 4 5-3-5 2-2zM242 90l0 3 4 4 0-2zM94 295l3 3 2 5 0-5-2-4zM47 93l-1 7 3 5 0-9zM309 252l1 1 0 3 2 1zM13 211l1 1 0 5 4 2zM256 228l6 7 3 1 0-2-4-6-2-1zM260 120l0 2 8 7 1-2zM308 246l0 4 2 2zM44 194l-5 3-1 2 3-1zM325 327l1 6 2 0 1-3-2-3zM44 229l-1 1 0 3 3 5 3-2-2-5zM202 4l1 2 10-5-10 0zM199 323l-1 10 3 0 1-1-1-2 0-5zM219 29l-4-1-10 4 4 0zM133 200l-8 3-3 3 6 0 4-3zM310 248l2 6 0-5zM59 63l0 3 2 2 4 9 1 0-1-7zM314 210l-1-1-4 0-6 2zM99 248l2 4 2 1 9 1 1 1 3-1 0-1-5-3-7-2zM133 26l-2 0-2 2 1 2 4-2zM135 20l0 3 7 5-1-5z"/>
<path fill="#66ff7f" stroke="#66ff7f" d="M174 94l5 7 3 7-2-9zM25 178l-1 1 1 3 1 0 0-3zM139 66l11 8 0-2-2-3zM3 40l-3 1 0 3zM44 64l0-1-3-2-1 1-9 0 5 4zM156 154l8 4-3-4zM133 78l-2-1-2 1-1 2-4-1 1 5 5-2zM198 291l-3 1 0 8zM22 62l-5 0-8 3 3 1 3-2zM27 0l-1 1-1 0 1 0zM48 213l0 4 5 6-2-8zM330 256l-2 1 0 3 1 1 0 5 2 3 0 2 1-1 0-3-1-1zM30 144l-1 2 4 5-1-7zM240 248l-1 2 0 7 4 1zM241 269l3 9 2-1-1-5zM11 50l9-2-2-1-5 0zM192 213l-1 1 1 11 0-3 1-1zM22 265l1 3 8 3-5-6-3-1zM316 87l-3-1-8 4 10-2zM289 41l-1-1-8 0-9 4 15 0zM4 166l3 9 4 5 2 0-6-8-1-4zM197 87l7 7 2 0 1-2-3-4zM304 133l-1 2 5 7 5 4 1 2-1-2 0-5zM175 106l-9 3-4 0 0 1 4 2 8 0 1-1zM234 86l1 8 2 3 7 6-5-10zM147 77l5 9 0 2 4 2-1-6-4-7zM85 257l1 2 4 0 4 2 2-7-7 0zM71 290l5 9-1-6zM141 284l0 8 1 2 1 0 1-9zM157 138l-10 1-2 3 5 3 2-1zM157 269l1 10 1-6zM179 302l-1 8-1 1 2 3 0 2 2-4 0-6zM101 241l-3 0-3 2-2 0 9 0zM29 50l7 0 4-2-1-1-5 0zM183 314l1 8 0-6zM6 88l-1 0-1 10-1 1-3-1 0 3 3 0 9-3 0-2-5 0-1-1 1-3zM232 209l0 5 1 1 0 4 1 0 1-8-1-3zM113 221l7 2-1-2zM300 285l1 9 6 8 0-6-3-4-1-4zM283 199l-1-1-4 1-6 4 6-1 1 1-2 3 2 1 0-5zM75 306l1 4 7 9-6-12zM133 102l11 7 2 0 4-5-8 0-1-1zM188 81l6 4 0-4zM52 115l6 10 3 1 0-6-2-2zM18 84l-7-2-6 5 2 1 9 0zM154 80l3 6 3 3 3 1zM316 31l-3 1 0 2zM163 275l-3 6 0 6 3-9zM122 307l-2 2 2 2 1 4 2 0 0-2zM275 235l2 7 3 1-1-5z"/>
<path fill="#ff99dd" stroke="#ff99dd" d="M333 65l-2 3 2 0zM270 158l-6 0-5 4 1-1 9-1zM264 151l1 5 3 0zM263 209l-4 2 1 3zM142 19l8 5 6 1-1-2-3-2zM1 268l3 5 4 2 3 0-7-4zM116 125l-5-3-8 8 0 2 7-1zM90 0l-2 0-5 3-1 2 2 0zM102 133l-6 5-3 5 1 4 3 2 5-2 3-8zM170 60l5 5 3 0-5-5zM92 211l9 1-1-1 1-1zM127 3l9 8-5-6zM157 38l2 4 4 4 2-4-4-4zM61 315l1 1 7 1 0-3-4-3-1 0zM245 117l4 5 1 3 2 0 1-1zM93 193l-2 0-1 4-3 4 6-3zM87 166l-7 2-3 2-2 3 4 0zM320 103l-8 1-3 4 0 2 3 0 1 1 2-1 4-4zM259 70l-8 0-3 1-1 3 2 3 5 4-1-5-2-3 3-2 4 1zM158 167l1 2 2 1 4 0 1 1 1-1-1-2zM18 144l3 6 2 0zM38 237l1 3 7 5-2-3 0-2-4-4zM18 273l2 1 0-1zM91 212l0 2 10 0 0-1-3-1zM126 39l-4 5 3-1 1 2 2 1 0-5zM231 172l-3-2-6 2-9 0-2 1 1 1 12 0zM98 76l0 3-1 1 1 1 1 8 1 2 5-1-1-1 0-3-5-10zM87 208l-6 3 2 1 2-1zM329 62l1 1 3 0 0-2zM50 96l0 11 2 4 1-1 3 0 1-1-5-8-1-5zM34 151l2 12 3 5 2 1 2-3-1-3zM255 212l3 5 0-4zM329 191l-1 2 2 3 2 0-1-4zM78 154l7 0 0-5-4 0zM287 104l-5 3 5 6 2 0 1-3zM135 24l-1 1 1 3-2 2 1 0 2 3 3 0 4 2 0-5zM158 189l-8 2-3 3-1 4 9-2 4-3-2-3zM245 191l-2 2 1 4 4 3 0-4 5-4zM41 54l-3 1-8 0-6 2 8 1zM194 145l-2-1-1 1-5 0 3 0 1 1zM7 265l3 4 3 0zM104 233l10-1-7-1zM118 51l7 8-1-6zM214 60l1 1 0 3 7 6-5-9zM51 246l2 5 0-2zM118 208l-1-1-3 0-5 4-7 2 0 1 10-2zM30 246l7 8 3 1zM333 199l-2 1 1 2 1 0zM110 102l0 3-1 1 4-1-1-2zM64 140l-1 2 2 4 2 0 1-3-3 1-1-1 1-1zM133 42l-2 3 5 8 3 2 0-8-2-3zM155 22l2 4 7 7 3 0-2-4-4-4zM160 201l0 1-4 3 0 4 2 2 4-3zM321 95l-9 1-3 4 2 0 2-2 2 0zM258 108l3 8 6 4-4-8zM175 175l2 2 9-1 0-1zM332 78l-7 3 7-2zM296 14l-3 0-3 2-8 1-1 1 4 1zM171 194l-1 2 1 3 2 0-1-1 0-4zM260 147l-2 1 0 2 1 1 0 3 3 3 2-1-1-2 0-5zM333 89l-6 2 6 1zM233 143l-5 1-6 7 12-6zM82 249l2 3 16 1 0-2-2-3-12 0-1 1zM166 324l0 9 4 0zM63 219l-1-3-4 3zM44 131l1 4 2 1zM84 189l-7 3 0 1 5-1zM5 145l2 7 2 0-2-6zM240 258l4 6 0-4zM322 10l-5 1-5 5 1 1 5-1zM297 165l2 4 5 4-1-4zM217 202l-3 5 0 2 3-2zM200 77l4 6 9 5-1-3-6-8zM316 58l1 1 3 0 2-2zM318 75l-9 1 0 3 8 0 1-1zM333 57l-8 4 8-1zM258 57l8 0 4 2 1-1 4 0-2-1zM155 26l-1 7 3 4 3 0-3-10zM263 188l1 2 2 0 6-3-1-1-4 0zM38 219l-1 3 6 7 1-1zM181 64l4 5 4 0-4-4zM166 167l1 2 6 0 2-1-2-1zM203 213l-1 2 0 9 1 3 1-1 0-11zM253 154l-2 1-1 2 4 8 3-2 0-4-2-4zM179 191l2 3 2 0 1-3zM102 64l0 1 1 1 0-1zM245 70l-7 1 0 1 3 4-1-2 5-3zM76 160l-5 0-3 4 1 2zM232 192l-1-1-4 0-5 2 3 2 2 0zM270 139l-1 2 11 8-1-2zM102 199l-11 1-5 2-1 2-1-1 0 1 5 2zM132 30l-2 1-3 5 5-1 1 1-1 1 1 4 4 2-1-1-1-9-1-2zM261 56l12 0 1 1 1-3-8 0zM99 277l1 1 2-1zM88 276l1 4 3 5 3 1 2-2-1-3zM123 135l1 1 4 0 6-2-2-2-6 0zM214 254l-2 2 0 3 2 4 1 0 1-7-1-2zM12 231l-1 1 12 12-5-9-3-3zM0 137l2 8 2 1zM178 88l6 6 4 8 4 5-2-4 0-3-3-5-5-6zM147 199l1 3 9 0 3-2 0-1-3-2-5 0zM38 265l0 2 3 2zM137 198l1 1 8 0-1-1zM84 201l-1-1-6 0-9 3 2 1 10 0 3-1zM19 172l-2 1 0 2 2-1zM22 164l2 11 1-5zM51 134l-2 3 2 3 3 2 0-5zM189 250l-1 16 1 2 1 0 0-14-1-1zM78 102l-3 2-1 2 1 2 4-3zM144 31l0 5 6 7 6 3 2 0-5-6-2-5-3-3zM198 194l4 2 2-2 3 0 0-1zM302 95l-1-1-3 1-6 7 3-1zM172 187l-3 0 2 1-2 2 1 5 3-7zM230 211l0 4 3 7-2-11zM205 75l6 6 9 5-3-4-7-6zM101 184l-4 3-6 2-1 3 4 0 7-6zM236 151l1 1 3 0 0-2zM241 143l4 11 4 1-4-9zM59 208l5 0 7-3 3 0-9-1-3 1zM115 219l6 0 6-3-9 0zM333 8l-10 2-2 4 12-3zM48 248l2 6 2 1zM158 174l-1-1-5 0-4 7-2 1 10-5zM174 106l-6-1-7 3 5 0 1-1zM231 200l-1-1-3 0-4 2-4 0 0 1 1 0 1 2 3 0 1-2zM34 221l-1 1 9 9 0-2-4-5zM150 13l0 3 3 3 6 0 1-1-5-5zM154 270l0 3-1 1 0 3 0-2 1-1zM100 121l-6 1-2 2 1 1 4 0zM42 112l5 16 1-1 0-5-4-5zM241 152l-1 1 2 1zM244 144l2 2 4 9 2-1 1-2-2-4zM265 170l-4-1-6 4 0 1 3 1zM274 164l-12 4 4 2 8-3zM324 90l4 0 5-2-1-1-6 0-2 1zM69 291l2 2 0-2zM206 54l8 11-1-6zM84 289l3 5 0-2zM219 113l2 2 2 5 5 1-5-6zM282 159l0 1 1 1 0-1zM74 173l-5 1-7 8 3 0 4-3zM309 30l6 1 3-2zM136 209l-3 0-4 3-7 3 9 0zM257 57l-3-2-10 3-1 3 2-1 5 0zM104 55l-1 1 0 4 1 2 2 1 1-2zM287 197l1 4 2 1zM153 172l12-1-12 0zM20 23l-3-1-2 1-6 0-5 3-2 0 1 1 9-3zM286 73l-5-1-10 4 1 3zM298 110l3 2 6-2 2-3-8 0-2-1zM249 305l-1 4 3 0 1-3zM191 70l8 6 6 0-3-3-6-3zM67 98l1 5 1-2zM253 139l-2 3 4 4 4 1 1-1-1-2zM315 199l0 3 2 3-2 1 8 0-3-1-4-6zM101 278l2 2 1 4 1-2-1-2 1-1 3 0-2-1zM62 246l-1 1 1 2 5 5-3-7zM1 36l6 1 3-2 0-1-7 0-2 1zM194 188l6 0-2-2-3 0zM87 32l-2-1-7 2-3 2 0 2 11-3zM81 117l4 4 1-2zM102 215l1 2 13-1-3 0-5-2zM94 89l0 3 6 7-2-7zM67 236l-1 3 3 7 1-1 0-6-2-3zM41 9l-1-3-8 4zM72 305l0 4 2 0 0-3zM318 60l-5-1-5 2zM333 32l-4 6 4-1zM48 128l-1 1 1 7 2-2zM64 58l-5 3 2-1 3 4zM83 182l0 6 2 0 3-4zM93 54l0 7 1 1 3 0 0-6zM147 182l-5 0-8 5-3 4 15-4 1-1zM134 133l8-1 2-3-8 0-3 2zM187 35l1 5 12 11-4-7zM46 25l4 0 4-2-7 0zM65 86l1 5 1 0zM79 116l1 4 4 4 0-3zM188 305l-2 3 0 8 2-2zM241 115l-1 1 10 10-6-10zM169 207l-1 6 2 3 2-3 0-3-1-2zM44 238l3 8 4 3-1-5-3-4zM221 248l0 6 4 1-1-5zM267 133l0 6 2 1 2-4zM282 208l1 7 4 5-1-7zM326 98l-5-1-5 3 5-2zM102 43l-3-7 2-3-7 2-5 4 7-2 2 3zM218 214l-1 2 2 3 0 2zM277 207l2 7 3 3 0-4-2-4zM74 149l-5 0-5 3 2-1 5 1zM151 7l0 1 8 1-4-4zM35 129l0 4 1 2 2 0 0-3-1-2zM100 201l-10 5 3-1 8 0-1-1zM168 176l0 1 8 0-2-2zM302 22l-5 0-6 4 8 0 4-2z"/>
<path fill="#b2ff66" stroke="#b2ff66" d="M89 245l0 1 2 1 12 0 2-1 0-1-2-1-11 0zM252 96l1 3 4 4 3-1-1-2zM8 172l2 2 0 1 2 2 0 1 2 2-1-1 0-1-3-3 0-1zM253 247l3 7 0-3zM164 316l-3 2-1 3 0 4 2 5 3-1zM291 47l6 1 3-2 2 0-6-1-1 1-4 0z"/>
<path fill="#ff5500" stroke="#ff5500" d="M314 207l1 3 7-2 0-1zM198 12l-3 1-2 3zM315 178l1 4 3 3 3-1-5-6zM315 182l0 7 1 2 3 2 2 0-2-7zM184 25l9 4-6-6zM195 21l-5 2 1 1zM321 56l5 0 0-1-4 0zM46 101l-1 3 2 7 2 3 2 0-1-6zM256 156l2 3 0 3 6-5-2 1-3-3z"/>
<path fill="#00ff2a" stroke="#00ff2a" d="M185 63l5 6 4 0-2-4zM173 212l-2 5 4 11 0-10zM225 293l0 5 3 6 2 1zM196 211l0 12 1 3 1-3 0-8zM99 254l6 4 12-1-5-2-9-1-1-1zM305 309l0 4 5 8 2 0-1-6-4-5zM244 253l-1 1 1 5 4 3-2-8zM250 223l-1 1 1 4 5 7-1-8zM93 11l-4 1-7 5 4-1zM278 48l6 4 4 0 6-2 0-1-5-3-5 0zM191 78l2 2 10 5-2-3-8-4zM139 217l1 3-3 2 2 2 4 1 0-3zM220 225l-3 2 0 2 1 1 0 3 5 4 0-5zM300 217l-1 1 1 3 2 2 2 6 1 0 0-7zM226 253l0 4 2 7 4-1-4-9zM107 31l1 6 3 3 0-4-2-4zM253 316l-2 1 0 2 3 7zM184 40l3 4 0 2 5 4-5-9zM0 7l4-3-4 0zM72 310l1 5 2 0 0-2-2-3zM255 228l1 2 0 6 3 5-1-9zM157 47l4 6 4 0 1 1-6-7zM197 203l-2 2 0 2 3 6 0-9zM81 296l0 2 5 2zM177 312l1 7 0-5zM29 25l-13 3 1 1 8-1zM0 49l10 1-6-3zM149 68l1 3 9 9-6-9zM219 235l0 3 4 6 0-6zM78 291l3 4 2-1zM22 48l-12 4 6 1 4-2zM306 3l-3-1-6 3-1 2 3 0zM51 57l-2-1-5 1 1 1zM273 218l3 6 2 8 2 1 0-6zM42 48l6 0-2-1zM141 225l-5 2-5 0-2 1 10 1 2-1zM41 139l0 3 2 5-1-8zM208 223l-3 1-1 3 3 6 2-1-1-1zM53 143l-2 4 0 3 5 6-2-4zM283 251l0 3 3 5 6 5-5-10zM23 77l-12 4 1-1 8 0zM150 133l5 1 4-4-2-1-7 0zM169 101l-3-1-8 4 0 2 7-2 4-2zM132 208l-5-1-3 5zM314 304l-2 4 3 3 5 2-3-6zM332 13l-2 2-1 0-1 1 1-1 1 0 1-1 1 0 1-1zM267 285l4 7 0 2 1 0 0-7zM70 17l-7 0-6 4 4-2 4 0 3-2zM134 161l-3 0-5 2-3 6 2 6 10-4 3-4zM55 197l-12 7 1 1 4-1 3-2zM311 156l5 14 3 1 0-4zM137 284l-2 3 1 1 0 5 1-2zM80 277l-1 7 4 3 1-1-1-1 0-4zM201 290l1 10 1 1 3-5 0-2-2-4zM63 302l2 4 6 2 0-3zM213 266l-2 2 0 6 2-3zM261 117l-1 2 5 4 0-4zM333 115l-2 1-1 2 3 0zM257 256l0 3 6 7 5 2-4-8zM232 181l-10 1-5 3 8 0zM297 69l-3 3 2 0zM333 125l-5 1-1 3-4 5 10-7zM23 98l-3 0-9 5 4 0zM270 189l5-1-4 0z"/>
<path fill="#d4ff00" stroke="#d4ff00" d="M112 237l-2-1-1 1-4 0-1 1-3 0-2 1 0 1 12 0zM108 1l-3-1-5 4 7-1z"/>
<path fill="#3333ff" stroke="#3333ff" d="M261 99l-1 2 3 1 0-3zM129 36l-3 2 3 3 0 2 2 0 1-1-1-3 1-3zM267 101l0 7 3 5 2 0 2-2-1-3zM255 55l5 1 8-3-8 0zM237 8l10 0 0-1-8 0zM284 99l3 2-1-2zM277 98l12-3-1-2-8-1-3 3zM238 104l3 5 2 1zM220 24l13-2-10 0zM162 1l4-1-3 0zM217 81l5 6 6 0-4-3-2 0zM115 15l-3 1-7 6 1-1 6 1 1 3 4-1 0-1-4-3zM224 108l0 2 10 7 1-3zM163 48l7 5 2 0 3 2-2-3-8-4zM142 24l1 5 5 2 1-1-1-2zM115 45l2 5 7 2-5-3zM119 10l-6 3 0 2 2-1 1 1-1 2 6 5 3-2-1-5-4-1-2-2z"/>
<path fill="#33ff33" stroke="#33ff33" d="M333 141l-1 1-8 1-1 2 6 6 0-5-1-1zM143 153l-3-1 0 2-5 6 4-1 1-2 4 0zM268 326l0 5-1 2 3 0zM237 115l6 8 4 3 1-1zM221 288l-2 4 0 3 1 1 4 0 0-4-2-4zM42 4l7 0 9-4-9 0-3 2-2 0zM282 326l-1 2 1 5 6 0zM308 307l3 4 1 4 1 0 1-4-3-3zM156 203l-9 0 1 10 2-3 0-4 1-1 3 0 2-1zM120 111l-3 3 1 2zM271 324l-2 3 1 1 0 3 1 2 3 0-1-8zM312 255l7 9 1-1-1-3zM235 279l-2 0 0 3-2 3 0 5 2 3 2-7zM232 174l-2-1-6 2-12 0-3 3 2 1 10-1 1-1 7-1zM169 225l0 9 2 5 1-7zM318 244l1 3 2 1 1-2zM321 263l-2 3 2 2 0 2 3 5 3 2-1-1-1-7zM41 34l-1-2-3 0-1 1-9 0-2 2 11 0 2 1zM127 112l0-4-5 2zM246 235l2 10 3 7 1-7-2-5zM233 262l1 5 4 6 0-4zM195 168l0 2 3 0 4 2 6 0 1 1 3-1 0-3-1-1-6 0-1-1zM14 158l-2 7 1 2 5 1 0-7zM216 91l1 3 4 4 3-1-2-4zM154 120l18 0-2-2-7 0-1-1-5 0zM146 288l0 5 1 1 0 4 0-7-1-1zM262 176l-3-1-6 5 6-1zM333 0l-6 0-8 6 14-4zM259 214l0 4 5 6-1-1 0-3zM169 305l-1 1 3 7 0 3 1 0 1-5-1-3zM35 45l-5 0-6 2-1 2 6 0zM120 321l-1 1 0 11 2-3 0-8zM156 239l-4 4 1 4 1 0 2-4zM172 284l-3 1-3 3-1 3 0 6 3 3 0-4 4-9zM23 18l-12 3 0 1 4 0zM0 116l0 9 2 4 3 1 2-3-2-3 0-2zM333 16l-4 2-6 1-2 2 7-2zM326 165l7 10 0-3zM315 268l3 13 2 3 3 2 0-3zM186 87l11 11 5 2-2-4-8-8zM177 169l-9 1-1 1 8 0 2-1zM171 96l-1 1 1 0zM171 90l8 7-2-3 0-2zM11 70l-6 2 6 0zM234 119l-1 3 2 3 2 0 0-2zM292 329l0 3 3 1zM53 195l-6 1-4 2 0 1zM43 217l4 7 3 2-3-7-2-2zM12 150l-1 5 1 3 1 0 0-6zM6 167l5 8 0-4 1-1 1 2 1 0 2-3-5 1-1-1 0-3zM329 13l-9 2-3 2 1 2 3-1zM29 157l1 1 0 5 6 15 3-3 1-3-5-10-3-4zM139 316l-1 1 0 6-2 7 1 2 3-3 0-4 1-1-1-7zM322 315l4 11 3 1-4-10zM306 280l-2 9 3 6 5 4-3-8 0-8-2-3zM58 244l-1 2 3 6 1-1 0-3zM286 260l0 3 3 5 6 2-2-4zM319 324l0 5 2 4 1-6-1-2zM282 16l5 0 5-2-1-1-9 0zM44 135l0 3 1 1 0-3zM146 0l-2 0 0 5zM87 0l-6 1-3 4zM256 175l-3-1-1 1-3 0-2 1 0 1 2 1zM75 57l2 1 0-2zM79 51l-1-1-6 1-3 2 0 2 10-2zM94 296l0 5 6 13 1-2-1-1 0-5zM203 274l1 4 2-1 0-3zM277 243l1 7 2 1-1-7zM40 184l-4 1-5 7 3-1zM224 297l1 2 0 8 2 0 1-2zM44 35l2 2 5-2-2-2-2 0zM78 285l0 3 1 2 2 1 0-4zM29 51l-14 6 3 0zM164 151l-3-3-6 1 0 2zM92 332l0 1 9 0-6-3zM282 91l8 2 4-4-7 0zM31 29l-1-1-9 1-2 1 0 2 9 0 2-1zM94 227l-5 3 2 2 5-1zM216 74l3 4 3 1-4-5zM302 27l-4 2 2 1zM233 223l-1 6 2 4 6 3-4-10-2-3zM164 263l0 19-1 2 3-2 0-15zM269 230l7 11-2-7-3-4zM333 38l-4 1 0 4 1 1 3-2zM294 312l2 6 3 2-1-7zM57 257l0 4 3 6 4 2 0-2-4-8zM37 37l-11 2-4 2 0 1 9-1zM202 325l1 8 4 0-3-7zM205 269l-3 1 0 3 4 0zM22 205l0 1 1 1 0 1 2 2 0 1 1 1 0-1-2-2 0-1-2-2zM26 55l15-2-3-2-7 0zM333 102l-3 0-4 2 2 1 5-2zM324 284l0 3 5 6zM140 151l-3 0-11 6-2 3 1 1 9-1 3-3zM15 135l0 2 3 6 9 10-5-10zM188 228l-3 9 4-1 2-3zM85 35l-11 3 0 4 10-5zM316 7l-8-1-10 7-1 2 8-1zM315 267l2 2 5 11 0-7-2-3 0-2-2-2zM35 185l-2 0-5 6zM293 141l-1 3 7 7 3 2 4-1-7-9zM327 126l-6 4-1 2 1 3 1 0zM316 120l0 2 3 5 1-5-2-2zM278 255l0 5 3 5 7 6 0-2-5-5zM101 5l-5 1-4 4 2 0zM171 249l-1 3 1 2 2 1zM99 10l-5 1 0 4 5-3zM198 277l-3 4 2 3 2-1 1-2zM315 141l-1 1 1 7 5 5 1-2 0-6 1-1-4-4zM124 161l-2-1-8 8 0 2 2 0zM254 185l-6 1 3 1 3-1zM179 63l3 6 4 3-6-9zM165 112l-5-2-8 3 5 2zM21 10l-6 5-9 3 3 0 11-4zM100 317l-1 1 5 9 0 2 2 4 2 0-1-8-4-7zM26 25l-1-1-4 0-7 4 9-3zM67 296l8 3-3-5-2-1zM26 38l3 0 7-2-11 0zM194 298l-5 2 0 3-1 1 1 3 4-1 1-2zM0 290l0 2 2 1 1-2zM78 302l-1 4 5 10 3 4 5 0 0-4zM69 51l-5 2-5 0-2 1-1 2 1 1 11-4zM0 91l0 6 2 1zM0 85l0 3 4-1zM7 95l6 0 5-3 2 0 1-3-14 0 1 1zM282 312l0 10 6 6-4-10 0-3zM180 234l1 3 4 5-1-6-2-2zM17 206l8 9-2-3-2-8zM313 300l5 7 3 7 3 1-2-10zM173 187l5 1 4-3-7 0zM90 70l2 7 2 3 2 0 1-1 0-4zM8 2l0 3 5 1 0-4zM248 273l3 6 6 6 0-3-5-6zM317 136l1 4 4 4 1-1-1-1 2-2-2-4-4 2zM43 135l-2 1 0 2 2 0zM150 211l5 8 3 2-2-5zM30 207l-1 2 4 3-1-4zM2 27l-2 0 0 2 1 0zM138 279l-2 2 0 3 2-3zM300 7l-1 1-3 0-6 4 4 1zM65 327l2 3 0 3 10 0-4-5zM285 53l4 2 9 0 8-4-13 0-1 1zM38 179l-6 2-3-3 0 2 3 1-7 5 0 1 3 0 6-3zM58 231l6 0 3-2-7 0zM202 67l7 8 7 5-7-10zM238 228l0 2 3 6 6 7-2-9-2-3zM285 60l7 1 2-2-4 0-1-1zM141 128l9-2-5 0zM312 316l1 5 5 7 0-6-2-3zM55 54l-14 1 6 1 1-1zM294 305l-1 5 4 2zM218 207l-2 2 2 1zM319 100l-6 1-1 2 7-1zM101 288l0 10 2 1 2-1 0-2zM169 235l-1 0 0 9-1 1 4-5-2-3zM325 306l2 5 1 7 4 2 0-2zM153 90l0 3 2 5 3 0 2-2-4-5zM280 252l5 9-1-5-2-3zM264 14l-16 1-7 3 5 0 5-2 5 0 1-1 5 0zM77 231l5 8 0-5 4-3zM208 193l3 1 11 0-3-2-10 0zM284 287l8 12 3 7 3 2-1-5-7-13z"/>
<path fill="#dd33ff" stroke="#dd33ff" d="M330 294l-1 4 3 3 1-1 0-5zM301 275l2 5 0 7 3-8-3-4zM221 255l0 3 4 4 2 4 1-1-3-9zM89 70l0 9 1 0 1-3zM263 189l-2-1-6 3-6 5 8-1 6-4zM37 139l-1 3 1 4zM115 18l-1 2 5 3zM112 13l-1 0-2 3 2 0zM53 323l4 8 4 2 5 0 0-3-3-4zM100 299l0 6 4 3-3-5zM219 133l-3-1-1 3zM222 127l2 4 5 0-2-2zM54 304l5 4 5 2 0-5-3-4zM89 185l-4 4 1 2 3 0 1-1zM204 21l-9 1-2 1-1 2 1 2 2 1 7-4zM130 210l-1 1-2 0-1 1-1 0-1 1-1 0-2 2-1 0 1 0 1-1 1 0 1-1 1 0 1-1 1 0 1-1 1 0zM37 309l10 8 0-3zM39 136l-2 0 1 3zM127 0l1 3 2 1 2-1-2-3zM291 259l1 3 6 4 3-1-7-8z"/>
<path fill="#ffff66" stroke="#ffff66" d="M272 28l3 0 1 1 5-3-8 0zM186 222l-3 2 1 11 1 0 0-3 2-3zM59 67l-1 1 2 5 0 4 4 0zM40 207l6 10 1-1 0-3-5-6zM56 130l1 5 2 1-2-6zM0 246l0 3 1 1 3 0zM222 69l4 5 4 0zM157 222l-1 5 3 6 1-2 0-7zM176 54l3 7 5 3-1-5-4-4zM28 137l2 3 0 2 2 1zM81 167l8-3-6 0zM67 259l0 4 5 9 1-5-2-4zM272 94l-2-1-4 3 2 1 4-2zM281 197l-7 1-4 2 7-1zM99 180l-3-2-2 1-4 4 0 3 5-2 4-3zM301 190l-3 0-6 6 9-2zM92 168l-4-2-8 7 0 2 5-3 2 0zM44 249l2 5 5 4-5-8zM23 227l3 7 6 7 0-5-1-2zM183 132l0 1 8 5 4 0 4-2 0-2-5-2-7 0-1-1zM220 71l6 4-4-4zM196 268l-2 1-2 3 0 4 2 4 1 0 2-3zM260 70l4 1 1-1 13 0 1-1-2 0-3-2-6 0-1 1-4 0zM174 188l-2 4 2 8zM296 191l-9 1-2 1-3 4 2 1 3-2 2 2 0-1zM221 278l-3 1 0 6-1 1 0 5 1 2 3-6 0-4 1-1 0-3zM87 275l2 0 0-2 3-2 5 0 5-2-14-2-1-3zM213 86l2 4 8 2 0-3-2-2-7 0zM102 241l1 2 3 2 7-2-1-2zM306 202l3 4-4 3 8-1-1-2zM97 160l-8 5 4 2 3-3zM74 259l1 8 6 10-2-4-2-9zM190 99l1 2 9 6-1-3-7-3zM77 292l-1 2 1 1 0 5 3-2 0-3zM76 212l2 1 3-1-1-1zM74 268l0 2-2 3 6 10 1-2 0-5-4-8zM301 26l5 0 3-2-5 0z"/>
<path fill="#33ffff" stroke="#33ffff" d="M201 236l0 6 2 5-1-11zM21 66l3 0 1 1 9 0 1-1-5-4-4 0zM53 45l-2 1-5 0 3 2 3 0zM103 221l-2-1-6 1-1 5 6-1 3-2zM238 289l-5 5 1 1 0 4 3 0 1 1zM186 195l4 2 6 0 1-3-9 0zM7 128l-1 6 2 4 0 3 1-7zM261 167l-2 1-7 0-1 1 2 4 6-3zM8 285l0 2 3 3 8 5-9-10zM88 207l0 1 5 0 1 1 7 0 0-3zM70 108l-1 3 1 2 1 0zM141 328l0 2 2 2 3-1zM226 185l10 0 9-3 0-1-12 0zM61 102l0 3 3 6 4 4 1-2-3-8-3-4zM37 295l6 7 3-2 0-1-6-5zM239 210l-1 6 4 7-1-9zM15 205l1 6 3 4 7 3zM313 269l-1 2 2 3 2 8 1-1-1-7-2-5zM231 177l-1-1-4 2-10 1 1 1 7 0zM82 184l-9 5-8 2 3 0 1 1 9-1 4-2zM78 65l-1 9 1 1 3 0 1-2zM221 266l-3 0 1 4zM326 225l-1 1 0 9 3-5 0-3zM213 274l-2 1-1 4 4-2zM183 259l-3 5 0 5-1 1 3 6 5-11-1-4zM23 17l-3-2-5 4zM183 277l1 10 1 2 2 1 0-9zM252 281l1 10 0-8zM0 64l0 2 3 0zM202 227l-1 1-1 7 1 0 1-2 0-3 1-1zM150 308l-3 0 0 4 1 1zM329 230l-4 6 1 8 0-4 3-6zM28 259l9 8 0-3-5-5zM109 198l-6 1-2 2 0 3 5-1zM10 109l-2 3 3-1zM29 211l0 2 2 3 2 1zM188 331l0 2 6 0-2-3-3 0zM266 248l-1 1 1 3 11 17-1-6-7-14zM289 269l0 3 4 5 6 5-4-10zM117 216l-8 4-5 1 0 1 7-1zM163 260l-1 0-2 3-1 9 1 0 1-5 2-3zM0 40l6-2-6-1zM157 256l-3 1 2 7zM36 308l9 4-6-5zM157 176l10 0 0-1-6 0-2-1zM127 252l-7 1-5 2 4 2zM309 215l0 2 1 0 0-2zM306 212l7 1 2-2-8 0zM260 181l-3-1-3 1 0 1 2 1zM237 315l0 4 3 6 0-9zM12 109l0 9 1 1 1 9 0-9-1-1zM239 300l0 4 2 6 2-3 0-3-1-1 0-3zM4 246l-1 2 4 5 0-4-1-2zM204 156l-14 2 1 1 8 0zM155 302l-2 1-1 4 2-1zM86 41l-13 5-3 5 6-2zM17 233l5 6 2 5 1 0 0-4zM206 185l-7 1 3 1zM199 291l0 9 2-1 0-5zM113 217l-2 1-9 0-1 1 1 1 4 0zM255 2l9-2-7 0zM0 57l0 2 2 1 7 0 5-2 0-1zM194 221l-2 7 3-6zM142 303l-2 1 0 12 1 0 1-8 1-1 0-3zM309 224l-1 1 1 2 0 9 2 6 0-8-1-1zM324 231l-3 2-1 3 3 4 1 0zM129 314l-2 4 0 4 2-3zM32 272l5 8 7 2 0-4-4-4zM252 255l1 1 0 4 2 7 6 3 3 3-2-7-4-4-2-4zM141 325l0 2 3 1-1-2zM183 247l-2 0-1 3 1 1 0 10 3-9zM153 259l-2 2 0 2 1 1 0 4 2 1 2-4-2-6zM30 51l-4 3-7 3 5-1zM181 284l-6 5 1 6zM4 88l-3 2 2 8zM0 84l3 2 2 0 3-2 2-3-6 0-3 1zM252 248l0 6 4 3-3-9zM0 2l4-1 0-1-3 0zM215 225l0 8 1 2 1-1 0-4zM191 190l-6 1-1 3 7-1zM51 27l-7 4-2 0-1 2 3 1 7-4zM208 278l0 4-1 1 1 5 1-2 0-7zM225 275l1 1 1 16 3-2 0-5zM23 245l3 8 6 5 3-4-4-2-6-7zM20 216l4 5 3 1-2-4-2 0zM170 133l3 1 7-1-3 0-1-1zM50 182l-1-1-7 2-5 6 10-4zM90 193l-3 3-5 2 3 4 4-5zM47 285l4 9 2 1 2-4-4-4zM203 181l1 2 5 2 7 0 1-3-1-2-5 0-1-1zM252 307l1 8 3 3 0-6-2-4zM296 243l-1 4 2 4 5 4-3-6 0-2zM65 78l0 7 2 4 0-9-1-2zM170 245l1 1 0-1zM229 306l-2 2 0 2 4 7 0-5 1-1-1-1 0-4zM179 244l-3 0 0 7 4-2zM0 243l0 2 3 2 0-2zM47 217l5 11 1-4 1-1 1 1 0-1-2 1zM227 144l-9 2-7 3 3 1 8 0zM286 305l-1 7-1 1 6 4zM25 62l-12 4 1 1 6-1zM16 70l1 1 3-1zM2 213l0 3 3 7 4 2 6 1-9-10-2-4zM101 2l-6 2 2 1zM208 144l-1 1-7 0 3 2 5-2zM246 293l-3 6 0 4 4 10zM173 131l3 0 1 1 5 0 2-1zM40 125l1 4 3 5-1-1 0-4-2-4zM121 275l-2 0 0 1-2 1 2 1 1 2 2-4zM264 221l1 4 5 4-2-4zM29 300l1 5 2 1 0-2zM7 4l-2 0-2 2 4-1zM0 33l2-2 6-2-6 0-2 1zM0 75l10-2-10-1zM277 251l5 10 6 7-7-11-2-5zM142 295l-1 7 3 1 1-2-2-6zM251 236l1 4 5 7-4-11zM84 101l1 3 4 0-1-2zM171 124l7 0-2-4-2 0 1 1zM179 180l5 2 7 0-2-3-8 0zM168 188l0 1 1 0 0-1zM166 183l5 0 4-2-9 0zM261 199l-9 4 0 3 2 0 7-4zM0 54l1-1 5 0 4-2-10-1zM68 92l-3 1-1 4 3 0zM325 1l-1-1-6 0-6 2-2 3 8 1zM33 208l1 5 2 3 4 3 1-3zM248 310l0 6 2 1 2-1 0-5-1-1zM47 300l-2 3 6 4 2-3-3-4zM22 320l7 10-1-7-1-1 1-2-1-1zM204 205l1 6 7 6 0-6-2-4-3-2zM131 250l6 1-2-3-3 0zM144 244l-3 7 3 6 0-10 1-1zM199 123l1 1 8 0 6 5-9-11-2 3zM249 270l0 2 8 9-2-3-2-7zM271 196l1 2 2-1 7-1 2-2-7 0zM39 318l0 1 7 4 0-2-5-4zM104 247l5 2 6 0 1-1 7-1-8-3-3 0zM105 64l-1 1 0 7 3 1-1-8zM199 177l5 2 3 0 4-5-9-1zM44 193l-4 0-5 3-1 2 3 0zM179 196l0 4 2 3-1-1 1-2 5 0 4-2-5-3zM245 207l-1 3 4 9-3-9zM18 176l-1 2 5 7-1 2 4-4zM73 4l-5 2 0 1zM27 218l1 5 6 5-1-4zM271 177l-3-2-5 1-3 4 6 0 5-2zM21 2l4-2-4 0zM207 277l-2 2 1 4 1-1zM284 4l-5-4-10 5 1 1 5 0 1-1 6 0zM283 216l0 5 3 9 4 0 0-4-2-4 5-2-4 0-1 2zM94 81l0 2 5 10-2-12zM34 322l6 10 2 0-5-9zM210 319l-1 2 0 12 3 0 0-7zM72 22l-8 1-6 5 3 3 7-7zM142 324l4 6 1-3zM209 259l-1 5 1 2 2 1 2-2 0-3-1-2zM255 331l-1 2 1 0zM151 206l0 4 3 4 2 1-1-8-1-1zM197 227l-3 6 3 4 0-5 1-1 0-3zM2 146l3 10 1-5-1-3zM212 140l-4 2-8 1-1 1 8 0zM197 285l1 1 0 4 2 1 0-5-1-2zM213 223l-1 12 3 5-1-16zM43 2l-2 1-6 0-6 3 12-2zM151 286l-2 2 1 6z"/>
<path fill="#ff3355" stroke="#ff3355" d="M8 278l9 4 2 2 2-1-4-3zM74 7l-1 1-7 1-5 5 10-4zM185 290l-3 3-3 6 1 3 1 0 5-7 0-4zM330 146l0 5 3 1 0-4zM0 187l3 9 1 0-2-8zM31 186l-2 1-8 9 2-1zM333 64l-13 4 10 0zM141 317l1 6 4 2 0-6-3-2zM151 73l1 5 5 3-1-3zM195 2l2 1 4-3-5 0zM276 54l9 4 3 0 2-2-4-1-2-2-6 0zM128 10l6 6-3-5zM103 33l-1 3 1 2 3 1 0-3zM97 127l6 2 6-7-8 0zM279 234l6 10 2 2 3 0-1-3zM120 298l-2 7 3 2 1-1-2-4zM76 137l4 1 0-1 3-2 1-3-2 1-4 0-1-1 0 2 2 1zM322 159l-3 7 1 3 5 3 1-6zM271 124l-1 4 2 2 4 0zM176 212l-1 1 0 4 3 7 2-5-2-5zM286 149l0 4 4-2zM124 316l0 7 1 1 1-5-1-3zM76 1l-1 1-3 0-4 3 6-2zM295 80l3 0 4 2 5 0 4-2 3 0-5 0-1-1-10 0zM131 248l-2-1-5 0-4 2-8 1 5 3 2 0 1-1 8-1 2-1zM117 275l0 1 1 0 0-1zM126 268l-3 7 0 14 1-3 0-9 1-1 0-6zM74 129l-3 1 3 5 0 2 1 0 4-3-2 1-1-1 0-3zM82 155l-5 0 0 1-4 3 4 0zM313 91l-10 3 0 1 6-1zM52 57l2 1 2-1-1-1zM182 16l-6 1 3 2zM169 16l3 10 2-1 0-3zM281 39l-7-2-8 4 5 2zM137 4l-3 4 3 4 4 1-3-4 0-5zM287 154l4 2 1-3-2-1zM214 291l-1 3 0 4 2 0 2-4 0-2zM85 148l2 1 6-2-1-3-4 0zM188 286l0 4 3 0 1-1 0-3zM62 122l0 4 5 8 2-5-5-8zM321 60l3 1 8-4-9 0zM211 289l1 7 1-4zM232 306l2 15 2-6-3-9zM175 141l9 0 0-2-6-1zM83 163l-3 0-9 4 2-1 7 0zM48 66l-1-1-4 0-1 1-7 1-2 1 0 1 6 2 8-3zM210 268l-3 6 0 2 2 2 1-1zM164 2l6 2 2-3-1-1-4 0zM155 227l0 9-2 5 3-3 0-3 1-1 0-3zM296 69l-3 0-9 3 9 0zM178 302l-5 5 1 5 3-2zM115 149l-2-1-7 0-2 1-2 4 0 3 6 1zM159 264l-2 2 1 4zM330 154l-8 3 3 5 5 1 2-7zM243 19l-8 2-1 2 7-1zM258 35l1 3 9-2zM165 34l4 4 6 2 0-1-3-1-4-4zM328 107l3 0 2-1 0-1-4 0zM75 119l1 5 2-1zM266 52l10 1-4-2zM219 315l-2 1 0 14 1 1 0-12 1-1zM75 34l-12 1-7 5 0 3 10-1 6-3zM61 106l-3 2 0 3 4 10 2-1 0-8zM4 209l3 7 5 5 6 1-12-13zM98 30l-6 1-4 2-2 3 7-1 2-1zM73 39l-7 4-3 0 0 1 5 0 2 1 3-2zM170 331l1 2 7 0-2-3zM143 333l-3-3-3 3zM152 288l-1 9 1-1zM1 195l1 8 2 4 2 1 0-5-2-3 0-2zM182 313l0 12 1-1zM118 131l4 0 0-2-3 0zM301 93l1 1 3-3-4 0zM101 101l-1 0 0 10-1 1 1 2 4-3 0-3zM53 48l5-1 4-2 0-1-6 0-2 1zM216 264l-2 0 1 11 1-3zM69 114l-1 2 1 3 4 1-3-6zM102 150l-9 8-2 4 6-3 4-4zM110 286l-4 12 2 5 2 2 4 1 2-1 0-2-1-1 0-4-2-1-1-3 0-6zM109 234l4 3 13-1 2-1-7-3-6 0zM15 74l-3 0-9 4 4 2zM173 245l-1 4 2 6 1-9zM273 131l2 3 6 1-4-4zM101 12l-7 4-2 4 2 0 6-3zM313 322l4 11 3 0-1-3zM92 125l-4 1-4 5 3-1zM291 122l2 7 5 4-2-3-2-7 1-1 1 1 3-1zM231 133l1 8-1 1-2-2-2 3 3 0 3-2 3 3 1-4zM311 101l-5 0-6 4 1 1 9 0zM290 130l3 10 5 2-1-8-4-4zM27 199l2 6 3 2-1-4zM207 154l-4-1-12 4 10-1zM330 23l-2-1-14 6 8 0zM188 315l-2 2 2 5 2-2zM150 245l0 7-1 2 1 1 0 5 1 0 2-2 1-4-1-1 0-5-1-2zM290 144l2 8 6 4 3-3zM330 64l-2-2-5 0-10 5 1 1 5 0zM73 1l5-1-4 0zM291 86l5 2 7-3 1-2-6-2-4 0zM18 103l-2 0-3 2 1 3zM265 2l6-2-5 0zM212 218l-1 0-2 4 0 9 2 2 1-2 0-8 1-1zM175 136l-3-2-4 0-1 1-8 1-1 2 9 0 1-1 7 0zM146 200l-5 2-3 3 0 2 9-5zM191 234l0 9 3 5-1-11-1-3zM318 69l-5 0-5 5 1 1 6 0 2-1 0-4zM285 89l2-1 7 0-4-2-3 0zM285 77l0-2-5 1zM108 229l0 1 2 1 9 0 0-1-2-1zM176 296l-7 5 0 3 3 3 6-6zM197 40l3 6 1 5 6 2-3-7zM210 39l-5 2 3 1zM203 283l0 3 4 9 0-5zM229 40l-2-1-8 5-1 3 6-5zM257 33l4 2 7 0 2-2zM207 310l-2 4 1 1 3 0zM95 25l-3-1-8 7 8-4 2 0zM89 290l-1 1 5 6-1-5zM175 268l-1 2 0 11-1 1 1 6 7-5 0-4 1-1-3-7zM130 299l-2 3 0 7 3 8 0-17zM101 121l8 0 1 1 2-1 0-1-5-3-2 0zM63 190l-10 1-3 1 1 2 7 0zM210 127l-2-2-4 0-4 3-7 3 5 2 4 0 8-4zM140 229l-5 2 5 0zM296 63l-1-1-3 0-5 2-5 0 3 1 8 0zM32 97l0 8 3 1zM96 134l-7 1-2 3 0 2 2 1 1-2zM213 307l-3 9 4-7zM16 71l-2-2-2 1-1 3 4 0zM245 103l1 3 7 5 6 8 1-1 0-3-3-7zM172 125l2 1 5 0-1-1zM7 112l-1 2 0 10 3 5 0 2 5 4 1-1-1-5zM137 208l0 2 1 0 4-3 6 12-3-6-1-6-3-1zM26 100l-7 3 1-1 1 1 1 6 2 2 0-4-2-4zM325 82l-2-1-5 3-5 1 3 1zM214 28l-11 1-6 3 2 1z"/>
<path fill="#ff002b" stroke="#ff002b" d="M203 306l-3 5-1 4 1 0 4-5 0-3zM68 45l-5 0-5 3-4 1 9-1 5-2zM152 278l-2 0 0 3-1 1 1 3 1 0 1-3zM312 69l-14 4 8 0 1 1zM216 242l4 10 0-6-1-2zM208 301l-3 5 0 4 2-1 1-2zM163 303l-2 4 1 9zM91 3l-8 3-3 3 3 1 5-3zM250 28l6 4 14 0 5-3zM155 293l-1 3 1 1 0 3 1 0 0-7zM201 119l-7 3-2 2 6-1 3-2zM70 248l-1 7 4 2 0-3zM162 295l-2 5 0 6 1 0 3-6 0-4zM107 37l2 11 2 3 3 2 1-6-2-4zM24 76l-8-2-8 6 3 0 10-4zM111 10l-2 0-7 6 3 1 6-5zM43 303l-1 5 6 6-3-10zM186 296l-5 7 1 6 3-1 3-5zM1 174l4 8 6 5-2-3 0-2-5-6zM119 318l1 2 2 1-1-2zM209 287l-1 6 3 2-1-8zM2 185l0 2 3 4-1-1 0-3zM89 155l-2 0-4 3 0 2 4-2zM293 80l-6 0-6 3 1 2 9-5zM130 280l-1 0-2 6 0 5 1 1 0 5 1 2 1-1zM70 0l-6 1-3 3 4-1zM134 302l1 6 4 7-2-6 0-5zM214 268l0 3-1 1 1 3zM140 288l-1 5 2 2zM321 29l-2 0-5 5 4-1zM216 16l6-2-4-1zM324 139l1 0 6-4-8 0zM166 249l-3 7 1 1 0 5 3 2 1-7 2-4-1-2zM133 2l1 1 3 0 1-3-3 0zM305 153l0 2 5 9 4 4-5-15-2-1zM152 324l-5 4 0 4 1 1 2 0 3-5 0-3zM7 62l9 0 2-1-8-1zM101 313l0 3 8 4-1-7-1-1zM261 20l6 3 6 0-1-3zM294 80l-12 6 8-1zM323 79l-5 0-4 2-3 0-6 2-1 2 8 0 10-4zM42 91l0 6 3 5 0-6zM33 89l-11 3 4 0zM267 47l1 1 9 0-5-2zM181 145l0 1 12 2-4-2zM179 239l1 6 3 1 2-3zM333 73l-8 4-1 3 9-3zM241 137l2 6 6 3 2 0zM263 111l5 9 3 2 0-3-3-5zM154 312l-2 3 0 8 1 1 2-1 0-8zM109 49l0 6 3 3 2 0 1-2-1-2-1 0zM150 233l0 2-5 9 1 2 4-2zM35 199l3 6 3 1zM321 110l3 3 2-3zM260 188l-6 0-6 2 6 1zM147 300l-1 1 1 6 3 0zM13 67l-5 0-7 4z"/>
<path fill="#66ff66" stroke="#66ff66" d="M293 278l-2 2 0 3 9 10-1-10zM27 20l-3 0-1-1-5 3 6 0zM123 199l-4 0-5 6 2 1zM199 205l2 10 1-3zM169 194l-1 9 3 4-1-1 0-9zM333 29l-3 1-1 2 4-1zM107 16l-2 2-1 0 1 0 1-1 1 0 1-1zM299 139l0 3 9 10 2 0 4-3-1-2-4-3zM0 205l0 4 1 2 2 1 1-1zM153 290l0 5 1 0zM35 46l5 0 1-1zM74 289l0 2 2 2 1-2zM127 85l-4 3-2 0 0 3 3-1zM15 29l-3-1-11 5 3 0 3-2zM63 270l8 11 6 4 1-1-7-12-5-2zM102 33l-2 2 2 7 0-5-1-1zM328 281l-3 2 5 10 3 1 0-3zM112 59l-1 5 3 3 2 0 1-1-1-4-2-3zM132 113l3 2 2 0 1-1 4 0 2-1 1-2-11-1 0 3-1 1zM230 264l-1 1 1 4 4 9 2 1-1-9-2-3 0-2zM261 235l3 6 3 0-1-4zM218 268l0 7 1-2zM126 162l-2 0-7 7-1 3 6-3zM86 173l-6 3 0 4 3 1 1-5zM15 118l0 8 3 0 0-4-2-4zM41 6l0 2 2 2 5 0 4-2-3-3-7 0zM176 312l-2 1 0 3 3 10zM104 33l3 3-1-4zM109 26l-10 4-3 4 6-2zM217 295l-2 4 1 5 1-1zM39 100l-1 10 1 1 1 11 1 2 1 0-1-15-1-1 0-6zM137 319l-3 2 2 8zM300 319l3 11 3-2 0-2-4-7zM55 267l2 7 5 4 4 1 1-3-5-7-4-2zM157 104l-6 0-4 5 1-1 8-1zM324 114l-7 5 3 1 2-1 2-3zM293 154l-1 3 4 3 1-4zM247 262l1 6 5 2-4-7zM224 232l0 4 5 10 1 0 1-3-6-8zM298 241l2 8 3 1 0-4-2-5zM53 212l0 3 1 1 2 0 2-2-2-2zM275 175l-4 1 1 2 3-1zM279 170l2 6 2 1-1-1 0-4zM181 286l-1 4-3 5 1 4 4-7zM143 93l0 3-1 1 2 3 1-6zM198 293l-4 14 4-6zM332 183l1 3 0-3zM176 168l12 0-3 0-1-1zM45 37l-2-2-2 0-7 5 7 0 4-2zM293 248l8 12 1-1-2-4-4-4-1-3zM279 120l-2 3 7 6 2-2-2-3zM164 229l1 3 0 17 2-5 0-10zM324 247l0 3 3 7 3-2-3-7zM22 197l0 2 4 6 0-7zM0 82l6-2-4 0-2 1z"/>
<path fill="#ff9933" stroke="#ff9933" d="M298 157l5 7-3-6zM251 9l-1 1-1 0 3 0 1-1 2 0zM208 24l1 3 8 0 1-2-2-1zM213 163l-2-3-1 1-9 0-1 2zM243 308l-2 3 0 4 5 3 1-1 0-3-3-6zM19 155l1 5 6 10 0-8-1-3-3-3zM295 160l1 3 5 4-2-4zM221 1l10-1-9 0zM308 180l3 7 3 1 0-5-3-4zM166 4l1 3 6 6-1-2 2-1 0-6-3 1zM255 185l0 2 6 0-1-2zM3 292l4 6-1-5zM83 267l-1 11 4 5 3 2 2 0-8-16zM238 166l2 1 7-2-2-1-6 0zM51 235l5 9 1 0-1-5zM165 41l6 3 5 0-5-3zM287 117l3 4 3 0 0-2 4-5-4 2-3-2-3 0zM331 176l-1 3 2 3 1 0 0-6zM64 153l1 1 3 0 1-2zM241 54l17-5-5 0-4-2-3 0-1 3zM233 23l-2 1-12 1-1 3 8-3 7-1zM172 77l3 5 7 5 3 0-7-8zM247 27l9-3 10-1-4-2-7 0-1 1-3 0zM299 112l-2-1-4 2-3-1 0 1 3 2zM311 215l-1 3 3 5 0 2 0-10zM216 45l1 3 2 0-2-1 1-2zM166 14l2 7 4 6-2-3-2-8zM47 320l0 5 3 3 5 2-3-7zM70 1l-1 1-1 0-1 1-1 0-1 1-2 0 2 0 1-1 2 0 1-1 2 0 1-1zM221 186l-5 0-4 2-9 2 4 2 6-1zM246 36l5 3 7-1-1-4-6-4-3 5zM294 121l6 0 3-2-5-1-1 1-3 0zM312 111l-3 0-1-1-5 2-3 5 4 2 6-2 2-2zM18 169l2 2 1 4 3 3 0-2-5-7zM245 204l2 9 0-4-2-3zM143 24l5 3 2-2zM131 0l1 1 2-1zM197 31l6-3 4 0 1-2-1-1-6 0-5 3zM18 309l3 5 8 5-1-4-4-6-2-1zM223 51l1 2 1-1zM218 49l0 2 3 4 1 0-3-6zM326 105l-3 0-7 5 7-1zM286 118l2 10 1 1 3 0-2-7-2-3zM219 40l-7 5 4 7 1 0 0-3-2-4zM280 216l2 4 0-2z"/>
<path fill="#33ff55" stroke="#33ff55" d="M268 191l-4 0-6 4 6-1 4-2zM206 196l6 14 1-1 0-3-2-7 1-1 2 1 5-1zM207 91l9 7 4 0-3-3-5-1zM211 101l1 3 4 1 5 3-6-7zM233 254l0 7 3 3 1-2 0-5zM149 294l-1 0 0 4-1 1 3-2zM10 183l4 8 1-3-1-2zM244 213l0 4 2 4 3 2 0-2zM281 163l2 1 5 6-3-6zM135 62l-1 4 7 4zM77 10l-5 0-3 2-7 2-2 2 9-2zM333 222l-2 0-4 3 6 0zM12 54l-1-1-4 0-1 1-5 0-1 2zM70 3l-5 2-8 1-9 5 12-3zM252 187l-1 1 2 0 1-1zM177 228l-1 2 2 6 1-1 0-4zM22 291l4 5 3 2 5 1zM159 246l-5 4 0 3 1-2 4-3zM138 292l-1 1 1 6zM143 138l3 1 1-1 10-1-4-3-6 0-2 1zM271 78l-1-1-7 2 0 2 7-1zM182 224l-2 5 0 4 3 1zM248 318l-1 0-1 2 0 3-2 4 0 6 5-7zM87 291l1 3 5 5-2-4zM126 288l-3 5 0 8 1 2 3 0 1-2zM149 284l-1 0-2 3 2 1 2-2zM287 5l12-5-8 0zM287 247l0 6 2 4 2 1 2-1 0-2-2-3-1-5zM238 241l6 7 0-4zM333 53l-1 1-3 0-2 1 0 1 6 0zM233 200l-5 2 3 1 1 5 2-1-2-5zM325 40l-1-1-3 0-6 2-4 3 7 0zM206 310l-2 1-2 3 2 0zM101 225l12 0 1-1 4 0-5-2-5 0zM245 278l1 14 1 1 1-13-1-2zM255 268l6 9 5 5 4 2-5-9-4-4zM323 247l-1 2 2 2-1-1zM299 309l3 6 4 2zM323 89l-5 1 5 0zM272 122l-1 1 13 14-1-2 0-5-7-7zM41 98l-1 3 1 1 0 6 4 9 2 1 0-6-2-4 0-3-3-7zM299 321l0 12 3 0 0-5zM224 21l-9 2 4 1zM175 188l0 9 3 1 0-2 2-1 0-2zM252 292l-1 9 1 2 1 0 2-8-2-3zM134 287l-3 7 0 5 1 2 2-1 2-6zM152 308l0 2 2 0 0-1zM125 132l1-1 6 0 3-2-5 0-2-1zM135 196l-3-1-7 4 0 1 5-2 4 0zM38 84l-2 2 0 6 2 6 2 2 1-3 0-8zM172 235l0 6 1 2zM257 308l-1 1 1 5 3 1-1-6zM295 23l-13 3-3 2 11-2zM333 110l-8 3 0 1 7 1 1-1zM283 290l-1 4 9 13zM277 203l-1 1-8 1-2 1-1 2 2-1 4 0 1 1-1-1 3-1zM158 69l4 10 5 3-1-3zM167 8l-3 3 5 4 6 8 1 0-1-1 0-4-3-5 2-2-1 0-1 2zM272 240l0 2 5 8-1-8-2-2zM300 59l-2-1-5 3 3 0zM221 259l3 15 1 0 2-7zM232 245l-2 3 2 4 6 5-2-6zM224 213l-1 1 0 3 2 6 1-5zM77 16l-9 2-6 4 10-1 3-2zM254 317l1 3 0 9 2-5zM274 209l1 10 4 6 4 3-8-15zM112 96l3 4-1 1 3 0 2-2-4 1-1-1 1-1zM139 225l-2-2-7 2-5 0 3 1 8 0zM0 8l1 2 3 1 8 0 3-2 0-1zM331 276l-2 5 4 9 0-11zM163 239l0 4-2 4 0 5 1 2 1 0 1-3 0-11zM269 174l0 1 6-1 3 4 3-1-3-7-3-3 0 4zM236 168l-1-1-3 0-1 1-3 0 0 1 3 2zM133 218l0 2 3 0 1 1 2-1-2-3-3 0zM61 32l-3-3-3 0-6 3 3 3zM129 206l4 2 3 0 2-4-6 0zM302 112l-3 1-4 5 4-1zM214 196l3 1 8-1-1-1-9 0zM158 173l9 1 1 1 3-1-1-2zM228 314l-1 6 4-1zM329 328l1 4 3 1 0-2zM167 78l0 2 3 4 5 3 5 0 1 1 0-1-10-7-2 0zM34 0l3 1 9 0 2-1zM323 61l-3-1-2 1-5 0-1 1-4 0-2 2 4 2 4 0zM5 1l4 0 1-1-5 0zM108 9l-4 0-2 2-1 5 4-3zM123 142l-1-1-13 6 6 1zM121 78l-4 3 0 3 2 1 2-2zM70 315l1 4 3 5 1 0-4-9zM155 277l-3 6 0 4 1 0 3-4zM83 295l3 4 1-1zM84 282l0 3 2 2 3 0 0-1zM278 332l0 1 3 0-1-2zM333 242l-1 1 1 8zM38 141l0 7 1 1 0 2 0-6-1-1zM41 82l-2 1 1 2zM32 79l1 1 5 0 1-1 4 0 3-2-1-1-7 0-1 1-5 0zM10 133l6 18 2 3 4 1-8-19zM88 48l-3-5-7 5 6-2 2 3zM304 230l-1 1 0 6 2 2zM167 311l-2 4 0 4 1 1 0 3 2 1 2-4zM294 316l-1 1 1 8 2-4 0-2zM122 124l-1 1-3 0 0 3 3 0 2-2zM276 176l0 1 1 1 0-1zM274 168l-7 2-6 4 1 1 6-1 4-2 2-2zM268 240l0 2 2 2 0-2zM91 36l-6 1-13 7 0 1 12-4zM318 10l-3-1-6 3-10 9 6-1zM291 102l0-2-3-4-1 1-11 2 3 1 2 6 2 0 4-3 0-1-4-3 1-1 4 1 2 3zM22 16l4 0 2-3-4 0-3 1zM331 23l-8 5-3 4 4-2zM58 164l-16 7-2 4 14-5 3-2zM41 157l3 9 2-3zM300 294l3 7 7 6zM240 101l-1 3 5 6 1 0 0-5zM26 121l0 1-3 2 3 9 2 0 1-1 0-3zM49 126l1 5 3 4 0-4zM237 241l5 9 0 2 1 1 2-1-3-6zM181 313l-1 3 1 9zM310 54l6 0 2-1-7 0zM98 284l-3 4 5 10 0-11zM159 249l-3 2-1 4 3 0 3-2zM36 85l-5 0-9 3-1 3 12-3zM272 308l-2 2 1 1 0 9 2 4zM92 4l12-4-8 0-3 2zM278 267l1 4 11 10 0-2-5-6-4-2zM170 56l2 3 6 5 0-2-4-4zM251 170l-1-1-6 3 1 3 7-1zM36 1l-4 0-7 6 11-5zM20 112l-2 3 4 8zM99 271l-2 1-5 0 5 10 1-2 0-3-1-1 3-3zM103 269l21-1 3-3-17 0-1 1-3 0-3 2zM216 317l-4 3 0 5 1 3 3 1zM55 41l-5 0-6 3 1 1 10-1zM61 260l4 7 0 2 5 2-3-7zM192 290l-1 1-4 0 1 9 2-3zM223 88l10 6 1-1-5-5zM44 24l-4 2-9 2 3 1zM49 123l0 2 5 6 1-2-2-3zM199 222l-1 4 4 0-1-3zM21 80l0 1 3 2 3-1zM166 99l-3 0-1-1-2 1-5 0-3 4 7 0zM126 176l-6 2 1 5 5 0-1-2zM297 309l3 9 1 0 1-2-3-6zM323 253l5 9 0 2-1-6zM146 305l-1 7 1-1zM101 24l-14 7 2 1 3-2 2 0zM315 313l-1 3 5 7 1 0 0-2zM44 277l1 1 0 5 1 1 5 0zM150 66l0 2 4 3 5 8-4-8zM317 241l1 2 3 2-1-2zM91 10l-4 0-1-1-8 7 4 0zM311 19l-8 2 0 1 2 1zM98 276l15-2-1-1-11 0zM25 2l-5 1-4 4 0 2 5 0 5-4zM152 93l-5 2 3 6 4-1 0-3z"/>
<path fill="#66ffb2" stroke="#66ffb2" d="M39 248l6 5-3-6zM122 159l-2-1-5 2-5 6 4 1zM79 101l1 4 4 6 0-6zM145 140l-7 2-2 2 1 2 2 0 6-3-1-1zM124 121l-3-4-2 0-4 2-2 3 3 2 5 0zM216 120l0 1 7 6-4-5zM169 113l-4 0-8 3 11 1 0-3zM130 141l-7 2 5 0zM161 130l6 2 4 0 1-1-2-2-8 0zM199 166l16 1-5-3-10 0zM141 150l0 1 8 3 3-1-5-4zM72 61l0 7 4 5zM156 135l2 1 1-1 10-2-6-1-3-2zM82 83l1 5 2 2 4 0-1-7-2-2zM125 38l-5 3-2 0 4 0zM176 88l1 3 7 7 5 8 4 3-4-4-6-11zM222 139l-9 1-4 5 4-1zM67 57l1 5 2 4 1 0 0-6-2-3zM150 59l0 3 1 1 2-1zM178 93l2 5 8 7zM124 149l-3 0-1-1-2 4 4-1zM131 140l0 1 8 0-5-2zM260 139l3 7 7 3-2-5 0-3-3-3zM118 129l-6 2 4 1zM70 67l1 14 2 4 1 0 0-3 1-1-3-6zM231 21l-3-3-3 1 0 2zM163 229l0 6 1 1 0 3 0-7-1-1zM125 53l1 7 5 4zM109 97l-4 5 3 4 2-5zM279 116l1 3 7 8-1-1-1-8zM77 241l1 8 4 2-1-2 1-1 8-1-1 0-1-2-6 0-1 3zM144 114l7 2 4 0 1 1 0-2-2 0-3-2-6 0zM190 76l11 5 2 2-1-2zM307 59l1 1 8-3-5 0zM64 98l-1 2 3 4 1-1-1-5zM114 107l4-2-4 0zM326 86l-4 0-6 2 7 0zM217 266l0 6-1 2 1 0zM168 54l6 3 5 5-3-6-4-2zM329 44l-1-1 0-3-2 0-2 2-5 2 7 0 1 1zM320 97l-7 2-1 2zM205 95l5 5 3 0-6-6zM312 116l3 2 2 0 5-3 1-2-2-2-7 0zM314 121l-6 4-5 1 4-1 1 2 4 3 2-5zM199 209l0 4-1 1 1 2zM128 127l2 1 7 0 0-1zM144 83l-3-3-3 1-3 5 5-2 4 1zM134 138l8 0 0-1-2-1-5 0zM330 145l3 2 0-2zM246 107l0 4 12 11 1-2-4-6zM333 139l-8 1-2 2 9-1zM128 94l-5 2 2 1zM129 149l-4 0-3 3-2 5zM161 64l0 2 3 5 5 3-5-8zM117 125l-6 6 6-3zM259 16l-12 2 0 2 9-2z"/>
<path fill="#ff00ff" stroke="#ff00ff" d="M69 120l1 1 0 7 3 1 1-1-1-7zM91 111l0 6 1 1 2 0 4-3-3 2-1-1 0-3zM45 152l-3 4 1 3 4 4-3 4 10-8-5 2-3-4zM238 109l4 5 0-3-2-2zM26 160l1 2 0 8 6 2-2-3-1-5zM215 68l6 6 2 0zM82 89l-4 3 0 3 1 2 4 2 1-7-1-3zM29 210l1 2 6 5-1-2zM221 134l-4 1 3 0zM228 129l2 3 2 1 4-1-2-2zM0 268l0 3 1 0zM261 222l-2 1 4 7 0-3zM313 249l0 6 5 3-2-2zM93 119l-1 0-1 2zM87 119l-2 3 0 3 3-4zM44 139l0 9 1 3 1-2-1-1 0-7zM310 257l4 9 3 0 1-2-5-6zM314 250l6 11 4 5 1-1-1-3zM133 3l-1 2 2 2 2-3zM27 188l-9 6 2 1zM20 185l0 2 1-1zM251 8l-3 0-7 3 7-1zM4 197l11 13-1-6-2-3zM175 182l0 2 8 0 1-1-4-2-4 0zM101 183l-3-1-3 3-3 1-1 2 2 0zM128 246l-2-5-3 1-9 0 0 1 8 3zM306 30l5-1 5-3-7-1-3 2zM131 263l-4 3 1 15 2-7zM2 251l2 4 8 7 0-3-8-8zM90 219l-2-1-4 2 2 1zM90 117l-2 2 2 2 1-1zM65 307l0 3 5 4 2 0-1-5zM41 256l6 7 5 2-4-5zM238 79l0 4 5 7-3-11zM171 4l14-4-10 0-2 1zM92 78l-1 2 2 2 0-3zM12 68l-1 1-3 0-1 1-2 0-1 1-2 0 3 0 1-1 3 0 1-1 3 0 1-1 1 0zM97 262l7 3 5 0 2-2-1-2-2 0-3-2-6 3zM238 58l5 0 6-3-7-1-4 2zM271 243l1 5 3 1-3-6zM330 152l3 4 0-3zM9 289l1 5 5 4zM322 287l-1 5 1 2 3 2 0-3-2-6zM116 4l-2-3-5 2-4 5 5 1zM132 262l-2 17 1 0 1-5 3-5zM84 95l0 5 2 0zM264 211l3 6 3-2-2-4zM18 104l0 3 2 4 1-1-1-6zM290 95l2-1 6 0 2-1 0-2-6-1zM231 236l0 6 1 2 3 2 1-6zM245 261l0 2 3 6zM250 188l-1-1-5 0-7 4 10-1zM23 285l7 9 6 1-7-4zM69 193l-1-1-6 0-5 3-1 2 2 2 4-2 6-1zM102 217l-1-2-8 3 1 1 6 0zM251 218l-1 1 0 3 5 5-2-7zM63 23l-9 1-2 3 0 2 5-1zM297 219l-3 1 2 1zM300 214l-9 1-3 2 0 3zM289 210l0 1 1 1 0-1zM169 216l0 8 3 7 1 0 1-3-2-4-1-6zM56 195l-2 0-11 5-1 3 12-6zM216 53l-1 1 1 3 8 7-6-10zM48 77l-2 2 0 6 1 1 1 7 1 2 1 0 2-7zM236 214l-2 8 3 5 5 3-5-8zM53 206l-2 1 1 2zM82 182l-2-1-7 4-7 2-3 4 10-3 8-4zM97 231l3 0 6-2 2-3-11 0-2 1zM246 21l-10 3 5 3 2 0zM49 149l3 8 2 0 1-1zM301 297l0 4 1 1 0 1 0-3-1-1zM3 79l-1-1-2 1 0 1zM31 198l0 4 2 2 2 0-1-5zM48 272l0 4 5 4 3 1-2-6-2-2-3 0zM273 207l-6 1-4 2 5 0 1-2zM229 291l-2 2 0 2 3 9 3 1 0-4 1-1-1-1 0-4-2-4zM132 12l4 6 0-3 1-1zM242 75l0 1 4 2zM0 194l0 6 1 2zM48 256l0 2 3 5 3 3 2 0-3-5zM240 27l-6-3-14 4 0 1 8 2zM221 156l8 5-1-8-3 0zM105 73l-5 2 0 2 4 8 5-4-1-1 0-5zM117 117l-1-2-3-1-2 1-5 0 0 1 5 2 2 2zM11 296l2 4 8 7-5-7zM142 171l0 1 5 0 1 1 3 0 1-2-3-1zM189 49l2 3 0 3 5 5-2-7zM263 218l7 9 1-3-2-3zM7 294l2 7 2 3 2 1-1-6-2-4zM87 299l0 2 3 6-1-8zM13 246l8 10 6 3 1-1 3 0-14-13-3 0zM259 76l-2 2-3 0 2 6 3 2zM293 287l4 7 1 4 2 2-4-7-1-4zM187 11l-2-3-7 2zM35 303l0 4 2 0 1-2-1-2zM269 43l-9-1-1 1-4 0-5 3 11-1 1-1 5 0zM21 306l4 3 7-2-3-2-3 0-4-2zM164 210l0 4 4 9 0-9-1-2zM29 282l12 8-4-9-2-2zM114 108l-5 1-8 5 6 0 7-4zM331 306l-1 1 0 6 2 4 1-1 0-8zM120 132l-3 0-1 2 1 1zM92 158l-3 1 0 2 2 0zM3 316l1 2 7 5 1-5-3-2zM261 78l0 1 1 1 0 1 0-1-1-1zM245 226l0 1 5 2-2-5zM49 234l3 8 4 6 1 0-3-7-2-2-2-5zM201 38l5 7 0-3-2-1 2-2 13-4-14 0-3 1zM38 124l0 7 2 6 0-10z"/>
<path fill="#ff99ee" stroke="#ff99ee" d="M83 213l0 2 5 0 2-1zM147 9l4 3 3 0-4-4zM221 181l-3 0-1 3 4-2zM114 160l-1-1-5 0-7 11 7-3zM186 70l1 1 4 0-1-1zM87 209l0 2 8-1-2-1zM247 294l0 11 0-4 1-1 0-5zM274 138l6 10-1-5zM143 205l0 1 2 1 0 3 3 7 0-3-2-4 0-6zM298 74l4 2 6-1-2-1zM231 137l-2-5-4 0-2 3-7 1-2 3 5 0 1-1 5 0 2-1 4 3zM78 300l9 12 4 4 3 0-2-2-5-12-5-3zM275 207l1 6 2 4 1 0-2-9zM55 131l-1 1 2 2zM114 206l-7 3-3 0-3 2 1 1 5-1zM323 91l-7 0-5 2-1 2zM156 163l-4-2-5 2 4 2 2 0zM53 89l-2 6 6 13 3-2 0-5-4-7-1-5zM40 143l0 11 1 2 3-5-3-6 0-2zM238 141l-1 2 0 3 1 1-1 3 3-1 1 2 3 2-2-6zM281 187l-2-4-7 3 4 2zM235 107l4 4-2-3zM82 216l-7 1-5 3 0 1 11-2zM324 184l1 5 2 3 3-2-1-2zM66 134l0 3-1 1 1 4-1 1 4-1 0-3zM124 45l-1 1 1 3 5 2 0-3zM138 200l-3-1-2 3 2 0zM324 178l4 5 3 0 0-2-2-3zM316 192l1 5 2 2 5 2 1-2-2-4zM284 78l-1-1-5 0-6 3 5 0 4-2zM208 112l4 5 1 3 2 1 1-4-5-5zM307 60l-11 4 2 1 7-1 2-2zM133 93l-3 0-4 4 5 1 2-3zM118 12l1 1 1 0-1 0zM116 10l-1 1-2 0-1 1 2 0 2-2 2 0zM75 229l1 1 11 0 3-2-14 0zM181 187l0 1 11 1 0-1-5-1-3-2zM80 149l-1-1-4 1-2 2 0 3 4 0zM71 114l2 5 1-1-1-3zM52 230l0 3-1 1 4 4 0-3zM92 85l1 2 4 3-3-6zM78 144l-2-1-6 3-2 3 1-1 7 0zM163 236l0 1-1 1 0 4-1 1 0 2-1 1 0 3 0-2 1-1 0-2 1-1 0-4 1-1zM12 275l8 4-5-5zM165 200l-3 3 1 5 3 2zM93 93l2 4 0 3 4 3 1-3-4-5zM0 134l4 11 1-2zM301 201l-2-1-6 1-1 1 0 3 1-2 4 0zM10 135l0 3-2 4 4 7 2 0zM62 228l5 0 2 1 1-1 5 0 2-2-8 0zM249 20l-3 2-2 5 2 0 4-5zM101 307l0 4 1 1 5-1zM71 240l0 5-1 2 3 4 2 0-1-5zM11 270l4 3 2-1-3-2zM54 120l-1 5 1 2 3 2 0-5zM74 119l0 4 1 1 0 1 0-2-1-1zM260 19l-3-1-7 2 1 1 3 0 1-1 5 0zM287 45l3 1 1-1 4 0 5-3-10-1zM103 149l-1-1-6 2-6 4-1 4 4-1zM317 172l0 5 5 5-1-5-2-4zM0 250l0 5 4 3 0-2zM259 122l-1 1 10 10 0-2zM217 59l5 9 6 4-4-7zM42 125l3 7 2 2-1-5-3-4zM213 212l1 10 2 4 2 0 2-2-4-9zM124 199l-7 7 1 1 2 0 4-4zM243 111l0 4 9 2-7-6zM162 235l-2 0 0 10zM291 103l1 1 0 3 5 0 3-3 0-1-3-1zM236 103l0 3 2 2 2 0zM21 257l-2 4 6 3-2-6zM256 132l1 3 3 3 4-1zM89 192l-9 4 3 1 4-2zM150 48l2 3 6 1zM144 226l-2 0-1 3 0 4 2 4 2-4 0-5zM68 278l-2 2 3 4 5 4-2-5zM107 229l-7 3 2 1 4-2zM128 5l0 3 9 5zM87 80l3 4 3-1-3-3zM125 51l9 10 0-2-4-7zM191 200l-1 2 1 1 1 9 3 2 0-6zM233 186l-6 4 4 0zM136 172l-9 3 0 3-1 1 1 4 11-2 0-4-2-3zM156 210l1 7 1 1 3 0-2-5zM131 193l-2-1-10 3 0 3 7 0 5-3zM165 82l5 7 6 2-3-5z"/>
<path fill="#aaff00" stroke="#aaff00" d="M207 195l2 1 4 0 1-1-3 0-1-1zM292 219l3 0 5-3 5 5 0-3-1-1 1-2-6 0zM56 211l2 2 7-2-2-2-4 0zM147 288l1 4 0-3z"/>
<path fill="#ff3333" stroke="#ff3333" d="M173 148l0 4 1 1 4 1 5-2-3-3zM123 322l-1 0 0 7 2-4zM283 152l0 4 2 2 4 1-2-4zM112 311l5 4 4 1-1-2-2 0zM114 319l-2 3 2 3 2 8 2 0 0-8zM213 299l0 4 2 0-1-4zM329 118l-5 0-4 3 1 2 1 0zM98 160l8 0 2-2-7-2zM211 15l-8 1-7 5 8-1zM150 229l0 3 1 1 0 11 2-7 0-4zM333 135l-7 4 7-1zM236 114l-1 3 10 9zM176 20l2 0-3-3 1-1 7-1 4-3-12-1-1 3zM114 7l6 0 0-1-5 0zM239 326l-3 1-3 6 5 0zM333 123l-1 1 1 0zM11 74l-7 1-4 2 0 1zM212 304l-3 1-1 3 1 6 3-7zM17 88l4 0 8-3-2-1-8 0zM261 9l-8 1-4 2 10-1zM118 9l5 4 2 0 0-3-4-3zM126 270l-2 19 3-4 0-11-1-1zM103 25l-1-1-5 5 5-1zM194 308l-1 3 0 10 1 1 4 0 0-5 1-1-4-8zM271 161l-3 1-6 5 9-3zM147 264l-1 0 0 15 2-4zM76 155l-4 0-3 4 3 0 4-3zM191 33l1 2 13 10-7-9 3-3-4 1-3-3zM332 157l-1 7 2 1 0-8zM145 302l-3 14 1 0 1-3zM273 151l2 3 7 4-4-5-2 0zM156 13l5 6 1 0-1-8zM135 270l-4 11 2 1zM151 25l-2 2 0 2 4 2 1-5zM162 48l5 6 2-1zM152 297l-1 1 1 6 1-2zM204 280l0 1 1 1 0 1 1 1-1-1 0-2zM170 246l-4 2 2 2 2 0 1-2zM321 55l-7 1 3 1zM219 239l0 4 2 4 3 2-1-1 0-3zM245 127l9 7 1-1-6-7zM303 127l2 6 2 1 6 0 1-1-7-6zM237 126l6 6 3 0-2-5-2 0-3-2zM163 18l0 2 3 3 2-1-2-3zM52 202l-4 3-1 3 4-2 0-3zM246 19l-2 0-2 2 4-1zM224 326l-5 1 0 5 3 0zM50 186l-4 0-5 2-3 5 5-4zM273 106l2 6 3 3 8 2 0-4-7-8zM65 113l0 9 5 7-1-1-1-11zM123 290l-3 7 1 1 1 7 1-1-1-3 0-8zM38 71l-6-1-10 4 1 1 1-1 4 0zM60 182l-5-1-1 1-3 0-3 3 4 0 6-3zM202 251l-2 1 0 8 4-2zM85 42l4 6-2-4 1-2zM227 168l-2-2-13 2 1 3 14-1zM108 311l2 10 2 0 1-1 0-5-2-4zM173 48l7 2 3 3-4-4z"/>
<path fill="#ffffff" stroke="#ffffff" d="M311 1l2-1-2 0zM0 155l0 6 3 4 0-9zM310 45l-7 1-6 3-2 0 0 1 3 0 5-3zM173 315l-2 5 3 7 3 3 0-3-2-3zM320 136l-1-3-2 5-3-4-1 1-5 0 6 6 3-1 0-2zM293 29l0 1 5 0-1-1zM150 275l-2 1-2 5 3-2zM333 27l-4 3 4-2zM245 83l2 7 4 6 2-3-5-6-1-3zM123 170l-2 0-5 3-2 5 2 1 8-4zM329 51l1 1 3 0 0-1zM243 59l-6 0-4 4 0 2 9-4zM162 148l3 3 5 0 2 1 0-4-1-1-6 0-1-1zM322 35l-1 1-8 1-1 3 5 0 2-1zM135 59l1 4 3 2 8 3 2-1 0-1-7-6-5-2zM281 0l4 4 5-4zM48 26l-3 0-5 5 3-1zM156 308l-1 1 0 5 1 2zM168 204l-1 1 0 6 2-5zM308 297l0 6 3 4 3-4-2-3zM56 159l-11 8-2 3 15-7zM47 156l0 1 1 1 0 1 1 1 0-1-1-1 0-1zM152 166l-5-2-4 0 0 1-4 2-3 4 1 1 1-1 3 0 9-5zM168 93l-4 1-2-3 0 4-3 3 4-1 5-3zM187 266l-4 10 4 4 4-5 0-3zM312 45l-13 5 6 0zM282 33l7-2 4 0-1-1-6 0-3 1zM18 116l1 10 2-4zM319 51l-1 1-2 0 3 0 1-1 1 0zM117 67l-1 1 3 5 1 4 2 0-1-7zM274 12l-5-5-7 2-2 2 2 2zM21 124l-1 4 3 7 2 1 0-5-2-6zM230 100l2 6 3 0z"/>
<path fill="#ffdd33" stroke="#ffdd33" d="M88 217l1 1 3 0 5-3 2 0-10 0zM317 19l-3-1-8 5 4 0 2-2zM6 231l4 5 3 2 3 0-6-6-3 0zM1 237l0 3 5 4 7 3-7-7zM10 100l-10 2 0 4 4-3 2 2 2 0 0-1 2-1zM76 113l-2 1 0 3 4 5 1-3-1-1 0-3zM67 155l-2 0-3 5 5-4zM302 265l4 6 4 10 1-3-2-7-3-4zM208 233l-1 1 0 5 2 5 3 3 0-7 1-1-2-5zM58 137l0 8 1 1 2-6-1-2zM202 248l2 9 4 4 0-4-4-8zM0 261l5 6 4 2zM136 295l-2 6 3 2zM188 78l0 2 4 0-2-2zM328 31l-5 0-11 5 9-1zM302 211l-11 1-2 3 6-2 5 0zM7 248l6 9 3 3 2 0-4-3-3-5zM322 209l1 1 10 1 0-2zM191 244l0 6 2 3 0 2 1-6z"/>
<path fill="#33ddff" stroke="#33ddff" d="M182 279l0 10 1 2 1-3-1-1zM109 30l0 1 1 1 0 1 0-1-1-1zM228 198l-1-1-4 0-8 3 3 1zM91 220l-2 0-4 2 0 1 4 0zM32 189l-8 6 5-2zM204 212l1 3 0 8 2 0 0-4zM147 333l-1-1-2 1zM291 228l0 3 5 9 0 2 2 2-1-5zM171 321l-1 0-2 6 4-2zM257 326l-2 4 1 3 3 0zM235 324l-2 0-1 2-1 7 1 0 3-5zM119 224l11 0 1-1 3 0-9-1zM20 296l9 8-1-4-2 0zM72 46l-1-1-5 3-8 2 1 2 9-1zM33 258l11 6 2 0-4-6-4-3-2 0zM7 142l0 3 3 7 1-1 0-3zM236 213l1 1 1 8 4 7 0-5-2-2zM142 191l-10 2 1 2 3 0zM227 219l-1 2 1 9 1 2 7 6zM68 197l-9 2 0 1 6 0 2-1zM19 323l0 7 2 2 4 1zM272 225l-1 1 0 3 2 3 6 5-2-6zM70 80l-1 12 3 1 2-3 0-2zM149 260l-2 3 2 5 0 6 2-5 0-5zM185 139l1 2 7 3 5 0 1-2-6-3zM31 96l-2 2 0 4-1 1 2 5 1 0zM172 147l8 1 0-2-2-1-3 0zM263 147l1 3 5 6-1 1-3 0 6 0 1 1-2-8zM99 104l-4-3-3 4 5 0zM259 233l1 9 3 5 2 1 1-2zM58 237l2 5 3 3 1-2-2-4zM198 236l-1 2 1 3 4 6-2-5 0-5zM185 111l3 5 3 2 3 0 4-2 1-3-5 0-1-1zM149 280l-4 3 0 2 3-2zM147 318l0 8 1 0 3-3 0-2zM259 250l6 11 3-5-4-6zM251 240l1 4 4 6 1-2zM106 259l5 2 4 0-2-2zM76 192l-6 1-1 4 5-1 2-2zM319 45l-6 0-7 5 7-1zM244 174l-1-1-5 0-1 1-4 0-2 2 5 2 7-2zM119 179l-3 1-3 7 7-4zM275 309l-1 0-1 2 0 8 1 3 2-2zM22 110l-1 1 0 4 1 1 1 7 2-1 1-3-2-7zM298 219l-1 3 2 4 1 0 0-4-1-3zM0 214l0 6 3 0zM95 5l-4 0-4 3 0 1 5 0zM181 133l-6 2 1 2 6 1-1-1zM61 141l-1 7 2 1 2-3-2-5zM5 46l0 1 5 2 2-2-2-1zM17 227l7 9 2-1-2-4zM228 39l18-1 0-1-2-1-8 0-1 1-7 1zM89 84l1 7 3 1 0-4-1-2zM54 72l-4 6 1 6 2 4 2 0 2-4 0-3zM10 280l2 4 4 1zM326 265l-1 3 1 1 2 10 1 0 1-2 0-8-2-4zM46 21l-3-1-4 5 7-2zM149 229l-3 1 0 3-2 4 1 1 0 5 4-8zM112 312l2 4 4 5 1 0-1-4zM92 43l0 10 5 2-1-6zM298 169l0 1 5 4zM52 179l-1-1-7 0-5 2-4 4 13-3zM40 170l0 1 1 0 0-1zM316 55l8-1 1-1-5 0zM205 259l0 4-1 1 3 0 0-3zM21 42l-6 0-6 3 5 1zM20 10l-5 0-3 2-11 3-1 2 5 1 6-2zM68 54l-12 4-3 2 9-1 2-2 4-1zM102 101l3 9 1 0 2-3-3-4zM103 18l-2-1-10 5 2 2 5 1 4-2zM132 188l-13 1-2 1-1 4 5 0 4-2 3 0 2-1zM191 221l-3 6 3 4zM169 327l1 3 5-1-2-3zM105 39l-2 0 0 5 1 1 3-3zM21 200l2 6 5 6-1-5-5-7zM177 189l1 1 8 0 1-1-6 0-1-1zM82 197l-6-1-7 2 1 1 11 0zM126 323l-3 7 2 3 3 0-1-1zM182 310l3 6 0-7zM153 144l8 0 1 1 1-5-1-1-5 0zM270 209l-1 3 5 6-1-2 0-7zM161 226l-1 8 2 0 0-6zM214 159l14 2-7-4-3 0zM39 16l-15 7-2 0 3 0 1 1 8-1 5-3zM153 296l0 3 1 2 1 0zM236 198l-3 4 1 1 1 7 2 3 2-5-1-1 0-5zM13 107l1 11 1-1 0-5zM20 320l0 3 6 10 2-3-5-8zM215 186l-6 0-2-1-8 4 5 0 1-1zM169 114l0 3 5-1 1 1-1 2 3 1-1-1-1-7zM202 110l1 2-3 1-1 3 4-1-1-1 1-2 5 4 4 6 0-3-5-7zM0 35l2-1-2 0zM9 104l0 3 2 3 1-6zM34 133l-1 2 0 6 2 1 1-1 0-5zM201 2l-3 1-5 6 8-2 1-1zM0 256l0 4 5 3-2-5zM2 43l6 2 8-4-5-2-4 0-3 1zM195 249l-1 2 0 17 4-3 1-3zM302 236l-1 4 2 3 0 2 2 2-1-7zM217 275l-2 1 1 11 1-2 0-6 1-1zM195 217l-1 2 1 2zM2 64l1 1 5 0 4-2-9 0zM204 282l3 7 0-2zM28 289l8 5 3 0 1-1-7-3-2-2zM30 9l-2-2-1 1-3 0-2 1 0 3-1 1 8-1zM139 251l0 11-1 3 3 5 3-5 0-7zM93 62l-2 7 4 4 4 2-1-10-1-2-3 0zM112 281l7 2 1 1 0 3 2 1 0-11-2 4-1-2zM115 68l0 6-1 1 3 5 2-2 0-2zM228 245l-3 4 1 3 4-3zM140 182l-11 1-3 1-5 4 12-1zM217 118l3 5 6 5-3-5zM276 37l3 0 4 2 4-2 8-1 1-1-1-1-11 0-1 1-4 0zM40 138l-2 2 1 1 0 3zM133 321l-2 6 0 5 5 1zM304 247l5 9-1-5zM171 241l1 5 1-2zM325 54l7-1-5-1zM254 235l4 13 1 1 5 0zM49 208l0 4 3 3 0-5zM219 211l0 6 1 1 0 5 1 2 0-11z"/>
<path fill="#33ffbb" stroke="#33ffbb" d="M153 122l-1 2 1 4 6 1-3-6zM80 53l-8 4 1 4 1-1 0-3zM182 133l0 4 1 1 7 0zM126 93l-2-1-3 4zM328 184l-1 1 3 4 3 1-1-5-1-1zM29 147l1 1 1 7 4 6-2-9zM321 19l-5 1-6 4 6 1zM118 110l-2 4 3-3zM3 323l-2 4 5 3 0-4-1-2zM281 159l-1 3 2 0zM138 150l-1-1-7 0-8 9 1 1 6-5zM149 145l-5-1-7 4 3 2 7-2zM162 62l6 10 4 4 3 1-2-2-1-5-6-7zM284 138l0 7 1 2 6 4-1-1-1-7zM287 160l3 4-1-4zM178 121l1 4 3 0 4-2-1-1-4 2-1-2zM143 50l6 7 6 2-5-7-3 0zM163 145l2 1 7 0 3-2zM308 76l-9 2 9 0zM69 93l-1 1 0 4 3 5 0-9zM241 155l-5-3-7 1 1 7 4-1zM11 196l2 6 3 3 4-2 0-3-3-4zM236 166l1 2 1-1zM306 58l9-3-6 0-2 1zM124 145l-2-1-6 4 3 0zM228 139l-1-1-4 1-3 2-1 4 6-1zM174 167l5 0 2-1-5-2zM122 63l0 5 6 3-2-5zM225 165l13-1-8-3zM309 95l-7 1-6 5zM315 121l0 4-2 6 2 3 2 1 4-6-4-3zM150 58l5 4 0-2zM327 94l0 1 3 2 3 0 0-3zM124 132l-3 0-3 3 3 1zM175 69l3 4 4 1 0-1-4-3zM129 144l4 0 4-2-7 0zM133 121l-3-1-5 1-2 2 0 2 1 1 4-1 5-3zM172 95l1 2-1 1-3 0-2 1 0 1 7 1 2 3 0 3 4 4 1-2-1-4-5-8zM140 48l0 9 2 1 6 0 1 1zM62 255l0 3-1 1 5 3 0-3zM319 53l1-1 6 0 2-1-6 0zM127 106l-5 3 5-2zM128 140l-3-2-2 3 4 0zM129 145l-1-1-3 1-4 3 5 0zM145 158l1 1 0 3 5-1 0-3zM117 136l0 2 3-1zM207 155l-7 4 8-2zM152 159l1 2 4 2 5 0 6-3zM300 164l3 4 3 0-4-4zM327 120l-6 4-1 2 1 2 6-3zM122 140l-3 0-5 3-2 0-7 5zM86 50l-1 7-1 1 1 2-2 1 0 2 3 0 1 1-1 1 2 3 2 1 1-1 0-6zM166 283l-3 2 0 4-1 1 0 4 2 1zM298 158l-1 2 4 3zM182 88l7 9 5 0 1 1-9-10zM193 146l1 2 5 1 3-2-3-2zM288 156l2 4 5 3 0-2-4-4zM276 135l-1 1 8 8 0-7zM200 282l1 7 2 0-1-5zM243 133l7 8 3-3-7-5zM209 80l5 6 4 0zM157 124l3 5 1 0 3-4zM150 65l8 3 0-2-3-3-3 0zM119 208l-5 4-5 2 9 1 0-6zM161 109l-4-2-5 2-4 0-2 1 0 2 6 0z"/>
<path fill="#ffff33" stroke="#ffff33" d="M185 244l-1 5 3 9 0 4 1-13zM282 201l-2 1 0 6 1 2zM57 249l-1 1 1 6 2 2 2 0 0-4zM321 176l2 7 4 1-1-3zM146 77l-3 4 2 3 7 6-1-4zM28 266l4 5 4 1-3-4-3-2zM74 232l-2 1-6 0 2 1 3-1 1 3zM218 234l-2 2 0 5 2 1zM74 216l-5-1-4 3-1 2 3 1 6-3zM115 179l-3 0-5 3-4 1-1 1 0 3 2 2 3 0 5-2 3-6zM213 240l0 8 3 5 0-10-1-2zM331 18l-3 2-8 2-3 3 8-2 4-2zM203 238l0 5 1 2 0-6zM164 87l0 2 3 3 6 3 0-2-4-4-2 0zM271 299l-2 7 1 3 1-1zM275 81l-5 0-2 4 3 1zM234 83l6 11 1-1-3-5 0-2zM205 240l0 5-1 2 4 2 0-6-1-2zM170 243l-3 3 1 0zM91 221l-2 3 4 2 1-5zM191 84l1 3 9 9 2-1-8-9zM269 81l-6 1 0 1zM333 19l-2 1-1 2 3 0zM303 205l0 1 5 0-3-4 1 1zM5 261l1 3 6 3 0-1-3-1zM70 211l-4 0-3 2-2 0 1 1 5 0 2-1zM223 93l1 3 5 4-2-4zM25 222l6 8-2-5zM204 259l-3 1-2 3 0 2 2 2 1 0 2-4zM249 61l-8 1-7 4 2 2 11-5zM333 43l-1 1 1 0zM97 178l3 2 6-5-7 0zM180 80l5 6 6 1-1-4-5-3zM90 162l-2-1-4 2 6 0zM299 44l1 1 4 0-1-3-2 0zM199 62l2 4 7 3-1-4-2-2zM195 223l-4 9 2 2 3-6 0-4zM91 219l1 1 5 0zM0 312l0 6 3 2 0-3zM184 74l2 2 4 1-3-3zM181 221l-1 0-2 4 0 4 1 1 2-5zM9 246l9 13 1 0 1-3-7-8zM204 229l-2 6 1 2 4 3-1-1 0-6zM7 277l3 0 9 3-6-4-5 0zM18 275l1 0 3 4 3 0-3-3zM184 54l-1 2 1 5 7 3zM286 197l-2 2 0 2 3 5zM65 185l-13 6 1-1 10-1 2-2zM248 82l0 3 5 7-3-6 0-2zM248 63l1 1 6-2 11-1 0-1-13-1zM10 1l6-1-5 0zM74 139l5 0-2-1zM202 301l-5 9 1 3 1 0 0-2 3-5zM291 211l7 0 6-2-7 0zM86 155l-3 0-5 4 2 0zM167 59l0 4 4 5 3 2 1-2-1-3zM96 149l-1-1-7 1-2 1 0 4 3 0zM195 82l0 3 1 1 8 1zM0 262l1 5 5 4 2-1 0-1-3-1zM331 190l2 6 0-5zM195 54l3 7 6 1-3-4zM25 237l1 4 7 6-2-6-4-5zM49 237l-2 1 1 3 2 1zM13 266l1 3 7 0-6-3zM191 72l2 3 7 3-3-3zM94 324l1 5 8 4-1-2zM318 49l2 1 6 0-3-2zM269 6l-1-1-10 3-4 0 3 1 1-1 6 0zM67 175l-2 0-7 5 3 1z"/>
<path fill="#ccccff" stroke="#ccccff" d="M283 20l-7 3 6-1z"/>
<path fill="#ff66ff" stroke="#ff66ff" d="M313 231l-1 5 4 3 0-7zM27 201l0 5 1 2 1-2-2-3zM253 95l5 4 4-1-4-5-4 0zM21 273l0 2 3 2 0-3zM8 250l0 4 6 5zM260 302l0 9 4 3 0-7zM315 312l4 5 1 3 3 0-2-5zM231 141l2 1 3 4-6 5-3 1 8-1 2-3-1-3zM259 72l3 6 8-2-8-5zM239 258l5 10 0-3zM101 236l-4 0-6 2 5 0 2 1 2-1zM99 105l-2 1-5 0 0 4 3 3 2 0 2-2zM46 263l2 4 8 7-2-7zM297 170l-1 1 4 6 3 2 1-3zM247 71l-6 3 2 0 3 3-1-2 2-2zM218 202l1 8 2 3-1-8zM0 130l0 3 2 2 4 9 0-4zM278 193l6 0 3-2 2 0 1-3-10 0-2 2zM49 285l6 5-4-5zM301 256l2 4 3 2 1-2-4-4zM273 296l2 5 1 12 1 0 2-4-1-1 0-3zM203 116l-4 1-3 3 6-2zM175 66l0 1 6 5-2-3 0-2-1-1zM91 317l0 3 14 13-6-14-3-2zM16 107l-1 1 0 3 2 2zM4 104l-4 4 0 7 5 6 1-11zM72 315l4 9 2 2 6 3 3 0zM142 208l-1 1 0 4 2 3 3 1-4-7zM322 255l3 9 1 0-1-4zM63 153l-6 5 0 2 2 3 5-7zM60 149l0 2 1-1z"/>
<path fill="#ff00d4" stroke="#ff00d4" d="M282 323l0 2 4 5 4 3-2-4zM281 228l0 6 8 8-4-11zM71 67l2 8 2 3 0 2 3-1-1-4-4-4zM278 264l0 2 3 4 3 2 4 0-2-1-7-8zM64 20l-3 0-6 3 6-1zM324 299l0 5 5 7 1-7zM118 109l3 1 0-1zM135 252l-6-1-9 6 7 0 7-3zM74 143l-2-2-3 2-1 3zM199 217l0 4 2 1 0-4zM270 34l9-2-8 0zM286 77l11-3 0-1-10 0-1 1zM183 209l-4 6 3 6 0 2 4-2 0-8zM273 160l-1 4 2-1 1 2 3-1zM205 46l3 8 6 5 2 0-1-4zM96 126l-4 0-4 4 1-1 3 0 4-2zM58 62l-9 4 1 2 3 0 3-2 2 1zM109 167l3 4 1-3-1-1zM61 129l0 10 2 1-2-6zM99 57l2 5 0-2zM86 260l1 3 6 4 9 1 3-2-15-6zM8 106l-2 0 1 5 2-2zM271 50l6 3 1-1 5 0-5-3-6 0zM265 242l2 5 2 1-1-5zM263 211l-2 4 1 2 5 2zM188 178l-1-1-3 0-1 1-5 0 0 1zM171 172l1 2 15 0-10-3zM178 169l0 2 3 0 5 2 2 0 6-3 0-1zM74 221l2 4 6-1-3-2zM54 59l-1-1-3 0-3 2 0 2zM88 158l-6 4 5-1zM63 279l3 6 4 3 0-2-2-3zM328 226l2 6 3-1 0-5zM255 219l1 3 4 5-2-5zM331 243l-4 2 0 2 4 9 2 1 0-5-2-5zM77 49l5 4 2 4 0-4 1-1-1-5zM1 286l8 7-2-5zM275 155l4 6 1-3zM43 57l-1-1-3 0-13 5 14 0 2-1zM322 225l0 6 2-1 0-4zM163 265l-4 11 0 3 1 1 3-6zM0 240l0 2 2 2 5 1zM25 274l0 4 3 3 2 0 3-2-1-2zM250 251l-2 3 0 5 4 8 2 1-2-12zM0 174l0 3 3 2zM318 253l5 7-2-5zM187 204l0 2 1 1 0 6 2 1 1-1 0-5-1-1 0-4zM32 242l2 6 5 5-2-6zM17 106l1 7 1-3zM332 271l-1 1 0 3 2 3 0-5zM295 271l4 7 1 6 2 2-1-10-3-4zM185 3l2 7 2 1 1-1-1-6-1-1zM58 204l3 1 3-4-5 0zM19 315l1 4 6-1-6-4zM138 266l-2 2 1 11 2-1 2-7zM64 184l-11 4 0 1 11-4z"/>
<path fill="#ff3377" stroke="#ff3377" d="M14 184l1 3 3 3 1-1zM199 163l-1 1-17 1 8 3 5 0 3-1 2-2zM220 318l-1 1 0 7 6-1zM145 286l-1 2 0 9 1 3 1 0zM162 11l1 6 4 2-2-6zM152 269l-2 5 1 3 1 0 0-3 1-1 0-3zM145 264l-4 8 0 11 3 1 1-2zM325 102l-1-1-3 1-1 4 3-2 2 0zM149 220l1 8 4 5 0-8zM191 276l-3 4 0 5 4 0 1-2 0-3zM181 44l0 2 9 8-2-6-2-2zM91 134l1-1 8 0 2-1 0-2-4-2-3 0-2 1zM128 234l11 0 1-2-7 0z"/>
<path fill="#ff66e5" stroke="#ff66e5" d="M246 222l-3 2 1 2 3-2zM2 130l5 11-2-10zM246 228l5 7 2 0-2-4zM326 163l7 8 0-5zM257 205l-3 2-2 0-2 2 4 1zM8 177l1 4 4 4 0-2zM324 288l2 7 2 2 1-3zM68 165l-4 0-3 2-2 0 0 1 2 2 2 0 5-3zM4 319l0 3 2 3 1 0 5 7 2 1-2-8zM90 232l-2-2-2 2zM307 306l0 3 4 5zM70 167l-8 4-3 4 8-1zM41 255l7 4-1-3-3-3zM151 189l-6 1-8 5 9-2 5-3zM60 61l-1 1 5 5-2-5zM36 203l3 10 3 3 2 0z"/>
<path fill="#ff0000" stroke="#ff0000" d="M64 10l-6 1-4 4 6-1zM333 80l-7 2 5 0 2-1zM227 53l0 2 2 1 7 0 4-2-2 0-4-3-4 0zM175 229l-1 3 1 3 3 3zM12 181l7 7 0-4-4-3zM28 99l-2 2 1 2 1-1zM31 93l-5 1-5 3 8-1zM24 93l-3-1-7 3-1 2 8-1 2-1zM77 124l-2 2 0 3 3 3 2 0 1-1-2-6zM0 201l1 5 3 2zM104 190l-3-3-7 6 0 4zM129 44l1 7 4 7 3-1 3 1-1-2-4-3-5-9zM327 98l-1 1-5 0-1 3 3-2 2 0zM150 298l-2 2 3 7zM297 110l-1 1-2 0-1 1-2 0 2 0 1-1 2 0zM217 246l0 8 3 3 0-4-3-5zM286 164l2 5 2 1 2-2zM146 312l-2 3 0 2 2 1 1-1 0-4zM194 2l-5 1 2 4 0 3 5-6zM289 79l-4-1-9 3-3 4 4-2 3 0 7-4zM38 240l0 2 7 7 1-3zM119 287l0 3-2 2-3 0 1 5 2 2 0 4 3-7 0-3 2-4zM15 212l4 7 3 1-4-6zM82 161l0-2-5 1zM224 111l8 10 1-1 0-3zM138 3l2 0 3-2 0-1-4 0zM77 221l7 2-1-3zM116 25l-3 1-1-2-9 8 6-3 1 2 0-1zM207 64l3 7 6 5-5-8zM194 323l-1 2 0 5 2 3 2 0 1-10zM333 82l-7 3 3 0 4-2zM174 117l-3 1 2 2zM176 108l1 11 2 2 4-1-3-6 0-2zM286 162l3 3 1 0 1 1-4-4zM271 150l2 8-1 1-1-1-1 2 3-2 3 0zM15 270l3 2 5 0 1 1-3-3zM157 301l0 9 2-3 0-4z"/>
<path fill="#ffd400" stroke="#ffd400" d="M70 222l-2-1-9 3-2 3 1 1 3 0 6-2zM61 127l2 12 1 0 1-6-3-6zM165 73l1 3 3 3 3 1-1-4zM210 66l5 7 3 0-5-6zM300 26l-1 1-7 0-3 2 9-1 2-1zM326 218l-3 0-1-2-1 5 2-3 1 2 1 0zM329 33l-2-1-3 2-4 5 5-2zM269 129l-1 1 1 3 4 4 2-2-1-2zM190 98l8 5-2-4zM47 247l-1 2 3 4zM79 177l-8 6-5 2 0 1 13-5zM200 196l0 2 3 6-1-7zM245 40l0 1 2 1 8 0-2-2-6-2zM71 155l-5 2-5 5 7-3zM22 269l3 4 7 3 2 2-2-5-2-2zM54 250l0 3 2 2 0-2zM87 192l-3-1-2 3zM16 232l4 2 5 5-2-4-4-4zM105 161l-10 5-3 3 3 0 1 1 4-1 4-5zM202 274l-1 3 3 2zM109 235l-2-1-5 2 0 1 7-1zM184 253l0 4-1 1 3 2zM225 56l2 5 3 3-1-1 1-1 4-1 3-3 0-2-1 1-4 0-5 3zM56 236l1 1 1-1-1-1 5-2 0-1-5 0-1 1zM201 52l1 4 8 5-4-6zM70 160l-3 0-7 3-2 4 6-3 3 0zM137 147l-1-2-2-1-1 1-3 0-3 3 9 0zM33 259l9 9 2 0-5-6zM0 231l2 3 10 4-7-6zM200 112l-2-1-3 1zM201 106l1 3 5 2z"/>
<path fill="#00ff80" stroke="#00ff80" d="M314 91l4-2 3 0-6 0zM193 289l-3 9 4-1 0-6zM148 120l-5-6-1 1-4 0-4 3 0 3 3 0 1 1 9-1zM261 313l0 6 2 7 2-10zM113 94l3 4-1 1 6-2-3 0-3-4zM159 153l3 1 2-2zM63 183l-2-1-6 3-4 1 0 2zM105 190l-12 9 11-1 0-6zM191 124l-5 0-6 2 4 2 7-3zM184 122l-2-1-1 2zM200 150l7 0 10-4-10 0-7 3zM214 191l7 0 11-5-10 0-5 4zM66 290l1 5 2-3zM145 115l4 5 4 0 2-2 0-1-4 0zM103 133l2 4 10-3-1-2-8 0zM122 116l2 4 3 0 1-1 5 1 0-2 2-2-5-3-4 0zM88 71l-5 3 3 5 2 0zM265 0l-4 2-7 1 0 1 9-1zM79 98l0 2 5 4-1-4z"/>
<path fill="#d500ff" stroke="#d500ff" d="M27 104l-2 3 0 7 7 9-1-2-1-12zM237 165l-11 1 1 1 4 0zM231 320l-2 0-3 2 0 4 4 6 2-7-1-1zM79 258l-1 3 1 1 0 7 2 6 1-3 0-8zM82 333l9 0 0-1-3-2-3 0zM316 119l-5-2-10 4 2 4 4 1-2-1 1-1 2 0zM75 224l-2-2-2 0-3 4 1-1 6 0zM310 219l1 14 2-7zM174 183l-9 1-5 4 13-2zM248 317l2 6 0 10 3 0 1-6-4-9zM282 187l8 0 2-1 0-2-6 0zM82 288l0 4 4 3z"/>
<path fill="#00ff00" stroke="#00ff00" d="M94 236l-3-1-8 4 7-1zM0 63l7-2-5 0-2-1zM0 126l0 3 1 1zM184 49l1 1 0 4 5 7 1-1 0-4zM48 114l0 4-1 1 1 2 4 3 1-6-2-3zM73 21l0 1 4 2 7 0 5-2 0-1-8-4-3 0zM298 134l0 2 2 3 8 4-6-9zM157 323l1 10 4 0-2-4-1-6zM310 188l-3 3 2 4 4 3 3 0-1-8-2-2zM9 238l-1 3 4 4 4-1-4-5zM293 264l2 5 7 5 0-2-3-5zM324 297l0 1 5 4-1-4-2-2zM236 280l0 6-2 6 4-4 1-3zM0 15l9-3-5 0-4-2zM201 300l-3 2-3 5 1 2 1 0 2-3zM160 307l-3 4-1 11 3 0 2-5zM225 203l0 10 2 5-1-14zM179 317l-1 10 2-1zM158 202l-1 1 1 0 1-1zM168 190l-2 5 0 8 1 1zM238 258l3 10 4 3zM133 302l-1 0 0 17 1-2 0-6 1-1zM145 85l2 9 5-2 0-1zM0 190l0 3 2 2zM166 55l1 3 4 1-3-4zM210 107l4 7 4 4zM332 32l-8 6 1 1 3 0zM257 176l-7 2 3 0zM91 23l-1-1-3 2-5 1-8 8 9-2 6-5zM201 97l4 5 6 2-1-3-6-6zM15 127l1 8 6 7 2-1 0-4-2-2-3-8zM268 257l-2 3 0 3 6 11 5 5-1-10-5-9zM285 299l1 5 2 4 1 0 0-2zM312 244l1 4 4 4 5 2-1-3zM307 261l0 3 3 5 4-1-1-3-3-3zM210 280l0 6 3 5 1-1zM0 210l0 3 1 1zM154 167l-4 0-4 2 5 1zM23 209l3 7 0-3zM136 221l-3 0-1-1-4 2 8 0zM280 183l2 3 5-3 1-2-7 0zM278 179l6 0-1-1-4 0zM73 242l4 10 1-2-2-6zM110 306l1 4 8 3-5-6zM149 147l-1 2 5 3 1-3-3-2zM320 185l0 1 5 4-2-6zM326 318l3 5 0 2 2-4zM33 0l-6 1-1 3zM59 60l-2 1-6 0-6 3 5 1 7-3zM328 83l-3 0-3 2-5 1 8-1zM50 194l-2-1-5 4zM192 321l-2 0-2 2 0 6 4 0 0-4 1-1zM21 23l-18 5 11-1zM199 244l-1 3 1 3 2 1 0-4zM238 260l-1 6 3 4zM173 287l-2 3-2 6 0 4-1 1 7-5zM126 61l3 11 2 2 4-1 0-3-2-4zM156 85l2 8 3 2 0-5-1 0zM288 100l0 4 3 6 4-2-4 0-1-1 0-4zM208 265l-2 4 1 4 2-4zM207 296l-4 6 0 3 1 1 3-5zM185 205l2 6 0-4-1-2zM322 304l1 1 2 11 2 1-3-12zM62 250l-1 3 6 5 0-3zM191 102l1 4 3 4 6 1 0-2-3-3zM61 237l6 8-2-7-1-1zM318 290l0 5 5 8 0-7zM68 235l3 4 0-5zM76 231l-2-2-4 0-7 3 0 1zM122 316l0 4 1 1 0-5zM200 277l0 3 2 3 1-1 0-3zM12 291l4 7 2 1-1-4zM37 50l6 3 10-4-14 0zM265 62l-7 1 3 3 0 2 3-1zM319 239l-1 1 2 2zM237 320l-1 6 3-1zM114 71l-4 0-2 3 1 2 1-1 3 0 1-1zM129 93l-2 0-3 2 3-2zM170 255l-2 6 0 4 6 4 0-10-1-3zM178 328l1 5 7 0-4-7zM218 294l-1 13 2 6 3-6 0-2zM1 89l-1 0 0 1zM113 325l-1 0-3 6 0 2 6 0zM198 227l1 1 0 3 1 0 0-3 1-1zM235 300l-1 3 6 9-2-11z"/>
<path fill="#00d4ff" stroke="#00d4ff" d="M102 91l-2 1 0 5 1 3 4 1 3-5-3-5zM270 249l7 14 0 2 1-2-1-5zM296 34l1 1 8 0 2-4-6 0zM264 292l5 10 1-2 0-5-3-3zM39 311l2 5 5 4 1-2zM159 290l-2 1 0 9 2 2 2-7-2-3zM234 178l-4 0-3 2-2 0 0 1 1-1 7 0zM56 198l-3 2-1 6 5-6zM24 187l-4 1-2 3-2-2-1 1 1 4 4 5 1 0 0-2-4-3 8-6zM320 237l1 7 2 2 3 0-1-4-2-1zM309 269l3 11 3 3-2-9-2-4zM190 251l1 3 0 14-1 1 1 2 1 0 1-2 0-13-2-5zM295 222l3 6 1-1-2-4zM195 243l0 5 3 6 1 6 0-9zM13 301l1 5 3 3 3-1 0-1zM40 15l-13 1-3 1 0 2 3 0 1 1zM18 30l-2-1-11 4 5 0 1 1 1-1 4 0 2-1zM149 43l1 4 9 5-4-6zM118 229l6 0 6-2-9-2zM115 306l7 9 0-2-2-3 1-1-2-3-1 1-1-2zM107 43l-3 4 1 1 0 3 3 3 0-8zM267 50l3 0 1-1-3 0zM156 267l-1 2 0 5-2 5 3-6zM19 61l6 0 3-2 2 0-7-2zM115 171l-6 2 4 5 2-4zM96 46l0-3 1-1 0-3-1-1-9 2 0 1 3-1 4 5zM0 145l0 9 3 1-1-7zM209 319l-5 6 4 8 0-12zM92 179l-3-1-5 4 2 0 3 2zM242 163l3 0 1 1-1-2zM244 154l6 12 3-1-4-9zM156 284l-3 4 2 4 1 0zM84 90l3 11 1 0-1-1-1-7zM23 43l-3 0-5 3 8 1zM225 326l-2 7 7 0zM331 257l2 13 0-10zM274 207l-1 1 1 0zM275 200l-7 1-4 2 1 1 4 0zM20 0l-3 0-3 2zM150 212l-1 1 0 6 6 7 1-1 0-4zM258 249l-1 1 0 5 5 3zM75 91l0 12 3-2 0-5zM127 309l-1 9 2-3 0-5zM47 11l-4 0-1-1-11 1-4 4 14-1zM95 170l-6 1-1 7zM38 324l4 7 2 2 2 0-1-3zM127 304l-3 0-1 1 0 3 2 4 2-4zM42 21l-5 1-2 4 3-1zM109 23l-3-1-3 1 0 1 2 1zM138 254l-3 0-8 4 0 1 3 0 3 2 2 6 2-1 0-3 1-1zM137 248l0 1 1 1 0 1 0-1-1-1zM203 125l-7-1-12 5 3 2 5 0zM271 249l6 8 0-5-1-2zM38 248l2 6 2 0 1-1zM302 188l-1 1 1 0zM304 179l-1 2 4 9 3-4-3-6zM305 27l-2 0-2 3 4 0zM167 188l-1 1-4 0-1 4-5 3 3 1 3 5 3-3 0-4zM333 84l-6 2 6 0zM273 19l1 1 4 0 2-2-6 0zM61 216l-1 1-4 0-2 1 0 1 3 0zM175 236l2 7 1 0 0-4zM168 307l-1 3 3 9 1-2zM219 142l-6 3-2 0 7 0zM229 203l2 7-1-7zM33 237l0 5 5 5 3 0zM111 65l-1 5 4 0 0-2zM163 330l-1 2 3 1 0-3zM57 11l-6 0-9 3-2 2 0 4 6-1 2-2 5-2zM261 196l-10 1-2 2 0 4 13-5zM24 222l1 5 6 6-1-3zM122 330l-1 3 3 0z"/>
<path fill="#33ff99" stroke="#33ff99" d="M327 92l-3-1-11 4 12-1zM241 136l11 9-9-10zM281 85l-1-1-8 2-2 3 1 1 3 0 6-3zM144 122l-5 1-1 5 6-2 1-1zM181 110l0 4 3 7 3 0 3-2 2 0-3-1-7-9zM181 100l1 6 2 4 10 1zM305 92l-1 1 1-1 2 0zM136 72l4 6 3 2 2-3-2-2zM143 99l-2-2-10 2 1 2zM171 102l-12 5 3 0 3-2 2 0zM110 97l0 2 3 5 2 0 3-3-1 1-3 0-1-1 1-1zM201 151l-3 0-1 1-15 1-4 2 5 2 7 0 12-4zM134 92l0 2 8 0 0-3-7 0zM159 280l-1 0-1 2 0 8 2-1zM117 85l-1 1 0 3 4 2 0-4zM192 64l3 5 7 3 2 2 3 0-6-7-6-1zM173 71l1 4 5 4 5 0-9-8zM71 104l0 5 2 5 3-2-2-5zM333 69l-5 3-9 3 0 3 4 0 2-2 8-4zM187 34l10 10 2 4-3-9-6-5zM137 81l-8 2-2 5 4-2 3 0zM132 76l-1-1-1 1zM267 48l-4 0-5 2 8 0zM159 66l0 3 7 9-3-8-2-3zM198 117l-12 5 1 1 5 0 3-2zM301 154l-2 2 8 9 2 1 1-1-6-11zM280 144l1 5 4 3-1-6-2-2zM152 102l-3-1-3-6-2 6-1-1-8 1 7 2 9 0zM240 163l5-2 3 4-3-7zM243 154l1 1 0 1 0-1zM321 96l2 1 6 0-3-2-4 0zM67 77l1 3 0 11 1-12zM64 78l-4 0-2 4 0 2 4 4 2-3zM34 217l-1 2 3 2 1-3zM91 92l1 12 2-2 0-5zM115 57l0 2 6 6 1-3zM32 114l1 11 1 3 3 1 0-6zM333 3l-17 5 1 1 9 0zM123 104l-3 0-3 2-2 3 4-1zM158 56l4 5 4 1 0-3-5-3zM116 61l2 5 4 3-1-3zM272 161l1-2 3 3 3 1-3-4-3 0zM318 74l5-1 9-4-13 0-1 1zM144 153l1 4 5 0 0-2zM131 102l-1-2-3 0-1-1-7 2 2 2 4 0 1-1 3 1zM250 211l3 8 1-1-2-6zM134 135l-8 2 4 3 3-2zM44 328l3 4 3 1 0-3 1-1-2-1zM171 129l1 1 12 0-1-1zM153 121l8 3 9 0 3-3zM299 57l1 1 4 0 2-2-6 0zM299 300l1 3 4 4zM156 60l0 3 2 2 2 0 1-2zM119 138l-6 4 5-2zM126 103l-2 1-4 4 2 0 5-3zM135 87l-7 1-4 3 11-1zM279 60l0 3 2 1 1-1 9-1zM120 103l-2-1-2 2 3 0zM274 326l1 7 2 0zM183 142l0 2 8 0-6-3zM145 122l1 3 5 0 1-4zM301 159l3 6 4 3-2-4zM117 110l-2 0-7 4 3 0 1-1 3 1zM126 84l-1 1 1-1 1 0zM121 84l-1 2 3 1zM322 146l-1 10 9-3zM241 316l0 9 2 2 3-8zM135 134l1 1 7 1 3-2 0-1zM124 70l-2 0 1 6 4-4zM324 117l5 0 1-1-5-1zM204 84l1 4 3 3 8 3-3-5zM15 312l2 3 2-1-1-2zM274 112l-3 2-1 2 2 3 0 2 4 1 3-4zM116 137l-10 2-3 9 13-9zM333 79l-1 1-2 0 2 0zM145 7l0 3 4 3 1-1-4-3 1-1zM163 127l0 1 6 0-2-3-2 0zM295 89l9 1 2-2 6-2-10 0zM80 106l-4 3 0 2 2 3 4-3 0-2zM130 74l-2-2-5 5 5 2 0-1 2-1-1-1zM112 178l-4-4-8 7 2 2zM160 79l0 2 3 5 5 2-4-6zM300 55l-2 1-7 0-1 2 7 0z"/>
<path fill="#3399ff" stroke="#3399ff" d="M224 237l0 11 1 0 2-3 0-2zM257 104l1 3 7 4-1-3-3-3zM31 181l-2 0-1-2-1 0 0 3-5 5zM138 123l-1-1-3 0-6 4 9 0zM234 304l0 4 2 6 4 1 0-2zM225 105l0 3 10 5-3-4-6-5zM131 282l0 11 2-5 0-5z"/>
<path fill="#66e5ff" stroke="#66e5ff" d="M159 243l-3 1-2 5 5-4zM241 177l4 2 2-1-1-2zM75 24l-1-1-3 0-7 6 7-4zM306 236l0 5 2 4 4 3-1-5zM165 298l-2 17 2-1 3-9 0-3zM28 50l-6 0-5 3-1 2 7-2zM189 214l-2 0 0 10 1 2 2-5 0-6zM20 174l-1 2 5 5zM35 87l-1 2 1 1zM42 80l-11 1-4 2 3 2 1-1 6 0zM224 205l-3 0 1 9 2-2zM32 267l7 6-4-6zM220 297l2 4 0 3 1 2 1 0 0-7-1-2zM10 21l-10 1 0 4 4-1 6-3zM51 330l0 3 9 0-6-3zM2 165l-2 6 8 9-1-1 0-3-3-5 0-3zM323 274l0 8 1 1 4-3zM0 221l0 3 5 6 6 1-8-10zM118 195l-3 0-4 2-4 6 7 1 4-5zM237 242l-2 6 2 3 1 5 1-9zM114 317l4 7-1-4zM201 315l6 4 2-1 0-2zM10 308l3 9 2-3zM302 260l1 4 5 4-2-5zM168 125l2 3 3 0 1-1-3-2zM253 282l1 1 0 10 2 2 1-9zM86 64l-5 0-1 3 3 6 5-3-3-5zM225 231l1 4 4 5 0-5-3-4zM236 318l-2 5 2-1zM0 3l7 0 0-1zM51 256l3 6 3 4 2 1-3-6 0-2-3-3zM207 265l-3 0-2 4 4-1zM148 188l-1-1-4 2-3 0-9 3 9-1zM205 249l4 9 2 1 0-4-2-3 0-2zM112 240l1 1 10 0 5-2-3-2-7 0-1 1-4 0zM76 315l-1 2 11 10-2-7-5-4zM301 228l0 5 1 2zM130 317l0 2-3 4 1 9 1 1 2-7 0-4 1-1z"/>
<path fill="#3355ff" stroke="#3355ff" d="M229 46l-7 4 2 0zM58 174l-2 1-5 0-4 2 7 1 3-2zM126 10l0 3 7 6 3 0zM141 22l1 1 7 1-6-3zM125 28l-14 5 1 2 0 6 2 3 1-3-2-2 6-4zM286 5l-16 2 5 5 4 0 4-3zM222 6l8-1 5-2 5 0 0-1-12-1-5 2zM281 71l-2-1-1 1-13 0 0 1 5 3 2 0zM60 206l-2-1-4 1-1 5 2 0 3-2zM260 77l0 9 2 2 3-4-3-1zM217 1l-4 3-1 4zM156 323l-2 2 0 8 3 0zM246 75l1 1 0 4 3 3-2-7zM254 51l4 2 5-2zM32 230l3 3-1-2zM273 24l-10 0-1 1-6 0-6 2 21 1zM158 190l2 3 1-3zM165 181l-1-1-14 1-2 1 0 5 4 2 7-1 6-5zM119 11l0 1 4 2zM111 9l1 2 6-3-6 0zM123 27l-3-3-2 0-7 8 7-2zM242 77l0 2 2 3 3 1-1-4zM228 6l-6 1-2 3 1-1 6 0zM222 15l-1 1-3 0-1 3 1-1 3 0zM218 72l4 5 4 1zM116 5l4 0 1-3 6 5 0-3-7-4 1 2zM219 9l-2 1-5 0-4 4 6-1 5-3zM264 100l-1 3 3 4 0-6zM164 47l3 0 1 1 7-1-2-2-8-2zM202 0l-1 1 1 0 1-1 1 0zM0 233l1 3 6 4 1-1-1-2-5-2zM125 39l-4 4 0 1 4-4zM176 221l0 7 1-1z"/>
<path fill="#ff99cc" stroke="#ff99cc" d="M182 204l1 4 4 5-3-8 4-2zM304 0l-4 0-7 4-5 1 8 0zM225 66l3 4 5 2zM31 231l1 1 0 3 5 5 1-1-1-3zM279 218l6 12-2-8-2-3zM326 168l0 5 3 4 3-2-5-7zM32 106l-1 5 4 8 4 5-4-11 0-6zM0 327l0 6 3 0zM58 200l-4 5 3-1zM69 318l3 3-2-3zM132 25l-1-1-3 3zM137 15l0 5 4 1 1-1-1-2zM298 107l-6 3 4 0zM187 72l0 1 4 1-1-2zM52 285l3 3 3 1-3-5zM115 44l4 4 5 3-2-4zM90 273l0 3 4 3-2-5zM244 198l1 1 1 7 3 5 0-2 2-2 0-4-2 1-1-3zM57 85l-1 5 1 1 0 3 4 7 2-3-1-9zM333 14l-6 3 5-1zM100 271l1 1 12 0-2-2-10 0z"/>
<path fill="#002bff" stroke="#002bff" d="M228 14l4 0 7-2-1-1-7-1zM36 23l-5 1-3 3 5 0zM247 11l-7 1 5 0zM16 315l-2 3 5 4 0-4-1-2zM273 20l1 3 4-2-4 0zM303 182l-12 5-1 3 7 0 5-3 1 1-1 3 3-1zM152 9l3 3 5-1 0-1zM197 17l-2 0-8 5 6 6-4-5 5-3 2 0 2-2zM270 44l-20 3 3 1 9 0 1-1 3 0 4-2zM202 8l-10 2 1 2 3 0 5-2zM138 13l4 5 12 3-4-4zM219 36l2 3 1-1 5 0 9-3 4 0-8-4-3 0zM97 241l-12 1-3 2 7 0zM217 13l-5 1 0 1 3 1z"/>
<path fill="#ccff66" stroke="#ccff66" d="M284 161l0 1 2 1-1-2zM224 81l0 2 4 3-1-3zM84 212l6 1 0-1-3 0-1-1z"/>
<path fill="#00ffaa" stroke="#00ffaa" d="M163 139l1 1 10 1 3-3zM192 57l-1 5 4 3 5 1-2-4zM212 160l2 3 5 0 1 1 5 0 2-2zM314 213l6 0 2 2 1-1 3 0-4-4-4 0zM160 53l2 3 4 2-1-4-4 0zM13 319l2 2 3 8 0-7zM269 142l2 7 5 3 2 0-1-1 0-3zM332 119l-3 0-1 1 0 5 5-3zM272 137l-1 1 6 6zM254 178l-1 1-6 0-1 2 4 0zM152 67l4 4 3 6 2 1-4-9zM151 154l0 3 1 1 10 0-9-5zM320 187l2 7 1 0 2-3zM296 68l3 1 1-1 12-1-6-2-5 0zM125 92l8 0 1-1zM255 136l-1 2 8 9-2-7zM274 65l1 2 5 2 8-3-3 0-5-2zM126 112l-5-1-3 6 5-2zM297 65l-8 1-9 4 4 1 1-1 10-2zM333 142l-2 2 2 0zM234 133l-1 1 3 4 5 4-1-6-3-3zM313 68l-13 1-2 1-1 2 3 0 4-2zM114 89l3 6 5-4-3 2-2-3zM278 148l0 3 1 1 3 0 0-1zM110 76l-1 1 0 3 3 6 3 2 1-9-2-3zM244 157l-1-1-3 0-2 2-7 3 3 0 5 2z"/>
<path fill="#ff33dd" stroke="#ff33dd" d="M272 275l2 8 9 6 1-1-6-8zM69 214l6 1 2-1 0-1-6-1zM297 331l0 2 1 0zM15 264l1 2 6 2-1-3zM4 156l0 9 1 1 5-1zM0 274l1 3 3 0zM116 283l-3 0-1-1-7 1 0 11 1 2 2-9 2-2 2 1 4-2zM264 294l-4 6 4 6 1-1 0-8zM99 174l8 0 1-1-6-2zM16 113l1 6 0-5zM126 237l3 2 5 0 1-1 2 6 1-9-9 0zM239 274l0 4 1 1-1 5 2 1 2-4zM108 0l1 2 6-2zM249 282l-1 12 4-3zM54 305l-2 3 7 6 2 0 2-3zM16 299l5 6 0-2zM47 41l-3-1-7 1-4 3zM312 237l0 6 7 5-3-8zM246 272l1 5 4 7 1 4-1-8zM275 322l-1 3 3 6 3-1 0-1-2-2-2-5zM56 237l1 5 2 3 2 1 1-1zM64 301l0 1 9 3 3 0 1-2-1-3-9-3zM172 41l8 4 0-2-4-2zM102 209l8-2 3-2-3 0-1-1-7 1zM139 215l-1 2 1-1 3 4 0-4zM224 275l-2 12 4 6-1-17zM105 115l-5 0-1-2-4 1 1 3-3 3 1 1 7-1zM18 296l1 4 2 2 7 2zM12 171l0 5 2 3 5 4-3-5 0-6-3 1zM11 165l0 4 1 0zM302 317l5 9 0 2 2 1 0-8-1-2zM188 41l5 10 2 2-2-8zM121 0l4 2-2-2zM119 0l-4 1 1 2 2 0zM15 69l8 0 3-1-2-1-6 0zM267 205l-3 0-10 6zM8 153l3 11 1 0 0-5-2-6zM0 179l1 4 6 6-3-8zM19 294l3 3 6 2 0-1-5-4zM0 284l8 4-1-2zM56 283l0 2 3 5 5 4zM261 278l5 9 1 4 3 3 0-2-3-6zM171 200l0 6 2 5 2 1-1-11zM271 295l2 15 1-2 0-7-2-6zM290 171l4 7 6 0-7-9zM289 309l0 2 1 1 0 3 1 1 0-2-1-1 0-3zM299 228l0 4 2 5zM93 234l2 1 5-2-1-1-3 0zM245 246l0 4 2 5zM101 65l-2 1 1 8 3-1 0-6zM305 230l0 3 5 8-2-3-2-8zM253 269l5 14 6 8 2 0-7-16-4-6zM294 326l-1 1 0 3 3 3 0-4zM7 205l1 6 5 5-1-6zM333 107l-5 1-2 4 7-3zM105 52l0 3 2 3 1 4 2 1 1-5zM215 17l-4 1-6 3 0 1zM245 264l0 5 1 2 2 1 0-2-2-2zM60 15l-8 1-6 4 1 2 1 0 2-2zM64 86l-1 2 0 5 1 1 1-2zM95 261l4 0 5-3-7-4zM99 134l-2 0-5 4-3 5 3 0 3-5zM82 213l-2 0-5 3 7-1zM46 305l4 10 5 2 2 0 3-2zM291 331l0 2 1 0zM11 285l7 8 5 0-4-5-5-3zM42 217l-2 3 4 7 3 3 0-5zM108 3l-8 3-5 4 9-3zM293 207l2-1 7 0 0-1-5 0zM296 225l0 5 2 2 2 5zM256 297l-3 7 0 2 2 3 1-1zM166 36l3 4 3 0-3-1zM223 307l-4 7 6 10 2-13-1-3zM187 175l5 6 10 0 2-1-6-3zM26 134l-1 6 3 4 2-1zM136 242l-1-1-5 3-1 2 1 1 4-2 2 3zM24 280l4 6 2 1-1-4-3-3zM129 29l-2-1-8 8-5 3 3 2 9-4 3-5zM46 276l7 8 2-1-1-2zM175 24l-2 3 2 4 10 2 1 1zM112 270l2 2 9-3zM86 296l8 6-6-7zM106 234l-3-1-8 3zM249 301l-1 0 0 5zM26 102l-3 1 1 3 1 0zM30 96l-6 2-6 4 7-2zM179 201l-1 8-1 1 0 2 2 2 3-5-1-5zM200 212l0 4 1 1zM194 281l-1 7 2 3 2-1 0-4zM0 281l0 2 6 2 2-1zM101 299l1 4 5 7 3 0-1-5-2-2-1-4-3 1zM2 278l3 4 6 2-4-6zM281 32l-5 2-7 1 0 1 7 0 4-2zM105 7l-4 2-1 2zM323 329l-1 4 3 0-1-4zM73 284l2 4 3 2-1-4zM212 5l-5 4 3 0zM226 62l1 1 0 3 4 1 2-5-4 2zM213 304l0 2 3 1 0-2zM90 286l0 2 3 5 3 1 0-3-3-5z"/>
<path fill="#9933ff" stroke="#9933ff" d="M224 2l-6-1-4 6zM241 79l3 12 3 4 2 0-3-5-2-7zM257 317l-1 2 3 8 0 3 1-7zM185 26l5 7 3-2-1-2zM218 36l-6 2-2 3-3 2 0 3 7 7 1 0-4-8 9-6zM267 61l0 1 9 2 0-1-6-3zM163 21l3 9 2 3 2 0-3-6 0-2zM269 82l-5 4 3-1zM229 17l10 0 3-1-9-2zM163 279l-3 9 1 6zM226 32l-5-2-10 2 1 2 9 0 3-2zM163 154l3 5 3 0 8-4-7-3-5 0zM223 75l6 4-4-4zM266 62l-1 5 8-1-1-2zM211 9l-6 2-6 4-1 2 9-3zM241 3l12 0 3-3-8 0-4 2-3 0zM264 4l-3 0-9 3 0 1zM226 39l-6 1-3 4zM167 23l1 3 6 5-4-6zM256 58l6 0 5 2 2-1-3-1zM241 4l-10 1-2 1-1 3 8-1 3-2 2 0zM229 71l3 4 5 3 2 0-3-4zM268 101l-3-5 6-5-1-1-3 2-2 0-1 2-6-2 6 7z"/>
<path fill="#66ffcc" stroke="#66ffcc" d="M311 96l-8 2-6 3 4 2 5-3 2 0zM181 75l6 5 0-3-4-3zM214 111l4 6 4 3-4-8zM213 105l3 4 6 5 1-4zM71 287l0 2 2 1 0-2zM7 331l0 1 2 1zM134 67l2 4 7 3 2 2-4-5zM127 55l6 10 1-3zM283 157l0 2 3 2 0-2zM228 124l2 4 4 1zM163 163l2 3 8 0 2-2-6-3zM213 121l2 9 8 4 1-2-3-5-5-5zM153 54l2 4 6 4-1-3zM123 91l-2 2-2-1 2 1-3 3 2 0zM202 151l6 3 2-1 12-1-1-1-7 0-1-1zM286 86l-1 1-4 0-4 2 0 1 4 1 3-2zM77 227l15 0 0-1-4-2-5 0zM135 139l3 1 4 0 1-1zM29 299l5 3 3 0 1-1zM154 153l6-1-6 0zM127 126l-5 2 1 3 4-3zM2 75l-1 1-1 0 1 0 1-1 1 0zM235 145l-4 3-8 3 0 1 3 0 8-5zM115 54l0 1 11 10-1-4zM85 105l0 6 1 1 1-1 3 0 1-1-1-5zM135 272l0 5-1 1 0 8 0-7 1-1zM135 247l-1-1-3 1zM144 238l-2 1-3 8 0 3 1 1 4-8zM118 149l-2 0-5 5-2 4 2 0 6-6zM163 144l11-1-5-2-5 0zM119 100l7-2 5 2-3-2-4 0-1-1zM215 131l-4-2-9 5-2 0 0 2 12 0 3-2zM108 82l-3 3 0 4 3 6 3 1 3-5-4-8zM128 104l0 8 3 1 1-1 1 1 0-3 1-1zM224 153l-6 0-1 1-7 0-2 1 12 1zM295 123l3 9 1 1 4 0 1-1-2-3-1-6-1-1-3 2zM327 106l-3 3 2 0zM151 126l-1 1-7 1 6 1 3-1zM116 50l-1 3 10 7zM143 132l6 1 0-3-4 0z"/>
<path fill="#99ff33" stroke="#99ff33" d="M297 16l-1-1-5 3-7 2 0 1 5-1zM297 95l-8 1 3 4zM61 171l-3-3-2 1-4 5 4 0zM59 147l-2 4 0 3-1 1 1 1-1 1 7-5-2-1-1 1-1-1zM38 302l1 4 2 1 1-5zM99 54l0 2 3 5 0-4zM185 6l-2-1-7 5 9-3zM142 201l-4 0-3 2-2 0 6 0zM301 55l7 0 2-2-6 0zM291 27l-14 2-4 2 9 0zM165 221l1 9 2 4 0-10-1-2zM173 232l1 12 1 1 1-3zM331 203l-7 3-1 2 9 0zM207 105l0 1 4 4-2-2 0-1zM83 288l3 2 4-1-5-2z"/>
<path fill="#ffccee" stroke="#ffccee" d="M170 104l1 1 4 0-1-3-2 0zM148 181l2-1 15-1 2-1 0-1-12 0zM73 140l2 3 3-2 0-1zM0 162l0 6 1-3zM98 56l0 8 2 1 1-2-3-5zM326 94l1-1 6 0-5-1zM298 304l1 4 6 6-4-7zM267 98l5 7 3 0 1-1-4-8zM251 126l4 5 8 4-6-11zM68 214l-5 2 0 2 3-1zM268 217l0 2 8 10-4-12-1-1zM324 194l2 6 4 0 3-2 0-1-3 0-4-5zM75 58l-1 6 2 6 2-7-1-1 0-3zM143 2l-4 2 0 4 2 0 2-2zM11 112l-2 1 0 2 2 3 2 7-2-7zM5 257l-1 2 5 5 5 1-1-2-4-2zM151 308l-3 6 0 3 3 3zM294 165l1 5 2-1zM215 77l3 4 5 2 0-3-2 0-4-3zM48 315l0 4 4 3 6 1 6 3-7-8zM55 229l2-1-2 0zM51 227l-3 4 1 2 2 0 0-3 1-1zM95 232l-6 2 3 0zM333 17l-1 1 0 1 1-1zM226 190l-6 2 6-1zM324 211l4 4 4 0 1-1 0-2zM75 232l-3 5 0 3 4 3 1-3-1-1 0-7zM6 246l6 6 5 7-8-12zM72 152l-4 3 4-1zM50 249l2 5 4 4 0-2zM13 150l1 2 0 5 3 3 2 0-2-7-2-3zM246 128l1 5 6 4 1-2zM58 317l7 9 5 0 2 1-1-3-5-5-5-3zM302 180l-1-1-4 1-4 3 0 2 9-3zM248 11l-1 1-1 0 2 0 1-1 1 0zM144 194l-5 2-3 0 0 2 1-1 3 0zM266 120l0 4 3 2 1-3zM289 23l-1 1-3 0-1 1-2 0 3 0 1-1 2 0 1-1 2 0zM120 2l2 5 3 2 3 0zM36 267l3 5 4 4 2 0-3-5zM314 89l-8 2 5 0zM152 0l8 9 4 1 2-2 0-2-3-4-5-2zM333 23l-8 7 3 0 5-4zM215 65l0 2 4 3 2 0zM13 222l3 4 2 0 5 3-1-3-3-3-5 0zM248 64l-4 1-5 5 7-1 2-3zM54 294l2 3 6 4 1 0 3-4-6-5-5 0zM65 244l-1 2 4 8 1-7z"/>
<path fill="#00ffff" stroke="#00ffff" d="M20 332l1 1 1 0-1 0zM27 134l5 7 0-5-2-3zM140 277l-2 5 0 9-1 1 3-5zM158 232l-1 10 2 0 0-8zM33 307l-1 2 6 9 2-3-2-4zM75 205l-11 4 1 1 5 0zM45 46l-3-1-2 2 1 1zM304 249l3 10 4 3zM88 172l-3 4-1 5 3-3zM12 320l0 4 3 9 1 0 1-5-3-7zM0 287l2 3 7 4-5-5zM22 57l-1 1-6 0-2 1 6 1zM272 179l-7 2-4 5 1 1 4-1zM280 238l1 5 5 7 0-4zM323 255l3 5 1 4 0-2zM0 67l7 0 2-1zM67 6l-12 4 10-1 2-1zM147 193l-6 4 4 0zM143 217l1 8 2 4 3-1-1-8zM41 293l0 1 6 5 3 0-1-1 0-4-5-2zM98 41l-2 7 1 1 0 3 3 2 0-6-2-4zM40 71l-4 2-12 2 2 1 11 0zM267 310l-2 2 0 3 1 1 1 7 2 3 2-3-2-4-1-8zM198 242l-1 3 1 0zM240 326l-1 7 4 0 0-5zM112 23l-2 0-6 3 0 1 4-1zM190 236l-5 2 1 5 4-2zM20 1l-6 2 0 4 1 0zM181 147l0 2 3 3 13-1 2-1zM127 242l1 2 5-2 1-2-6 0zM162 219l3 10-1-8zM313 150l-3 4 6 7 2 4 1 0 0-3 2-3 0-2-6-7zM244 282l-1 0-2 4 1 2 0 11 3-5 0-9zM258 284l0 6-2 6 3 4 5-7zM222 215l0 13 1 3 3-1 0-2zM27 212l0 5 5 5 1-2zM103 61l-1 2 2 1zM248 211l1 9 1-3zM5 199l2 5 8 7zM265 207l-9 4 2 0 1 2-1-2zM1 7l12 0-3 0-1-1zM186 319l-1 4 2 2zM268 229l2 7 2 3 2 0zM17 220l7 6-1-5zM36 41l-10 1-2 1 0 3 8-2zM41 204l-1-3 2-3-3 2-3-1zM280 244l0 4 2 4zM229 213l0 9 2 5 1-5zM264 181l-3 0-6 3 6 0zM257 315l4 9-1-8zM186 244l4 6 0-8zM301 223l0 4 1 3 1 0zM153 329l-2 4 2 0zM140 210l-1 2-3-1-4 4 1 1 4 0 2-2 2 0-1-1zM54 136l1 1 0 4 2 2 0-6zM249 212l1 1 0 3 2 2-2-6zM115 260l5 0 6-2-12 0zM260 103l0 1 3 2 0-2zM32 68l-5 0-11 5 5 1 3-2 7-2zM251 293l-2 2 0 4 1 0 1-2zM268 185l8-1 4-2 1-2-8-1zM62 34l-1-1-1 1-3 0-13 5 4 2 2-1 5 0 5-3zM215 136l-3 1-13 0-5 2 6 3 4 0 9-3zM203 196l1 8 5 1-2-3-2-7zM196 98l5 7 2 1 3-1 0-2zM49 138l-1 10 2 1 2-7zM0 319l0 7 1 0 2-5zM2 329l2 4 3 0-2-3zM33 90l-8 3 0 1 6-2 1 1-1 2 1 1 0-5zM0 141l0 3 1 1zM48 137l-2 0-1 3 1 1 0 7 1 0 0-4 1-1zM265 232l2 6 4 4 0-4-2-3zM0 225l0 5 5 1zM202 112l2 3-2 5 1 0 2-3 9 11-4-8-3-4zM194 110l1 1 2 0-2 0zM63 1l-4-1-7 4-2 0 0 1 2 2 2 0 6-3z"/>
<path fill="#ffccf6" stroke="#ffccf6" d="M228 266l-2 9 4 9 1 0 2-7zM272 195l-3-3-5 3-2 0 0 1 2 1 1-1zM221 5l-9 4 8-1zM110 17l-6 2-1 3zM80 121l-1 3 2 3 0 2 2 1 2-2 0-2zM307 169l4 7 0 2 3 4 1-1-1-1 0-4-4-6zM132 98l10-2 0-1-8 0zM310 2l-9 5 3 1 5-3zM13 239l12 13-3-8-5-5zM86 206l-3-2-7 1-5 5 12-4zM21 284l1 5 7 5zM275 166l3 3 5 2-1-3-3-3zM271 197l-1-1-7 2-1 1 0 3 7-2zM21 151l2 5 6 6-1-7-4-4zM275 56l2 3 6 0 1 1 2-1-7-2-3-2z"/>
<path fill="#5500ff" stroke="#5500ff" d="M230 10l-4 0-4 3 1 1 4 0zM263 52l6-1-5 0zM238 45l3 1 8 0 5-3-7 0-2-1-5 3z"/>
<path fill="#ffff00" stroke="#ffff00" d="M188 74l13 6-9-5-3 0zM63 176l-5 0-8 5 7-1zM16 274l3 0-2-1zM179 65l2 6 2 2 3 0-5-4zM292 210l8-3-8 1zM305 173l-1 1 1 4 1 1 3 0 1-1zM283 200l2 8 1-3zM321 224l4 1 4-3-5-1-1-2-2 3zM17 275l4 4 0-1zM271 59l0 1 7 3 0-3-2-1zM169 160l7 3 14-4-1-1-6 0-6-2zM319 50l-4-1-9 3 9 0zM207 104l7 6 3 1-5-6zM58 235l2 2 1-1 3 0 1 1 2-3zM221 267l-2 10 3 1 1-6zM77 232l0 7 4 8 0-3 3-2 0-2-3-1zM118 284l-6 3 1 1 1 9-1-5 5-2 0-3 1-1zM331 45l-3 0-4 2 0 1 4 2 3-3zM0 272l0 1 5 4 2-1 0-1-5-3zM79 174l-4 0-6 6-5 3 3 1 4-2 8-6zM306 34l1 2 3 0 2-1 0-3-4-1z"/>
<path fill="#66b2ff" stroke="#66b2ff" d="M203 58l3 5 8 4-3-5zM211 164l4 2 9-1zM41 5l-12 2 2 3 4-3zM46 42l-10 3 1-1 6 0zM65 58l0 6 4 5 0-4-3-7zM213 329l0 4 5 0-2-3z"/>
<path fill="#ffe666" stroke="#ffe666" d="M73 252l1 4 4 4 0-5-2-3zM222 56l3 5 1 0 2-3 3-1-5-1-1 2-2-3zM153 166l10 0 2 1-3-3-6 0zM68 255l0 4 4 4 2 4-1-9zM58 126l0 5 2 6 0-10zM88 254l-5 0-1-1-3 3 3 7 1-1 0-6 1-1 1 1zM55 142l-1 1 0 4 2 7 0-3 2-3 0-2zM68 147l-5 1-1 3 3 0zM216 254l1 2-1 7 1 2 4 0-1-2 0-5zM88 265l0 1 2 0zM84 256l-1 10 3 7 0-12zM42 269l1 3 4 4 0-4-3-3zM180 251l-4 1-2 4 1 3 0 8 4 2 0-5 1-1zM323 215l1 2 3 0 1-1-1-1zM317 214l3 8 1-7-1-1zM85 241l13-1-2-1-10 0zM82 219l5-1 0-2-4 0zM193 235l1 6 2 3 1-1 0-4-1-2z"/>
<path fill="#33bbff" stroke="#33bbff" d="M121 152l-4 1-5 5 2 1 5-1zM277 190l-7 2 2 2 3 0 2-1zM51 69l-3-1-5 3-2 0-3 4 3 0zM249 300l1 1 0 3 2 1-2-5zM116 276l-7 3 0 1 2 1 6-2zM125 137l-3-1-2 3 3 0zM53 227l0 3 2 4 0-2 4-3-3 0-1 1zM46 24l-17 8 10-1zM42 114l1 10 3 4-4-11z"/>
<path fill="#d4ccff" stroke="#d4ccff" d="M333 4l-5 4 5-1zM188 174l10 2 3-4-8-1z"/>
<path fill="#80ff00" stroke="#80ff00" d="M116 191l-4-3-6 2-1 2 0 5 5 0 4-2zM90 300l3 14 2 2 4 1 1-2-6-12zM303 8l-3 0-5 5 4-1 4-3zM116 135l-3 0-7 3 10-2zM208 93l8 8 0-2z"/>
<path fill="#ff8000" stroke="#ff8000" d="M233 40l2 1 5 0 5-2zM279 20l4-1-3 0zM218 19l-15 5 11-1 4-2zM174 142l5 3 3-1 0-2zM310 166l-1 2 6 9 1 0 0-6-1-2zM248 7l9-2-6 0-3 1zM305 203l-1-1-3 0-5 2 0 1 1-1 7 0zM126 267l-4 4-9 2 1 1 7 0 1 1zM205 33l-1-1-4 3 0 2 2-2 2 0zM194 29l2 3 0-2zM144 158l-4 0-1 2-4 1 3 5 4-1 1-2 3 0zM156 301l-1 7 1-1z"/>
<path fill="#bbff33" stroke="#bbff33" d="M332 45l0 2 1 0zM174 45l5 3 5 5-1-5-5-3zM136 87l0 3 6 0 1 2 3 2-1-7-1-1-4-1zM157 79l2 5 5 6-2-5zM204 107l4 4 2 0-4-4zM286 231l4 13 4 3 1-4-8-12zM257 217l-1 2 4 3zM333 12l-2 0-9 6zM124 14l1 6-5 3 6 5 5-5 2 2 1-1 0-4-8-6zM113 106l-5 3 1-1 3 0zM273 288l0 7 6 10 1 5 2 1 0-5-2-7-4-8z"/>
<path fill="#e5ff66" stroke="#e5ff66" d="M271 45l5 2 10-2zM87 135l-5 1-4 7 7-3 2-3zM74 257l4 7 0 2 0-4zM250 167l-1-1-4 0-9 3 5 0 1-1zM295 6l-8 0-7 6 9 0 6-4z"/>
<path fill="#ffcce6" stroke="#ffcce6" d="M333 48l-2 0-2 2 3 0zM306 36l-10 0-1 1-4 0-7 2 13 2 9-4zM306 224l0 5 2 6 0-8zM227 207l1 12 0-9z"/>
<path fill="#7733ff" stroke="#7733ff" d="M176 40l7 4-3-4zM232 67l6 9 3 2-4-7 5-5-3 2-2 0-2 2zM81 162l-5-1-5 5 3-2zM237 84l2 2 2 6 0-3-2-4zM149 292l-1 1 1 0zM194 13l-4-2-5 3-4 4 10-1zM264 106l2 5 3 4 1 0-1-3z"/>
<path fill="#ddff33" stroke="#ddff33" d="M158 28l3 9 3 3 4 0-3-5zM306 59l-1-1-1 1-3 0-5 3 1 1zM305 216l1 2 0 5 2 1 1-1 0-5zM24 36l-2 0-7 3-3 0 2 0 3 2 4 0 4-2zM35 229l1 5 3 2 0-2z"/>
<path fill="#8000ff" stroke="#8000ff" d="M225 53l0 2 1 0 0-2zM218 52l1 3 4 5zM176 50l2 1 4 5 1-1-3-4zM81 25l-4 0-1-1-3 2-2 0-8 4-1 3 1 1 10-1zM185 2l-9 1-1 1 0 6 9-6zM228 67l7 6-4-5zM232 66l2 2 0-1zM263 89l7-2-5-1-2 1zM181 40l2 3 3 2-2-4zM223 78l2 3 9 4-3-5-3 0zM259 17l0 1 2 1 11 0 1-1-8-3zM206 10l-6 1-6 6zM151 51l1 2 4 2 4 0-1-2-4 0zM235 14l7 1 4-2-9 0zM213 159l-4-2-9 3 10 0zM250 79l1 2 0 5 3 6 3 0 0-4-2-5zM257 53l-3 0-4 2z"/>
<path fill="#ffcc66" stroke="#ffcc66" d="M290 197l1 5 2-2 4-1-3-2-2 1zM122 78l0 6 1 2 1 0 0-5-1-3z"/>
<path fill="#ffbb33" stroke="#ffbb33" d="M234 9l5 2 5-2zM194 46l2 5 0 3 6 4-2-6zM104 319l4 6 1 5 3-7-4-3z"/>
<path fill="#e666ff" stroke="#e666ff" d="M27 333l5 0-2-2zM88 142l-2-2-6 3-2 4 6 1 3-3zM30 295l5 4 6 2-4-5zM199 195l-2 1 1 3zM192 190l0 3 14-1-8-3-5 0zM314 214l0 10 4 2 0-3 1-1-3-8zM303 331l0 2 7 0-2-4-3 0zM277 291l4 8 2 7 0 6 1 0 1-11-2-5zM64 317l9 7-5-6zM75 309l-1 2 2 3 3 1z"/>
<path fill="#ccffee" stroke="#ccffee" d="M273 37l-6 0-1 1-12 2 2 2 3 0 1-1 5 0z"/>
<path fill="#66ccff" stroke="#66ccff" d="M302 196l-7 1 4 2 2-1zM20 280l2 4 6 4-1-3-4-5zM287 171l1 6 3 2 2 0 0-2-3-5z"/>
<path fill="#b266ff" stroke="#b266ff" d="M31 301l3 6 0-4zM268 4l-3 0-9 3 7-2 4 0zM240 46l-9-1-7 6 3 1 3-2 10-3zM208 294l0 6 1 1 0 3 3-1 0-6z"/>
<path fill="#00aaff" stroke="#00aaff" d="M265 320l-2 9 1 3 2 1 1-2 0-7-1-1 0-3zM4 191l1 6 6 3zM332 321l-2 6 3 3 0-8zM2 262l3 3 1 0-1-1-1 0z"/>
<path fill="#0055ff" stroke="#0055ff" d="M236 42l-6-2-11 7 10-3 6 0z"/>
<path fill="#ffaa00" stroke="#ffaa00" d="M326 219l0 1 4 2 3-1-1-1 0-4-3 0z"/>
<path fill="#ff0055" stroke="#ff0055" d="M132 261l-6-2-1 1-13 2-1 2 17 0zM209 156l4 2 4-1zM325 101l1 2 4-2 3 0 0-3-5 0z"/>
<path fill="#aa00ff" stroke="#aa00ff" d="M241 94l1 4 2 3 3 2-1-5z"/>
<path fill="#9966ff" stroke="#9966ff" d="M224 90l1 0 9 10-1-1 0-4-2-2zM192 182l3 3 10-1-3-2zM231 100l4 5 0-3-2-2zM223 61l2 4 1 0 0-2zM214 16l-3 0-6 4z"/>
<path fill="#ffccdd" stroke="#ffccdd" d="M316 0l-2 0-3 2zM53 24l-9 6 8-4z"/>
<path fill="#3377ff" stroke="#3377ff" d="M216 17l-10 5 10-3zM279 153l3 3 0-3zM300 305l4 6 1-3zM222 18l5 0 3-3-7 0z"/>
<path fill="#d4ffcc" stroke="#d4ffcc" d="M300 31l-6 0-1 1-12 2 3-1 13 0zM326 45l-6 0-6 4 1-1 5 0z"/>
<path fill="#bb33ff" stroke="#bb33ff" d="M168 27l3 6 5 2 0-1zM234 94l0 5 3 4 2 0 0-3z"/>
<path fill="#ffcccc" stroke="#ffcccc" d="M44 58l-2 3 4 2 0-3 1-1zM290 20l-4 2-3 0 5 1 3-1z"/>
<path fill="#0080ff" stroke="#0080ff" d="M217 99l0 3 6 7 2-6-4-4zM41 130l0 5 2-1z"/>
<path fill="#ff9966" stroke="#ff9966" d="M304 169l1 3 5 5-3-7zM126 207l-5 0-2 2 0 6 6-5zM330 233l-3 7 0 4 3-1z"/>
<path fill="#ccffdd" stroke="#ccffdd" d="M174 128l9 0-2-1-6 0z"/>
<path fill="#e6ffcc" stroke="#e6ffcc" d="M288 221l2 4 5 3-1-7-3 1z"/>
<path fill="#0000ff" stroke="#0000ff" d="M232 0l3 0 1 1 8 0 3-1zM116 42l1 2 5 2 0-1-2-1 1-2zM219 19l0 2 5-1 0-1zM227 75l0 1 4 3 0-3-1-1zM233 30l0 1 12 5 2-1 3-4-1-3-9 0-4 2zM261 13l-1-1-8 0-1 1-4 0-4 2 0 1 5-2z"/>
<path fill="#ccffcc" stroke="#ccffcc" d="M0 21l2 0 2-2-4-1zM284 23l-5 0-1 1-4 0 0 1 7 0 3-1z"/>
<path fill="#eeffcc" stroke="#eeffcc" d="M253 212l1 5 2 1 0-2-2-4zM235 126l-1 1 1 3 5 5 2 0 0-3zM239 270l0 3 5 8-2-7z"/>
<path fill="#ffb266" stroke="#ffb266" d="M149 31l4 7 1-2-1-4zM294 163l2 4 2 1-2-4z"/>
<path fill="#ccd4ff" stroke="#ccd4ff" d="M314 41l-10 1 0 2 1 1 5-1z"/>
<path fill="#cc66ff" stroke="#cc66ff" d="M132 75l2 3-2 3 8-1-1-3-3-3z"/>
<path fill="#ffd4cc" stroke="#ffd4cc" d="M313 18l-2-2-4 3z"/>
</g></svg>
<svg style="position:absolute;left:169px;top:171px;filter:blur(0.35px)" width="165.5" height="166" viewBox="0 0 331 332" preserveAspectRatio="none">
<rect width="331" height="332" fill="#141450"/>
<g stroke-width="0.25" stroke-linejoin="round">
<path fill="#20c8b8" stroke="#20c8b8" d="M105 110l-8 5 4 0 4-2zM276 185l-14 4-1 2 2 0 9-5zM68 168l-7 10 3-3zM282 111l-1 1 1 2 2 0zM107 219l-1 1 1 6 4 4 4 0 0-2-3-2-1-3zM109 217l-1 2 4 3 1-3-2-2zM299 69l-1 1 0 5 1 1 1-1zM203 196l-5 4 4 2zM256 79l3 5 1 4 1 0 3-5-1-2-3-2zM171 0l2 1 0-1zM75 59l0 5 1 1 0 3 0-6-1-1zM97 149l-4 1-4 6 2-1 5 0 2-2-2-3zM293 254l-6 4 1 3 7-2 0-2zM42 268l3 6 0 2 4 2 2-3-1-3zM163 62l-9 5 7-2zM321 182l-14 10 5-1 6-3zM230 88l3 6 1-1 3 0-5-5zM237 45l2 5 0 7 3 0 1-1 0-6-3-5zM208 184l-8 1 2 6zM1 259l-1 2 13 12 1-1-6-8zM213 280l-10 1-1 1 2 1zM113 142l-1 1-10 1-4 3 1-1 1 1 5 0 3-2 2 0zM245 96l2 4 0 6 1 1 0-8zM113 223l3 1 5-3-6 1-1-2-1 0zM149 234l-2 1-1 2 4-1zM278 289l0 3-1 1 2-2zM170 201l-3-1-5 2 6 0zM234 307l-4 0-8 9 8-6 3-1zM216 201l1 2 3 2 2 0 4-3 0-1zM43 312l1 4 3 3 7 2-4-6-6-4zM25 272l6 4-1-3zM191 183l-6 1-6 4 7 0 2-1zM275 109l0 1 7 0 1 1-3-4zM276 103l1 1 1 0-1-1zM302 313l-9 2-9 6 11-4zM66 307l1 6 5 4 3 0 1 1-1-4-6-6zM123 128l-2 0-5 3-1 3 1 1 2-1zM293 250l-2 0-4 4 0 3 6-4zM58 133l-3-1-3 3-1 3 3 0 5-3zM194 183l-1 1-1 0-2 2 1-1 1 0 1-1 1 0 1-1zM110 187l-4 2 1 5 2 0 2-3 0-3zM329 222l-1 1-13 1 3 5 3 0zM219 25l0 11 1 2 1 0 1-6zM203 202l2 0 7-5-1-1-6 0-1-1zM196 189l1 4 4-1 0-2zM263 193l-2-1-10 6 6-1zM221 317l-11 6-2 2 0 2 2 0 11-7zM151 276l7 4-1-2zM172 202l-7 1-5 4 2-1 5 0 4-2zM87 101l-2 0-3 5zM61 230l2 6 3 4 2-4-5-6zM26 135l-4 0-4 4 8-3zM296 63l1 6 1 0-1-6zM31 299l1 1 0 1 1 1 0-1zM244 7l0 6 1 0zM296 95l3 3 3 7 2-1-1-4zM196 289l-10 8 3-1zM66 14l-3 5 0 2 4-6zM281 62l3 7 0 8 4-4 0-5-3-4zM190 13l-1 1 5 4 1-4-4 0zM176 245l-2 0-1 3 3-1zM171 151l5 3 5-1 3-3-10-1zM58 300l0 8 8 4-1-3 1-3-5-5zM268 70l-2 4 1 2 7 6-4-11zM229 81l1 6 3 1zM0 112l0 2 1 0 0-2zM124 105l-3 0-4 5 6-3zM63 200l-7 5 3 4 7-5zM213 203l0 1 6 1-1 0-2-3zM76 169l-5 5 2 0zM107 114l-3 0-4 2-5 5 3-2 5-1zM197 116l-5-1-1 1-10 2-2 3 1 1 6-1zM326 79l3 9 0 5 1 1 0-12-2-3zM310 133l-1 1-7 1-3 2 8-1 2-1zM195 225l-1 0-1 4 2-2zM117 229l-2 3-1-1-3 0-1 3 3 1 4-3zM221 316l-3 0-1-1-4 1-4 4 0 3zM206 204l1 5 4-1 0-3 1-1zM31 278l-1 5 2 1 5 0 0-1zM279 230l-2 0-2 2 1 5 1 0 3-4zM132 169l-1-1-8 2-2 4 4 0 6-2zM203 178l4 0 1-1-4 0zM89 100l-9 9 3-1 4-4zM71 0l1 2 0-2zM46 319l5 6 2 1 5 0-3-4-3 0zM253 241l-3 0-1 3 0 11 2 0 2-2 0-6-1-1zM44 308l0 2 8 6 0-4zM34 300l1 3 5 2-4-6zM67 168l-8 7 0 5 3-6zM236 11l0 2-2 3 0 7 2 0 0-10 1-1zM207 286l-7 1-4 3 2 1zM152 170l-3 1 0 3-1 1 4-2zM99 116l-3 0-4 4 2 1zM37 40l-1 3 1 1 0 3 1 2 2 1 1-1 0-5-2-3zM52 289l5 8 1-5zM91 196l-1 0-4 5 4-1 2-2zM38 265l-2 0-3 3 4 8zM259 123l4 0 4-3-6-1zM296 76l-1 7 1 2 6 3 0-2-3-5 0-4zM192 253l-8 1-2 2 6 1 3-1zM161 202l-2 0-4 5zM274 327l-6 1-3 2 1 1 5 0zM113 9l-6 7 0 5 1 2 1-7zM315 82l-1 4 2 2zM253 204l0 1 3 2 1-1-1-3zM73 164l-2 6 3 0 1-1 0-2zM16 3l0 8 2 3 3-3-1-1 0-5-2-2zM111 131l-2 6 5 0 1-1-1-2 1-3zM226 22l1 3 3 2-1-3zM74 133l-6 3 0 4 5-4zM306 137l-9 1-1 1 4 1zM31 300l-1 2 2 1zM129 304l-1 2 6 4 5 5-3-5zM120 105l-1 1-3 0-5 5 3 0zM201 206l-1-2-2 1zM149 39l-1-1-3 1-5 7 7-3zM99 251l2 12 2 2 3-2 2 0-7-11zM64 0l0 2 2 3 4-4 0-1zM200 41l0 1 3 2 0-3zM104 223l-1 6 3 4 3 1 1-4-4-4-1-3zM83 128l-2 0-4 3-3 4 2 0 8-4zM117 111l-1 0-1 2 1 0zM166 131l-6 1-1 3 3 0 3-2zM23 301l4 6 3 1 0-5-4-2zM161 66l-3 3 3-2zM46 21l0 3-1 1 2 3 2 1 1-3zM103 140l3 1 8-3-6 0-3 2zM11 224l8 7-4-4-2-4zM197 228l2 1 0-2zM115 63l-4 2-2 7 5-4zM194 199l0 3 2 3 5-2zM164 163l-1-1-6 4-1 2 2 1 5 0 1-1zM227 18l0 3 2 2 0-4zM200 181l-2 2 1 2 1-1zM215 24l-1 5 6 11-2-4 0-12zM274 233l-3 0-1 1 0 5 5-3zM297 215l-4 1 0 1 2 0zM226 24l-1 2 2 1zM73 274l3 3 0-1zM231 133l-2 1-5 0-6 4 1-1 10-1zM140 42l-5 4 1 1zM124 107l-7 5 6-3zM203 194l-1-1-6 1-3 4 5 1 2-1zM108 308l3 4 4 0-4-5zM242 8l1 5 0-5zM243 95l-1 12 1 1 0 3 3 1-1-1 1-11zM305 92l2 6 0 7 1 2 1-1 0-7zM24 273l5 9 2-5-5-4zM272 183l-5-1-7 3 1 2zM324 124l-7 1-3 2-2 0 6 0zM220 24l4 1 1-3-3 0zM39 265l0 5 2 4 4 4-3-9zM328 123l-9 4 4 0zM67 174l-5 4 2 1zM164 69l-8 2-5 4 3 3 2-3zM2 115l-2 0 0 3zM248 247l0 2-3 4 0 4 3-2zM250 237l-4 6-1 8-1 1 1 0 2-3 3-9zM244 42l-1 2 0 5 1 1 0 3 1 0 2-2 0-2zM35 62l1 4 1 0-1-4zM74 54l2 7 1 0-1-5zM246 107l0 4 1 2 1 0-1-1 0-5zM233 8l-2 2 0 6 2 2 0-2 2-3 0-3z"/>
<path fill="#3a55ee" stroke="#3a55ee" d="M59 12l-1 6 2 3 0-8zM181 320l-2 0-1 3 3-2zM244 150l-2 1-9 0-2 3 6 3 5-3zM65 228l0 3 3 4 5 3-3-7zM60 250l2 5 5 1-4-7zM133 138l-8 5 5-1zM223 141l-4 1-1 3zM0 313l0 1 5 1 3 2-4-3zM109 34l0 4 2 4 2-1 0-1zM90 173l-4 0-4 2 0 3 5-2zM282 141l-8 1 1 1 6 0zM241 70l6 10-1-4-3-5zM131 135l-3-4-4 6zM187 266l-2-1-9 7 5-3 5-1zM62 52l0 9 2 4 0-12zM25 71l-1 3 1 1 0 3 5 7 0-15zM90 87l-5 4 0 2 5-4zM290 110l-1 4 2 3 0 2 1 0 0-7zM304 66l-2 2 1 3 4 3-1-1 0-4zM304 256l-4-1-2 4 2 1zM330 186l-4 3 4-1zM330 277l-4 3-1 6 4 0 1-1zM318 286l-1 1 0 2 1-1zM221 174l-3 0-5 3 8 2zM70 229l4 9 10 6-3-5zM326 317l0 10 3-6 0-2zM257 328l-11 3 6 0zM272 227l-6 0-1 2 1 0 3 4 0-2zM163 89l-1-1-9 5-5 1-4 3 3 1 1-1 1 1 2-2 12-5zM174 69l-10 7-5 6 5 3 9-8zM214 186l6 4 4-1-2-4-6 0zM116 305l-1 1 5 4 2-3-2-2zM82 283l0 4 5-1zM90 188l4 1 2-2-6 0zM103 84l-3-1-8 9 5 0 5-4zM330 110l-2-1 0 1-5 3 0 1 3 0 4-2zM34 28l1 1 0 3 3 2 0-4zM265 46l1 3 2 0 0-3zM148 206l-2-1-3 3 2 0zM316 121l-3 0-5 3 6-1zM300 222l-4 2-3 4 5-2 2-2zM59 170l-2 0-3 2 4 5 0-2 2-2zM99 241l0 1 5 4-2-4zM55 327l3 3 5 1-3-4zM154 139l-10 1-5 2 3 1 1-1 8 0 2-1zM189 55l-2 4 0 6 2-3zM303 193l-3-1-5 2-1 2 5 0zM195 131l-1-1-3 0-5 5 6 1zM118 80l-6 0-2 1-2 6 1 1 5-1 2-2 0-2zM215 161l-8 4 1 1 3 0zM33 119l-3 0-1-1-2 1 1 8 5-5zM69 9l-2 2 0 3 2-3zM104 209l-2-1-1 1-3 0-4 2-4 5 12-4zM243 35l-1 0-3 4 1 5 2 3zM258 57l-2 1 0 2 2 3 2 1 3-2 0-2-2-3zM91 184l0 2 4 0-2-2zM301 235l-1 1-2 0 2 0zM306 232l-1 1 1 5 2 1 0-6zM6 0l-3 0 0 3zM293 45l1 3 4 5 1 4 1 0 1-3-1-3-4-5zM87 81l-6 4 3 0zM29 169l-2 1-2 3 2 0 3-2zM220 191l-6-4-3 8 2 1 3-2 3 0zM219 287l-1-1-3 0-11 5 1 2zM215 290l-9 4 9-1zM179 56l-2 1 2 0zM183 52l-1 3 1 4 0-3 1-1zM311 308l-2 3-6 2 0 4-1 1 7-2zM306 67l1 3 5 5 2 0 2 2-5-10zM189 245l1 3 5 0 1-2-2-1zM195 46l0 8 2 4 0 6 2-3 0-4-1-1 0-6-2-4zM288 225l-3 2-3 5 0 2 6-5zM95 88l-3 0-7 7 5-2zM271 277l0-4-6 2zM113 262l0 1 6 3-3-4zM279 178l-6-2-3 1-2 4 7-1zM22 69l-7 1 0 3 7-3zM183 310l-1 1 1 0 1-1zM30 37l2 4-1-4zM139 141l5-2 10-1-10-2-5 2zM141 322l2 3 3 1 6-1-2 0-8-5zM224 157l-5 0-3 1-1 2 1 1zM219 166l-6-1-2 2 0 4 5-4zM247 91l-2 4 3 3 1-1 0-3zM161 223l-3-1-6 5 9-3zM179 310l-2 0-1 2 2 0zM316 14l-3 5 0 3 2 2 1 0 0-3 1-1 0-5zM320 205l-10 6 9-1 2-1zM89 217l-5 0-5 3-4 1-1 2 1 2 4-2 2-3 3 0 1 1zM132 50l-5 3 0 3zM272 8l2 4 2-1 0-3zM291 316l-9 1-3 2 0 2 4 0zM37 175l-5 2-2 2 1 1 3 0 3-3zM287 0l2 3 2 1 0-3-1-1zM64 83l-7 4-6 9 2-1zM305 53l1 1 0 12 5 0-1-9zM97 108l-6 4 3 1 3-2zM147 68l-6 3 2 0 4-2zM27 308l-3 4 6 4-2-8zM75 186l-3-1-3 4 2 0zM234 303l4 0 1-1 4 0 6-2-14-1-2 1zM94 35l-1 6 3 1 0-4-1-3zM265 44l1 1 2 0-1-1zM130 61l-4 2-2 5 3-1zM280 269l-5 7 0 4 5-7zM29 101l0 2-1 1 0 2 0-2 1-1zM135 47l-3 0-6 4 1 1zM58 178l-3 2-1 3-3 3 7-6zM140 298l3 3 3 1 8 10-2-9-6-4zM129 327l2 4 5 0-1-2zM170 209l-3-1-7 5 3 2 3 0 2-1zM0 315l0 2 6 0zM90 61l-3 1-3 4-1 4 4-3zM330 324l-2 7 2 0zM84 86l-4 0-4 2 0 1 3 1zM133 239l-14 1-2 2 3 4 2-2 5 4 2-3 0-3zM176 74l-1 5 3 1 1 2-4 2 0 3 5 0 6-4 1-3-3 2-4-5zM229 219l-1 2 7 8 2-4-6-6zM82 53l-1 0 0 7 1 2-5 7 9-8 0-1-3-1 1-1 0-3zM135 227l-8 3 5 0zM125 277l-1 1 6 8 2 0-4-7zM176 217l5 0 1-1zM70 227l10 9-1-2zM88 188l-1 0-1 2 1 0zM252 256l1 3 3 0 1-1 5 1 1-1-2-1-1-5-6 0zM19 109l-4 1-2 3zM12 116l-3 1-2 5-2 2 0 2 8-6 0-3zM47 186l-13 7 10 0 3-5zM36 19l-2 8 5 2 1-2zM245 229l-1-1-2 3zM282 0l0 3 4 5 0-2zM275 144l-2-2-4 2zM221 59l0 6 1 2 4 3 1-3zM138 267l0 4 4 2zM60 0l-3 0 0 3 1 0zM301 27l3 10-1-9zM93 276l1 3 2-1zM90 247l5 6 5 10-2-12zM208 183l3 1 8-4-4-2-4 0-2 1zM190 55l0 7 2 2 0-6zM240 144l-2-1-7 2-6 0-2 1-1 3 11 0 6-3zM104 93l-2 0-4 3 4 1 2-1zM225 253l9 3 2 0 3-2-6-4-5 0-2-1 0 3zM102 282l2 6 5 3-4-4zM118 87l-7 6 3-1zM311 311l-1 7-1 1 3-3zM330 241l-3 9 2 3 1 0zM199 230l1 2 3 0 3-3-6 0zM182 255l-3 0-2 2-3 0-1-1 0 1 3 3 2-4 1 1zM248 313l-7 5 1 1 6-1zM94 4l-1 0-3 4 0 4 2 5zM326 91l0 6 3 6 1 0 0-8zM193 82l-5 0-3 2-2 3 9-1 1-1zM188 75l-1 1 0 3 3 0zM8 238l2 5 2 2 4 0-5-7zM93 258l2 10 9 0-3-4zM105 202l-4-2-9 7 1 4 6-3 4-3zM261 330l-2-1-2 2 4 0zM300 281l-5 3 0 2 3 2zM241 136l-12 2 4 1 6-3zM126 291l2 4 4 1zM161 179l-1-1-6 2-2 3 5-1zM44 228l2 5 5 0 1 1-2-3zM167 183l-6 1-3 4 2 1zM32 236l8 7 0-2-3-4-4 0zM186 231l1 2 5-1 0-2-4-1zM303 211l2 2 5-3-6 0zM254 63l-2 2 3 1 0-3zM105 103l1 2 9-4-7 0zM322 130l-2-1-6 2-4 3 9-2zM169 138l-6 3-1 2 4-1zM145 275l1 2 8 4-6-6zM293 124l-3-1-3 2 1 1zM289 119l0 2 2-1zM106 2l-1 0 0 3-2 4 1 2 2-1 0-3 1-1zM48 194l-3 0-9 7 1 2 8-4zM170 316l-7 3-2 4 7-4zM316 331l-2-2-4 1 0 1zM322 324l-4 7 2 0 2-2zM97 322l1 3 5 6-2-6zM119 94l-1-1-8 7 7 0 2-3zM7 8l-1 0-1 3 0 6 2-5zM127 113l-9 8 8-2zM184 136l-1 1-4 0-1 2 5 1zM215 85l-1 2 6 4-2-6-1-1zM311 107l-1 1-1 0 1 0 1-1 2 0zM297 104l1 1 0 5 2 6 1-10zM225 96l0 4 2 2 2-2zM109 128l-15 13 3 0 6-4 6-6zM282 145l-1-1-4 2zM31 189l-2 0-10 7 0 2 2 1 10-5zM75 109l-7 3 2 4 2 0 2-2 0-4zM315 308l-3 2 1 6 1 0 0-6zM168 289l4 6 2-1zM145 135l3 0 6-3-6-1zM318 281l-4-3-2 1-1 5 6-1zM29 309l2 6 1-4-1-2zM192 180l-1 1-2 0-1 1-1 0-1 1 1 0 1-1 1 0 1-1 1 0zM36 200l-10 2-5 4 3 0zM171 311l-3 0-4 3 0 3 5-3zM272 1l0 6 3 0-1-7zM215 309l0 1 1 0 0-1zM35 164l-5 5 1 1zM320 236l-3 3-3 9 4 10 2-1 0-11 1-1 0-7zM197 176l-4 2 4 0zM80 147l-8 8 1 1zM54 29l-1 1 0 4 1 1 0 10 1 1 1-2 0-12zM168 2l-1 1 0 4-2 6 1-1 2 1-1-1 2-1 0-7zM302 205l-3-3-4 3 0 2 3 0zM307 71l1 5 3 2-1-4zM135 74l-3 1-6 8 1 0zM173 277l6 5-1-2zM181 276l-2 1 2 0zM239 239l-1 2-4 3 6 3 2-5zM101 68l-4-1-4 7 3 0zM168 14l-1 2 0 7 0-2 2-3 0-3zM3 69l0 2 2 2zM5 74l-3 3 1 2 2-1zM261 25l-1 2 0 6 1 1 1-2 0-6zM23 207l-3 0-2 2-2-1 0 1 2 2 4-2zM21 12l-2 2-1 5 1 1 0 6 3 7 0-4-1-1 1-3 0-10zM37 0l-4 0 0 3-2 4zM285 266l-4 4 0 5 4-6zM243 64l-1 5 1 1 5-1-1-1 0-4zM282 37l-2 1 1 3 1 0zM330 159l-2 0-4 2 1 2 5 0zM330 181l0-2-2 1zM73 23l-3 2 0 3 2 6 1 1 3 0-2-4zM38 0l-7 8 4 13 1-9 3-4 0-7zM11 248l7 6-4-5zM156 253l0 1 10 0 1 1-2-3zM7 144l-6 2-1 3zM302 14l1 6 1 0zM27 282l1 2-1 8 1 1 2-3 0-6zM13 286l2 2 6 1-2-3zM311 0l1 8 2 3 3 2-1-4-5-7zM157 37l-9 6 1 1zM44 261l3 5 5 4 1-3-2-3zM99 311l3 6 5 3 4 1-7-9-4 0zM155 194l-2 0-2 6 2-1zM130 242l11 7-5-8 0-2-2 0zM82 137l-3 1-5 4 1 1 2-2 5-2zM221 66l-2 3 0 3 2 0 1-3zM29 299l0 1 1 0 0-1zM142 169l-9 2-1 2 6 0zM146 199l-3 0-3 5 0 4 2 0 5-5 1-2zM144 253l0 4 3 5 5 2-1-2 3-2-1-1-2 2zM113 317l1 3 6 1-1-2zM299 48l4 8 1 9 1 1 0-12-1-2zM173 59l-8 2-2 3zM327 211l-5-2-4 3-1 3 6 0 4-2zM92 68l-9 6-1 2 2 1 3-2zM96 27l-2 7 2-1zM178 208l0 1 3 2 6 0-1-3-2-1zM48 228l1 2 2 0zM224 95l-1 2 1 3zM120 290l1 5 1 0 0-4zM64 269l7 10 2 1-5-8zM148 74l-4 3 2 0zM90 275l3 4-1-3zM3 313l6 4 4 0 0-1-3-2zM225 249l-4-1-13 4 13 0 3 1 1-1zM142 65l-3-1-3 4 1 1zM191 90l12-1-5-3-5 0zM302 307l-10 1-3 1-3 3zM15 241l3 5 3 0 1 1-3-4zM321 141l1 2 8-1 0-2-2-1-4 0zM51 40l-3 1 2 5 0 6 3-7zM248 173l-15 4 2 2 1-1 3 0 9-3zM54 237l4 9-1-9zM16 296l3 4 2 1 2-1-1-2zM179 214l6 2 3-2 1-2-9 0zM51 173l-2 4 3 2 4 0 1-3-4-4zM63 216l2 4 1 0 5 6 1-2-2-3 4-3-5 0-2 1zM55 9l-4 6 0 5 4 4 0-4-1-1zM269 288l-1-1-4 1-4 4 7-1zM103 275l2 5 4 4 8 3-12-13zM51 116l-2-1-4 2-1 2 3 1zM168 12l-2 1-2 3 0 11 2-3 0-8zM56 196l-5 4 0 1 3-1zM192 35l-2 4 0 5 1 1 4 0zM204 90l-10 1-4 6 10-5 3 0zM216 294l-11 1-4 5 3 1 5-4zM60 255l3 4 10 4 3 3-2-5-2-2zM59 292l-1 7 3 1 2-2-1-4zM176 231l-3-2-2 0-9 3 11 5 2 0 0-5zM57 81l-4 2-2 4 1 0zM53 79l0 1 2 0zM164 120l-2 0-8 5 10-3zM327 27l1 7 2 4 0-8zM4 179l-4 3 0 2zM279 0l0 2 2 0 0-2zM95 108l-8 4-4 4 2 0zM86 300l0 3-2 4 1 2 4 2 1-1 4 0-6-5zM85 33l5 6 1-3-1-3zM142 32l-8 3 0 2zM210 305l-7-3-7 5 0 1 8 1zM121 84l-1 1-3 0-5 6zM234 179l-2-2-3 0-5 3 2 2 4 0 4-2zM141 72l-2 0 1 2zM10 294l2 6 6 0-3-4zM86 62l-8 7 4-1zM311 159l2 4 1-1 3 0-3-3zM260 119l-2 0-4 3-5-2 0 1 2 1-3 2 0 2 4 0 3-2 2 0zM68 92l-12 10 2 1 5-3 4-4zM219 0l3 2 0-2zM316 0l0 7 6 0-4-7zM325 1l0 4 3 3 0-5 1-2zM325 281l-5 1-2 2 1 3zM130 157l0 1 3 0 1 1 5-1-2-4-4 0zM139 275l0 2 4 4-1-4zM4 97l1 7 0-7zM10 85l-3 1-4 5zM220 322l-4 6 2 3 2-5zM52 299l0 5 1 2 4 3 0-9zM76 314l2 3 2 1 2-1 0-1-4-3zM156 326l7 5 2 0-2-3zM18 20l-1 1 1 3zM260 288l-1-2-7 3 0 1 2 1zM277 105l-2-1-4 1 1 2-3 3 6-2zM213 308l-6 4 5-1zM108 24l-1 0 0 3-3 6 2 6 2-4zM206 20l-3 0 0 3-1 1 0 5 1 2 1 0 0-3 2-4zM282 45l2 6 1 1 3 0 0-2zM250 71l3 5 3 2 4 0 1 1-2-4-5-3zM233 156l-4-2-3 2-1 2 1-1 7 0zM300 12l-1 9 1 1 3 0zM318 26l1 5 2 3 0-3zM28 90l-3-1-2 4 4 0zM195 301l-2-1-6 2-3 2 0 2 11-4zM298 310l-14 6 14-3zM125 77l-6 3-2 4 5-1zM9 23l0 8 1 1 0 3 1 0 0-7zM230 218l8 6-3-6zM315 292l-3 4 2 4zM100 93l-1-1-3 1-6 7 7-4zM195 319l-10 5-1 2 3-2 8-2zM118 288l4 2-2-2zM23 329l4 2 5 0-1-2-5-3zM1 82l-1 1 0 1 0-1zM186 92l-1 0-5 6 3-2zM120 331l-1-1-1 1zM123 4l0 4 3 1-1-6zM131 214l5 2 4 0 1-1zM211 55l-1 11 3-2 0-3 1-1zM144 171l-2-1-4 4 2 0zM143 0l-3 2 3-1zM63 89l-4 1-4 4 6-2zM187 136l3 6 1-1 0-4zM153 152l-8 4 1 3 2-1zM173 51l-14 1-3 2 3 1 4-2 4 0zM100 179l-7 4 3 3 2 0zM108 256l1 6 3 1 0-2zM184 311l-2 1-1 2 1 0zM175 51l-8 3-4 0-3 1 0 1 6 0 6-3 2 0zM269 96l0 3 2 3 0 2 3-1zM104 299l-1 3 6 3 3 0 0-2-5-6zM223 184l2 4 2-2zM92 47l-4 5 1 1-1 2 3-2zM230 273l-1-1-11 6 6 0 5-3zM142 163l-2-1-8 3-1 2 9-2zM301 180l-1 1-3 0-1 4 2-1zM267 3l0 6 1-3zM268 170l-7 4-2 0 1 3zM30 238l-1 1 6 5-2-6zM227 300l-2-1-8 5 3-2zM164 92l-11 4-4 3-1-1-3 4 3 0 6-5zM267 281l0 2 4 1-1-3zM14 208l-1 1 0 4 3 4 4 2 0-2-2-3 4-4-4 2zM82 83l-9 3-1 3 7-3zM68 158l-3 2-1 2 2 1zM247 130l-6 3-2 0 0 1 5 0zM195 234l-3-1-5 1-6 4 1 1 1-1 4 0zM252 41l2 4 1-4zM164 97l-4 0-5 3 1 4zM6 1l-2 2 2 4 1 0zM16 294l2 2 2 0 3 2 0-3-1-1-4 0-1-1zM186 318l-2-1-3 2 2 1zM81 218l-7 1-2 1-1 2 3 2-1-2 2-2zM304 269l0 2-2 3 2 0 1-2zM87 119l-6 5 5-3zM144 146l-2-1-2 4zM270 171l-1-1-8 7 8 0 1-1zM205 82l-1 1 4 4zM201 240l-5 0-5 4 6 1 4-3zM267 311l-10 2-6 4 12 0 4-4zM58 30l-1 15 2 0 0-4 2-5 0-3zM31 272l1 3 1-2zM47 200l-5 4-3 1 0 1 4-3 4 0-1-1zM84 315l1 3 3 0 1 1zM88 280l0 2 2 3 0-2zM157 285l1 2 4 1 7 4-1-2-5-4-5-2zM82 256l5 12 1-1 0-6zM129 197l9 0 2-1 2-4-9 0zM20 237l2 3 5 3 1-1-2-3zM277 43l0 2 2 2 1-4zM51 158l-1-1-11 8-5 7 6-4zM33 27l-2 6 0 3 2 5 0-5-1-1 0-6zM35 99l-1 1 1 2 4 2 2-3-1-2zM98 229l-1 2 1 4 6 3-3-3zM142 319l2 2 9 4-1-2-2 0zM234 24l-1 3 2 3 0 2 2-1-1-2 0-5zM121 48l-11 6 2 1 4-1zM215 311l-6 2-1 2 7-3zM326 137l0 1 4 0 0-1zM281 233l-4 5-1 6 5-1 0-5 1-1zM273 192l2 0 4 3 4 0 0-4-1-1-4 0zM297 331l5 0 2-1-5 0zM212 152l-4 0-5 3 0 5 2 2 1-2 7-6zM294 186l-10 1-2 2 1 1 5 0 6-2zM221 150l-4 2-1 5 2 0 3-2zM287 175l-5-2-7 3 6 2zM14 316l0 3 3 5 0 2 3 2 3 0 1-1-4-5-2-5zM204 320l-5 2-2 2 6-2zM103 1l-2 1 0 9 3-6 0-3zM163 172l-3 5 1 1 2 0 2-3zM38 91l-4 0-2 4 6-2zM163 198l-3 0-2 3 4-1zM218 284l-8 1-7 4 3 0zM238 0l3 6 2 1 1-1-1-6zM243 139l-4 2-8 1-4 2 10-1 3-1zM215 53l-1 5 6 5-1-8-2-2zM116 190l-2-1-4 5 5-2zM210 167l-2 0-3 5 5-1zM215 308l-1 0 0 1zM288 309l-8 1-2 4 7-2zM132 177l5 0 2-2-6-1-2 1zM98 25l-1 1 0 5zM297 163l-10 2-3 2-2 5zM124 67l-2-2-2 1-1 2 4 0zM193 177l-4 1 1 1zM8 63l-1 1 0 4 1 3 2 0 1-7zM206 82l3 6 4-1-5-6zM144 1l-4 2-1 3zM328 130l2 1 0-2zM164 286l9 6-1-4-6-3zM302 265l-1 5 2-4zM266 206l-2 2-1 4 5 1 2-3-1-3zM165 74l-2-2-2 0-6 5-2 5 6-1zM208 72l-2 2 0 4 5 5 0-9-1-2zM330 202l-9 3 1 3 5 2 3-2zM117 25l-1 1 0 8 2 1 4-3 0-4-1-2-3 0zM241 264l-7 1-1 1 3 0zM161 289l5 6 2-1 0-2zM265 246l-3 3-1 4 1 1 0 3 2 0 3 2 1-1 0-6 1-2-1-2zM64 159l-1-1-1 1-4 0-4 4-1 4 6-3 2 0 3-3zM322 34l1 8 1-1 0-3zM63 295l1 2 5 1-2-3zM313 203l-4 0-4 2 5 0 3-1zM311 278l0-4-7 2 3 3zM139 267l5 5 4 2-8-8zM162 215l-4-1-6 4 6 2zM291 122l-2 0-3-5 0 4-4 2 0 1 5 0zM111 306l5 7 3-1-6-7zM187 320l-5 3 2 0zM244 263l-1 1-1 0-1 1 1-1 2 0 1-1zM215 0l1 6 2 1 1-3-2-4zM252 111l0 1 6 2-1-3zM19 233l1 3 8 3-7-6zM7 0l3 0 1 1 0-1zM26 170l-8 5 5-1zM77 99l-2-2-7 5-1 4 2 1 3-2zM245 264l18-3-7 0-5 2-1-1 2-2 0-1-1 0zM151 218l-4-1-4 4-1 4 5-3zM120 165l0 2 2 2 9-3 0-1-5 0-1-1zM148 313l1 2 3 2 5 1 1-3-5-3zM137 101l-3 1-3 4zM249 317l5-3-5 0zM19 52l0 7 1 1-1 3 3 4 0-8zM183 327l-5 1-3 2-2-2 0 2 1 1 5 0zM17 255l-1 3 5 7-1-1 0-6-1-2zM94 105l-6 6 7-4zM283 301l3 5 8-2-6-4-4 0zM206 101l-3-1-2 2-14 6 0 1 6 0 6-2zM326 98l-2 1 2 4 1 5 2 0 0-3zM89 0l-3 0-1 2 1 1zM86 187l-1-1-6 4 1 1 5-1zM304 73l2 5 3 2 0-2-2-3zM290 282l-5 1-1 2 3 1zM270 43l2 4 3 0-1-2zM139 2l-3 4 3-1zM258 268l2 1 5 0 3-2 2 0 0-1-5-4-2 0zM268 259l0 1 1 0 1 1 0 1 0-1zM236 257l0 1 2 1 4 0-1-2zM82 69l-5 2 0 3 1 1 3 0 2-3zM317 284l-4 7 0 3 3-5zM127 35l-4 2-1-1 0-3-6 4 1 3-3 2-1 3 5-5zM0 209l5 4-3-5zM317 180l-4 0-6 3-6 5 2 1zM141 143l-3 0-4 5 0 5 6-5 2-4zM48 220l9 5 4 4-4-6zM259 101l-1 2 5 6 2-4zM112 249l3 6 1 0-1-4zM246 230l-4 2-6-1-1 2 1 1 2-1 1 1-1 1 1 2 2-1zM279 254l-3 2 0 8 1 1 3-1 0-9zM130 176l-7 2-2 4 3 0zM34 101l-1 0-3 4 2-1zM32 194l5 5 7-5zM297 236l-6 2 0 2 3 2 2 4 2-1 0-8zM237 235l-5 2-1 4-1 1-1-1 0 1 6 1 3-4zM328 192l-1-2-2-1-3 1-3 3 2 0 3 2zM58 187l-7 4-2 3 4-1zM66 318l4 3 4 5 0-3-2-3zM197 79l-2 4-1-1 0 3 4-1 3 2-1-4-2-3zM204 99l-2-2-10 6-4 4zM55 263l0 3 8 3-3-5-2 0-2-2zM207 210l0 1 3 2 2-1-3-2zM76 73l-4 6 5-3zM138 154l2 4 4-2 0-1-2-1zM139 273l1 2 3 2 2 0zM275 30l2 6 2 2 3-2 0-3-5-3zM12 279l1 2 8 5 0-2-2-3zM224 160l-4 2 4 0zM50 130l-2-1-7 8 4-2zM148 136l8 1 2-1-1-2-5 0zM212 37l5 7 1-4zM12 203l3 5 1-2zM19 200l-1 1-1 0 1 0zM44 145l-4 2-1 2 4-2zM186 217l-7 1 0 2 5-3zM184 246l-2 1-3 4 1-1 3 0zM141 94l-3 1-2 3zM18 50l-1 0 0 8 1-1zM228 104l-1 3 5 9 0 2 0-9zM110 89l-2-1-3 4zM48 63l-1 0-1 6 1 1 0 12 3-7 0-6zM132 0l1 1 0-1zM238 268l-6 1 0 1 3 0zM164 13l-3 1 0 4 2 4zM228 68l-2 3 2 5 1 0 1-5-1-3zM0 75l0 4 1-1zM75 0l-2 2 0 3 2 2 2 5-1-6 2-6zM287 260l-1 9-4 7 7-6zM327 150l-1-1-5 0-8 3zM150 150l-3-2-2 3zM28 95l4-2-4 0 1 1zM89 267l-1 1 0 5 3 2 3 0 0-2-4-3zM267 159l-9 1-2 3 1 1zM149 23l-2 2 1 1-4 3-2 4 1 1 5-4 0-2 2-3zM181 330l-1 1 1 0zM275 265l-4 5 1 3 5-7zM260 189l-9 5 1-1 7-1zM207 123l-3 0-5 4-5 2 2 2 9-2zM159 316l-1 0 0 1zM144 312l1 3 3 3 7 2-1-2-2 0-3-2-3-4zM175 168l12-2-10-1zM294 13l1 6 1-2zM111 197l3 2 0-2zM262 3l0 3 3 8 1-3-1-1 0-3zM206 27l-1 1 0 3 2 1zM186 301l-7 3-1 3 2-2 5-2zM197 175l3-1-3 0zM25 174l-3 1-3 3zM51 256l-1 5 2 4 2 1 0-3 1-1zM226 72l-2 3 0 3 3-2zM84 32l0 12-2 4 0 4 2 1 0-3 3-7-1-7zM313 317l-4 3 0 3 3-2zM64 28l1 6-2 6 0 11 1 0 0-7 3-7zM274 148l-4 1-4 3 5-1zM278 301l-9 6-1 4 11-1 0-7zM38 232l5 4 3 1 1-2-3-2zM187 268l-11 5 1-1 7 0 4-2zM75 174l-2 1-5 6 2-1 2 1 3-4zM48 203l0 1 1 0 0-1zM53 201l-1 0 0 1zM196 235l-2 0-6 3 0 2 2 0 6-3zM52 134l-6 1-9 5 5 0 7-2zM208 113l-1 1-5 0-3 2 2 2 2 0zM165 258l0 1 2 1-1-2zM155 256l9 0 1-1-10 0zM215 36l0 2 2 1zM274 277l-2 0-3 3 2 1 1 4 2-3zM194 46l-2 4 1 1 0 5 1-1zM122 277l3 6 4 2zM106 249l2 6 4 5 1-3zM54 269l-1 2 4 3 6 7 0-6zM166 110l-2 0-6 5-3 1-2 2 0 2 7-1zM258 153l3 1 5-3-4 0-1-1-2 1zM177 134l-3 1-1 2 0 6 5-5 0-3zM177 284l-1 3 5 5 2-3 0-2-1 1zM279 127l3 3 3 0 2-4zM1 306l2 2 2-1 6 0 1-1 0-3-6-2zM189 198l-2-2-5 6 5 0zM81 318l3 3 0-3-1-1zM248 269l0 3 4 2 3 0 6-3 0-1-2-1zM6 106l-2 2 0 2 2 3-1 1 5 2 2-2 0-3-3 0-1-1 1-1zM61 93l-7 2-1 3 5 0zM277 7l0 4 5 4 0-3-3-4zM75 89l-4 1-3 5 2 0 3-3 3-1zM21 244l5 6 1-3zM59 114l-3 0-1 1 0 3 3-1zM319 174l-3-1-3 4zM80 291l3 4 2 6 0-5-2-3zM41 288l0 4 2 2 3 0 0-3zM52 328l2 3 3 0-3-4zM50 203l-1 2 4 3-1-4zM61 190l-4 5 4-3zM29 196l-6 3-3 4 0 3 7-6zM82 212l-3 1 0 1zM239 291l-3-2-2 3zM69 49l0 2 5 9-1-8-2-3zM313 128l-3 0-3 2 5 0zM146 78l-3 2-1 3 2 0zM255 261l1-1 6 0-5-1-2 1zM252 255l-1 1-3 0-2 2 0 4 5-4zM191 87l-4 1-1 3 1 1 3-1zM115 13l-3 3 2-1zM280 265l-1 0-7 9 0 2 3-1 4-6zM42 238l4 6 3 2-2-4zM164 0l0 4 2 0 1-3zM7 285l-1 3 4 5 6 2-4-4-2-4zM231 280l-3 0-4 4 5-1zM293 261l-3 0-1 1 1 7zM141 262l0 4 5 4-3-4-1-4zM171 62l-2 0-2 2zM290 241l0 2 5 3-2-4zM294 280l-2 2 2 3zM85 252l3 7 2-4zM326 119l0 1 4 2 0-4zM218 84l2 3 0 3 1 0 1-3zM241 246l-1 2-2-1-2 4 3 2 2 0 0-3 1-1zM123 15l-3 1-3 3 0 5 1 1 3 0 0-5zM162 319l-3 2-5 0 1 2 6 1-1-2zM10 247l7 2-1-3-5 0zM175 71l-1 4 1 0zM177 58l-2 0-4 3 1 1zM48 144l-4 2 0 1 3 1 0-3zM107 248l5 7 2 1 0-2-3-6zM206 210l-2-1-1 1-7 1 0 1 6 2 2-1zM300 27l0 7 4 5zM254 275l2 3 6-1 0-1zM242 136l-6 3-4 1 0 1zM173 24l-3 2 0 9 3-7zM315 315l-2 7 0 5 2-1 2-7zM130 268l5 6 3 1 0-1zM67 189l-2 0-2 3 2 0zM312 179l-6-1-4 2-2 3 6 0 6-3zM3 207l7 6 2 0 0-2-6-6zM304 172l-3 1-5 5 6-3zM132 11l-6 1-3 5-1 5 10-8zM167 0l1 1 0-1zM155 160l-1-1-2 1-4 4 5 2zM203 7l0 12 1 0zM194 313l3 0 5-3-6-1zM272 49l-2 0 1 3zM46 209l1 8 1 2 3 1 2-2-2-2-2-5zM2 245l0 4 6 3 0-2zM45 143l-1 1-1 0-2 2-1 0-1 1 1-1 1 0 1-1 1 0zM244 26l2 3 1 6 2 2-1-8zM161 174l-5 2-2 3 4-1zM233 0l1 8 3 2 1-3-2-6zM110 324l0 2 5 1 3 2-6-7zM129 95l-2 0-3 3 5-2zM309 317l-2 2-2-1-1 1-3 0-2 2 0 3 9-1zM300 275l-3 2-1 2 1 0zM60 219l0 1 10 6-4-5zM143 30l-3 0-8 3 3 1zM268 0l0 4 2 3 1-1 0-6zM77 13l-4 2-3 6 0 3 4-3zM258 11l0 7 4 0-2-5zM256 61l-1 1 1 1 0 4 1 2 2 1-1-1 0-5zM99 0l2 1 0-1zM269 149l-3-2-4 2 0 1 6 0zM324 0l-2 1-1 3 2 4 1-2zM147 204l3 1 2-1-1-3-2 0zM253 4l-2 0 0 6 1 1 3-4zM62 188l-2 1-5 6 1 0zM95 305l2 5 8 1-1-3-3-3zM32 96l-5 2 0 2zM182 157l-1-1-4 2-3 0 0 3 1 1 6-3zM192 30l0 4 3 6 0-9-1-2zM63 274l4 5 3 0-4-6zM12 181l3 0 4-2-5 0zM112 215l4 0 1-2-3 0zM244 113l5 6 4 2 3-1-8-6zM204 232l2 1 14-1-6-2-8 0zM16 12l-2 9 3-1 0-3 1-1zM32 94l-3 2 2 0zM322 312l-4 0-2 3 1 3 4-3zM164 216l-5 4 0 1 3 2 2 0zM44 140l-2 1-7 0-1 2 4 4zM82 295l0 9 2 2 1-4zM83 216l-3-2-5 3 0 1 8-1zM84 7l-3 4-3 2 1 4 4-3 1-2-1-4zM163 170l-3 0-5 4 0 2 6-3zM324 88l-1 1 0 8 2 1 0-9zM24 268l0 2 6 0-3-4zM317 39l1 5 3 0-2-6zM13 22l-2 3 1 5 1-2zM253 86l0 5 2 3 2 7 1 0 0-6 1-1-1-1 0-4zM34 228l2 3 3 0-3-4zM300 270l-2 0-1 2 1 2 2-1zM112 199l-2-1-2 4 4-2zM166 230l1-1 7-1 3-4-2-1-6 0-2 1zM84 283l5 3 0-2-2-2zM188 72l0 2 3 5-3 1 0 1 6 0 1 1 0-2-4-7zM299 329l-2-2-4 4 3 0zM222 166l-2 0-8 5 7 1 3-2zM274 128l4-1 3-3-5 0-2 2zM11 18l-1 1 0 5 2-1zM64 322l5 5 3 0-4-4zM306 9l-2 6 1 5 2-1 0-8zM212 114l-7 5 0 3 3-1 0-2zM13 238l0 1 8 1-3-4-3 0zM271 176l10-3 0-1-7-2-3 1zM61 327l3 4 4 0 1-1 0-2-2-1zM17 106l-5 4 1 1 3-2zM115 31l-4 4 3 6 2-5zM13 84l-4 2-5 6 0 4 2 1 0 7-1 2 3-2 0-3 1-1-1-3-2-1 2-4 3-3 3-1 0-3zM92 241l4 8 1 0-1-4zM177 33l-2 2 0 7 4 5 1-1 0-7-1-1 0-3-1-2zM179 297l-7 1-1 2 2 1zM154 208l-5 1-4 6 2 0 5-4zM154 185l-1 3 3 4 2-3-1-2zM202 155l-1 1-5 0-4 5 10-1zM214 305l-4 1-13 8 2 1 9-4 4-3zM47 158l-3 0-6 4-4 4-2 4 2 0 5-6zM77 290l-1 3 4 5 1 4 0-8-2-4zM123 292l0 4 2 2 1-1 0-3zM56 45l0 6 1 3 1 0 2-4-1-1 0-3zM171 11l-2 1 1 5zM100 61l-2 5 1 1 3 0 1-3-2-3zM213 144l0 2 4-1 0-2-3 0zM172 32l-1 4 3 4 0-5 1-1zM129 22l0 3 2 4-1-2 1-5zM276 50l-1 4 3 7 2 1 1-1-1-1 0-6zM175 305l-6 2-1 3zM144 10l-3 6 3-2zM113 48l-2 0-6 4-3 4 0 2 9-5 2-2zM330 150l-2 0-2 3 4-1zM291 109l5 9 0 2 2-2 3 0 1-1-2 1-2-3zM102 0l2 1 0-1zM68 286l0 3 1 1 6 2-5-6zM148 35l-4 0-7 5 7-1 2-1zM315 25l3 12 1 0zM94 137l-6 1-1 3zM54 132l-1-1-3 0-3 3 3 0zM72 143l-2 1-7 8 8-7zM319 0l1 3 1 0 1-3zM13 36l-2 0-1 9 6-2 1-2zM152 71l-4 0-3 2-2 3zM204 162l-1-1-12 1-1 1 0 3 5 3 3 0zM226 298l-7 1-4 4 0 2 6-5zM197 239l6 0 2-1 2-4-2-1-5 0-3 2zM136 178l-2 0-4 2 0 1 2 0 4-2zM212 213l0 2 4 0 1-2zM265 287l5-2-4-2-1 1zM142 302l2 2 3 8 5-1-6-8zM230 272l1 1 4-2-4 0zM60 52l-2 5 0 5 1 0 2-6 0-3zM180 308l-1 1-1 0 2 0 1-1zM77 36l2 4 0 7 2 5 0-4 2-4 0-5-2-2zM223 196l2 4 6-3-6 0zM84 13l-4 5 0 6 3 5 4-7zM113 16l-1 1 1 0zM128 146l-4 0-2 2 0 2 4-1zM18 248l0 3 2 5 3 1-2-6zM327 158l-2-2-4 0-6 2 0 1 2 2 6 0 4-2zM299 261l0 8 1 0 0-2 2-3zM111 313l2 3 7 3-3-5zM118 11l-2 1-2 6 4-5zM24 43l-1 1-1 7 2-3zM230 289l5 0 3-2-7-2-1 1zM327 16l1 3 0 8 2 2 0-11-1-3zM14 13l-2 2 1 6 1-2zM193 91l-2 0 0 3zM315 72l0 1 7 6-1-3-3-3zM138 142l-9 3-2 4 6-1zM151 0l-3 0 1 1-1 3 1 0zM12 229l3 6 2 0zM98 50l-6 4 7-2zM179 215l-1-2-7 3 6 0zM45 257l-1 3 6 3zM326 172l-9 1 3 1 1-1 5 0zM149 326l0 1 4 1 4 3 5 0-7-5zM92 74l-6 2-1 2 4 0zM154 101l-3 1-7 8 11-5zM122 284l1 3 2 1 1-1-1-3zM317 41l-3 4 0 2 4 5zM190 92l-1 0-3 6zM74 136l-7 5-2 3 2 1 6-3zM203 81l0 1 1 0 0-1zM90 281l1 4 2 2-1-4zM89 279l0 1 4 0-1-1zM268 307l-3 0-4 2-9 2 1 1 11-1 3-1zM152 194l-1 0-4 5 1 1 2 0zM183 48l1 4 1-2-1-2zM161 141l-6 1-1 2 7-2zM95 93l-4 0-5 3 0 4 2 0zM282 155l7 1 1 1 11-2-10-1-1-1-4 0zM8 85l-3 1-2 3zM144 7l-1 0-1 2 0 3 2-3zM233 202l-6 0-5 4 9-1 2-1zM8 10l-2 7 3-2 0-4zM213 44l0 5 1 1 1-1 0-4zM169 283l5 6 6 3-6-6zM46 199l-10 5 3 0 6-3zM273 127l-3 1 3 0zM238 84l2 6 4 5 2-4-1-3-4-4zM130 143l-3 0-5 2 1 1 1-1 4 0zM181 46l-2 2 1 1 0 3-1 1 2 2 2-4zM91 189l-2-1-1 3zM83 82l5-3-4 0zM286 176l-5 3-10 3 6 1 5-3zM50 207l0 5 1 2 3 0 1-2-1-3zM71 155l-2-1-5 4 1 1zM275 246l-2 3 1 1 0 3 1 2 1 0zM172 258l-2-2-4 0-5 3 0 2 4-4 1 0 1 2zM310 273l-3-2-3 4zM36 125l-7 5 3 0 3-2zM310 7l0 3 4 2-3-5zM81 276l4 5 2 0-2-3zM281 45l-1 1 0 5 1 2 2 0 1-1zM160 263l11 6-6-6-2-1zM329 11l1 6 0-5zM247 172l-2 1-7 0-5 3zM242 281l-4-3-6 2-2 4 9 2 2-1zM95 235l2 3 4 3 4-2-2 0zM280 274l-5 7 4 2 2-6zM226 289l-4 0-3 5 2 0zM90 207l-3 0-7 5 1-1 3 0zM24 123l-9 6 6-1zM102 281l8 10 4 0-9-10zM22 108l-10 7 2 2 7-6zM12 31l0 4 2 0 0-3zM253 129l-4 0-4 5 8-4zM240 277l3 4 7-1 5-2 0-1-4-3-4 0zM173 295l0 2 2-1 0-1zM56 85l-1 0-2 3 1 0zM235 294l-5 1-3 4 1 1 5-1zM48 9l-3 6 0 3 4 5 1-2 0-10-1-2zM93 174l-3 0-3 3-5 2 9-2zM125 83l-3 1-7 8 3 0zM204 9l1 10 1 0 2-4zM76 36l-3 0 1 3-1 1 0 5-1 2 3-2 0-2 2-3 0-3zM264 43l0 3 1-1zM82 180l-4 1 3 0zM225 46l-3 5 6 5 0-4zM281 244l-5 1 1 9 2-1 1-2zM303 275l-2 0-3 4 3 0 2-2zM301 135l-5 0-1 1-4 0 0 1 5 1zM98 63l-5 4-4 7 5-3zM221 232l3 3 4 0 1 1 6-1-1-3-5 0-1-1zM14 61l-2 3-1 6 3 0zM227 280l-3 0-6 5 1 1 3-1zM265 321l-3-2-6 3 2 4 4-1zM191 0l-1 3 1 4 4 2-2-4 0-5zM0 276l1 3 5 2-3-5zM228 9l-2 4 2 2 2 0 0-5zM210 38l0 2 2 3 4 1-2-4-2-2zM98 136l-10 5-1 3 6-3zM138 138l-4 0-3 3-1 3 4-2 3 0 1-1zM184 88l-3-1-4 3-3 4 3 2zM224 279l-5 0-7 5 7-1zM0 234l0 7 1 0-1-2zM220 306l-4 1 1 2zM42 176l-6 3-4 4-1 2 0 3 1 1 9-8zM140 99l-1 0-4 5 1 0zM304 29l1 3 0 5-1 1 1 1 3-5zM253 32l-1 6 3 1 0-3zM0 207l2 0 3-2 0-1-4 0zM315 218l-1 5 3-1zM144 166l-1 3 4 2 0-3zM220 98l0 2 3 3 2-2zM157 0l2 7 1-2 0-5zM68 21l-3 5 0 3 3 7 3-3-2-5 0-5zM253 295l-2-1-7 4-2 0 2 1 7 0zM236 158l-1-1-2 1-7 0-1 1 0 3zM250 0l1 1 0-1zM303 106l2 7 3 0 5-4 0-1-4 1-3-4zM230 285l-1-1-6 4 6 0zM150 58l-3 2-5 6 2-1zM102 318l7 8 0-2-2-3zM245 225l-1 2 3 2 0-3zM44 115l-1 1 0 1-1 1 2-2zM259 71l1 5 5 7 2-6-4-6zM108 83l-4 2-1 3-3 3 1 2 3-1 3-3zM20 103l-3 5 3-3zM255 283l4-1-3-2zM84 252l-2 3 5 4zM83 147l-2 0-7 9 1 0zM80 250l2 3 1-1zM176 169l-3 0-3 3 0 2 2 3 4-2zM74 254l1 3 4 2-1-5zM73 318l-1 1 3 4 0 3 2 1 1-1 0-5-1-2zM325 282l-7 7 0 4 5-5zM73 283l-2 3 5 4 1-3-2-3zM70 5l0 6 1 0zM9 57l-1 5 3 1zM244 223l0 1 2-1 2 4 4-3 3 1-1-3-3 0-2-1-2 3zM268 7l0 3 2 3 0-5zM223 209l-2-1-12 1 4 3 4 0zM39 287l-2 2 1 2 2 0 0-3zM56 310l3 8 4 4 2-1 0-3zM182 223l3 1 10 0 1-1-6-3-2 0zM242 285l1 1 1-1 10-1 0-1-11-1zM154 23l-3 8-3 3 5-2 2-3zM100 47l-2 2-1-3-1 4zM321 316l-1 1 0 9 2-4zM272 153l-13 4-1 2 6-1zM123 203l13-5-8 0zM55 15l1 6 3 0zM79 313l4 3 0-3zM1 285l-1 1 0 4 4 2 1-5zM196 171l1 2 5 0 2-1zM19 317l7 5-3-7zM100 97l-4 0-5 4 3 1 5-3zM236 0l2 6 3 1-3-6zM302 298l-5 3-8-1 4 3 7 0 2-3zM0 67l0 7 2-4zM52 220l6 3 1-1-1-2-3-1zM302 162l-1 1-3 0-3 2-2 3 5 1 4-2zM125 64l-2 1 1 1zM61 216l-1 2 4 1-1-2zM99 227l-4 1-3 5 2-1 1 2 2 1-1-4zM90 117l-2 1-1 5 4-3zM71 301l1 1 0 8 3 3 3-1-1-8zM46 278l-1 5 6 6 2-1-2-7zM103 266l4 4 6 1 0-4-4-4zM316 284l-5 1 1 2 0 5zM209 16l-2 3 0 5-1 1 1 5 6-2 2-5-2-5zM311 33l2 12 3-4 0-4-1-2zM142 259l1 5 3 5 1 0zM239 266l-6 1 0 1 6-1zM230 294l-1-1-4 1 1 3zM18 58l-1 1 1 3 1-1zM283 41l6 9-2-7-2-2zM60 165l-6 2-3 5 6-3 2 0 1-1zM62 291l1 3 4 0-2-3-2-1zM299 304l-4 0-8 3 0 1 11-2zM255 58l-4-1-3 5 0 2 4 0 3-3zM239 207l-4-1-5 3-2 0 6 0 1-1 4 0zM214 310l-1 1 1 0zM140 61l-2 0-12 8 4 0 8-5zM225 35l1 4 4 4 1-1 3 0-2-2 0-2-3-6zM219 295l-6 1-9 6 3 0 9-5 2 0zM220 116l-1-1-4 2-7 6 7 4 0-3zM143 35l-2-1-7 4 3 1zM147 70l-3 1-3 4 5-3zM120 0l-1 2 0 7 2-4zM225 295l-1-1-4 1-2 4 7-2zM122 5l-3 5 0 2 3-3zM214 331l3 0-1-1zM237 24l0 5 1 2 4 1-1-9zM45 113l-3 1-1 2 1 1zM324 115l-4-1-9 4 8-1zM4 68l2 5 1-1 0-3zM140 47l-5 1-10 11 3-1zM157 156l5 0 5-4-3-2-4 0-2 1 0 4zM0 252l0 6 4-2zM172 63l-6 2-1 3 7-3zM245 70l-1 2 1 2 3 2 1-5-1-1zM84 230l0 2 3 4 2 1 1-3-1 0-2-3zM92 121l-3 1 0 3-2 5 3-1 3-6zM274 109l-7 3-8 6 4 0 10-6zM214 164l1 1 7 0 2-2-8 0zM312 66l1 4 5 2 2 2-2-6-3-2zM294 189l-6 2-4 0 8 0zM23 95l2 1 2-2-4 0zM233 244l-3-1-8 3 0 1 2 1zM229 240l1 1 0-1zM14 240l13 6 0-2-4-3zM196 317l-8 3-3 3zM159 37l-4 2-5 5 5-3zM108 213l-3 0-2 2 1 2 1 0zM197 85l1 0 1 1-1-1zM201 83l1 4 5 5 1-4-5-5zM222 211l-4 1-1 3 6-1zM236 271l-6 4 6-3zM285 246l-2 0-3 6 1 3 5-3 0-5zM163 93l-14 9 13-7zM324 299l-1 0-1 6zM267 147l3 1 3-3-5 0zM105 219l-1-1-5 3-4 1-1 5 5-1 1 1-1 2 2 1 1-1 1-7zM98 0l-3 0-1 3 1 2zM263 143l3 3 5-4 0-1-6 0-2 1zM1 88l-1 0 0 13 0-12zM323 155l-11 1-4 3zM220 244l3 1 6-2zM80 76l-2 0-8 5 4 1 2-1zM270 324l-5 0-5 3 9-1zM310 246l-1 0 0 6-1 2 2-1 2-4zM274 323l-3 1-1 2zM31 70l0 15 2 1 1-1 0-13zM260 186l-2 0-4 2 0 1 2 1 4-2zM223 88l-2 4 3 2 0-6zM100 22l-1 0-1 8zM275 81l1 4 7 11 0-6-3-6zM254 225l1-1 1 1 5-1 4-3 0-2-10 1 0 4zM330 293l-1 3 0 5 1 1zM175 290l5 6 6-5-3-1-2 3-2 0zM125 317l5 7-3-7zM23 72l-2 3-1 9-2 2 0 6 1 2 4-3 2-4 0-8zM8 178l-3 1-5 6 0 5 3-2 2-6zM299 200l-5 4 3-1zM101 302l0 2 3 3 3 1 3-2zM113 88l-7 4-1 3 4-1zM55 187l-3-1-5 3-2 4 3 0zM309 34l-3 5 0 3 3 5zM261 132l-2-1-8 4 4 0zM0 0l2 4 0-4zM78 40l-3 6 1 2 2-2zM263 288l-2 0-6 3-2 3 1 1 5-3z"/>
<path fill="#e048d8" stroke="#e048d8" d="M109 329l0 2 3 0zM85 320l0 2 8 6 0-2zM86 134l-3 2 0 2 2 0zM182 203l-4 1-1 1 1 2 5-1zM255 226l1 3 3 1 4 0 1-1 0-2-5-2-1 1zM145 61l-4 1-1 2 3 0zM204 3l-1 1 1 4 6 8 2 0-6-12zM263 46l-1 6 4-2zM325 164l-2-2-5 0-13 5 1 1 13-1 1-1 4 0zM132 15l-8 7 1 2 3-2zM77 128l-4-1-6 3-1 2zM240 314l5 0 2-1-5-1zM204 0l0 2 3-1 0-1zM296 33l0 6 1 2 0-5 1-2zM112 144l9 0 0-2-6-2zM278 322l-1 1-2 0-1 1 1 0 1-1 1 0 1-1 2 0zM19 220l3 7 2 2 6 2-3-2-4-7-2-2zM234 274l-6 2-3 2 0 1 4 0zM299 34l1 5 3 5 0-5zM328 210l0 3 2 1 0-5zM132 305l5 5 3 6 5 3-3-9-2-2-6-3zM293 114l2 7 2 0 3-2-2 0-2 2zM90 185l-4 1 3 1zM249 176l2 4 3 0 3-2 2 0-1-3-7 0zM163 31l-2 3 3 4-8 7 3-1 9 1-4-6zM185 54l-1 4 3-1zM164 328l-2-2 1-3-1 0-1 2-7-1 0 1 3 0zM87 274l2 4 2 0-2-3zM312 199l-5 1-4 5 5-2zM221 156l6-1 3-2 2-3-10 0 0 5zM32 101l-2 0-1 5zM181 248l-4 1 0 2zM64 72l1 5-2 2 3 0 2-4z"/>
<path fill="#2a75f5" stroke="#2a75f5" d="M157 151l-2 0-6 7 6 0 2-3zM92 65l-4 2-6 7 10-7zM269 168l-3-1-9 3zM169 195l1 1 6 0 1-1-3-1-4 0zM84 2l-4 3-2 4 0 3 1 0 6-8zM300 70l1 5 4 3-3-9zM62 179l-3 2-3 6 3-1 4-5zM139 128l-4 0-3 2-2 0-1 2 3 2zM246 135l-11 6-2 0 11-3zM14 136l-6 4 0 3 4-2zM309 0l-1 0-1 2 1 1 0 8 1-1 0-6-1-1zM284 23l0 3-2 3 0 3 1 1 3-4zM249 313l7 0-3 0-1-1zM246 213l6 5 3 1 8-1-4-2-4-4-3-1-5 0zM316 269l-3 1-1 8 3-1 3-3 0-2zM158 202l-5 1-1 4 2 0zM314 48l-1 4 5 7 2 0 1-1zM113 74l-2-1-3 3zM278 319l-8 4 7-1zM244 253l-1 0-1 2-2-1-3 2 4 0 2 2 1-1zM103 53l-4 0-4 3-2 3 2 1 5-3zM89 108l-3 1-6 7 2 0zM40 28l-1 6 3 1-2-4zM330 0l-1 4 1 0zM33 216l2 7 6 3-4-8-2-2zM251 181l-2-4-2-1-6 7 4 0zM240 168l7 0 2-2-5 0zM88 231l1 2 5 2-2-3 0-2 2-2zM197 323l-4 0-9 4 11-1zM35 84l-1 6 4 0 0-5zM327 262l1 1 0 6 2-3 0-2zM49 52l-1 0-2 5 1 5 2-6zM58 181l-5 5 3 0zM234 57l-3 3 0 3 2 2 1 0 0-5 1-1zM154 133l3 0 1 1 2-3-4 0zM84 108l-6 3-4 4 0 2 4-1 5-5zM167 254l3-2-4 0zM195 55l0 5-2 4 0 4 1 1 2-1 0-10zM301 55l-1 4 1 1 1 7 1-1 0-7zM36 202l-1-1-10 5-2 3 5-1 6-3zM303 175l5 0 1-1-5-1zM311 75l1 3 3 3 2-2-3-3zM52 168l-4 2-5 5-1 5 6-3zM67 103l-7 2-1 3 1 1 3-2 2 0zM5 289l0 3-1 1 2 7 5 1-1-6-3-5zM194 212l1 4 8 0-5-3zM264 284l-4 1 0 2 4 0zM313 249l-4 6 0 3 4 3 3 0 1-3-3-9zM72 296l0-2-4 1zM149 191l2 2 4 0-2-4zM255 279l-5 2-4 0 8 1zM102 31l-1 1 0 8 1 3 1-1zM72 156l-3 2-3 7zM130 89l-1 0-10 11 4-2zM278 116l-3 0-5 3 2 1zM297 325l-8 3 3 3zM299 275l-3-1-3 3 2 1zM263 19l-1 3 1 7 5 1-2-4-1-6zM44 75l-1 3 0 5 1 1zM59 136l-6 3-4 4-1 4 5-3 5-5zM106 42l-2-2-1 3zM317 301l-1-1-5 4 2-1 1 1-1 1zM267 292l-9 1-2 1-4 5 9-3 6-3zM101 251l4 7 3 3-1-1-1-9-1-1zM301 179l2 0 4-3-4 0zM237 172l-8 2 0 1 3 1 5-3zM207 49l-1 3 1 7 1-3 0-6zM244 0l1 6 5 3-4-7 0-2zM250 95l3 9 4 1-1-5zM216 223l1 7 3 1 0-8zM46 70l-1 1 0 12 1 0zM299 174l-1 1-7 1 4 2zM50 129l5 2 2-2 5-2-9 0zM184 245l-9 3 3 0zM46 123l-1 0-3 4-2 5 6-4zM240 292l-4 0-5 2zM145 254l6 6 3-3 0-1-2 0 0 1-2 1zM147 185l-7-2-5 3-3 4 1 1 9 0 3-2zM64 298l-2 3 9 8-1-10zM309 22l4 8-2-8zM33 154l-2 0-9 9zM171 313l-7 5 3-2 2 0zM120 145l-4 0-7 4 3 1zM87 52l-3 2 1 1 0 3-1 1 3 0 3-4-2 1-1-1zM49 178l1 2-1 1-1 7 6-7 0-1-2 0zM126 253l0 4 1 1 3 0 1-1zM212 224l-8 2-1 2 3 0 1 1zM198 217l1 2 1-1 4 0-1-1zM77 317l2 5 5 1-3-4zM139 0l-2 0-2 5 1 0zM115 106l-8 3-1 1 0 3 2 0zM264 276l3 4 3-2 0-1zM312 22l1 6 4 10-2-11zM177 162l1 2 5 0 6 2 0-3-6-3-3 0zM243 293l-7 1-2 5 6-3zM295 35l-3 2 0 3 2 4 6 4-5-9zM320 142l-5-1-2 1-2 3 3 0 6-2zM100 6l-5 6 1 6 4-6zM130 60l-4-1-10 4-2 6zM321 35l-1 1 0 3 2 4zM289 243l-2 3 0 4 3-2-1-1zM294 225l-1-1-4 4 4-1zM274 254l-1 1 0 5 2-1zM98 48l2-3 1 1 3-2-2 0-1 2-3-4-1 1 1 1zM225 88l0 7 4 4 1-5zM161 181l-7 3 4 2 3-3zM291 77l-1 5 5 4-1-5zM183 203l0 2 3 2 1-1 0-3zM115 210l-5 2-5 6 1 1 3-3 3 1-1-2zM70 328l-1 3 4 0 0-3zM271 240l-2 0-2 4 0 2 2 3 3-1 3-3zM234 136l9-1-6-1zM64 124l-2-2-8 4 9 0zM50 101l7-2-5 0zM87 44l-2 8 1 0 2-3 0-4zM146 286l12 10 3-1-3-4-11-6zM101 213l-11 4-4 4 6 0 4-2zM326 151l-15 2 7 0 1-1zM28 36l2 8 1-1 0-3zM293 10l3 6 1-3zM150 286l15 9-6-7-4-2zM280 146l-1 1-3 0 3 0zM234 72l-1 1 0 4 4 6-1-11zM121 226l4 0 5-4-7-1-2 1zM90 257l-2 3 1 1 0 5 2 4 3 2-1-11-1-3zM106 20l-3 8 0 4 1 0 0-2 2-3 0-3 1-1zM72 15l-1 0-3 4 1 3zM114 257l-1 1 0 3 4 0zM221 73l2 6 0-4zM294 278l-2 1-1 3zM306 266l-1 1 1 4 1-1 0-3zM324 308l-3-1-3 4 4 0zM182 141l-5-1-3 3 0 2 3 1 3-2zM261 166l-4 1-5 4-3 1 5-1zM91 81l-3 1-3 3zM263 259l3 0-2-1zM271 249l-2 3 0 7 2 2 2-7 0-4zM121 169l-2-3-3-1-6 4 5 2zM17 0l0 2 1 0 3 4 1-6zM46 149l-7 5-1 4 6-1 2-5zM52 196l-3 3 1 0zM65 83l-6 6 5-1 2-2zM0 291l1 5 4 3-1-5zM268 97l-1 2 3 5zM194 241l-5 1-3 2 4 0zM13 168l-1 1-3 0-3 3-6 3 12-4zM41 117l-2 0-6 6 4 0 4-4zM190 143l-1-1-6 0-8 6 11 1 3-3zM268 193l0 1 2 0 2 2 3 0 1 1 3-1-7-4zM223 69l-1 1 0 3 2-2zM2 121l-2 1 0 5 4-2 0-2zM315 173l-5 1-3 3 1 1 4 0zM321 59l-2 1 2 4 0 2 2 1 0-3 1-1zM126 150l-3 1 0 2 2 2zM96 25l-5 6 1 6zM272 48l1 1 2-1zM96 243l9 5-7-6zM11 8l1 1 0 5 1-1 0-4zM300 23l0 3 3 1 0-4zM22 151l-4 0-9 14 4-3 3-5zM115 69l-3 2 2 3 2 0-1-1zM266 197l4 0 1-1-1-1-3 0zM304 152l-1-3-8 1 2 0 6 3zM231 43l-1 2 4 6 0 4 1 2 2 0 1-1-1-9-3-4zM109 0l-2 0 0 3 1 1-1 5 2-5zM93 283l2 7 0-5zM49 254l-2 1 0 3 2 2 1-2 0-3zM312 52l-1 1 1 12 3 0 1 1 0-7-2-5zM308 255l-1 0 0 2-4 6 1 3 1 0 3-7zM31 284l4 8 2-1-1-2zM93 113l-3 0-4 3 2 1 5-3zM178 318l-5 1-2 3 1 1 3-1zM124 155l-2-2-2 2zM207 223l-2-4-1 0-3 4zM147 172l-2-1-5 4 3 0zM290 33l-2 2 0 7 1 2 3 1 1-2-2-3 0-5zM136 44l-7 2-1 2 6-2zM31 44l-4 8 1 1 0 3 3 0 3-3zM213 65l-2 2 0 6 5 0 2-1-1-5zM226 302l-2 1-8 9 5-3 4-4zM94 15l-2 3-1 12 5-11zM1 235l1 6 4 2-1-1 0-6-1-1zM295 179l0 1 5 0 0-1-3-1zM228 328l-4 0-5 3 8 0zM30 185l-6 2-1 3 2 1 5-3zM266 281l-7 2 3 1 3-1zM259 89l0 4 6 9-4-12zM231 211l0 1 3 0 5 2 6-1 0-1-4-3-6 0zM208 39l-3 2 2 4 2-3zM28 94l-1 3 1 0-1-2zM73 269l0 4 3 2 0-4zM2 12l-2 2 0 10 3 4 0-3 1-1 0-11zM94 223l-3 0-5 5 6 0zM80 222l5 4 0-3-1-1zM121 191l6 1 4-2 1-3-8-3zM180 211l-3-2-6 1-2 4 2 1zM143 166l-2-1-9 3 1 2 2 0 4-2 3 0zM161 120l-9 1-7 6 6-1zM103 326l5 4-1-2zM0 271l0 4 3 0zM212 205l0 3 10-1zM190 219l5 3 2-1-1-2-3-1zM13 258l0 10 1 2 3 0 2-1 0-1-3-3-2-7zM242 324l5-2 9-1 7-3-14 0zM278 137l-3-3-2 0-3 3-1 3 3 0 2-2zM7 1l1 4 2 0 1-3-1-1zM120 201l-6 3 0 2 2 2 6-4zM139 73l-2 1-1 3 2 0 2-2zM263 271l2 3 5-2 0-1zM186 317l5 0 6-2-1-1-5 0-5 2zM140 159l-2 0-3 4 3-1zM61 57l-1 8 3 6 2 0 0-3-4-7zM181 311l-3 2 2 0zM308 131l2 1 2-1zM330 320l-5 11 2 0zM166 5l-2 0-4 5 1 3 3-1zM138 99l-1-1-2 3zM66 92l-1-1-2 1-6 8zM179 59l-6 5 0 1 3-1 2 4 1-1zM179 54l1 1 0 2 0-2zM85 275l0 2 3 2 0-2zM41 115l-4 1-3 3 0 2zM208 320l-3 1-1 2 3 3zM28 102l-1 0-4 5 4-1zM107 291l1 6 5-2-3-3zM296 218l-3 1 0 3-1 1zM56 26l-1 3 2 3 0 5 0-9zM207 212l-4 2 1 2 3-1zM173 289l3 4 3 2-1 1 1 0zM262 262l-15 3-2 3 12 0zM253 260l-2 2 1 0 2-2zM95 49l-2 1 1 2-3 2 4-3zM114 96l-3 2-8 2-2 2 8-2zM242 268l-3 0-3 2 1 1 5-2zM282 119l-6 1-4 3 3 0zM316 148l-9 3-4 3 7-1 6-3zM151 47l-4 2-4 6 5-1 3-5zM11 276l0 2 7 2-5-5zM284 111l2 5 2 2 2 0-2-5zM101 101l-2-1-4 2 0 3 1 1zM40 108l-2-1-6 5-4 5 6 1 4-5zM258 328l-5 3 3 0zM266 15l1 2 4 2 4 4 0-2-5-7zM288 152l8 1 1 1 5 0 0-1-2 0-3-2-8 0zM34 274l-2 3 5 5 0-5-1-2zM274 226l0-1-3-1-3 1-8 0 2 0 3 2 1-1zM118 101l-2 0-8 4-2 2 0 2 3-2 7-2zM51 271l1 4 3 3 6 2-4-5zM318 45l4 4-1-1 0-3zM87 191l-7 1-1 2 2 0zM112 281l7 6-3-4zM113 151l-2 0-4 4 1 1 4-1 1-1zM237 171l7-2-6 0zM291 331l-1-1-5 1zM321 233l4 0 1 2 2 0-2-1 3-2-3-2-3 0zM31 304l0 4 2 3 2 0 6 3 1-1zM16 60l-1 1 0 8 6-1zM7 164l-1-1-3 2-3 0 0 4 5-2zM24 131l-7 3-2 2 6-1zM169 0l0 2 3 3 0-3zM212 74l0 2 6 7 1-2-1-3-4-4zM35 66l-3 3 0 1 3 2 1-3zM330 215l-2-1-4 1-2 2 0 3 8 0zM147 245l0 2 4 6 1-1 3 0 0-4-1-1-2 0-2-2zM236 163l7-2 0-1-6-2zM275 291l-2 3-5 0 1 3 1-1 3 0 2-2zM266 131l-2 0-6 3 5-1zM260 231l-6-2 0 2-3 5 0 4 2 0 7-6zM139 244l3 6 5-2-2-5zM45 148l-3 0-3 2-1 2 1 1 5-3zM147 131l-13 6 9-1zM212 47l-3 2 1 3 1 0 1-2zM289 45l1 5 6 8 2 0 0-3-7-10zM133 103l-6 3-3 4 6-3zM251 50l1 6 2 1 6-1 0-2-3-1-3-3zM112 243l-1 1 1 0 1-1zM103 243l3 5 3-1-1-2zM44 34l0 2 4 4 2-1 0-2-2-3zM172 278l0 2 8 5-5-6zM72 225l1 3 11 5 2 2-10-9zM56 146l-5 4-5 7 3 0 6-6zM22 36l-3 0-2 6 0 7 3-2 3-5zM238 126l-1-1-11 8 5-1zM257 0l-2 0 0 5 1 1zM63 73l-1 0 0 6-3 1 2 0 3-3zM65 136l-4 6 2-1zM302 249l-1 5 5 1 1-1-1-2zM252 39l0 1 4 0zM68 186l-5 1-1 5 0-1zM327 252l-6 4 3 5 2 0 4-6zM189 63l-2 3 0 3 1 2 3 1 1-2 0-5zM166 197l1 1 6-1-3 0-1-1zM52 84l-4 1-1-2 0 6-1 2zM247 169l-9 3 7 0 2-1zM108 321l1 2 2-1zM48 178l-3 6-6 5 7-3 2-2 0-3 1-1zM31 162l-3 1-3 3-2 5 6-5zM236 58l-1 2 0 6 1 0zM172 1l1 1 0 5 2 4 0-7-1-2zM126 231l-1 1-8 1-3 2 8 0zM240 318l-5 1-2 4zM128 248l2 3 4 1 5 3-8-6zM132 174l-3-1-5 2-1 2zM146 165l1 2 2 0 3 2 1-1-1-2zM155 46l2 4 3 0 7-4-5 0-1-1zM209 52l0 4-1 1 1 5 0-3 1-1 0-5zM135 301l-1 3 6 3 3 4 2 0-2-7-2-2zM63 194l-7 6 6-1 0-4zM33 143l-5 6 4 4 2 0 4-3 0-2zM277 148l-2 0-2 2zM63 30l-2 10-1 1 0 8 1 3 1-1 0-11 2-6zM329 104l1 1 0 4 0-5zM6 238l0 4 1 2 3 2 1-1-5-5zM137 65l-8 5 0 1 2 0 3-2zM266 230l-5 1 1 8 6-6zM194 218l4 1-1-2zM248 183l-9 1-2 4 7-1zM14 120l-4 4-5 3 0 3-1 1 11-8zM163 109l-2-2-2 1-2-2-3 0-10 12 9-1 9-6zM316 8l2 5 5 0 2 1-3-6zM69 69l0 3 1 1-2 4 2-2zM96 20l-2 6 2-2zM0 106l0 5 1 0 1-3zM43 295l0 3 2 1 5-1-3-3zM146 152l-3-1-4 2 5 1zM165 35l0 3 8 10 0 2 6 2-1-5-9-12zM5 23l-1 6 5 4-1-5zM317 223l13-2-8 0-1-1zM163 85l-3 0-3 3-5 2-2 3 11-5zM302 176l-4 2 2 0zM306 279l-2-2-3 4zM1 89l0 12-1 1 0 3 3 3 1-1 0-6-1-1 0-8-1-3zM179 279l1 5 2 3 7-5-1-3-6 0-1 1zM150 85l-7 0-2 1-5 7 2-2 8-4 2 0zM156 35l-3 1-4 5 7-4zM120 126l-8 4 5 0 3-2zM243 57l-2 5 3 1zM330 114l-6 2 3 2 3-1zM86 297l0 2 3 6 7 5-7-13zM189 219l-1-1-4 0-4 2-2 3 3 0zM10 37l-6 4 2 7 1 0 2-3zM265 17l3 12 3 4 2-1 2-3 0-5-4-4zM115 145l-4 0-6 3-2 0 5 1zM103 11l-3 2 0 8 1 0 0-3 3-5zM132 297l3 3 7 1-3-3zM40 251l-2 3 0 3 1 2 4 1 1-4-2-4zM262 124l-7 1-4 2 0 1 10-2zM203 60l-2 9 2-1zM48 166l-7 6-4 6 4-3 1-3zM216 45l-1 6 3 2 1-1-1-6zM314 264l-6 3 0 4 3 2 3-5zM12 301l1 2 3 0 4 2 2-3-2-1zM169 193l-3 1-3 3 5-1zM43 158l-6 1-4 2-3 4 3 0zM38 297l-1 3 6 7 1-1-1-5-2-3zM99 284l0 3 3 5 5 4-1-5-3-4zM161 96l10-1 3-2-10 0 0 1zM296 181l-2-1-3 5 4 0zM28 57l-5 3 0 7-1 1 1 3 7-2 0-8zM281 130l-2-2-6 1-1 4 5 0 4-2zM47 236l5 12 1-1-1-5-4-6zM142 287l3 4 3 1 10 7 0-2-5-5-4-2-4-4zM154 236l0 4 3 1 4 0 1-1-4-6zM64 163l-3 2 0 3 4-3zM185 4l1 9 2 1 2-3 0-3zM310 79l0 3 3 4 1-5-2-2zM80 223l6 7 4-1-4 0-1-2zM182 273l-8 1-5 4 2 1 0-1 3-2 4 3 1-1-1-1 3-2zM174 25l-1 7 3 1 1-2zM143 278l1 1 0 3 4 3 5 0zM217 242l1 1 5 0 1-1 4 0 0-1-8-1zM95 273l0 3 4 3 5 1-2-5zM103 16l-1 2 0 10zM176 253l-1-1 1-3-2-1-9 3 6 0zM305 168l-4 0-9 5-1 2 7-1 4-2zM209 177l3 0 7-4-8-1 0 2zM319 317l-2 3 2 3zM183 314l-2 1-3 4 4-1 1-1zM181 202l-2-2-2 0-4 2 0 1 4 1zM324 117l-4 0-1 1-7 1 2 1 5 0 1-1 5 0zM49 1l-3 1-5 6 3 7 4-7zM56 212l-1 3 4 3 1-3zM72 87l-6 3 1 2 2-1zM245 260l-1 2 1 0zM187 239l-4 0-1 1 0 3 3 1 2-3zM304 247l0 2 3 4 1-1 0-5zM125 220l11-3-1-1-7-1zM288 74l-3 4 1 2 3 2zM70 96l-2 0-5 5-4 2-1 2 9-3zM3 227l3 10 5 0-5-10zM275 264l0-4-5 3-1-2-5 0 4 2 4 5zM109 297l0 1 6 1 3 2-4-5zM167 207l4 2 6-1 0-2-2-2-3 0zM47 129l-6 3-6 8 3-1zM7 106l3 3-1 1 2 0 6-5-6 3-2-3zM215 74l2 2 3 0 0-3zM264 275l-2-4-6 3 7 2zM54 46l-1 0-1 5-2 2 0 3-2 5 1 4 2-3 0-3 2-4zM121 150l-3 3 0 2 4-3zM243 315l-4 0-4 3 6-1zM228 77l-4 2 0 4 1 1 2-1zM232 182l-2 1-5 0 0 1 4 1 3-1zM43 204l0 1 6 5 0-4-2-2zM81 121l-7 5 6-3zM310 34l0 14 2 3 1-1 0-4-2-4zM7 141l-3 1-2 3 5-2zM119 260l1 2 6 3-2-4 0-3zM329 302l-1 3-6 8 1 6 2-1 5-9 0-6zM302 211l-1 2 3 1zM45 246l0 3 2 1-1-4zM230 64l0 6 2 3 0-8zM234 319l-5 3-4 5 4 0zM120 295l-1 7 3 4 3 1 3-4-1-2zM197 132l7 5 0-5 1-2-3 0zM138 84l-3 0-3 3 3 1zM111 264l5 4 3 0 1-1-6-3zM308 129l-8 2-7 4 9-1zM144 66l-5 2-4 5 2 0 3-2zM127 47l-5 1-2 3-9 8 2 0 12-7 2-3zM148 55l-4 5 2 0 3-2zM151 63l-7 4-1 2 3-2 2 0zM13 274l8 8 3-1-3-4-3-1-3-3zM306 207l-1-1-6 1-2 3 1 1 3 0 4-2zM103 33l0 4 3 4zM50 4l4-4-5 0 1 1zM32 156l-8 7 2 1zM286 145l-3 0-3 2zM95 284l1 1 0 9 2-1 0-7zM280 126l6-1-5 0zM193 296l-2 0-4 5zM306 256l-6 5 2 2zM190 27l0 11 1-2zM54 115l-8 7 7-2 1-1zM88 123l-5 4 1 3 2 0zM119 156l1 3 6-2-1-1zM285 121l-3-1-7 4 1-1 5 0zM330 123l-4 3 4 1zM256 41l-2 8 3 3 4 1-4-6 0-5zM11 71l-1 1 4 4 1-1-1-4zM79 24l0 3-1 1 1 2 0 5 4 3 0-8zM78 91l-5 2-2 2-2 6 6-5zM246 56l1 7 3-5zM131 268l7 5-5-6zM26 80l0 7-1 1 4 1 1-3zM20 106l-2 2 1 0zM7 238l0 2 2 2zM283 23l-3 3-3 1-1 2 5 2 0-2 2-3zM215 216l-3 0-1-1-7 2 2 1 1-1zM123 183l-3 0-2 2-1 6 4-2zM325 152l-10 2-1 1 11-1zM9 46l-2 3 1 7 3-1 0-4zM140 1l2-1-2 0zM276 319l-3 0-1-1-3 2-2 0-3 4 1-1 4 0 2-2zM257 130l-3 0-7 4 0 1 2 0 5-4zM131 30l-7 10 0 2 9-5 0-2-2-2 1-1zM110 299l4 6 5-1-2-3zM41 59l-3 1 1 1 1 8 1-1zM182 321l-4 3 3-1zM173 124l-5 2-1 4 2 0 3-3zM38 228l2 3 5 2-2-4zM132 4l-3 1-3 6 6-2zM67 292l1 2 5-1 0-1-2 0-3-2zM110 150l-4 0-1 4 1 1zM277 0l-2 0 1 7 2-1 0-5zM325 54l-1 2 2 3 0 4 4 5-2-9zM277 151l-12 7 5-1zM32 304l10 8 1-1 0-3-2-2-2 0-5-3zM263 134l0 2 4-1-1-2zM136 226l-2-1-4 1-2 3zM295 279l0 4 2-3zM296 282l5-2-3 0zM103 241l0 1 4 2 3 0 2-2 3 0 0-1-6 0-1-1zM177 260l6-3-3 0-1 1-1-1zM67 120l-4 1 0 1 2 2 3-2zM107 10l-3 4 1 7 2-6zM304 268l-4 6 2-1zM56 22l0 3 2 4 4 3 1-5-2-5zM141 209l-2 0-5 4 7 1zM115 9l0 2-2 3 3-3zM293 204l-4 0-6 2 4 0zM265 166l-3 0-3 3 6-2zM260 25l-2 0 1 5zM130 243l1 3 3 2 9 10 0-5-1-2zM196 188l3 0 1 1-1-3zM262 36l2 6 5 2 0-2zM311 146l-1-1-5 3-2 0 5 0zM91 281l6 4-3-4zM14 27l-1 3 5 6 0-2zM33 171l-4 1-10 8 10-4 4-3zM204 58l0 11 3 3 3-1 0-4-2-6zM146 147l-1-1-10 7 3 0 6-3zM66 136l-5 10 5-4 1-2 0-3zM170 152l3 5 2-3-3-2zM33 232l4 4 3 1-3-5zM128 207l4 6 6-4 0-1-3 0-1-1zM39 318l-2 2 0 2 6 4-3-6 0-2zM37 211l-3 4 4 2 1-1zM38 206l-3-1-6 3-3 4 5 0 7-5zM16 191l-5 1-8 10 11-6zM27 96l-1 0-1 2 1 0zM278 311l-10 1 0 2 9 0zM246 14l-3 0-2 7 1 2zM170 320l-1-1-5 3 0 3zM319 181l-4 1-8 6-3 1 9-2 5-4zM330 169l-3 4 3-2zM235 107l-1 3 1 1 1 7 1-2-1-1 0-6zM56 101l-7 1-4 4 5-1zM250 122l-4-1-8 4 1 1 3-2 3 0zM10 229l-1 2 3 7 2-2 0-2-2-4zM46 328l4 3 3 0-2-3zM109 119l-6 2-3 7 1 0zM118 156l-1-2-7 3 1 1 3 0zM136 40l-3-2-9 5-2 4 6-1 4-4zM316 25l1 1 0 2 1 1 0 2 1 1 0 2 1 1 0-1-1-1 0-1-1-1 0-2-1-1 0-2zM132 1l-1 0-1 2 2 0zM182 61l-1 7 4 6 2 1 0-3-4-6zM131 185l0-3-2-1-5 2zM100 280l0 2 3 4-2-6zM210 41l-3 5 1 3 4-3 0-2zM178 304l-8 6 6-2zM329 5l0 5 1 1 0-6zM16 218l1 7 2 4 4 3-3-5-2-8zM194 56l-1 1 0 6zM154 151l-3-1-3 1-3 4zM148 147l0 1 6 2 0-5zM125 133l-5 5-3 1 0 1 5 1zM47 178l-10 7-5 5 0 3 6-3 0-1 6-5zM280 144l-4 0-5 4 4-1zM125 120l-10 3-5 4 0 3 10-5zM151 61l-1-1-5 6 5-3zM309 132l-3-1-3 3 6-1zM10 166l-3 0-2 2-5 2 0 4 6-3zM268 78l-2 5 6 7 3 2-1-9zM258 130l-1 1-1 0-1 1-1 0-1 1 1-1 2 0 1-1 1 0 1-1zM227 0l6 7-1-7zM222 210l2 4 5-1 2-3zM276 150l-4 1 0 1zM66 179l-1 0-2 3 1 2 3-3zM2 242l0 2 6 5 1-2zM220 80l-1 3 5 4-1-5zM95 269l0 3 8 2 2-2 0-3zM281 42l0 2 5 3-2-3zM250 307l-3-1-1 1-3 0-5 3 1 1 4 0zM223 36l-2 3 0 2 4 4 4 0 0-2-4-4-1-3zM283 35l0 5 2 0-2-3zM267 193l-3 0-8 5 4 2 3-2 2 0zM154 174l-2 0-5 3 1-1 4 0 2-1zM98 53l-6 2-2 5z"/>
<path fill="#5a40e0" stroke="#5a40e0" d="M193 46l-2 0-2 8 2-1 0-3zM287 235l2 3 3-1-2-3zM2 52l-2 4 0 5 1 1 2-4zM56 228l-1 2 2 3 0 2 5 4 1-2-2-6zM285 287l-1 1 3 6 1-7zM217 107l2-1 3 2 0-1-4-2zM293 11l-1 13 2 1zM119 245l-3-3-4 3-3 0 1 2 3 2 4-1zM25 323l1 2 4 3 0-2-2-3zM318 16l-1 9 1 0zM207 166l-1 0-3 5 2-1zM157 19l-1 0-1 2 0 5 1 1 2-4zM28 240l7 14 2 2-2-7 0-4-4-4zM115 208l-2-1-5 2zM319 69l4 10 1-2-2-3-1-5zM175 2l1 2 0 11 1 0 2-3 0-8-1-2zM158 195l2 2 2 0 2-2zM11 172l-11 4 0 2 3 1 3-1zM330 143l-8 1-4 3-1 2 9-1zM266 221l7 0 2-1-9 0zM159 197l-3-3-2 5 3 0 2-1zM68 151l-9 7 5-1 3-3zM41 94l-4 0-4 2-5 5 1-1 4 0zM74 229l4 4 9 6 1-1-4-4-6-2zM260 139l-4 0-4 2-2 5-2 2 8-4zM22 199l-4 3-2-1 0 1 2 2zM144 51l-5 3-4 4 1 3 5-3zM154 273l-2-2-1 1-4 0zM168 254l0 1 2 0 2 2-1-4zM202 316l-1-1-3 1-2 2 0 3 4-2zM305 184l-6 0-4 2 0 3 5-1zM99 173l-3 0-3 2-2 3 4 0zM295 260l-2 3-1 5-3 4 1 3 2-1 2-4 0-8zM113 205l-1 0-1 2 1 0zM284 195l1-1 4 0 2-2-7 0zM45 304l0 1 6 2-3-3zM107 210l-1 1-1 0 1 0zM135 6l-2 0 0 3-1 1 1 1 0 4 2-1zM137 330l0 1 4 0zM186 319l-3 2 3-1zM151 205l-5 3 1 1 3-1zM324 287l-1 6 6-2 0-4zM15 197l-2 0-11 6 3 0 1 1 2-1 4 7 1-3-3-5zM298 199l-7 2-7 4 7-2zM33 312l4 6 3-2 0-2zM84 139l-7 3-1 2 3 0zM189 128l4 1 10-6-8 0zM192 51l-1 3 1 3zM17 328l-3 1-1 2 5 0zM4 62l0 5 2 0 0-3zM290 199l-5 4 5-2zM237 69l1 14 3 0-1-12zM71 2l0 6 1 1 0-6zM30 26l-1 1 1 8 1-7 1-1zM195 283l-3-1-4 1-4 4 0 2 3 2 1-2zM288 232l-1-1-3 4 2 0zM160 11l-3 6 1 3 1 0 1-2zM144 101l-7 4-4 4 5-2 4-3zM68 145l-3 1-3 4zM47 113l-1 0-1 2zM184 39l-3 2 1 6 2 0 1-3zM73 190l-1-1-8 4-1 6zM52 194l-3 1-2 2 0 2 1 0zM134 16l-2 0-3 5 2 0zM86 138l6-3-4 0-1-1zM158 221l-2 0-5 6zM80 144l-5 5 2 0zM216 8l-3 5 0 4 2 3 0 2 4 2 3-4 0-5-3-5zM117 15l-3 4 1 8zM23 17l0 8-1 3 1 3 4 2 1-8-1-3zM195 29l1 2 0 9-1 3 1 1 3-3 0-6-3-3zM47 300l4 3 0-4zM0 242l0 6 1 1 0-7zM213 112l-4 1-5 5 3-1 6-4zM124 69l-5 0-1-1-2 1 1 6zM147 0l-3 2-1 4 2 1 3-5zM109 203l1 1 3 0 1-2zM317 206l-8 1-3 2 6 0zM231 95l-1 1 0 3 3 2 2-3zM109 205l-6 3 3 0zM327 110l-2-7-2-3-1 1 0 4 1 1-1 3-4-2-4 0 8 3zM242 33l-2 0-1 5zM279 301l1 2 0 6 6-1-4-7zM43 299l1 4 3 0-1-3zM80 302l-2 3 0 4 1 3 4 0 2-2zM198 70l1 5 2 3zM278 209l-4 2-3 0-3 3 1 1 4 0zM68 107l-7 2-2 4 7-1 2-3zM57 103l-2-1-3 2-3 5 2 1 6-4zM74 143l-4 7 5-4zM14 84l1 1 0 3-2 4 0 4 1 1 0 3 4-2 0-5-1-1 0-6zM126 90l-6 5 0 2-2 3 6-6zM196 170l-6-2-9 4-2 2 9 1zM294 229l-4 2-1 2 5-2zM216 153l-8 6-3 4 2 1 6-3 2-2zM290 142l-4 0-1 1-3 0 0 1 5 0zM18 197l-2 0-6 6 3-1 2 2-1-3 1-1 3 0 1-1zM52 139l-2 0-5 6zM0 210l1 5 3 4 2-1 0-3zM140 269l1 1 0 1 3 3-3-3 0-1zM223 0l1 5 2 2 5 2 1-2-6-6zM278 38l0 4 2 0zM60 148l-2 1-7 8 3 0 5-5zM139 232l-2-1-2 2 3 0zM257 7l0 1 1 1 0 1 1 1-1-1 0-1-1-1zM318 14l1 2 0 10 2 4 0-11zM330 199l-8 5 8-3zM196 173l-1-1-6 3-1 2 8-2zM24 313l1 3 4 4 1-3zM222 110l-5 3 2 1 2-1 1 1 1 10 0-12zM286 86l4 8 1 0-1-5zM233 201l1 1 9 0 1-1-6 0-1-1-1 1zM218 0l2 5 3 1 0-2zM188 0l0 1 2 1 0-2zM36 244l0 5 1 1 0 3 1 0 1-5zM263 63l-4 2 0 4 1 1 3 0zM325 234l-4 0-1 1 2 3 0 5 4-6zM328 233l-1 1 1 0zM283 0l4 6 2-2-4-4zM281 201l2 0 3-2-4-1zM313 120l-2-1-9 4 6 0zM251 300l-7 2-4 3 1 2 5-1 5-4zM303 218l0 2 6 1 1-3zM3 59l-1 2 1 3 1-3zM299 0l2 7 0 6 3 1 1-6-4-8zM298 127l2 1 7-4-8 0zM260 242l-3 3-3 6 6 0 2-3-2-3zM319 14l3 5 0 9 2 1 3-3 0-7-2-4zM128 70l-3-1-11 10 6 0 8-4 1-2zM224 6l-2 1 3 6 2-3 0-2zM119 13l-2 5 4-3zM290 198l-5 2-2 2 1 1zM110 195l-3 0-6 4 6 3 3-5zM16 130l-3 0-4 2-2 3 7-2zM61 265l8 7 3 5 0-3-5-6zM11 288l2 3 3 2 0-1zM202 93l-2 0-8 4-3 5 2 1 10-6zM91 37l-3 14 4-5 1-3zM54 267l1 2 7 4 3-1-3-3zM30 321l6 0-5-3zM282 206l-2 1-10 0 0 2 1 1 3 0zM324 64l0 5 5 10 0-11-3-4zM144 78l-1-1-7 6 5-1zM287 236l-2 0 0 4zM307 155l2 2 5-3-6 0zM255 8l-2 4 4 5 0-5zM184 324l-6 1-3 4 3-2 5-1zM310 160l-3 0-4 2 0 5 9-4zM79 255l1 2 0 8 3 1 0-7-1-2zM241 72l1 9 5 0zM108 212l-1-1-1 1zM146 271l5 0-1-1-3 0zM246 199l-2-3-6 4 7 0zM78 184l-1-1-3 1 1 1zM19 170l-1-1-4 1-5 6zM15 201l3 7 1-1 0-3-1 1zM136 180l-4 2 0 4 1 1 6-4zM173 135l-3 2-3 6 4-3zM318 211l-5 1 0 1zM2 140l-2 3 2-1zM160 190l5 0 0-2-3 0zM253 285l-9 1 5 3zM166 191l4 0 8-3-6 0-3-2-2 0-1 1zM25 49l-2 1-2 5 2 4 4-3 0-3zM218 114l-2-1-3 1-4 5-1 3 4-4 6-3zM263 52l7 4-4-5zM127 291l3 2-1-2zM239 32l-3 1 2 3zM261 184l-4-1-2 1-1 3zM22 171l-14 6 6 0zM183 305l-3 1-3 3 3-2 2 0zM56 7l0 8 1 1 0-2 2-3-2-4zM126 285l3 4 1-2zM179 3l1 1 0 8-1 2 1 1 4 0 1-1-1-7zM309 114l8 0 1-1-6-2-3 2zM315 105l-2 1 2 0zM49 106l-6 2 0 5 4-3zM87 139l-2 0-4 4 5-1zM323 242l-2 4 0 9 6-4-1-1 1-1 0-3-1-2zM301 226l-1-1-5 3 0 2zM290 88l2 5 3 2zM29 323l2 3 0 2 2 2 1-3zM120 311l11 8-6-6zM256 7l0 2 1 1 0 1 0-2-1-1zM98 1l-3 5-1 8 0-2 6-7 0-3zM261 54l0 2 5 6 2 0 1-1-1-2-4-4zM174 66l-3 0-3 2-2 0-3 3 3 3 7-5zM118 313l1 2 4 2 2-1-5-4zM89 181l-5 1 3 1zM200 70l5 7 1-5-3-3zM308 157l-2-2-4 0-4 3 0 3-1 1 7-1 2-1zM10 248l-1 1 0 3 4 5 3 0-1-5zM122 308l-1 2 5 3-3-5zM92 130l2 1 4-2-5 0zM135 109l-7 3 2 0zM63 0l-2 0-1 2-3 2 0 2 4 7 2-5zM189 179l-1-1-3 1-2 5zM265 178l-5 0-7 3 1 1zM35 73l0 10 3 1 0-6zM216 106l-9 4-4 3 4 0 6-2 3-3zM36 124l-4 0-6 6 4-1zM271 35l-1 7 5 3 1-2zM84 78l-3-2-5 8 5-1zM159 21l0 2-3 6 4-1 0-6zM266 130l6-1-5 0zM300 123l8-4 2 0 0-1-7-1-3 3zM172 139l-3 5 3-1zM40 235l1 2 5 3-2-3zM195 317l-8 1 0 1zM87 118l-3-1-3 6zM50 138l-5 2-4 5 5-3zM2 179l-2 0 0 2zM283 235l-1 3 0 8 2-1 1-3zM153 72l-2 0-3 4zM113 22l-3 1-1 2 0 8 1 1 5-4zM4 276l4 7 3-2-1-4zM307 116l1 1 4 0 4-2-8 0zM16 132l4 0 3-2 2 0-6-1-2 1zM284 313l-5 1-6 4 6 0 6-3zM253 71l6 3-2-3-2-1zM30 268l1 3 4 3-2-5zM262 224l6 0 1-1 3 0 0-1-7 0zM112 159l-3 4 1 1-1 2 1 2 4-3zM190 167l-7 0-6 2 0 5 4-3zM265 6l1 1 0 3 0-4zM284 204l-2-2-4 0-1 1-3 0-5 3 11 0zM186 88l-5 4-3 4 0 2 5-4zM86 143l-5 1-1 2 3 0 1 1zM321 257l-2 1-4 5 0 5 2 1 6-2 1-5zM330 113l-1 1-1 0 1 0zM330 189l-2 1 1 2zM222 109l-3-2-5 4 5-3zM30 322l4 4 3 1-1-5zM266 105l-3 5 1 3 2-2 2 0zM277 298l-1-1-6 0-2 1-2 3 0 3 2 2 2 0 7-5zM300 129l-4-2-6 4 1 2 2 1 6-3zM72 150l-3 1-1 3zM67 38l-2 6 0 9 3 5zM239 326l-4 1-7 4 8 0zM217 298l-9 4 0 1 3 2 3-1 3-4zM47 201l0 1 3 0 0-2zM215 200l-3-2-5 3-1 2 6 0 3-2zM329 169l-3-1-7 4-2 0 10-1zM230 100l0 2 4 5-1-5zM283 89l1 1 0 6 3 4 2 0 2-2-2-5-3-4zM319 97l-2 9 4-1 0-4zM295 20l0 7 1-2zM220 6l-2 2 3 5 3 1 0-2zM241 331l-2-3-2 2 0 1zM62 264l5 3 5 6 0-4zM330 232l-1 2 1 0zM144 103l-10 8 5-2zM171 252l3 4 3 0 2-2-2-1-1 1zM26 121l-4 7 2 1 3-1 0-6zM161 143l-6 2 0 3 5-3zM82 186l-3-2-6 5 3 1 6-3zM275 49l-3 2 0 2 3 2-1-1zM237 247l-2-2-3 0-5 3-2 0 10 2zM197 23l-2 1 0 4 4 6 0-5zM21 175l-7 3 4 0zM143 3l-4 4 0 5 1 1 0 4-1 1 2-4 0-5zM134 277l0 3 6 3zM87 185l6-3-4 0zM104 173l-4 0-4 5 0 2 3-1zM113 18l-2 0-1 4 3-1zM246 214l-3 0-1 1 0 6 1 2 3-1 5-4zM8 284l2 1 8 0-6-4zM248 65l1 5 3 1 1-2-2-4zM305 79l-2 4 0 3 5 3 2 0 0-6-1-2zM255 183l4-1-4 0zM235 99l-1 1 1 6 3 3 1-1 0-5-1-2zM98 321l0 1 4 3 7 3-7-9zM16 250l2 3-1-3zM43 283l0 5 2 2 5 0 0-1zM289 83l1 1 0 3 3 3 2 0-1-3zM204 318l-2 0-6 4 2 0 6-3zM55 108l-6 4 1 3 3-1zM4 55l0 5 1 2 2 1 1-6-1-3zM201 27l-1 1 0 6 3 1 0-3-2-3zM136 105l-2 0-8 5 0 2 6-3zM133 178l-3-1-4 4 2 0zM21 160l-7 7 0 2 6-5 0-3zM21 218l3 5 1-2-1-2zM25 213l-5 2 0 1zM58 55l-1 1 0 2 0-1 1-1zM37 241l2 3 1 6 2 1-1-5zM42 68l-2 5 0 6 2 2 0-3 1-1zM2 143l-2 2 0 1 1-1 0-1zM243 196l-9 1-8 3 1 1 5 0 1-1 3 0zM216 133l-11 4 8 0 3-2zM325 319l-2 1-1 3 1 1 0 4 2-1zM115 202l4-1 1-2-5 0zM57 55l-1 0-1 8 1-7zM282 196l0 1 6 1 1-1-1-2zM258 104l-1 6 3 6 3-2 0-3zM125 89l-5 2-1 2 1 1zM268 178l-5 1-3 4 6-1zM128 137l-4 1-2 5zM50 228l6 5-2-3zM186 216l3 2 3 0 2-1 0-3-1-1-3 0zM235 34l-3 3 1 3 3 4 3 0-1-7-2-3zM234 94l-1 1 6 6 1 4 2-4 0-5-3-2zM137 180l3 2 5-3 1-2-7-1-2 2zM99 129l-6 3 0 2zM109 207l-1 1 1 0 1-1zM301 221l0 4 5 0 3-2-7-3zM295 231l2 4 3 0 2-2 0-1-2-1zM36 199l-5-4-4 6zM71 184l6-2-4 0zM107 208l-4 3 3-1zM0 251l4 4 7 1 0-1-4-3-2 0-3-2zM232 26l-2 2 0 5 2 3 3-3zM281 217l-2-2-5 0-9 3 1 1 11 0zM267 50l3 5 1-2-1-2zM221 110l-2-1-4 2-1 2zM195 118l-6 3-2 0 0 3 5 0 2-1zM243 24l5 4 2 0 0-2-3-4zM120 191l-9 3 0 2 4 0 5-4zM185 251l-1-1-1 1-3 0-2 1 0 1 5 1 2-1zM173 181l1 3 3 3 2 0 3-2 0-1-4 0zM246 235l-3 0-4 3 4 3 4-3zM2 79l-1 0-1 3 2-1zM79 191l-1-1-5 1-8 7-1 2 2 3 2-1 5-5 4-2 2-2zM228 284l-5 1-3 2 2 1zM14 22l0 4 4 7-2-5 0-6zM133 137l-3-1-8 8zM109 204l-3-1-6 5zM129 113l-1 0-1 5 3-2zM190 45l-3 1 1 6zM294 139l-5-2-6 3-1 2 3 0zM255 190l-3-1-7 6 5-1zM319 198l-5 0-4 4 3 0zM227 301l-7 2-6 3 0 1 7-2 3-3zM329 237l-3 6 1 2 2-3zM190 198l-2 3 0 2 5 3 2 0-2-4 0-3zM313 110l6 3 3 0 4-2-4 0-8-3zM319 107l3 1 0-2zM81 236l6 7 0-3zM306 227l0 2 2 3 9-3-3-5-6 0zM30 213l-4 0-5 4 3 1 2 3 1-2-3-1zM299 306l8 0 3-2-2-1-5 0-3 1zM145 326l3 5 8 0zM229 292l3 1 3-3-5 0zM116 117l-3 0-8 7 7-4 2 0zM173 8l-2 6 0 4 3 2 1-8zM168 182l0 3 4 2 4 0-3-3-1-4zM134 229l3 1 5-4-5 0zM187 207l1 4 2 1 5-1-7-5zM98 110l8-4-6 0-2 1zM41 10l0 3-1 1 1 1 0 6 2-5zM184 0l0 2 6 5 0-2-3-5zM307 217l6 1 6-2-9 0zM24 0l-1 0 0 1zM78 182l0 1 2 0 0-1zM289 285l-1 1 1 2 1-1zM176 177l4 2 7-1 0-2-3-1-7 0zM76 150l-3 0-3 3 2 1zM287 237l-2 6 1 3 4-6 0-1-2 0zM266 102l0 2 3 5 2-2-1-2zM136 324l1 5 5 2 5 0-3-5zM178 0l1 2 5 4-1-6zM262 0l0 2 4 3 1-5zM0 279l0 4 5 3 2-3zM252 66l2 3 4 2-3-4zM149 264l1 5 3 2 1-2-1 0zM319 86l-1 7 3 7 2-1-4-9zM86 35l1 1 1 8 1 0 0-5zM2 5l-2 1 0 6 2-1zM261 180l-1 1-2 0 2 0zM312 212l-4 0-5 4zM167 184l-4 3 2 0zM0 215l1 5 4 4-2-6zM293 117l0 4-1 1 2 2 5-1 0-2-4 1zM240 329l2 2 3 0 10-4 3 0-18-1zM128 276l1 4 4 6 1 0 0-5-1-2zM208 313l-5 1-1 1 1 2 4-1zM27 271l3 1 0-1zM220 51l-1 2 1 4 4 3 2-3 0-2-3-3zM329 235l0 1 1 0 0-1zM81 176l-5 2-2 3 3 0 4-2zM71 34l-3 3 0 8 1 3 2 0 1-8 1-1 0-2zM15 165l-1-1-3 1-1 3 2 0zM110 205l-2 2 1-1 1 0 1-1zM276 93l0 3 4 4 1-2zM8 136l-2 0-3 3 0 3 6-4zM186 32l-1 8 1 1 0 3 2 1 1-1 0-6zM130 289l-1 1 1 2 1-1zM281 196l-4 1-3 3 0 2 6-1zM4 30l-1 10 5-2 2-2-1-2zM283 167l-8 3 6 1zM132 191l-2 0-5 3-4 5 0 2 2 1 8-8zM271 54l0 5 6 4 0-3-2-4-2-2zM85 311l-1 3 3 2zM156 193l1 1 3 0 5-3-5 0-1-1zM298 124l-9 2-3 4 5 0 6-4zM292 120l-1 1 1 0zM28 30l0 5 2 1zM169 3l1 1 0 6 2-1 0-3zM0 1l0 4 1-1zM133 111l-3 2 1 1zM162 146l-1-1-6 4 0 1 6-1zM62 151l-7 6 1 2 4-3 2-3zM279 5l1 4 6 5 0-4zM322 68l1 6 2 4 2 0-4-10zM174 229l2 1 10 0 2-3-4-3-6 0zM12 55l-2 2 2 6 1-2zM150 264l3 4 8 2-4-3zM19 318l4 7 2 1-1-4zM90 178l-5 1-4 3 5-1 4-2zM178 53l-2-1-2 2-9 3 8-1 5-2zM201 119l-3-3-2 2-1 4 2 0zM234 204l7-1-7 0zM86 122l-5 3-1 2 4-1zM190 93l-2 4 1 0zM163 315l-7 4 0 1 3 0 4-2zM0 306l0 2 2 0zM269 169l1 1 3 0 13-5-3-1-9 0-3 2zM291 283l-1 3 1 2 2 0 1-2zM247 230l-3 4 3-1zM200 17l-2 4 1 7 3-5 0-5zM191 125l-8 1-1 1 0 3 6-2zM234 317l-5-1-6 3-2 3 5 2 7-5zM144 157l-4 3 1 2 4-3zM16 289l2 4 4 0 1 1 1-2-2-2zM324 198l-2-1-7 4 7-1zM169 192l-4 0-4 2 4 0zM298 157l-9 1-12 5 3 0 12-4 4 0zM92 131l-2-1-3 3 1 1 4 0zM217 101l1 1-1 4 1-2 3 2zM258 2l-1 4 2 2 1-5zM88 247l3 9 7 5-4-8-3-4zM300 76l0 5 2 4 2-6zM48 113l-5 5 5-3zM152 262l1 2 5-2 1 1 1-3-5 0zM23 155l-8 9 7-6zM177 108l-9 2 1 5 4-2 3 0 2-2zM25 165l-1-1-3 0-4 4 3 1zM231 139l-5 1-2 5 6-3zM70 2l-3 3 0 5 2-2zM38 65l-2 5 0 4 1 2 2 1 1-7zM125 158l-5 2-3 5 5-1 2-2zM329 292l-2 0-3 2 0 4 4 3zM7 133l-2-1-3 1-2 3 0 2 2 1zM97 246l1 4 2 1 5-2zM62 260l0 3 10 5-1-2zM315 197l6 0 2-1 0-1-5-1zM262 53l2 1 6 7 1-1-2-4zM78 145l-2 0-3 4zM275 84l1 8 5 5 1-1zM168 144l-3-1-3 1 1 3 1 0zM288 66l1 2 0 9 1 1 1-2 0-9zM147 229l-3-2-2 0-3 2-1 2 5 1zM27 209l-4 1-4 4 6-2zM22 45l-3 4 0 2 2 3zM159 297l9 6 3-2-1 0-4-5-4-1zM302 189l-8 1-3 3 8-1 2-1zM24 315l3 7 2 0zM204 78l0 2 2 1 1-1zM65 145l-4 2-1 4zM2 71l-1 2 1 3 2-2zM1 297l-1 1 0 7 5-4 0-1zM201 79l0 3 1 0zM253 113l0 2 3 4 6-4-2 2-2-2-2 0zM115 209l-7 1 1 2zM251 142l-11 4-7 4 13-1zM194 271l-7 0-4 2-2 6 1-1 6 0 6-4zM328 236l-1 0-3 6 2 0zM39 9l-2 3 0 8 3 6 1-1 0-3-1-1 0-6-1-1 1-1 0-4zM248 231l-1 4 1 2 1 0 2-2 0-2zM106 57l4 2 3-3-4-1zM304 216l-1 1 1-1 1 0zM309 214l-1 1-1 0 1 0 1-1 1 0zM34 314l2 6 1-1zM0 63l0 3 2 3 1-1 0-3zM195 70l1 1 0 3 4 7 0-3-2-3-1-6zM253 225l-5 3 0 2 4 3 2-5zM71 185l-2 0-2 3 1 2zM73 181l-1 1-1 0 1 0zM322 201l-8 1 0 2 1 1 4 0 2-1zM90 311l0 2 6 8 5-3-3-7zM253 182l-1-1-2 1-5 5 4 0zM3 208l3 6 2 0 1-1zM44 57l-2 3 0 3 2 1-1-2zM55 47l0 4-3 8 0 3 2 0 0-3 2-5zM38 237l1 2 7 6-3-5zM330 196l-6 3-2 4 7-4zM138 272l1 0 1 1 1 0 1 1 1 0 1 1-1-1-1 0-1-1-1 0-1-1zM225 182l-2-2-3 0-8 4 0 1 10-1zM306 226l-4 0-1 1 2 6-3 4 6-6-1-2zM142 233l-7 1-1 4 2 0zM144 258l-1 1 4 9 2 1-1-5zM158 300l6 6 3 1 3-1 5-4 0-1-7 3-9-6zM206 130l-1 6 4-3zM202 119l-1 1 1-1 2 0zM179 55l-12 3 0 1 7-1zM208 124l-2 5 4 4 4-5-3-3zM48 303l7 6-3-4zM217 62l1 6 1 0 1-4zM38 278l0 7 4 3 0-6zM138 7l-2 0 0 5 2-1zM245 258l-12 7 3-2 7-1zM328 57l2 5 0 3 0-8zM299 309l-14 4 2 1zM137 12l-2 3 0 2 3 2 1-6zM51 231l2 4 3 1 0-2zM47 301l2 2 1 0 1 1-2-2-1 0zM28 243l0 4 3 6 7 6-4-5-4-9zM118 157l-5 2 2 6 4-5zM258 8l1 1 0 1 0-1zM49 110l-1-1-2 3 2 0zM175 147l-2-3-3 0-8 5 2 0 3 2 3 0zM210 234l8 4 2 0 3-2-2-3zM80 99l-2 0-2 3-7 6-1 3 6-2 4-4zM139 110l-5 2-3 3 6-1zM115 120l-11 5-2 3 2 1 4-1 8-6zM291 200l5-1 2-2-5 0-2 1zM70 228l9 9 0-1zM301 231l-1-3-3 2 3 0zM89 180l1 1 5 0 0-2zM312 297l-6 5 5 1 2-2zM23 32l0 6 1 2 4-1-1-1 0-4zM291 233l2 3 3 0-2-4zM18 133l-3 0-3 2-2 0-1 2 2 0zM261 3l-1 2 0 6 3 7 1 0 1-3-2-3zM173 178l0 2 5 3 4 0 1-1 0-2-3 0-5-3zM125 289l3 1-1-2zM330 192l-5 3-1 2 1 1 5-3zM85 0l-2 0 0 2zM217 130l-2-1-7 6 8-3zM151 219l-4 4-4 2 0 1 4 2 3 0 2-4zM134 274l0 2 2 2 3 0-1-2zM219 100l-1 1 2 3 3 2 1-1zM81 183l2 3 3-1 0-2zM91 207l-8 5-1 2 2 2 5 0 3-4zM261 200l0 1 5 4 3 0 4-2 0-3-3 0-1-1-6 0zM176 238l4 0 6-4-1-3-8 0-1 1zM17 24l0 4 2 4 0 3 3 0zM274 32l-3 2 5 8 1 0 0-5zM256 135l-1 1-3 0-4 6 8-4zM314 218l-3 1-2 3 1 1 3 0zM60 221l-1 2 10 6 0-2-3-3zM202 78l0 1 1 1 0-1zM126 193l-5-1-4 6 4 0 1-2zM193 69l-1 5 4 6 1-3-2-3 0-3zM42 64l2 10 1-7-1-2zM64 3l0 5-1 1 2 4 1 0 0-7zM204 120l-6 2 6 0zM134 234l-7 1-7 4 13-1zM136 231l-3-1-1 3 2 0zM289 157l-8-1-4 3-3 4 2 0zM131 231l-4 0-4 5 8-3zM236 205l-9 1-5 2 5 1zM119 193l-4 5 2-1zM309 125l-2 0-6 3 0 2 5-2 3 0zM221 223l0 8 4 0 1-1-1-4-2-3zM94 0l-1 0 0 3zM44 16l-1 1 0 8 1 1 1-2zM9 285l7 6-4-5zM226 46l3 6 1 8 4-4-1-1 0-4-3-5zM20 170l-1 1-1 0-2 2-1 0-1 1-1 0-1 1 1-1 1 0 1-1 1 0 2-2 1 0zM86 311l2 6 2 2 4 1-5-8zM32 313l-1 4 4 3-2-7zM169 293l-2 3 3 3 2-2zM80 237l4 6 3 2-3-5zM161 19l-1 1 1 2 0 7 2 1 0-7zM313 214l-9 3 9-2zM105 104l-4 1 4 0zM225 141l-6 4 4 0zM296 259l-1 3 0 8-3 5 2 0 4-6 0-9zM95 243l3 3 2 0zM152 219l0 3 1 1 2-3zM307 324l-2 1-7 0 0 2 2 2 4 0zM115 250l3 5 3 0-2-6-1-1zM142 17l-1 0-3 4-4-3-2 3-1 6 1 0 1-3 4-4 1 2zM251 136l-4 0-7 7 1 2 5-2zM105 212l-2 0-1 2zM34 239l1 1 0 1 1 1 0 1 1 1 0-1-1-1 0-1zM24 167l-6 5 3-1zM289 196l3 1 2-3-4 0zM58 190l-5 4 0 2zM326 174l-5 0-8 4 0 1 5 0zM114 200l-4 2 1-1 3 0zM227 57l-3 4 2 4 3 2 1-6-1-3zM57 59l-1 4 1-1zM75 258l-1 2 3 5 2-1 0-4zM62 259l9 6 1 2 4 3 0-3-3-3zM299 13l-3 5 0 3 1 2 2 1-1-3zM317 290l-1 0 0 5zM185 45l0 4 2 1-1-5zM223 222l2 2 2 6 2 1 6 0-8-10zM330 145l-3 4 3 0zM275 197l-9 1 8 1zM322 216l-2 0-4 2 0 1 3 2zM158 199l-1 1-4 0-1 2 3 0 2-1zM317 213l-2 0-1 2 2 0zM47 234l2 3 6 5-2-6-2-2zM245 320l-5-1-8 5-3 5 6-3 5-1zM229 101l-1 2 5 6 0-2zM45 58l-1 2 1 6 1-1 0-5zM105 57l-4 3 3 4 4-4 0-1zM305 295l-1 0-1 5-2 3 5-2zM206 165l-2-1-7 6 4 0 1 1zM137 279l5 5 4 1-6-6zM134 59l-3 1-3 6 8-4zM13 89l-4 3-2 4 2 1 1 3-1 3 4-2 0-4-1-1zM142 271l3 3 1 0-1-1-1 0zM297 159l-1 1-4 0-1 1-10 2 9 1 6-2zM225 102l-1 2 3 2 0-3zM195 189l-10 6 2 0 2 2 3 0 4-4zM254 183l-1 0-4 5 1 1 3-1zM314 205l-8 1 2 1zM105 130l-5-1-5 5-4 2 6 0 4-2zM279 3l2 3 4 2-4-5zM271 152l-7 1-4 3zM13 178l-4 0-2 2-3 7 4-3z"/>
<path fill="#2098ee" stroke="#2098ee" d="M69 296l3 5 4 1-3-5zM117 215l5 0 1 1 3 0 1-1-1-1-8 0zM72 10l0 4 1 0zM124 265l1 3 2 1 6 7 0-3-6-7zM288 214l-1-3-6 2-1 2 1 1 4 0 1-1 1 1zM22 189l-3 2-2 0-2 5 3 0 5-4zM28 137l-2 0-2 3 0 4 1 1 1-5zM105 312l8 10-1-6-2-2zM67 113l-4 7 7-3zM148 172l-4 3 0 1 3 0zM83 288l3 5 0 2 2 1-2-5zM299 246l-2 0-3 4 0 4 2 4 2-1 3-6 0-3zM146 23l-2 0-9 7 9-5 2 0zM262 91l1 4 3 3-2-2zM157 30l-2 0-1 2-4 2-2 3 2 1zM204 290l-3 0-6 4 2 1zM113 216l0 2 2 3 3-1-2-4zM256 164l-1-2-8 3zM43 54l-1 1 0 4 2-3zM250 205l-1 5 5 1-3-6zM247 77l1 1 0 3 5 4 0-3-4-5zM237 61l0 6 1-3zM134 224l-3-2-5 4 3 0zM213 147l-1 0-3 4 2 0zM28 150l-1 0-6 11 0 2 10-10zM267 126l-2 0-5 4 6-2zM117 176l-4 2 0 3 1 1 3 0zM247 154l-4 0-4 2-1 2 4 0 1 1 4-2zM97 294l0 4 5 3 2-3zM257 166l-9 3 0 3zM237 124l-1-1-7 4-6 7zM290 244l1 5 3 0 1-2zM27 220l1 4 5 4-3-6zM187 24l-2 1-1 2 5 10 0-12zM143 84l-3-1-4 5zM105 107l-9 5 0 1 2 1 7-5zM46 223l5 5 2 1 2-1zM47 128l3 0 7-4-10 1zM15 44l-5 2 2 6zM28 294l1 4 2 0-1-3zM271 7l0 7 4 6-1-7zM189 311l-2 1 0 2 2 0zM45 250l2 4 1 0 0-2zM88 131l-3 0-10 5-1 5zM0 309l0 2 2 1 4 0 5 2-8-5zM133 314l7 8 1-1 0-3-3-3zM162 36l-8 6-4 5 7-3 6-6zM196 14l-2 5 1 1 0 3 2-1 2-4zM193 179l-2 0-3 2zM24 293l0 2 4 3-1-5zM125 259l2 6 2 2 2 0 1-2-3-4zM58 324l1 2 8 0 1 1-4-4-5 0zM66 319l0 2 7 6-2-4zM94 79l-12 10 7-2 5-6zM280 17l2 2 0 1 1 1 0 1 0-1-1-1 0-1zM63 184l-1 0-4 5 3-1 2-2zM162 261l3 1 8 7-6-8zM147 94l-3 1-1-2-3 2-2 3 2 0 2-2 2 0zM288 272l-7 6 0 5 3 1 2-5 3-3zM109 327l1 2 3 2 4 0 1-1-3-2zM98 32l-1 0-1 2 1 8 1-1-1-2 0-6zM148 130l-4 0-12 5 3 1 6-4zM115 256l1 3 2 1 4-2-1-2-3 0-1-1zM167 110l-6 9 3 0 4-4zM0 220l0 3 3 3 3 0zM2 28l0 3-2 4 0 5 2 0 1-3 0-8zM206 219l2 4-1 1 8-1-1-2-3 0zM72 77l-2-1-5 6 5-2zM201 140l-9 2-4 6 9-3zM323 268l-5 2 1 4 2-1 2-3zM119 183l-4 0-4 3 1 4 3-2zM262 134l-5 1 0 3 5-1zM213 29l0 4 2 2zM316 75l2 5 4 0 1 1zM105 221l-1 1 1 0zM103 216l-2-1-5 5-4 2 11-4zM73 47l-1 2 4 6-1-8zM238 57l-1 3 1 3 1 0zM222 195l9 1 1 1 6-1-12 0-1-1zM260 34l-1 7 1 2 3 2-1-8zM86 89l-7 2-3 4 0 2 1 1 3-4zM169 279l-2 1 2 0zM160 279l3 3 7 3-3-3zM319 84l3 11 0-7zM93 190l-2 0-3 2 4 1zM59 287l-1 1 1 3 2 1 1-4zM65 132l-5 4-5 9 2 0 5-5 3-5zM259 127l-5 2 2 0zM71 12l-1 0 0 3zM119 248l2 3 1 5 4 2-1-1 0-4zM149 229l-3 1-3 3 2 2 4-2zM239 271l-4 2 0 1 4-1zM34 54l-2 3 3 4 0-7zM118 315l10 11 3 0-7-8zM161 124l-13 3-1 2 8-1zM151 108l-7 3-2 2-1 6 3-2zM201 142l-2 2 0 1 2 1 2-2 0-1zM319 47l0 4 3 3 2 0-1-3zM247 0l0 2 3 5 0-6zM66 166l-6 3 0 3 5-3zM91 296l0 3 3 5 6 0 0-3zM130 245l-1 2 9 6 4 5zM42 46l0 3-1 1 1 1 0 3 1-2 0-5zM204 32l0 3 5 4-2-6zM319 304l-3 3-1 7 1 0 1-2 0-3zM123 307l4 7 8 9 6 1-12-13zM96 43l-3 1 0 5 3-2 1-2zM139 217l-13 4 7 0zM202 50l0 3 2 4 2 1-1-3 1-7zM80 168l-2 0-4 6 2-1zM161 242l1 3 6 3 4 0 1-4-6-3-5 0zM285 79l0 4 1 2 3 2 0-3zM143 40l-2 1-5 0-6 4zM162 325l4 4 5 2-6-5zM264 97l1 3 2 1zM81 105l-2 0-3 3-1 5 4-3 2-3zM248 191l-3 1-10 0-1 2 2 1 8 0zM296 170l-1-1-3 0-4 3-1 2 3 0zM130 91l-2 3 2 0zM196 224l2 2 4 0 4-2-5 0-1-1zM220 77l1 1 0 1 1 1-1-1 0-1zM105 173l-4 5-1 6 2 0 2-4zM241 267l3 1 1-2-3 0zM190 104l-2-1-3 2-2 0-4 2-1 2 1 1 6-1zM156 0l-2 0-2 4 2 3 1 0 2-3 0-3zM132 122l-8 5 0 3 2 2 2-2 7-3-2-1-1 1-1-1zM25 103l-4 1-1 4 1 0zM320 135l6 0 1-1-1-1-5 0zM177 246l5-1 0-1-3 0-2 1zM58 106l-2 1-2 7 4-1 1-2zM153 78l-2-2-4 1-3 7 7 0zM246 165l-4-3-5 2 4 2zM126 0l-2 0 0 2 1 0zM12 186l-9 3-3 2 0 2 3 2 6-2 4-3-1-1zM58 280l3 5 2-1-1-3zM121 149l-1 1-1 0-1 1 1 0zM173 290l3 6 2-1-1 0zM51 63l-1 5 3 10 1 0 2-5-4-7 0-3zM322 290l-3 13 2 0 2-5zM278 14l0 1 1 1 0-1zM228 214l1 3 5 0 4-2 0-1-3 0-1-1zM80 124l-4 2 0 1 3 0zM120 43l-6 2-2 2 2 1zM53 277l3 3 2 5 3 1-4-6zM268 169l-7 2-6 0-6 2 0 2 2-1 7 0zM114 321l0 2 5 6 3-2 0-2-2-3zM116 75l-9 2-4 4 0 2 2 1 5-4 3-1zM246 176l-7 3-3 0-3 2 0 2 2 1 5-1zM330 158l0-5-6 2 4 3zM133 257l1 3 4 6 2-1 0-4-3-3zM299 239l6 2 3-1-3-2-5 0zM125 132l-2-2-6 5-2 3 1 1 4-2zM222 146l-5 0-3 7 6-3zM47 95l-7 3 1 2 2 0 3-2zM224 127l-2 0-4 3-2 6 3 0 5-4zM302 217l-5 2-4 4 2 1 4-2 3-3zM88 2l-2 3 5 14-2-7 0-10zM0 228l0 5 1 1 3 0 0-2zM129 75l-4 3 0 2-2 3 6-5 1-2zM289 329l-1-1-2 2zM325 262l-1 6 3 2 0-7zM152 142l-1 1-8 0 0 1 4 3 6-3zM170 154l-3 5 5-2zM206 173l-3 0-4 2-1 2 2 0zM77 55l0 3 1 1-1 7 3-3 0-7zM267 160l-5 3-4 1 0 2 5-1zM239 64l-2 4 3 2 1-1zM233 66l0 6 3-1 0-4zM153 0l-2 1-2 4 3-2zM326 28l-2 3 6 12 0-4-3-5zM69 52l0 13 2 2 2-7zM286 260l-5 3 0 4-1 1 1 1 5-5zM44 39l3 8 0 4 1 0-1-6zM265 331l-1-1-2 1zM56 160l-2-2-2 0-11 10 12-5zM54 196l-3 3 1 0 3-3zM65 54l0 12 1 1 2-2 0-6zM202 6l-2 1 2 10zM317 322l-2 5 1 3 1 0 2-3 0-3zM188 110l-2-1-7 2-3 5 4 2 3-4zM200 35l0 5 2 0 1-4zM142 112l-2 1-2 3 0 3-1 1 1 3 2-2 0-4zM330 183l-4 5 4-3zM247 205l-7 3 4 1zM284 323l-3-1-11 5 2-1 5 0zM224 106l-1 2 4 4 1 4 1-4-2-4zM44 124l-5 2-3 5 3 0zM202 142l2 1 6-5-6 0-2 1zM289 22l0 2-2 3 2 6 2-3 0-6zM74 282l4 5 3 0 0-4-1-1zM112 60l-3 0-7 8 7-2 2-2zM176 65l-1 5 1 3 1 0zM179 58l-3 1-3 4zM78 288l0 1 4 2 4 5-4-8zM202 61l-2 0-3 4 0 3 2 2zM106 270l-1 3 6 7 7 3 0-2-9-10zM207 147l-4 1-3 3 6-2zM169 174l-4 2 0 2 3 3 4-3zM78 224l-1 2 6 5 1-2-4-5zM91 222l-5 0 0 5zM68 280l0 5 3 0 2-4zM176 162l-7 5 3 2 2-1 3-4zM51 248l1 2 0 6 3-2zM175 312l-3 2-2 3 1 0zM269 234l-8 7 1 6 4-2 3-6zM274 161l-7 2-3 2 5 2 4-3zM107 46l-1-1-6 7 4-2zM186 313l-2 1 0 2 3-1zM145 236l-3-2-5 4 5 0 1 1zM42 108l-2 1 0 2-3 4 2 0 3-2zM251 311l7-3 3 0-10 1zM55 88l-5 8 4-5zM309 149l5-1-3-1-2 1zM294 179l-4-2-4 4-5 2 6-1zM229 114l1 1 0 11 5-3-5-2 2-1-2-6zM51 21l-1 1 0 3 2 4 1 0 2-2 0-2zM138 114l-3 3-2 5 3-1zM220 25l2 6 1 0 2-4zM235 82l-2 4 1 3 4 4 4 2-5-9 0-2zM15 258l2 7 4 4 2 0-6-7zM174 22l0 2 6 11 1 5 4-3-1-9zM140 197l-7 3 0 2 2 3 4 3 0-4 3-5zM69 66l2 9 5-6-3 2zM98 33l0 6 1 3 2 1-1-10zM155 159l1 2 4 0 1 1 3-1-2-4-5 0zM321 291l-3 3-1 6 2 0zM165 268l2 0 2 2-4 3 3 4 7-4 0-2-3 0-5-3zM188 245l-3 0-1 4 1 0zM46 1l2-1-2 0zM229 218l-2-3-11 1-1 6 7 0 5-2zM37 152l-4 3-4 7 8-4 1-2 0-3zM263 277l-7 2 4 2zM196 238l-9 4 5-2 3 0zM215 224l-2 0-5 5 6 0 2 1zM150 229l0 5 1 1 3 0 4-2-2 0zM74 157l-3 1-4 7 0 2 2 0 4-4zM1 322l-1 0 0 1zM52 215l2 3 5 2 0-1-5-4zM257 326l-2-4-14 3zM17 181l-6 1-7 6 9-3zM45 0l-6 0 1 1 0 7 5-5zM307 137l6 0 2 1 2-2-2-1-5 0zM304 267l-1 0-2 4zM170 323l4 5 1 0 2-4-2 2-2 0-1-2zM256 302l-4 0-4 3 0 1 2 0 6-3zM241 105l-2 6 3 6-4 4 6-3 2 0 2 2-6-9zM67 206l-1-1-7 5-2-1 0 3 2 2 6 2-2-3zM304 149l0 2 5-1-1-1zM222 179l3 0 4-3-2-2-5 0zM108 284l8 8 4 2-1-4-2-2-4-1zM59 81l-1 0-2 3zM62 80l-1 1-1 0-3 3 3-3 1 0zM164 283l1 1 1 0 1 1 1 0 1 1 1 0 1 1-1-1-1 0-1-1-1 0-1-1-1 0zM29 2l-2 3 1 3 2 0zM203 328l-1 1-5 0-4 2 7 0zM235 189l1 2 13-1-1-2zM203 226l-3 1 0 1 2 0zM118 7l-1 4 1-1zM304 40l0 5 6 8 1-2-6-9 0-2zM74 0l-1 0 0 1zM0 262l0 4 3 2 0-3zM299 212l0 1 1 0 0-1zM85 287l-1 1 3 3 3 6-1-8-1-2zM11 9l-2 7 1 2 1-1zM252 205l4 7 3-1zM51 290l1 8 5 1-1-3zM128 23l-2 2 3 7 1-3zM112 45l-3 1-7 6 2 0 5-3zM136 289l6 4 3 0 7 3-7-4-3-3zM158 55l-4 0-3 3 0 2 1 1 2-2 5-2zM24 330l1 1 1 0-1 0zM228 308l-4-1-8 6 0 1 6 1zM94 280l4 5 0-2zM132 101l-6 3-1 3 5-3zM62 143l-2 0-3 3 0 3-1 1 4-3zM281 155l-4-1-9 5zM282 217l-8 4-1 2 7-2 2-2zM190 98l-3 0-4 2-2 3 7-2zM110 131l-7 7-5 3 9-3zM110 116l-3-1-4 5zM137 239l0 2 2 2 5-1-2-3zM220 239l8 1 2-1 1-2-7-1zM153 184l-5 1-3 5 3 1 3-2 2-3zM6 159l-4-2-2 1 0 6 5-1 1-1zM246 36l-2 1 0 4 4 9 2 1-1-2 0-11zM51 276l-1 3 2 3 6 5-3-7-3-4zM27 250l0 5 2 7 7 2-6-6zM62 285l1 4 4 2 0-4-3-2zM170 136l-3 2-7 2 2 1zM147 26l-3 0-11 6 7-3 3 0zM167 181l-3-3-3 2 1 3 5-1zM223 169l6-1 7-4-10 0-3 1zM22 93l-3 2 0 6 5-4-2-2zM46 52l1 1 0-1zM57 74l-2 3 1 3 3-2zM214 98l-1-1-1 1zM215 89l1 9 1 2 2-1 0-7zM36 225l1 2 6 1zM3 109l-1 2 0 3 1 1-1 4 1 0 3-4-3-1zM236 108l1 1 0 6 1 1-1 2 2 1 2-2-2-2 0-3zM216 146l-2 1-2 4 1 1zM283 222l0 2-3 4 0 3 1 1 3-4 0-5zM44 307l8 4 2-1 0-1-7-3zM126 52l-7 5-5 2-2 4 12-4 2-2zM24 98l-4 3 0 1zM191 8l4 5 1-2zM127 259l3 2 3 5 4 4 0-5-5-7zM31 86l-2 6 3 0 1-1 0-4zM236 159l-7 2-5 3 2-1 9 0zM140 48l-12 11 6-1 3-3 0-2zM17 150l-8 4-2 4 0 5 1 2 9-13zM97 278l-1 2 4 3zM276 12l-1 1 1 6 1 0 1-3zM258 41l0 6 3 4 1-5zM194 327l-11 1-1 3 4-2 6 0 2-1zM252 0l-1 3 3 1 0-4zM253 105l-1 1 0 4 4 0 0-4zM73 6l0 5 1 2 2 0 0-2zM44 37l3 5 2 9-1-9zM250 97l-1 3 3 5 0-3zM28 40l-4 1 1 2 0 5 2 3 0-2 2-3zM37 323l2 6 2 1 1-4zM196 181l-1 1-2 0-1 1 1 0 1-1 1 0zM128 318l4 9 4 2-1-5zM163 200l-1 1-1 0 2 0 1-1 2 0zM204 292l-4 1-6 7 2 1 4-1 5-6zM215 217l-8 1 0 1 7 1zM173 158l-6 2 6 0zM237 220l2 4 4 0-2-4zM39 81l0 12 2 0 2-2 0-2-2-2zM273 92l-1 1 0 5 3 5 1-1-1-1 0-8zM200 146l-2-1-3 2-8 2 9 0 3-1zM240 276l-1-2-5 1-4 4 7-1zM322 29l0 4 3 6 4 4zM249 205l-1 0-4 5 1 1 3-1zM325 300l-3 6 1 1 2 0 3-4 0-1zM125 37l-7 4-3 3 8-3zM232 132l12-4-7 0zM16 44l-3 7 3 2zM136 80l-4 3 3 0zM158 129l-2-1-7 2 6 1zM263 92l2 4 2 1zM269 327l-10 1 4 2zM242 82l0 2 3 3 7 2 0-3-4-4zM72 132l-4 0-2 1 0 2 1 1 5-3zM189 247l-3 2 3-1zM108 114l6 1-1-3-3 0zM326 164l-1 3 5 1 0-4zM185 250l1 1 3-2 2 0zM185 189l-8 0-6 2-1 2 6 0zM65 80l-2 0-3 2-4 5 7-4zM310 297l-3 0 0 4zM27 9l3 9 0 7 3 1 1-1-1-9-3-7zM40 51l0 6 1 1 0-7zM3 4l0 7 1 1 1-6-1-2zM127 249l5 8 2-1-1-2zM330 256l-3 5 3 2zM293 25l-1 0-1 9 1 0 3-6zM248 108l1 6 4 2-4-8zM152 84l-8 8 1-1 2 2 2 0 3-5zM179 122l-2 0-3 2-1 2 1 3 4-3zM119 247l4 4 3 1 0-3-4-4zM75 293l-2 1 0 2 2-1zM131 0l-1 0 0 1zM24 99l-1 1 1-1 1 0zM286 147l-8 1-2 3 7-3 3 0zM232 268l-18 8 6 0 10-5zM27 263l0 2 2 2 4 0 2-2-7-3zM51 28l-2 2 0 4 4 9 0-8zM18 99l-4 2-1 3 6-1zM126 120l-5 5 0 2 2 0 4-3 0-3zM53 256l2 5 6 3 0-6-2-3zM287 101l2 5 9 8-1-4-7-9zM196 0l3 6 2 0 2-3 0-3zM279 284l-4-2-3 4-1-1-2 2 1 1 2-1 1 1zM299 313l1-1 7-1-7-2-1 1zM177 313l-7 5 0 1 4-1zM303 294l-3-2-1 3-4 5-2-2-4 0-1 1 9 1 4-2 2-2zM265 302l-14 4 12-2 2-1zM221 118l-3 2-2 4 0 3-1 1 2 1 6-3zM47 246l1 5 3 4-1-8zM299 25l-1 2 0 6 1 0zM166 207l-8 1-1 1 1 1 0 3 7-4zM272 130l-6 2 2 2 3 0zM143 119l1 3 0-3zM271 267l-6 3-3 0 8 0zM187 58l-4 2 1 6 3 5-1-2 0-10zM38 105l-3-2-5 3-1 7 4-2zM43 331l6 0-4-3zM41 275l1 1 0 4 1 2 1 0 1-3zM136 78l-8 5 3 0 5-4zM135 99l-2 2 0 1 2-2zM266 280l-3-2-2 3zM308 22l0 4 2 6 4 2zM8 318l1 6 4 4 4-1-4-9zM315 262l-2 0-4-3-3 6 2 1zM20 136l-5 1-2 4 3-1zM160 84l-2-2-1 1-4 0 0 5-1 1 5-2zM170 260l5 4 1-3-3-3zM218 77l1 2 2 1-1-2zM322 44l0 4 2 4 0-5-1-3zM267 10l-1 4 3-1zM257 212l2 3 5 3 4-2 0-1-3-2zM0 224l0 3 3 3 0-2zM309 90l3 4 0 2 2 3 0 3 2 3 0-4-5-10zM272 141l10-1 3-2-9 0zM62 120l-1 1-9 0-5 2 0 1 11-1 3-1zM136 69l-6 3-1 2 1 1 3-1zM253 292l-2-2-2 0-6 4 7 0zM327 133l3 0 0-1zM99 15l-2 3 0 7-1 1 3-5zM37 50l-1 5 2 4 1-8zM312 101l-2 1 0 4-1 1 4-2zM16 124l-11 7 3 1 6-3 2-3zM84 92l-2 1-4 5 3 0 3-2 1-2zM154 168l-1 1 0 4 3 0 3-3zM8 116l-2 0-3 4 4-2zM4 111l0 3 1-1zM223 18l-1 3 4 0 0-1zM136 115l-1 1-4 0-4 3 1 4 3-1zM24 296l0 4 2 0 3 2-1-3zM85 5l-1 4 3 8 0 3 2 1 1-3zM212 77l0 7 2 1 3-2zM248 289l-3-1-2 1-2 3 3 0 4-2zM34 139l-5-1-2 2-1 9 1 0 7-8zM284 53l2 7 3 5 2 1 0-4-3-9zM77 81l-11 6 8-2zM165 39l4 6-3 3-7 3 13-1 0-2-4-4zM45 167l-5 4-2 4zM76 245l4 4 4 2zM184 264l-5 0-4 2-1 4 2 1 8-6zM16 0l-3 0-1 1-1 6 2-1zM85 245l-2 4 6 4-2-7zM247 124l-9 3 9 0zM273 121l-3 0-2 2-5 2 8-1zM298 24l-1 0-1 4 1 0zM220 92l0 5 2 1 1-3zM117 93l-4 0-6 3-2 0-4 2-1 2 11-3zM89 238l5 4 2 0-5-6zM37 292l-1 1 1 2 5 3 0-4-2-2zM157 301l5 11-3 2 1 2 5-3 3-5-3 1-3-4zM304 171l4 2 8-1-6-3-4 0zM22 71l-6 2 0 2 5-1zM53 89l-5 5-1 3 3-2zM202 302l-1-1-3 0-5 3-4 1-5 4 1 1 7-3 3 0zM274 115l-10 3 5 1zM79 116l-3 1-7 9 3-1 6-6zM267 306l-3-2-9 3-4 0 0 1zM12 226l6 7 2-1-4-2zM229 115l-2 9-2 2 0 4 4-4zM237 13l0 10 3-1 0-2-1-1 0-5zM35 327l-2 4 5 0 0-3zM45 318l0 5 2 4zM172 305l6-2-4 0zM100 200l-3-1-8 4-1 3 4 0zM106 43l-3 3-1 0-1-2-1 2 1 1-2 2 1 2 5-5zM40 260l0 3-1 1 2 3 9 4-7-10zM129 157l-3 1-2 5 6 1zM135 282l1 2 4 2 3 0 0-1zM203 137l-7-5-3 3-2 7 7-3 3 0 2-1zM114 268l0 3 9 6 2-1-5-5zM39 55l0 3 1 0zM251 40l-1 1 0 8 3 0 1-3zM325 120l-5 0-5 3zM90 320l4 6 5 1-4-6zM105 308l0 2 5 3-2-4zM69 252l0 3-1 1 5 3 1-1-1-4zM272 134l-11 4-2 4 9-2 1-3zM20 257l1 1 0 6 1 2 2 1 2-2 0-2-3-5zM134 84l-3 0-5 5 1 1zM82 169l-1 0-5 6zM195 154l-3-2-5 4 8-1zM284 289l-3 5 0 2-1 1-2-1-1 1 1 3 5 0 5-2 0-1-1 1-1-1 0-4zM189 101l-9 3-3 3 6-3 2 0zM13 304l0 3 4 1 1-3zM0 194l0 4 3-2zM292 167l-9 6 3 0 3-2zM241 215l-6 2 1 2 5 0zM203 177l-4 1-2 3 2 0zM278 119l1-1 3 0 3 2 0-5-3 0 0 1zM165 122l-5 3-2 3 6-2 1-1zM9 104l2 3 5-2-3 0-1-2zM64 276l0 5-1 1 1 2 3 2 0-6zM289 51l0 4 3 9 2 2 2-4 0-3-5-7zM64 245l0 2 4 4 5 2 4 0zM101 22l-3 9 2 1 1-3zM311 279l-5 4-2 4 0 7 2 0 2-3 0-3 2-3zM45 221l15 9-3-4-3-1-7-5zM1 51l-1 0 0 4zM302 0l4 8-1-1 0-5-1-2zM72 246l7 8 2 1 1-1-3-5-4-4zM215 329l-5 2 3 0zM77 15l0 2-3 5 0 5 1 1 0 3 2 4 1 0 0-5-1-2 2-5 0-5-1-3zM228 27l-2 1-3 4 0 3 6-4 0-3zM298 321l-13 2-2 1 0 1 6 2 9-3zM125 111l-3 1-6 6 0 3 3-1 6-6zM119 146l-6 4 1 2 1 0zM8 118l-5 3 2 2zM198 287l-9 3-2 2 0 3-1 1zM178 320l-4 3-1 2 2 0zM146 128l-6 0-7 6 5-3 8-2zM105 0l0 1 1 0 0-1zM17 246l6 7 1-4zM128 97l-3 2-5 1-3 5 5-1zM85 167l-2 1-8 10 4-2 4-4zM104 19l-1 1 0 7zM117 262l4 5 3 0-3-4-3-2zM115 212l7 1-2-3-4 0zM148 168l0 3 3-1 0-1zM100 78l-2 0-3 2-4 6 0 2 1-1 3 0 4-4zM154 46l-2 1-2 6 2-2 4-1zM181 56l-1 2 0 9 0-3 2-4 0-3zM94 103l-5 4 1 1zM264 126l-2 0-5 3 3 0zM258 143l-2 2-11 5-1 3 4 0 6-2 2-2zM23 134l4 0 3-3-5 0zM62 119l-3-2-5 3 7 0zM21 226l3 6 2 1zM44 46l0 6-1 1 1-1zM113 116l-2 0-5 3 5-1zM31 296l2 4 2-1 0-1zM321 304l-1 0-2 6 2-2zM321 132l-8 2 2 0 3 2zM325 168l-1-1-4 0-1 1-7 0-1 1 4 2 4 0zM130 84l-4 0-5 6 5-2zM266 129l-6 2 3 0zM70 87l-5 1-3 4zM53 63l0 3 5 8 0-4-2-2-1-4zM4 80l-1 0-2 3-1 4 1 0zM30 294l6 4 1-1-2-4zM319 301l-5 4-2-1-3 2 4 3 5-5zM320 275l-2 8 4-3 0-2zM316 58l1 1 0 7 2 2 2 0-1-4zM18 328l1 3 5 0-2-2zM223 15l0 2 3 2-1-4zM289 208l-4 0-3 4 7-3zM14 271l4 4 10 6-5-7zM146 217l-8 5 4-1zM177 308l-4 2-1 3 1 0zM163 306l3 2 0-1zM44 327l-2 1 0 2 2-1zM240 260l-5-1-6 6 3 0 5-4zM113 0l0 2 2 0 0-2zM174 0l0 1 4 0-1-1zM252 160l-9 2 3 2zM276 45l0 4 4 4-1-5zM309 11l4 7 2-3 0-2zM123 175l-4 0-1 1 0 6 2 0zM7 17l-2 1 0 4 3 5 1-9zM42 25l-1 1 0 5 2 5 1-9zM296 86l-1 1 1 3 3 1 6 5-1-5-3-3zM29 114l-3 0-10 7 0 2 2 0zM131 164l2 0 3-4-6-1 1 1zM84 263l0 6 3 4 0-4-2-2zM46 224l-1 3 1 1 3-1zM244 54l0 6 1 3 1 0-1-8zM151 229l8 4 5-3-2-1zM161 0l-1 9 3-4 0-2zM7 82l-2 0 0 3 2-1zM20 75l-5 1 0 7 2 2 2-1 1-3zM122 146l-1-1-5 6 4-2zM41 316l-1 1 4 9 2 1-4-6zM4 126l-4 2 0 4 3 0zM127 295l-1 4 3 4 4 1 1-1 0-3zM287 148l-7 4-1 2 4 0 5-3zM275 237l-3 2 3 4 1-1 0-4zM33 219l-1 6 1 2 3-1-3-5zM288 216l0 8 4-6 0-1zM210 246l11 1 0-1zM244 287l-4-1-2 3 2 2 4-3zM208 1l-2 2 5 9-1-11zM289 5l-3 4 1 1 1 9 3 4 1-15-1-2zM133 149l-6 1-1 2 0 4 1 1 3-1 3-3zM165 224l-3 0-6 3-5 1 10 0zM19 305l-1 3 4 1zM195 308l-5 3 0 3 3-1zM51 73l-1 5-2 3 0 3 2 0 3-2zM308 292l-2 4 3 0zM120 329l1 2 5 0-3-4zM190 296l-11 7 6-2zM237 205l3 2 1-1 0-2zM250 308l-6 3 0 1 5 0 1-1zM198 49l1 1 1 10 2 0 1-1 0-3zM47 291l0 3 4 4 0-5-1-2zM138 88l-3 1-5 6 4-1zM298 213l-1 1 1 0zM17 271l5 2 2-1-1-2-3-1zM278 13l5 7-1-4zM31 286l0 4-2 3 5-1zM324 42l-1 1 1 2 1 0zM259 95l0 5 6 4zM83 117l-3 0-1 2-10 9 6-3 6-5zM186 196l-3-1-4 4 2 2zM218 137l-7 1-5 4 8-1zM215 313l-9 4-1 3 4-1 5-4zM24 139l-4 4 3 0 0-3zM117 216l1 3 4 2 2-1 1-3-3-1zM291 99l-1 1 7 9-1-6zM290 249l-3 2-1 2 1 0zM281 20l-2-1-3 1 0 7 6-4zM95 75l-3 0-4 6 4-1zM233 78l-2 5 1 2 1 0 1-2zM315 139l3 2 2 0 5-3 0-2-6 0zM181 154l-5 1-2 2 6-1zM46 121l-4-2-5 5 0 2 7-3zM42 314l-1 1 4 10-1-2 0-6zM293 276l-3 0-3 3-1 3 4-1zM76 294l-2 3 4 7 2-4zM293 289l-1 4-3 4 4 0 2 2 1-2zM68 66l-2 2 0 4 2 2 1-1-1-1zM32 166l-2 0-3 3zM271 61l3 6 0 2 3 0-1-6-3-2zM23 108l-1 3 6 2 1-6zM127 229l-9 2 0 1 7-1zM144 278l12 8 1-2-2-2-8-4zM13 52l-1 2 2 3 0 3 2-1 0-5zM305 235l-1-1-3 3 4 0zM142 222l-6 1-1 2 6 0zM102 119l-8 3-3 7 11-9zM160 162l-4 0-2 3 0 2 4-2zM111 292l7 8 1-1 0-4-4-3zM313 320l-3 4-3 1-2 3 0 2 4 0 3-2 0-6zM219 41l-1 4 2 5 1 0 3-5zM239 131l-7 2-2 4 5-2zM42 205l-2 2 2 2 3 9 2 1-2-6 0-5-1-2zM146 98l-4-1-4 7 8-5zM170 18l-2 3 0 3 2 1 3-2 0-2zM319 275l-3 2 2 3zM33 134l-4 2 0 1 4 1zM56 0l-7 6 0 2 2 3 0 3 5-8zM237 298l4 0 7-3-6 0zM281 115l-8 5 4-1 3-2zM52 241l2 5 6 8-1-6-2-3zM294 91l2 3 6 4-6-7zM52 88l-2 0-5 4 3 1zM32 62l-1 0 0 7 3-3 0-2zM122 268l7 8 4 2-6-8-3-2zM33 213l-2 0-6 5 2 0 4 5 1-2 0-5 2-2zM39 330l0 1 1 0 0-1zM90 286l-1 2 2 7 5 2-2-8zM147 88l-9 4-1 3 6-3 3 1-2-2zM53 164l-3 1-7 7-1 3 6-6 4-2zM221 288l-5 1 0 4 1 1 3-2zM180 314l-2 0-2 3 2 0zM304 25l0 3 3 4 2 1zM309 241l-2 1-1 4 2 0zM33 181l-4-1-3 3-1 3 6-2z"/>
<path fill="#20b4e0" stroke="#20b4e0" d="M126 308l6 5 4 0 1 1-10-8zM127 250l0 3 4 3zM83 149l-8 9 5 0zM248 51l-3 3 5 3 1-2-1-3zM39 78l1 5 3 5 0-4zM165 329l1 2 3 0zM185 190l-10 4 5 1 2-1zM281 113l-2 0-5 3 1-1 4 0 2-1zM330 174l-1 1-3 0-8 5 4 1 7-2 1-1zM193 308l-7 2-2 3zM57 63l-1 1 1 4 4 4 2 0-4-7 0-2zM286 216l-3 1 2 9 2-2 0-7zM25 137l-10 4 0 1 4 1zM123 42l-6 4-3 3 0 2 6-3 2-2zM108 67l-6 2-6 6-1 4 4-2zM281 111l-2 0-3 3zM57 310l6 6 5 2 4 0-6-5-8-4zM247 269l-6 1-1 1 0 4 3 0 5-2-1-1zM242 12l-2 1 0 6 1 1zM53 283l1 6 4 2-1-4zM212 29l-4 2 0 3 2 3 1 0zM158 275l2 3 4 2 0-1 3-2-3-3zM102 121l-8 7 5 0zM304 141l6-2 4 0-1-1-7 0-2 1zM0 133l0 1 1 0 0-1zM330 172l-3 2 2 0zM310 286l0 10 1 0 1-3zM326 229l4 2 0-3zM298 140l-3-1-3 2-2 0 3 1zM110 66l-10 11 8-5zM312 0l0 2 3 5 0-7zM168 270l-1-1-4 0-2 2-6-1-1 2 2 2 6 0zM78 213l-5 4 3-1zM121 0l1 4 0-4zM263 30l-1 5 7 6 1-8-2-2zM250 127l-10 3-2 3 6-3 2 0 4-2zM0 41l0 9 1 0 0-9zM174 162l-9 1 0 5zM295 66l-1 1 1 1 1 7 1 0 0-5zM83 196l-3-1-4 1-9 7 0 2 5-1 4-4zM2 41l0 10 1 2 2 1 1-1 0-4-2-3-1-5zM18 144l0 6 6 0 1-1 0-3-2-2zM291 0l8 8 1 3 0-4-2-7zM297 208l-5 0-4 2 1 5 1-2 6-3zM330 182l-3-2-1 1-3 0-3 5 1 3 3 0zM91 235l7 6-3-5zM51 202l2 2 3 7 1-3-2-3 1-1zM154 176l-8 2 0 1 2-1 5 0zM195 249l-8 2-1 2 7-1zM242 63l-2 0 1 5zM114 8l-4 8-1 8 0-3 5-10zM100 231l2 4 4 4 5 1-2-4-3-2-3-4zM221 191l6 2 6 0 2-3-10-1zM136 0l-2 0-1 5 1 0zM193 329l-1 1-9 1 9 0zM312 188l-9 2-1 2 2 1zM163 127l-5 3 3 0zM63 193l-2 0-3 2-3 5zM122 23l1 11 3 1 2-1-2-8zM293 181l-16 4 11 1 2-1zM118 269l9 8 0-2-6-7zM1 27l0 3-1 1 0 3 0-2 1-1zM311 85l0 5 5 10-1-6zM322 129l6 0 2-1-6-1-2 1zM157 5l-1 2 0 11 3-7 0-3zM208 328l-2-1-2 1-2 3 5 0zM144 239l3 1 2-1 0-1-4 0zM0 330l0 1 1 0zM213 142l-8 1-1 1zM216 140l9-2-6 0zM45 44l0 8-1 3 2-4zM278 111l-3 0-7 5 5-1zM290 175l-2 0-6 6-4 2 2 0 6-3zM77 278l0 3 2 0zM241 312l-4-1-6 4 4 2zM219 322l-10 6-1 3 7-3zM241 167l-5-2-5 3 8 0zM156 63l-5 2-3 3 0 2 8-5zM149 237l1 2 3 1 0-4zM316 240l-5 0-2 5 4 3zM63 238l1 6 10 6zM264 319l2 1 10-5-8 0-1-1-3 3zM55 143l-8 6 0 3-2 5 9-11zM242 303l-8 1-3 2 6 0zM16 2l-3 5 2 6 0-10zM78 265l-1 1 0 5 3 4 4 2-3-5-1-6zM187 225l2 3 3 1 1-4zM276 107l0 1 4-2 4 4-4-7 0 1zM158 51l-6 1-3 2 0 2 2 1 7-5zM115 139l-5 2-3 0-3 2 2-1 6 0 2-1zM299 240l0 5 4 3 1-2 0-5-4 0zM169 152l-6 4 0 2 2 2 2-2zM25 250l-2 5 2 6 2 1 1-2zM80 128l-4 1-2 3zM159 29l-1 0 0 2-4 4 5-2-1-1zM196 296l-2-1-5 6 3-1zM303 215l-4-1-3 3 2 1zM0 318l0 2 5 4 3-1-1-5zM323 80l1 1 1 7 3 4-1-8-2-5zM10 76l-2 5 2-2zM25 113l-4-1-7 6 1 3 9-6zM175 96l-1-1-7 1-6 4 3-2 5 0zM319 52l1 4 5 7 0-4-2-4zM307 241l-2 1 0 4zM0 267l0 3 4 5 3 0-3-5zM8 78l-2 0-1 3 2 0zM54 247l-1 2 3 5 3 0zM294 287l0 3 2 3 0 3 1 0 3-5-1-2zM251 157l6 1 3-4-5 0-4 2zM168 260l5 8 1 0 1-3 3-1-1-2-2 3-4-4zM67 112l-7 2-1 2 4 2zM254 77l0 8 5 3-1-4zM224 200l-4-6-7 3 3 3zM315 196l-9 2 0 1 4 0zM243 265l-3 1 0 1zM325 40l0 4 2 3 1-4zM13 214l0 8 6 8-3-5-1-8zM72 82l-3-1-2 1-1 2 2 1 4-2zM126 206l-3-2-7 5 4 0 1 1 3-1zM179 68l-1 1 0 5 6 7 2-1 0-4-5-7zM224 255l0 3 2 3 9-4-10-3zM176 16l-2 5 9 5-1-10-3-1zM32 212l3 1 2-3 3 7 5 3-3-6-1-5-2-2zM143 251l0 1 3 1 4 4 5-3 0-1-3 0-1 1-4-5zM280 156l-12 4-2 3 9-3zM257 165l-7 1-2 2zM131 292l0 2 2 2 6 1-3-1zM92 243l0 4 3 1zM127 207l-1 3 2 3 2 1 1-1zM1 198l-1 1 0 1 1-1zM39 271l-1 6 4 4zM39 217l-1 2 3 6 3 2 1-5zM33 29l1 11 2 2 1-5-3-5 0-3zM310 309l0-2-2-1-7 2 5 2 3 0zM167 327l6 4-1-3zM194 0l0 5 2 5 2-1 0-4-3-5zM303 45l-2 3 9 8 0-2zM85 96l-4 3-2 5 3 0 2-2zM155 8l-1 1 0 13 1-2zM91 195l2 3 1 0 2-3zM182 156l1 1 3-1 7-6-8 0-3 3zM146 22l-1-1-1 1zM153 12l-2 3-1 8 3 0zM72 175l-2 0-3 4zM150 243l2 3 3 1 5-3 0-2-3 0-1-1-3 0zM43 251l0 2 3 4 0-4zM244 161l1-1 9-1-6-2-4 2zM81 267l3 9 0-2-2-3 0-4zM186 14l-1 1 4 8 3-5-3-3zM325 6l-1 1 0 3 2 5 2-1 0-5zM45 26l0 1 3 3 0 1 0-1-2-2 0-1zM136 74l-7 8 6-4zM5 219l0 3 3 7 3-1 0-2-3-6zM170 322l-2 2 0 2 4 1-3-4zM233 110l0 10-2 1 5 1 2-2-3-2 0-3zM7 324l-1 1 1 6 5 0 1-2zM86 195l4 0 1-1-3-1zM303 87l8 10 3 7-3-10-4-5zM225 70l-2 4 1 0zM172 134l-2-4-4 2 0 1zM152 5l-1 0 0 9 3-6zM185 297l-9 5 4 0 4-3zM97 194l-1 4 4 1 1-1-1-4zM156 252l8-1 4-2-8-4-4 2zM121 320l0 2 3 6 2 2 4 1-2-4zM111 72l-8 4-2 2-1 4 2 0zM198 178l-1 1-3 0-4 3 5-1zM257 152l-2-1-6 2-1 3 9-3zM47 94l-4-2-1 2-5 4 2 0zM196 225l-1 3 2-1zM8 82l0 2 6-1-2-3-2 0zM107 173l-1 0-1 7-2 3 4-3zM90 101l-5 6-1 3 8-7zM91 20l-4 3-3 6 1 3 5 0zM237 169l-4 0-4 4 7-2zM281 54l0 6 7 5-4-7-1-4zM278 286l-5 3-1-1-2 1-2 3 6-1zM210 144l-7 1-2 2 3 0zM139 19l-5 5-2 4 1 3 5-5 5-3-4 0-1 1-1-3zM298 212l-3-1-5 3 0 1 2 1zM91 55l-3 3-1 3 2-1zM329 44l-2 5 3 6zM160 29l-1 2 1 2-2 1-1 2 3 0 1-1-1-1 2-3zM241 8l-2 0-2 3 2 2 2-2zM225 14l1 2 3 2 0-2zM287 328l-3-1-4 3 1 1 3 0zM69 127l-6 0-7 4 1 0 3 4 8-6zM101 57l-6 4-2 3 0 2 6-4 2-3zM313 87l3 8 2 0-2-6zM10 214l1 1 0 5 1 2 0-8zM294 205l-10 2 5 0 2 1 3-1zM305 0l2 10 0-7-1-1 1-2zM317 294l-2 6 2-2zM28 116l-11 8-1 3 6-3 4-4zM67 16l-4 6 0 4 1 1 3-6zM215 32l1 4 3 4zM34 63l1 1 0 1 0-1zM29 0l-3 0 1 4zM122 170l-6 2-2 4 6-2zM257 203l1 3 6 1 1-2-4-3zM108 174l0 5 2 0 3-2 0-1zM53 96l-4 1-7 4-2 2-1 4 5 0zM330 134l-2 0-2 2 4 0zM34 41l-2 1 0 2 3 9 2-5zM247 120l-3-1-7 3 1 2zM210 172l-7 4 6 0zM322 132l5 0 2-1-6-1zM197 291l-2 0-4 4 2 0 3-2zM282 291l-2 0-6 5 3 0 1-1 2 1 0-2zM293 218l-3 5 2-1 0-3zM46 53l-1 1 0 3 1-1zM260 297l-7 2-1 2 7-1zM96 199l-1-1-8 4 1 1zM164 199l2-1-2 0zM79 323l0 3-1 1 3 4 6 0-4-6zM74 61l-2 4 1 5 2-1zM160 136l-5 2-2 4 6-2 1-1zM271 63l0 5-1 1 3-1zM75 206l-1-1-5 0-5 8 10-3zM229 137l-15 5 4 0 9-3zM116 0l0 2 3-1 0-1zM218 277l-4 0-1-1-8 4 10-1zM242 58l-3 0 1 4zM231 73l-2 4 0 2 2 3 1-3 0-5zM89 196l-4 0-2 4 2 0zM22 303l-1 3 3 5 2-2 0-3zM7 205l3 3-1-2zM8 194l-6 4-2 3 0 3zM203 219l-5 1-1 3 4-1zM36 56l0 5 2 3 0-3zM94 60l-2 0-4 6 3-1 3-3zM22 12l0 2 6 8 1 4 0-8-2-6zM310 144l-12 1 4 2 3 0zM221 114l-1 1 1 2zM223 109l1 3 0 14 2-2 1-9-1-3zM77 70l-5 6 2-1zM10 73l1 6 3 2 0-4zM35 132l-1 1 0 5 2-1 0-4zM279 17l0 1 2 1zM4 309l5 2 4 4 3 0 1 1-1-1 0-5-4-3-1 1-6 0zM204 36l-1 2 1 3 2-2zM83 267l0 4 1 2 2 1-3-5zM202 148l-8 2-1 2 3 2zM266 300l-5 1-6 3zM286 254l-2 0-3 2 0 6 5-3zM109 235l3 5 3 0 1 1 6-4 0-1-11 0zM194 186l3 0 1-1-4 0zM315 140l-9 1-5 3 10-1zM87 192l-6 3 4 0zM228 79l0 6 1 1-1-2 0-3 1-1zM308 280l-3 0-5 3-1 5 4 5 0-6zM212 34l0 2 2 1 0-2zM75 240l1 4 7 4 1-3-2-2zM25 230l0 1 5 4-1-3zM296 142l-6 1-4 3 2 0zM329 122l-5-1-6 2 0 1zM274 292l-6 1 5 0zM277 289l-1 1 0 4zM287 29l-2 3 2 4 1-2zM283 187l-2-1-6 0-12 6 6 0 1-1 11-2zM4 266l1 5 2 3 3 2 2-2zM108 36l-1 5 2 2-2 1 1 2 5-3 0-1-2 1-2-2zM317 80l-1 1 1 9 1-2 0-7zM159 279l0 1 4 3zM168 278l-3 1 0 1zM134 89l-3-1-1 2 1 2zM123 110l-8 4-1 2 3 0 6-5zM238 309l-4 0-11 7-1 3 10-5zM261 235l-2 0-5 5 0 3-1 1 1 5 2-4 5-5zM118 152l-4 1 0 1zM330 267l-3 4 0 7 3-2zM265 186l-3 1-1 2zM37 127l-5 4-1 3 4-3zM112 223l1 3 2 1 1 2 4-2 0-4-2 0-2 2-2 0zM98 145l5-2 1-2-5 0-1 1zM299 58l-2 1 0 3 3 7 1-1 0-4zM53 317l1 3 3 3 5-1-3-3zM204 322l-7 3-3 4 4-1zM1 118l-1 3 2-1zM235 258l-8 3-1 1 2 3zM324 46l1 1 0 3 1-3zM16 309l2 7 5-2 0-3-1-1zM330 310l-3 5 0 2 3 2zM157 210l-2-1-8 7 2 1 5-1 3-2zM74 118l-10 8 4 0zM325 51l1 4 1 1 3 0-2-2-1-4zM167 24l-3 4 0 6 5 0 0-9zM143 41l-1 0-4 5 1 0zM9 214l-2 1 0 3 3 5 1 0-1-8zM9 72l-3 2 0 3 3-1zM240 306l-5 1 0 1 5 0zM277 226l-4 1-2 2-1 4 1-1 3 0 3-3zM271 120l-3 0-5 4zM156 282l3 2 5 1 0-1-5-3zM208 150l-2 0-3 4 4-2zM73 275l1 6 2 0 0-3zM74 130l-3 1 2 1zM206 326l-3-2-4 4 3 0zM258 0l0 1 3 1 0-2zM87 203l-3 1-5 4 5 0 3-2zM29 57l1 3 4 2-1-3-2-2zM88 239l0 7 3 1 0-6zM69 237l-2 2 0 2 4 4 3 0 1-1-1-5zM305 198l-5 2 0 2 2 2 1 0 3-4zM288 150l6 0 1-1 7-1-3-2-5 0-6 2zM4 82l-2 6 2-2zM284 33l-1 1 5 10-1-2 0-5zM135 122l-2 1-1 3 1-1 3 2 2-3zM122 210l1 3 5 1-3-5zM292 2l-1 3 2 4 5 4 1-1-1-4zM74 214l-4 2-3 0 0 1 2 0zM284 149l-6 2-6 5zM295 29l0 2-3 5 3-2zM153 302l2 10 3 2 3-2-4-9-1-1zM31 131l-4 5 3-1zM161 138l3 0 7-3-7-1-3 2zM319 81l0 2 4 5 1-1-1-5-1-1zM245 7l1 6 1 1 3 0 1-3zM25 222l0 3 3 4 3 2 4 0zM133 253l1 2 7 6-1-5zM204 42l-1 6 3-1 0-2zM303 140l-2 0-14 7 13-3 3-2zM237 185l-4-1-5 2-2 2 2 1 6 0 3-2zM26 2l-2-1-2 2 0 2 4 0zM186 292l-4 4-5 3-1 2 8-4 2-2zM292 224l-3 0 0 3zM46 84l-2 1 0 6 1 0 1-2zM264 84l-3 5 5 6 2 1-1-7-2-5zM79 159l-4 0-1 1 0 4 2 3zM69 12l0 1-1 1 0 4 0-1 1-1zM182 195l-8 2-4 3 1 1 3 0 4-2zM84 196l-11 8 10-6zM133 95l-3 1-7 8 4-1 4-4zM30 232l1 3 5 1-4-4zM208 178l-1 1-3 0-1 1-2 0 3 0 1-1 3 0 1-1 1 0zM283 13l1 9 2 4 1 0 1-6-2-5zM304 21l0 3 6 9-3-7 0-5zM232 169l-2-1-1 1-4 0-5 3 0 1 7 0 1 1zM74 327l0 4 5 0-1-3zM214 0l-3 0 1 13 4-6zM185 16l-2 0 0 7 1 2 4-2zM53 311l0 5 5 2-3-8zM79 275l2 7 3 0zM322 230l-4 0-3 3-1-1-1 7 3 0 3-3zM308 12l0 7-1 1 1 1 4 0 0-3zM165 66l-8 4 7-2zM193 230l0 3 3 1 3-1 0-2-2-2-3 0zM244 226l-8 4 2-1 3 1 0 1-4 3 5-4zM283 326l-2-1-6 2-3 4 7-1 2-1zM164 162l9-1-6 0-1-1zM266 84l3 11 2 2 1-6zM61 200l-7 2 4 1zM295 318l-11 4 9-1 2-1zM119 228l8 0 1-1-7 0zM75 212l2 1 5-4-5 0-2 1zM150 45l-4-1-4 2-4 8 10-6zM152 118l-5 0-2 1 1 6 6-5zM324 269l-3 5 2 6 3-1 0-8zM251 197l-1 1-2 0-1 1 1 0 1-1 1 0zM205 150l-6 2-3 3 5 0zM78 47l-2 2 1 5 3 1 0-4zM142 119l-5 8 7 0 1-1 0-2-3-3zM260 300l-3 1 0 1 3-1zM126 10l-3-1-3 4 1 1 3 0zM146 216l-5 0-5 4 3 0zM168 241l6 3 7-1 0-4-8 0zM321 143l-9 3 1 1 4 0 2-1zM107 172l5 3 2 0 1-2-1-2-3 0-1-1zM171 320l-6 5 2 1 0-2zM57 236l2 6 4 4-1-6zM248 238l-2 1-4 5 0 3 1 1-1 5 2-2 1-8zM132 222l3 1 3-2zM214 88l-5 1-2 4-3-1-2 4 4 4 4-1 3-3 2 2zM236 229l8-4-6 0zM111 272l9 11 4 0-2-5-7-6zM317 230l-8 3 0 7 3-1 1-7 1-1 1 1zM2 258l0 1 3 1 8 9-1-1 0-11-7-1zM217 102l-3 1-6 6 8-4zM280 283l-2 5 1 2 3 0 2-4zM199 42l-3 3 5 6 1-6zM73 116l-6 3 1 2 4-2zM20 231l8 7 4-1zM186 258l-2-1-3 2 4 1z"/>
<path fill="#f03838" stroke="#f03838" d="M302 106l-1 10 5 0 2-2-3 0-1-1zM148 5l-1 0-2 3 0 6-2 2 2-1 1 2 0-5zM10 6l-2 0 0 3 1 1 1-1zM15 34l-1 2 3 4 1-3zM229 289l-2 0-5 5 6-2zM146 209l-4 0 0 6 3-1 2-4zM188 93l-8 6 2 1 2-1zM254 219l-5 1-2 3 2-3 5 1zM28 248l0 3 3 7 7 6 1-1 0-3-3-1-6-6zM147 55l-1 1-3 0-3 4 1 1-1 1 2-1zM246 88l3 5 7 6-4-9zM185 136l0 2-2 3 5 0 0-2-2-3zM94 327l1 3 7 1-3-3zM258 193l-13 3 1 2zM95 113l-4 3 1 3 4-4zM129 0l-2 0-1 2 1 6 2-4zM199 7l-1 3 3 6zM12 227l2 4 5 5zM169 215l-4 1 0 7 6-1 0-5zM292 289l-2-1-1 1-2 7 3-1zM318 96l-2 0 1 2 0 6zM168 281l0 1 8 4 0-3-5-3zM119 283l-1 1 1 2 3 1-1-3zM121 288l2 3 3 2-1-3-2-2zM187 306l-5 2-2 3zM93 165l2 1 3-1 0-1-4 0zM103 328l1 3 1 0zM32 0l-2 0 0 6 1 0zM193 19l-4 5 2 3 0 2 3-1 0-8zM276 97l0 4 3 3 0-4zM153 24l-2 0-2 6-5 4 3 0 3-3zM221 76l0 1 1 1 0 1 1 1 0 1 0-1-1-1 0-1-1-1zM137 291l3 6 6 1 6 4 5-2-3-3-9-3-3 0zM26 150l-3 1-6 6-5 7 12-10zM144 314l2 6 8 3-2-3-4-1zM206 238l13 1-11-5zM154 265l7 4 4-2-7-4zM276 134l3 3 9 0 4-2-3-4-7 0zM75 214l-5 3 2 0zM63 10l-2 4 0 7 1 2 0-4 3-5zM73 143l-1 2-11 10 8-5zM99 288l0 6 4 3 3 0-5-5zM77 272l0 5 3 4zM209 185l-2 3 2 3 0 2 2 1 0-3 2-3 0-2zM185 51l0 2 3 2-1-4zM163 260l3 0-2-1zM154 259l6 0 3-2-8 0zM92 0l-3 1 1 1 0 5 2-3zM153 159l-6 0-2 1-3 4 3 1zM177 261l2 2 3 0 2-2-2-1zM70 181l-3 1-3 4 6-2 1-1zM296 29l0 3 1 0 0-3zM298 36l0 6 2 4 2 0 0-2-3-5 0-3zM143 75l-6 3 0 4zM249 73l0 3 4 5 0-4-1-2zM281 100l-1 2 3 5zM313 131l8-3-7 0zM26 99l-4 2-1 2 5-1 1-1zM59 224l2 4 3 2 0-3zM33 285l3 3 2-1-1-2zM118 3l-2 0-1 3 1 3 1 0zM267 294l-6 3 0 3 5-1 2-2zM91 150l-1-1-4 1-3 7 4 0z"/>
<path fill="#40d080" stroke="#40d080" d="M167 63l-5 2 0 1 2 0zM284 107l0 2 4 3 1-2zM177 97l-7 1-1 1-5 0-2 2-2 0-4 4 3 2 0-1 3-2 15-5zM143 240l4 4 3 0-1-1 3-2-1-1-3 0-1 1-1-1zM1 323l0 7 5 1-1-6-2-2zM167 126l-2 0-4 5 5-1zM249 101l0 6 2 4 0-7zM172 128l-1 2 2 3 1-3zM32 174l-3 3-3 1-7 8 2-2 5-2 5-5zM17 182l-4 4 0 3 1 1 5-5zM97 187l2 3 6-2 0-3-5 0zM196 206l0 3 1 1 6-1-2-2zM208 213l0 2 3-1zM24 179l-6 2 1 3 1 0zM25 183l-7 4-3 3 6-1 3-3zM178 81l-2 0-2-2 0-2-2 1-9 9 1 4 9-5 1-2 4-2zM181 127l-3 0-5 7 5-1 3-2zM198 182l-2 0-1 2 2 0zM135 284l-1 3 1 1 6 0 0-1zM230 16l0 10 1 0 2-2 0-5zM197 11l-1 2 4 3-2-5zM206 110l-6-3-8 3 0 4 2 1 5 0zM105 189l-5 1-2 3 2 0zM179 88l-4 0-1-2-9 6 9 0zM292 94l-1 1 1 3 6 6 3 1-3-7zM202 203l-1 1 1 3 4 2-1-6zM181 100l-3-1-3 2-14 5 3 3 6 0 6-2 4-4zM22 6l-1 1 0 3 1 1 4 0 1-3-1-2zM86 202l-2-1-6 3-3 5 3-1zM257 207l3 4 3-1 0-2zM164 203l-3 0-6 5 4-1zM242 206l6-2-6-1zM114 183l-3-1-5 3 0 3zM260 201l-1-1-4 0-6 4 3 0zM278 62l-1 2 1 1 0 7 2 5 3-1 0-7-2-5zM267 67l-2 5 1 0 2-3zM46 320l2 7 5 0-2-1zM249 203l0-2-5 1zM98 190l-2-2-4 6 4 0zM159 66l-9 4 3 0zM264 61l0 10 1 0 2-6zM281 77l-1 1 0 5 3 5 3 0-2-5 0-5zM195 156l-10 1-3 2 6 3 2 0zM270 62l-3 1 2 6 1-1zM150 276l5 5 3 0zM208 180l-7 1 0 3 6-1zM307 193l-6 2-3 3 1 1 5-1zM115 3l-2 0-5 6 0 4 6-6zM320 188l-7 3-2 2 2 0 6-3zM179 118l-5-1-8 5 0 3 3 0 9-4zM282 97l1 8 7 4-4-7-1-4zM75 213l-1-2-7 2-2 2 1 1zM191 10l-1 2 1 1 3 0zM83 324l5 7 6-1-9-7zM183 194l6-2 3-2 0-1-6 0zM97 150l2 3 5 1 1-5-5-1zM69 172l-3 6 3-3zM321 190l-8 4-2 0-4 3 9-2zM196 187l-6 1 4 1zM188 204l3 4 3 2 2 0-1-3-2 0zM148 273l2 2 9 3-2-3-2-1zM225 85l0 2 2 3 5 4-5-10zM255 198l-10 3 7-1zM112 179l-4 1-5 4 6-1 3-2zM213 143l-4 2-2 4 2 0 3-3zM281 221l-3 2-6 1 4 0 2 2zM165 58l-2 0-5 3-1 3 4-4zM15 143l-4 5-1 5 7-4 0-5zM202 192l3 3 5 0-2-2 0-2-2-3zM208 102l-2 0-4 5 5 2 4-4zM330 222l-8 7 3 0 3-2 2 0zM83 201l-1-2-8 5 2 1 2-2zM297 91l5 5 3 8 1 0 0-6-4-4zM150 6l-1 0-1 2-1 9-1 1-1-2-1 0-5 6 4 0 2-2 2 2 0 2 2-2 1-3zM109 157l-2-1-3 1-5 7 8-4zM191 110l-2 0-4 3-3 4 9-2zM168 167l-4 2 0 3 2 2 3-1 2-4zM72 165l-4 4-3 5 5-3zM190 129l-3 0-7 3-2 2 1 2 6-1zM311 192l-3 1-2 4 3-2zM4 148l-4 2 0 7 2-1 0-3 2-3zM14 142l-5 1-4 4 0 2 1-1 4 0 3-3zM302 314l-6 3 0 3 3 0 3-3zM176 114l-3 0-5 2-3 3 0 2 2 0 8-5zM232 300l-4 1-3 5 4 1 4-3zM45 28l0 5 3 0zM292 65l0 12 2 3 1-2 0-6zM93 142l-7 3-2 3 1 1 5-1 0-2zM164 57l-4 0-6 3-2 2 0 2zM256 199l-6 2 0 1zM283 220l-1 0-2 5-2 2 0 2 1 0 2-3zM10 149l-4 0-2 2-1 6 2 1 2-1zM275 70l-1 1 0 8 5 3-2-12zM143 191l-2 6 1 1 5 0 3-5-3-2z"/>
<path fill="#f0e020" stroke="#f0e020" d="M136 94l-2 1-4 6 5-3zM55 81l-1 1 1-1 1 0zM59 71l0 5 1 3 1 0 0-6zM193 185l-6 3 6-1zM325 328l-4 3 3 0zM42 168l-6 3-4 5 5-2zM257 159l-2 0-8 5 9-3zM206 256l8 0 2-3-8 0zM284 208l-2-1-3 2-4 5 4 0zM265 146l-3-3-3 0 0 2-3 5 2 1 7-4zM251 28l-2 1 1 11 3-9zM153 179l-9 1-3 2 0 1 8 1 4-3zM292 228l-3 1-1 2 3-1zM64 248l1 4 3 3 0-3zM278 184l-6 0-7 3zM256 23l0 5 1 2 2 1zM208 257l3 4 2 0 6-4zM273 69l-3 1 3 7 0-6 1-1zM159 234l4 6 6 0 6-2-2 0-11-5zM220 263l-4-3-4 2 1 2zM221 323l-1 7 3-2 2-3zM207 101l5 3 4-3 0-2-5 0zM166 224l-4 4 3 2zM186 265l2 1 2-1 9 0-3-1zM200 278l-7 3 0 1 3 0zM317 123l-6 1-1 3 6-2zM296 201l-4 2 2 0zM94 160l4-2 3 0 4-2 0-1-7-1zM213 50l-2 3 2 3 2-4zM195 274l10 0 7-2-8-1-5-2-4 2zM37 35l1 4 5 7 1-1-1-8zM196 249l7 1 6-3 0-1-12 0zM200 71l0 3 3 4 1-1-3-3zM73 171l-2 0-1 3zM149 103l-4 0-7 10 5-2zM39 132l-3 0 1 1 0 3zM105 102l-5 1-4 4zM250 15l-2 7 3 5 1 0zM221 192l0 2 14 1-13-2zM213 267l0-2-2-2-9 2 0 1 3 0 1 1zM224 158l-7 3-2 2 1-1 3 0 5-3zM227 265l-1-2-4 0-1 1-7 1 0 2 2 2 3 0zM41 242l2 8 1 0 0-5zM204 250l6 1 7-3 3 0-10-1zM105 190l-4 3 1 4 4-2zM124 203l0 1 3 2 7 0 2 1-4-6zM249 15l-3 1-3 7 5-3zM215 60l-1 1 0 3 3 2zM259 284l-1-1-3 1-5 5 6-3 2 0zM198 245l11 0 3-2-10-1zM217 260l4 3 1-1 3 0-2-5-3 0zM274 124l-5 1-2 3 6-2zM118 230l6-1-6 0zM86 158l-2 1-3 9 5-3zM196 263l4 2 3-1-4-2zM201 282l-5 1-7 6 10-3 3-2zM59 243l1 6 3-1zM172 217l0 5 5 1 1-5zM98 166l-2 1-3 6 1 1zM303 89l4 4 3 6 0 2 1-1-1-3zM21 283l1 1-1 3 1 2 4 3 1-8-1-3zM82 0l-3 0-1 1-1 7 1 0 1-3 3-3zM200 269l8 1 1 1 7-1-2-2-8 0-1-1-4 0zM112 0l-2 0 0 4-2 4 4-4zM85 319l7 6-4-6zM45 237l5 9-3-8zM183 263l9-2 6-3-9-1-2 1zM131 287l1 4 6 5-2-6-3-3zM270 45l-1 0 0 4 2-1zM84 158l-3 1-1 2 0 5-1 1 1 0 1-4zM189 270l6 0 3-1 3-3-11 0-2 1z"/>
<path fill="#f8b030" stroke="#f8b030" d="M258 19l-1 5 4 0 1-5zM193 254l14-2-7-2-4 0zM232 266l-5 0-5 3-8 2-3 3 0 2 9-3 12-6zM253 29l4 12 2-3 0-6zM198 277l-2-2-2 0-4 2-1 3 3 1 6-3zM206 257l-7 1-3 2 6 2zM207 253l-10 1-5 2 10 1 3-1zM218 279l-6 2-4 4 5-2zM197 262l-1-1-3 0-8 3zM215 256l8 0 1-2-7-1zM211 281l-6 2-6 4 1-1 7-1zM242 24l1 10 1 2 2-1 0-3zM207 257l-4 5 1 2 7-2zM202 241l14 1 3-2-15-1-2 1zM254 24l-2 4 4 1-1-1 0-4zM251 12l0 6 2 6 3-2 1-4-4-5zM210 276l0-2-13 1 2 2zM209 277l-8 1-4 4 5-1zM210 245l10 0-3-2-4 0z"/>
<path fill="#b0d040" stroke="#b0d040" d="M186 122l-6 1-1 3 6-1zM91 167l-1 0-3 5 2 0 2-2zM166 58l-7 5 7-3zM92 165l-1 1 1 2 1-1zM99 162l-1 1-2 0 2 0zM111 159l-1-1-8 6 1 1 6-3zM101 164l-2 1-3 7 1 0 5-6zM109 164l-1-1-5 3 5 0zM102 158l-6 2 0 2 4-1zM95 161l-3 1 0 2 3-1zM97 142l-3 0-3 4 0 3 1 1 3-2 4 0-2-3zM91 163l-5 3-2 6-3 3 7-5 3-5zM160 66l-2 2-1 0-2 2-1 0-1 1 1 0 2-2 1 0zM80 159l-4 9 3-2 0-5zM84 149l-3 9 2-2 0-2 2-3zM97 166l-3 1-4 5 2 1 3-6zM98 172l8 0 3-4-1-1-6 0zM95 156l-7 1-1 1 0 6 6-3z"/>
</g></svg>
<div style="position:absolute;left:336.1px;top:3px;width:3.5px;height:165.6px;background:linear-gradient(to bottom,#f2e83c 0%,#f6cc30 6%,#f7bd2c 15%,#f0b830 25%,#c0c040 30%,#70c070 35%,#38c090 40%,#20b8b8 47%,#20a0e0 57%,#2880f0 68%,#3560f0 80%,#4048e0 92%,#4838c8 100%)"></div>
<div style="position:absolute;left:336.1px;top:171.2px;width:3.5px;height:165.8px;background:linear-gradient(to bottom,#f2e83c 0%,#f6cc30 6%,#f7bd2c 15%,#f0b830 25%,#c0c040 30%,#70c070 35%,#38c090 40%,#20b8b8 47%,#20a0e0 57%,#2880f0 68%,#3560f0 80%,#4048e0 92%,#4838c8 100%)"></div>
<div style="position:absolute;left:341px;top:13.1px;width:1.2px;height:0.8px;background:#8a8a8a"></div>
<div style="position:absolute;left:341px;top:30.4px;width:1.2px;height:0.8px;background:#8a8a8a"></div>
<div style="position:absolute;left:341px;top:47.7px;width:1.2px;height:0.8px;background:#8a8a8a"></div>
<div style="position:absolute;left:341px;top:65px;width:1.2px;height:0.8px;background:#8a8a8a"></div>
<div style="position:absolute;left:341px;top:82.3px;width:1.2px;height:0.8px;background:#8a8a8a"></div>
<div style="position:absolute;left:341px;top:99.6px;width:1.2px;height:0.8px;background:#8a8a8a"></div>
<div style="position:absolute;left:341px;top:116.9px;width:1.2px;height:0.8px;background:#8a8a8a"></div>
<div style="position:absolute;left:341px;top:134.2px;width:1.2px;height:0.8px;background:#8a8a8a"></div>
<div style="position:absolute;left:341px;top:151.5px;width:1.2px;height:0.8px;background:#8a8a8a"></div>
<div style="position:absolute;left:341px;top:168.8px;width:1.2px;height:0.8px;background:#8a8a8a"></div>
<div style="position:absolute;left:341px;top:181.5px;width:1.2px;height:0.8px;background:#8a8a8a"></div>
<div style="position:absolute;left:341px;top:198.8px;width:1.2px;height:0.8px;background:#8a8a8a"></div>
<div style="position:absolute;left:341px;top:216.1px;width:1.2px;height:0.8px;background:#8a8a8a"></div>
<div style="position:absolute;left:341px;top:233.4px;width:1.2px;height:0.8px;background:#8a8a8a"></div>
<div style="position:absolute;left:341px;top:250.7px;width:1.2px;height:0.8px;background:#8a8a8a"></div>
<div style="position:absolute;left:341px;top:268px;width:1.2px;height:0.8px;background:#8a8a8a"></div>
<div style="position:absolute;left:341px;top:285.3px;width:1.2px;height:0.8px;background:#8a8a8a"></div>
<div style="position:absolute;left:341px;top:302.6px;width:1.2px;height:0.8px;background:#8a8a8a"></div>
<div style="position:absolute;left:341px;top:319.9px;width:1.2px;height:0.8px;background:#8a8a8a"></div>
<div style="position:absolute;left:341px;top:337.2px;width:1.2px;height:0.8px;background:#8a8a8a"></div>
<div class="lab" style="left:2px;top:3px;width:31.6px;height:27.5px"><span style="position:absolute;left:3.7px;top:4.7px;font-size:20.3px;letter-spacing:-0.4px">(a)</span></div>
<div class="lab" style="left:169px;top:3px;width:31.6px;height:27.3px"><span style="position:absolute;left:3.1px;top:4.7px;font-size:20.3px;letter-spacing:-0.4px">(b)</span></div>
<div class="lab" style="left:2px;top:170.3px;width:31.8px;height:28.2px"><span style="position:absolute;left:4.1px;top:4.5px;font-size:20.3px;letter-spacing:-0.4px">(d)</span></div>
<div class="lab" style="left:169px;top:170px;width:32px;height:28.4px"><span style="position:absolute;left:2.9px;top:4.7px;font-size:20.3px;letter-spacing:-0.4px">(e)</span></div>
<div class="lab" style="left:6.2px;top:151.5px;width:28px;height:13.8px"><span style="position:absolute;left:4.1px;top:1.9px;font-size:9.8px">5um</span><div style="position:absolute;left:4.2px;top:10.7px;width:18.4px;height:1.7px;background:#111"></div></div>
<div class="lab" style="left:252.7px;top:151.5px;width:27.7px;height:14.1px"><span style="position:absolute;left:4.1px;top:1.9px;font-size:9.8px">5um</span><div style="position:absolute;left:4.2px;top:10.7px;width:18.4px;height:1.7px;background:#111"></div></div>
<div class="lab" style="left:6.2px;top:319.8px;width:28px;height:13.8px"><span style="position:absolute;left:4.1px;top:1.9px;font-size:9.8px">5um</span><div style="position:absolute;left:4.2px;top:10.7px;width:18.4px;height:1.7px;background:#111"></div></div>
<div class="lab" style="left:252.7px;top:319.8px;width:28px;height:14.2px"><span style="position:absolute;left:4.1px;top:1.9px;font-size:9.8px">5um</span><div style="position:absolute;left:4.2px;top:10.7px;width:18.4px;height:1.7px;background:#111"></div></div>
<div style="position:absolute;left:105.5px;top:128.5px;width:140.5px;height:42px;background:#fff"></div>
<div style="position:absolute;left:109.3px;top:133.3px;width:39.9px;height:32.3px;background:radial-gradient(circle at 27.7px 21.7px, rgba(255,255,255,0.95) 0px, rgba(255,255,255,0.65) 6px, rgba(255,255,255,0) 15px), conic-gradient(from 18deg at 27.700000000000003px 21.69999999999999px, #ff00f0 0deg, #f80808 51deg, #fff000 116deg, #00e830 193deg, #00e8ff 229deg, #1838f0 279deg, #ff00f0 360deg);clip-path:polygon(0.0px 32.3px,33.6px 0.0px,34.6px 4.0px,35.6px 8.1px,36.4px 12.1px,37.2px 16.1px,37.8px 20.2px,38.3px 24.2px,38.7px 28.3px,38.9px 32.3px)"></div>
<div style="position:absolute;left:206px;top:133.8px;width:37px;height:31.8px;background:radial-gradient(circle at 28px 21.2px, rgba(255,255,255,0.95) 0px, rgba(255,255,255,0.65) 6px, rgba(255,255,255,0) 15px), conic-gradient(from 18deg at 28.0px 21.19999999999999px, #ff00f0 0deg, #f80808 51deg, #fff000 116deg, #00e830 193deg, #00e8ff 229deg, #1838f0 279deg, #ff00f0 360deg);clip-path:polygon(0.0px 31.8px,31.5px 0.0px,32.4px 4.0px,33.2px 7.9px,33.9px 11.9px,34.5px 15.9px,35.1px 19.9px,35.5px 23.8px,35.8px 27.8px,36.0px 31.8px)"></div>
<div style="position:absolute;left:158.6px;top:134.2px;width:37.4px;height:31.4px;background:radial-gradient(circle at 14.4px 20.8px, rgba(255,255,255,0.95) 0px, rgba(255,255,255,0.65) 7.2px, rgba(255,255,255,0) 18px), conic-gradient(from 0deg at 14.400000000000006px 20.80000000000001px, #ff1060 0deg, #ff1818 43deg, #ffff00 117deg, #10f020 160deg, #00f0f0 232deg, #1830ff 290deg, #ff10f0 326deg, #ff1060 360deg);clip-path:polygon(0.0px 31.4px,0.0px 0.0px,3.2px 0.1px,6.4px 0.5px,9.6px 1.1px,12.6px 1.9px,15.6px 2.9px,18.5px 4.2px,21.2px 5.7px,23.7px 7.3px,26.1px 9.2px,28.3px 11.2px,30.2px 13.4px,32.0px 15.7px,33.4px 18.1px,34.7px 20.7px,35.6px 23.3px,36.3px 25.9px,36.8px 28.7px,36.9px 31.4px)"></div>
<div style="position:absolute;left:154.6px;top:128.5px;width:0.5px;height:40px;background:#e4e4e4"></div>
<div style="position:absolute;left:201px;top:128.5px;width:0.5px;height:40px;background:#e4e4e4"></div>
<div style="font:3.6px 'Liberation Serif',serif;color:#333;position:absolute;white-space:nowrap;left:117px;top:143.5px">BCC</div>
<div style="font:3.6px 'Liberation Serif',serif;color:#333;position:absolute;white-space:nowrap;left:187.5px;top:141px">FeAl</div>
<div style="font:3.6px 'Liberation Serif',serif;color:#333;position:absolute;white-space:nowrap;left:208px;top:145px">FCC</div>
<div style="font:3.6px 'Liberation Serif',serif;color:#333;position:absolute;white-space:nowrap;left:140px;top:129.3px">[111]</div>
<div style="font:3.6px 'Liberation Serif',serif;color:#333;position:absolute;white-space:nowrap;left:105.8px;top:166.8px">[001]</div>
<div style="font:3.6px 'Liberation Serif',serif;color:#333;position:absolute;white-space:nowrap;left:145px;top:166.8px">[101]</div>
<div style="font:3.6px 'Liberation Serif',serif;color:#333;position:absolute;white-space:nowrap;left:149.5px;top:166.8px">[001]</div>
<div style="font:3.6px 'Liberation Serif',serif;color:#333;position:absolute;white-space:nowrap;left:156px;top:129.3px">[100]</div>
<div style="font:3.6px 'Liberation Serif',serif;color:#333;position:absolute;white-space:nowrap;left:190px;top:166.8px">[011]</div>
<div style="font:3.6px 'Liberation Serif',serif;color:#333;position:absolute;white-space:nowrap;left:195.5px;top:166.8px">[001]</div>
<div style="font:3.6px 'Liberation Serif',serif;color:#333;position:absolute;white-space:nowrap;left:234px;top:129.3px">[111]</div>
<div style="font:3.6px 'Liberation Serif',serif;color:#333;position:absolute;white-space:nowrap;left:238.5px;top:166.8px">[101]</div>
<div style="position:absolute;left:105.5px;top:296.3px;width:140.5px;height:42px;background:#fff"></div>
<div style="position:absolute;left:109.3px;top:301.1px;width:39.9px;height:32.3px;background:radial-gradient(circle at 27.7px 21.7px, rgba(255,255,255,0.95) 0px, rgba(255,255,255,0.65) 6px, rgba(255,255,255,0) 15px), conic-gradient(from 18deg at 27.700000000000003px 21.69999999999999px, #ff00f0 0deg, #f80808 51deg, #fff000 116deg, #00e830 193deg, #00e8ff 229deg, #1838f0 279deg, #ff00f0 360deg);clip-path:polygon(0.0px 32.3px,33.6px 0.0px,34.6px 4.0px,35.6px 8.1px,36.4px 12.1px,37.2px 16.1px,37.8px 20.2px,38.3px 24.2px,38.7px 28.3px,38.9px 32.3px)"></div>
<div style="position:absolute;left:206px;top:301.6px;width:37px;height:31.8px;background:radial-gradient(circle at 28px 21.2px, rgba(255,255,255,0.95) 0px, rgba(255,255,255,0.65) 6px, rgba(255,255,255,0) 15px), conic-gradient(from 18deg at 28.0px 21.19999999999999px, #ff00f0 0deg, #f80808 51deg, #fff000 116deg, #00e830 193deg, #00e8ff 229deg, #1838f0 279deg, #ff00f0 360deg);clip-path:polygon(0.0px 31.8px,31.5px 0.0px,32.4px 4.0px,33.2px 7.9px,33.9px 11.9px,34.5px 15.9px,35.1px 19.9px,35.5px 23.8px,35.8px 27.8px,36.0px 31.8px)"></div>
<div style="position:absolute;left:158.6px;top:302px;width:37.4px;height:31.4px;background:radial-gradient(circle at 14.4px 20.8px, rgba(255,255,255,0.95) 0px, rgba(255,255,255,0.65) 7.2px, rgba(255,255,255,0) 18px), conic-gradient(from 0deg at 14.400000000000006px 20.80000000000001px, #ff1060 0deg, #ff1818 43deg, #ffff00 117deg, #10f020 160deg, #00f0f0 232deg, #1830ff 290deg, #ff10f0 326deg, #ff1060 360deg);clip-path:polygon(0.0px 31.4px,0.0px 0.0px,3.2px 0.1px,6.4px 0.5px,9.6px 1.1px,12.6px 1.9px,15.6px 2.9px,18.5px 4.2px,21.2px 5.7px,23.7px 7.3px,26.1px 9.2px,28.3px 11.2px,30.2px 13.4px,32.0px 15.7px,33.4px 18.1px,34.7px 20.7px,35.6px 23.3px,36.3px 25.9px,36.8px 28.7px,36.9px 31.4px)"></div>
<div style="position:absolute;left:154.6px;top:296.3px;width:0.5px;height:40px;background:#e4e4e4"></div>
<div style="position:absolute;left:201px;top:296.3px;width:0.5px;height:40px;background:#e4e4e4"></div>
<div style="font:3.6px 'Liberation Serif',serif;color:#333;position:absolute;white-space:nowrap;left:117px;top:311.3px">BCC</div>
<div style="font:3.6px 'Liberation Serif',serif;color:#333;position:absolute;white-space:nowrap;left:187.5px;top:308.8px">FeAl</div>
<div style="font:3.6px 'Liberation Serif',serif;color:#333;position:absolute;white-space:nowrap;left:208px;top:312.8px">FCC</div>
<div style="font:3.6px 'Liberation Serif',serif;color:#333;position:absolute;white-space:nowrap;left:140px;top:297.1px">[111]</div>
<div style="font:3.6px 'Liberation Serif',serif;color:#333;position:absolute;white-space:nowrap;left:105.8px;top:334.6px">[001]</div>
<div style="font:3.6px 'Liberation Serif',serif;color:#333;position:absolute;white-space:nowrap;left:145px;top:334.6px">[101]</div>
<div style="font:3.6px 'Liberation Serif',serif;color:#333;position:absolute;white-space:nowrap;left:149.5px;top:334.6px">[001]</div>
<div style="font:3.6px 'Liberation Serif',serif;color:#333;position:absolute;white-space:nowrap;left:156px;top:297.1px">[100]</div>
<div style="font:3.6px 'Liberation Serif',serif;color:#333;position:absolute;white-space:nowrap;left:190px;top:334.6px">[011]</div>
<div style="font:3.6px 'Liberation Serif',serif;color:#333;position:absolute;white-space:nowrap;left:195.5px;top:334.6px">[001]</div>
<div style="font:3.6px 'Liberation Serif',serif;color:#333;position:absolute;white-space:nowrap;left:234px;top:297.1px">[111]</div>
<div style="font:3.6px 'Liberation Serif',serif;color:#333;position:absolute;white-space:nowrap;left:238.5px;top:334.6px">[101]</div>
<svg style="position:absolute;left:0;top:0" width="550" height="341" viewBox="0 0 550 341">
<defs><linearGradient id="bggc" x1="0" y1="8.8" x2="0" y2="149.8" gradientUnits="userSpaceOnUse"><stop offset="0" stop-color="#76d5fb"/><stop offset="0.36" stop-color="#a0ddf9"/><stop offset="0.65" stop-color="#bde8fb"/><stop offset="1" stop-color="#d6f1fb"/></linearGradient>
<linearGradient id="brgc" x1="0" y1="0" x2="0" y2="1"><stop offset="0" stop-color="#c4f6e2"/><stop offset="0.5" stop-color="#9cf0cf"/><stop offset="0.7" stop-color="#7cecbe"/><stop offset="0.8" stop-color="#40e8a0"/><stop offset="0.9" stop-color="#1ae888"/><stop offset="1" stop-color="#10e680"/></linearGradient></defs>
<rect x="366.5" y="8.8" width="175.7" height="141" fill="url(#bggc)"/>
<rect x="366.7" y="103" width="6.7" height="46.8" fill="url(#brgc)" stroke="#6ab890" stroke-width="0.6"/>
<rect x="373.4" y="79.6" width="6.7" height="70.2" fill="url(#brgc)" stroke="#6ab890" stroke-width="0.6"/>
<rect x="380.1" y="56.2" width="6.5" height="93.6" fill="url(#brgc)" stroke="#6ab890" stroke-width="0.6"/>
<rect x="386.6" y="56.2" width="7.1" height="93.6" fill="url(#brgc)" stroke="#6ab890" stroke-width="0.6"/>
<rect x="393.7" y="56.2" width="6.7" height="93.6" fill="url(#brgc)" stroke="#6ab890" stroke-width="0.6"/>
<rect x="400.4" y="44.5" width="6.5" height="105.3" fill="url(#brgc)" stroke="#6ab890" stroke-width="0.6"/>
<rect x="406.9" y="56.2" width="6.7" height="93.6" fill="url(#brgc)" stroke="#6ab890" stroke-width="0.6"/>
<rect x="413.6" y="79.6" width="7" height="70.2" fill="url(#brgc)" stroke="#6ab890" stroke-width="0.6"/>
<rect x="420.6" y="79.6" width="7" height="70.2" fill="url(#brgc)" stroke="#6ab890" stroke-width="0.6"/>
<rect x="427.6" y="91.3" width="6.4" height="58.5" fill="url(#brgc)" stroke="#6ab890" stroke-width="0.6"/>
<rect x="434" y="91.3" width="6.5" height="58.5" fill="url(#brgc)" stroke="#6ab890" stroke-width="0.6"/>
<rect x="440.5" y="79.6" width="7" height="70.2" fill="url(#brgc)" stroke="#6ab890" stroke-width="0.6"/>
<rect x="447.5" y="103" width="7" height="46.8" fill="url(#brgc)" stroke="#6ab890" stroke-width="0.6"/>
<rect x="454.5" y="103" width="6.7" height="46.8" fill="url(#brgc)" stroke="#6ab890" stroke-width="0.6"/>
<rect x="461.2" y="126.4" width="7" height="23.4" fill="url(#brgc)" stroke="#6ab890" stroke-width="0.6"/>
<rect x="468.2" y="114.7" width="6.4" height="35.1" fill="url(#brgc)" stroke="#6ab890" stroke-width="0.6"/>
<rect x="474.6" y="138.1" width="6.8" height="11.7" fill="url(#brgc)" stroke="#6ab890" stroke-width="0.6"/>
<rect x="481.4" y="138.1" width="6.6" height="11.7" fill="url(#brgc)" stroke="#6ab890" stroke-width="0.6"/>
<rect x="488" y="126.4" width="6.6" height="23.4" fill="url(#brgc)" stroke="#6ab890" stroke-width="0.6"/>
<rect x="494.6" y="126.4" width="6.8" height="23.4" fill="url(#brgc)" stroke="#6ab890" stroke-width="0.6"/>
<rect x="501.4" y="138.1" width="6.6" height="11.7" fill="#e6f8f4" fill-opacity="0.55" stroke="#cfe8e0" stroke-width="0.4"/>
<rect x="508" y="138.1" width="7.8" height="11.7" fill="url(#brgc)" stroke="#6ab890" stroke-width="0.6"/>
<rect x="515.8" y="138.1" width="6.4" height="11.7" fill="#e6f8f4" fill-opacity="0.55" stroke="#cfe8e0" stroke-width="0.4"/>
<rect x="522.2" y="138.1" width="6.4" height="11.7" fill="#e6f8f4" fill-opacity="0.55" stroke="#cfe8e0" stroke-width="0.4"/>
<rect x="528.6" y="138.1" width="6.6" height="11.7" fill="#e6f8f4" fill-opacity="0.55" stroke="#cfe8e0" stroke-width="0.4"/>
<rect x="535.2" y="138.1" width="6.3" height="11.7" fill="url(#brgc)" stroke="#6ab890" stroke-width="0.6"/>
<path d="M369.4 84.84L370.9 82.87 372.4 80.94 373.9 79.03 375.4 77.18 376.9 75.37 378.4 73.61 379.9 71.92 381.4 70.30 382.9 68.76 384.4 67.29 385.9 65.92 387.4 64.63 388.9 63.45 390.4 62.37 391.9 61.40 393.4 60.54 394.9 59.80 396.4 59.18 397.9 58.68 399.4 58.30 400.9 58.05 402.4 57.93 403.9 57.94 405.4 58.07 406.9 58.34 408.4 58.72 409.9 59.24 411.4 59.87 412.9 60.63 414.4 61.50 415.9 62.48 417.4 63.57 418.9 64.77 420.4 66.06 421.9 67.44 423.4 68.92 424.9 70.47 426.4 72.10 427.9 73.80 429.4 75.56 430.9 77.37 432.4 79.24 433.9 81.14 435.4 83.08 436.9 85.05 438.4 87.04 439.9 89.04 441.4 91.06 442.9 93.07 444.4 95.08 445.9 97.09 447.4 99.07 448.9 101.04 450.4 102.98 451.9 104.90 453.4 106.78 454.9 108.62 456.4 110.42 457.9 112.18 459.4 113.89 460.9 115.56 462.4 117.17 463.9 118.73 465.4 120.23 466.9 121.68 468.4 123.07 469.9 124.41 471.4 125.68 472.9 126.91 474.4 128.07 475.9 129.18 477.4 130.23 478.9 131.23 480.4 132.17 481.9 133.06 483.4 133.90 484.9 134.69 486.4 135.43 487.9 136.13 489.4 136.78 490.9 137.39 492.4 137.96 493.9 138.49 495.4 138.98 496.9 139.43 498.4 139.85 499.9 140.24 501.4 140.60 502.9 140.94 504.4 141.24 505.9 141.52 507.4 141.78 508.9 142.01 510.4 142.22 511.9 142.42 513.4 142.60 514.9 142.76 516.4 142.91 517.9 143.04 519.4 143.16 520.9 143.27 522.4 143.36 523.9 143.45 525.4 143.53 526.9 143.60 528.4 143.67 529.9 143.72 531.4 143.77 532.9 143.82 534.4 143.86 535.9 143.89 537.4 143.93" fill="none" stroke="#f41c1c" stroke-width="1.5" stroke-linejoin="round"/>
<rect x="366.5" y="8.8" width="175.7" height="141" fill="none" stroke="#262626" stroke-width="1.3"/>
<line x1="366.5" x2="368.7" y1="126.4" y2="126.4" stroke="#262626" stroke-width="0.9"/>
<line x1="366.5" x2="368.7" y1="103" y2="103" stroke="#262626" stroke-width="0.9"/>
<line x1="366.5" x2="368.7" y1="79.6" y2="79.6" stroke="#262626" stroke-width="0.9"/>
<line x1="366.5" x2="368.7" y1="56.2" y2="56.2" stroke="#262626" stroke-width="0.9"/>
<line x1="366.5" x2="368.7" y1="32.8" y2="32.8" stroke="#262626" stroke-width="0.9"/>
<line x1="366.5" x2="368.7" y1="9.4" y2="9.4" stroke="#262626" stroke-width="0.9"/>
<line x1="366.5" x2="367.7" y1="138.1" y2="138.1" stroke="#262626" stroke-width="0.6"/>
<line x1="366.5" x2="367.7" y1="114.7" y2="114.7" stroke="#262626" stroke-width="0.6"/>
<line x1="366.5" x2="367.7" y1="91.3" y2="91.3" stroke="#262626" stroke-width="0.6"/>
<line x1="366.5" x2="367.7" y1="67.9" y2="67.9" stroke="#262626" stroke-width="0.6"/>
<line x1="366.5" x2="367.7" y1="44.5" y2="44.5" stroke="#262626" stroke-width="0.6"/>
<line x1="366.5" x2="367.7" y1="21.1" y2="21.1" stroke="#262626" stroke-width="0.6"/>
<line x1="386.8" x2="386.8" y1="149.8" y2="147.6" stroke="#262626" stroke-width="0.9"/>
<line x1="414.8" x2="414.8" y1="149.8" y2="147.6" stroke="#262626" stroke-width="0.9"/>
<line x1="442.8" x2="442.8" y1="149.8" y2="147.6" stroke="#262626" stroke-width="0.9"/>
<line x1="470.8" x2="470.8" y1="149.8" y2="147.6" stroke="#262626" stroke-width="0.9"/>
<line x1="499" x2="499" y1="149.8" y2="147.6" stroke="#262626" stroke-width="0.9"/>
<line x1="526.8" x2="526.8" y1="149.8" y2="147.6" stroke="#262626" stroke-width="0.9"/>
</svg>
<div style="position:absolute;font-family:'Liberation Serif',serif;font-weight:bold;color:#141414;white-space:nowrap;line-height:1;-webkit-text-stroke:0.25px #141414;font-size:8.6px;right:185.4px;top:122.2px">2</div>
<div style="position:absolute;font-family:'Liberation Serif',serif;font-weight:bold;color:#141414;white-space:nowrap;line-height:1;-webkit-text-stroke:0.25px #141414;font-size:8.6px;right:185.4px;top:98.8px">4</div>
<div style="position:absolute;font-family:'Liberation Serif',serif;font-weight:bold;color:#141414;white-space:nowrap;line-height:1;-webkit-text-stroke:0.25px #141414;font-size:8.6px;right:185.4px;top:75.4px">6</div>
<div style="position:absolute;font-family:'Liberation Serif',serif;font-weight:bold;color:#141414;white-space:nowrap;line-height:1;-webkit-text-stroke:0.25px #141414;font-size:8.6px;right:185.4px;top:52px">8</div>
<div style="position:absolute;font-family:'Liberation Serif',serif;font-weight:bold;color:#141414;white-space:nowrap;line-height:1;-webkit-text-stroke:0.25px #141414;font-size:8.6px;right:185.4px;top:28.6px">10</div>
<div style="position:absolute;font-family:'Liberation Serif',serif;font-weight:bold;color:#141414;white-space:nowrap;line-height:1;-webkit-text-stroke:0.25px #141414;font-size:8.6px;right:185.4px;top:5.2px">12</div>
<div style="position:absolute;font-family:'Liberation Serif',serif;font-weight:bold;color:#141414;white-space:nowrap;line-height:1;-webkit-text-stroke:0.25px #141414;font-size:8.6px;left:376.8px;top:152.3px;width:20px;text-align:center">0.5</div>
<div style="position:absolute;font-family:'Liberation Serif',serif;font-weight:bold;color:#141414;white-space:nowrap;line-height:1;-webkit-text-stroke:0.25px #141414;font-size:8.6px;left:404.8px;top:152.3px;width:20px;text-align:center">1</div>
<div style="position:absolute;font-family:'Liberation Serif',serif;font-weight:bold;color:#141414;white-space:nowrap;line-height:1;-webkit-text-stroke:0.25px #141414;font-size:8.6px;left:432.8px;top:152.3px;width:20px;text-align:center">1.5</div>
<div style="position:absolute;font-family:'Liberation Serif',serif;font-weight:bold;color:#141414;white-space:nowrap;line-height:1;-webkit-text-stroke:0.25px #141414;font-size:8.6px;left:460.8px;top:152.3px;width:20px;text-align:center">2</div>
<div style="position:absolute;font-family:'Liberation Serif',serif;font-weight:bold;color:#141414;white-space:nowrap;line-height:1;-webkit-text-stroke:0.25px #141414;font-size:8.6px;left:489px;top:152.3px;width:20px;text-align:center">2.5</div>
<div style="position:absolute;font-family:'Liberation Serif',serif;font-weight:bold;color:#141414;white-space:nowrap;line-height:1;-webkit-text-stroke:0.25px #141414;font-size:8.6px;left:516.8px;top:152.3px;width:20px;text-align:center">3</div>
<div style="position:absolute;font-family:'Liberation Serif',serif;font-weight:bold;color:#141414;white-space:nowrap;line-height:1;-webkit-text-stroke:0.25px #141414;font-size:10.6px;left:382.3px;top:159.3px">Equivalent grain diameter (um)</div>
<div style="position:absolute;font-family:'Liberation Serif',serif;font-weight:bold;color:#141414;white-space:nowrap;line-height:1;-webkit-text-stroke:0.25px #141414;font-size:11.2px;left:345.8px;top:120.8px;transform-origin:0 0;transform:rotate(-90deg)">Area fraction (%)</div>
<div style="position:absolute;font-family:'Liberation Serif',serif;font-weight:bold;color:#141414;white-space:nowrap;line-height:1;-webkit-text-stroke:0.25px #141414;font-size:10.8px;left:451.6px;top:31.2px">GCr15</div>
<div style="position:absolute;font-family:'Liberation Serif',serif;font-weight:bold;color:#141414;white-space:nowrap;line-height:1;-webkit-text-stroke:0.25px #141414;font-size:8.1px;left:452.2px;top:48.5px">Mean<span style="margin-left:-2px;margin-right:2.4px">：</span>0.65 um</div>
<div style="position:absolute;font-family:'Liberation Serif',serif;font-weight:bold;color:#141414;white-space:nowrap;line-height:1;-webkit-text-stroke:0.25px #141414;font-size:21px;left:511.5px;top:15.2px">(c)</div>
<svg style="position:absolute;left:0;top:0" width="550" height="341" viewBox="0 0 550 341">
<defs><linearGradient id="bggf" x1="0" y1="176.2" x2="0" y2="317.2" gradientUnits="userSpaceOnUse"><stop offset="0" stop-color="#76d5fb"/><stop offset="0.36" stop-color="#a0ddf9"/><stop offset="0.65" stop-color="#bde8fb"/><stop offset="1" stop-color="#d6f1fb"/></linearGradient>
<linearGradient id="brgf" x1="0" y1="0" x2="0" y2="1"><stop offset="0" stop-color="#c4f6e2"/><stop offset="0.5" stop-color="#9cf0cf"/><stop offset="0.7" stop-color="#7cecbe"/><stop offset="0.8" stop-color="#40e8a0"/><stop offset="0.9" stop-color="#1ae888"/><stop offset="1" stop-color="#10e680"/></linearGradient></defs>
<rect x="366.5" y="176.2" width="175.7" height="141" fill="url(#bggf)"/>
<rect x="366.7" y="211.9" width="7.1" height="105.3" fill="url(#brgf)" stroke="#6ab890" stroke-width="0.6"/>
<rect x="373.8" y="188.5" width="7.2" height="128.7" fill="url(#brgf)" stroke="#6ab890" stroke-width="0.6"/>
<rect x="381" y="188.5" width="6.5" height="128.7" fill="url(#brgf)" stroke="#6ab890" stroke-width="0.6"/>
<rect x="387.5" y="188.5" width="6.1" height="128.7" fill="url(#brgf)" stroke="#6ab890" stroke-width="0.6"/>
<rect x="393.6" y="211.9" width="6.9" height="105.3" fill="url(#brgf)" stroke="#6ab890" stroke-width="0.6"/>
<rect x="400.5" y="223.6" width="6.5" height="93.6" fill="url(#brgf)" stroke="#6ab890" stroke-width="0.6"/>
<rect x="407" y="235.3" width="6.9" height="81.9" fill="url(#brgf)" stroke="#6ab890" stroke-width="0.6"/>
<rect x="413.9" y="247" width="6.7" height="70.2" fill="url(#brgf)" stroke="#6ab890" stroke-width="0.6"/>
<rect x="420.6" y="258.7" width="6.7" height="58.5" fill="url(#brgf)" stroke="#6ab890" stroke-width="0.6"/>
<rect x="427.3" y="270.4" width="6.7" height="46.8" fill="url(#brgf)" stroke="#6ab890" stroke-width="0.6"/>
<rect x="434" y="282.1" width="6.6" height="35.1" fill="url(#brgf)" stroke="#6ab890" stroke-width="0.6"/>
<rect x="440.6" y="282.1" width="6.9" height="35.1" fill="url(#brgf)" stroke="#6ab890" stroke-width="0.6"/>
<rect x="447.5" y="293.8" width="7.1" height="23.4" fill="url(#brgf)" stroke="#6ab890" stroke-width="0.6"/>
<rect x="454.6" y="293.8" width="6.8" height="23.4" fill="url(#brgf)" stroke="#6ab890" stroke-width="0.6"/>
<rect x="461.4" y="293.8" width="6.8" height="23.4" fill="url(#brgf)" stroke="#6ab890" stroke-width="0.6"/>
<rect x="468.2" y="293.8" width="6.5" height="23.4" fill="url(#brgf)" stroke="#6ab890" stroke-width="0.6"/>
<rect x="474.7" y="306.67" width="6.8" height="10.53" fill="url(#brgf)" stroke="#6ab890" stroke-width="0.6"/>
<rect x="481.5" y="306.67" width="6.9" height="10.53" fill="url(#brgf)" stroke="#6ab890" stroke-width="0.6"/>
<rect x="488.4" y="306.67" width="6.6" height="10.53" fill="url(#brgf)" stroke="#6ab890" stroke-width="0.6"/>
<rect x="495" y="306.67" width="6.8" height="10.53" fill="url(#brgf)" stroke="#6ab890" stroke-width="0.6"/>
<rect x="501.8" y="306.67" width="6.8" height="10.53" fill="url(#brgf)" stroke="#6ab890" stroke-width="0.6"/>
<rect x="508.6" y="306.67" width="6.8" height="10.53" fill="url(#brgf)" stroke="#6ab890" stroke-width="0.6"/>
<rect x="515.4" y="306.67" width="6.9" height="10.53" fill="url(#brgf)" stroke="#6ab890" stroke-width="0.6"/>
<rect x="522.3" y="305.5" width="6.5" height="11.7" fill="#e6f8f4" fill-opacity="0.55" stroke="#cfe8e0" stroke-width="0.4"/>
<rect x="528.8" y="305.5" width="6.6" height="11.7" fill="#e6f8f4" fill-opacity="0.55" stroke="#cfe8e0" stroke-width="0.4"/>
<rect x="535.4" y="305.5" width="6.1" height="11.7" fill="url(#brgf)" stroke="#6ab890" stroke-width="0.6"/>
<path d="M369.4 199.42L370.9 197.76 372.4 196.31 373.9 195.07 375.4 194.05 376.9 193.27 378.4 192.71 379.9 192.40 381.4 192.32 382.9 192.48 384.4 192.88 385.9 193.51 387.4 194.38 388.9 195.47 390.4 196.79 391.9 198.31 393.4 200.04 394.9 201.96 396.4 204.06 397.9 206.32 399.4 208.74 400.9 211.31 402.4 213.99 403.9 216.79 405.4 219.69 406.9 222.67 408.4 225.71 409.9 228.80 411.4 231.93 412.9 235.09 414.4 238.25 415.9 241.40 417.4 244.54 418.9 247.65 420.4 250.71 421.9 253.73 423.4 256.68 424.9 259.56 426.4 262.37 427.9 265.09 429.4 267.72 430.9 270.25 432.4 272.69 433.9 275.02 435.4 277.25 436.9 279.37 438.4 281.39 439.9 283.30 441.4 285.10 442.9 286.80 444.4 288.40 445.9 289.89 447.4 291.29 448.9 292.59 450.4 293.80 451.9 294.92 453.4 295.95 454.9 296.91 456.4 297.79 457.9 298.59 459.4 299.33 460.9 300.01 462.4 300.62 463.9 301.18 465.4 301.68 466.9 302.14 468.4 302.55 469.9 302.92 471.4 303.26 472.9 303.55 474.4 303.82 475.9 304.06 477.4 304.27 478.9 304.46 480.4 304.62 481.9 304.77 483.4 304.90 484.9 305.01 486.4 305.11 487.9 305.20 489.4 305.27 490.9 305.34 492.4 305.39 493.9 305.44 495.4 305.49 496.9 305.52 498.4 305.56 499.9 305.58 501.4 305.61 502.9 305.63 504.4 305.64 505.9 305.66 507.4 305.67 508.9 305.68 510.4 305.69 511.9 305.70 513.4 305.70 514.9 305.71 516.4 305.71 517.9 305.72 519.4 305.72 520.9 305.72 522.4 305.72 523.9 305.73 525.4 305.73 526.9 305.73 528.4 305.73 529.9 305.73 531.4 305.73 532.9 305.73 534.4 305.73 535.9 305.73 537.4 305.73" fill="none" stroke="#f41c1c" stroke-width="1.5" stroke-linejoin="round"/>
<rect x="366.5" y="176.2" width="175.7" height="141" fill="none" stroke="#262626" stroke-width="1.3"/>
<line x1="366.5" x2="368.7" y1="293.8" y2="293.8" stroke="#262626" stroke-width="0.9"/>
<line x1="366.5" x2="368.7" y1="270.4" y2="270.4" stroke="#262626" stroke-width="0.9"/>
<line x1="366.5" x2="368.7" y1="247" y2="247" stroke="#262626" stroke-width="0.9"/>
<line x1="366.5" x2="368.7" y1="223.6" y2="223.6" stroke="#262626" stroke-width="0.9"/>
<line x1="366.5" x2="368.7" y1="200.2" y2="200.2" stroke="#262626" stroke-width="0.9"/>
<line x1="366.5" x2="368.7" y1="176.8" y2="176.8" stroke="#262626" stroke-width="0.9"/>
<line x1="366.5" x2="367.7" y1="305.5" y2="305.5" stroke="#262626" stroke-width="0.6"/>
<line x1="366.5" x2="367.7" y1="282.1" y2="282.1" stroke="#262626" stroke-width="0.6"/>
<line x1="366.5" x2="367.7" y1="258.7" y2="258.7" stroke="#262626" stroke-width="0.6"/>
<line x1="366.5" x2="367.7" y1="235.3" y2="235.3" stroke="#262626" stroke-width="0.6"/>
<line x1="366.5" x2="367.7" y1="211.9" y2="211.9" stroke="#262626" stroke-width="0.6"/>
<line x1="366.5" x2="367.7" y1="188.5" y2="188.5" stroke="#262626" stroke-width="0.6"/>
<line x1="382.6" x2="382.6" y1="317.2" y2="315" stroke="#262626" stroke-width="0.9"/>
<line x1="410.7" x2="410.7" y1="317.2" y2="315" stroke="#262626" stroke-width="0.9"/>
<line x1="437.7" x2="437.7" y1="317.2" y2="315" stroke="#262626" stroke-width="0.9"/>
<line x1="464.6" x2="464.6" y1="317.2" y2="315" stroke="#262626" stroke-width="0.9"/>
<line x1="492" x2="492" y1="317.2" y2="315" stroke="#262626" stroke-width="0.9"/>
<line x1="518.5" x2="518.5" y1="317.2" y2="315" stroke="#262626" stroke-width="0.9"/>
<line x1="542" x2="542" y1="317.2" y2="315" stroke="#262626" stroke-width="0.9"/>
</svg>
<div style="position:absolute;font-family:'Liberation Serif',serif;font-weight:bold;color:#141414;white-space:nowrap;line-height:1;-webkit-text-stroke:0.25px #141414;font-size:8.6px;right:185.4px;top:289.6px">2</div>
<div style="position:absolute;font-family:'Liberation Serif',serif;font-weight:bold;color:#141414;white-space:nowrap;line-height:1;-webkit-text-stroke:0.25px #141414;font-size:8.6px;right:185.4px;top:266.2px">4</div>
<div style="position:absolute;font-family:'Liberation Serif',serif;font-weight:bold;color:#141414;white-space:nowrap;line-height:1;-webkit-text-stroke:0.25px #141414;font-size:8.6px;right:185.4px;top:242.8px">6</div>
<div style="position:absolute;font-family:'Liberation Serif',serif;font-weight:bold;color:#141414;white-space:nowrap;line-height:1;-webkit-text-stroke:0.25px #141414;font-size:8.6px;right:185.4px;top:219.4px">8</div>
<div style="position:absolute;font-family:'Liberation Serif',serif;font-weight:bold;color:#141414;white-space:nowrap;line-height:1;-webkit-text-stroke:0.25px #141414;font-size:8.6px;right:185.4px;top:196px">10</div>
<div style="position:absolute;font-family:'Liberation Serif',serif;font-weight:bold;color:#141414;white-space:nowrap;line-height:1;-webkit-text-stroke:0.25px #141414;font-size:8.6px;right:185.4px;top:172.6px">12</div>
<div style="position:absolute;font-family:'Liberation Serif',serif;font-weight:bold;color:#141414;white-space:nowrap;line-height:1;-webkit-text-stroke:0.25px #141414;font-size:8.6px;left:372.6px;top:319.7px;width:20px;text-align:center">0.5</div>
<div style="position:absolute;font-family:'Liberation Serif',serif;font-weight:bold;color:#141414;white-space:nowrap;line-height:1;-webkit-text-stroke:0.25px #141414;font-size:8.6px;left:400.7px;top:319.7px;width:20px;text-align:center">1</div>
<div style="position:absolute;font-family:'Liberation Serif',serif;font-weight:bold;color:#141414;white-space:nowrap;line-height:1;-webkit-text-stroke:0.25px #141414;font-size:8.6px;left:427.7px;top:319.7px;width:20px;text-align:center">1.5</div>
<div style="position:absolute;font-family:'Liberation Serif',serif;font-weight:bold;color:#141414;white-space:nowrap;line-height:1;-webkit-text-stroke:0.25px #141414;font-size:8.6px;left:454.6px;top:319.7px;width:20px;text-align:center">2</div>
<div style="position:absolute;font-family:'Liberation Serif',serif;font-weight:bold;color:#141414;white-space:nowrap;line-height:1;-webkit-text-stroke:0.25px #141414;font-size:8.6px;left:482px;top:319.7px;width:20px;text-align:center">2.5</div>
<div style="position:absolute;font-family:'Liberation Serif',serif;font-weight:bold;color:#141414;white-space:nowrap;line-height:1;-webkit-text-stroke:0.25px #141414;font-size:8.6px;left:508.5px;top:319.7px;width:20px;text-align:center">3</div>
<div style="position:absolute;font-family:'Liberation Serif',serif;font-weight:bold;color:#141414;white-space:nowrap;line-height:1;-webkit-text-stroke:0.25px #141414;font-size:8.6px;left:532px;top:319.7px;width:20px;text-align:center">3.5</div>
<div style="position:absolute;font-family:'Liberation Serif',serif;font-weight:bold;color:#141414;white-space:nowrap;line-height:1;-webkit-text-stroke:0.25px #141414;font-size:10.6px;left:382.3px;top:326.7px">Equivalent grain diameter (um)</div>
<div style="position:absolute;font-family:'Liberation Serif',serif;font-weight:bold;color:#141414;white-space:nowrap;line-height:1;-webkit-text-stroke:0.25px #141414;font-size:11.2px;left:345.8px;top:288.2px;transform-origin:0 0;transform:rotate(-90deg)">Area fraction (%)</div>
<div style="position:absolute;font-family:'Liberation Serif',serif;font-weight:bold;color:#141414;white-space:nowrap;line-height:1;-webkit-text-stroke:0.25px #141414;font-size:10.8px;left:445.4px;top:197.8px">RE-GCr15</div>
<div style="position:absolute;font-family:'Liberation Serif',serif;font-weight:bold;color:#141414;white-space:nowrap;line-height:1;-webkit-text-stroke:0.25px #141414;font-size:8.1px;left:446px;top:215.1px">Mean<span style="margin-left:-2px;margin-right:2.4px">：</span>0.43 um</div>
<div style="position:absolute;font-family:'Liberation Serif',serif;font-weight:bold;color:#141414;white-space:nowrap;line-height:1;-webkit-text-stroke:0.25px #141414;font-size:21px;left:513.5px;top:183.7px">(f)</div>
</body></html>
